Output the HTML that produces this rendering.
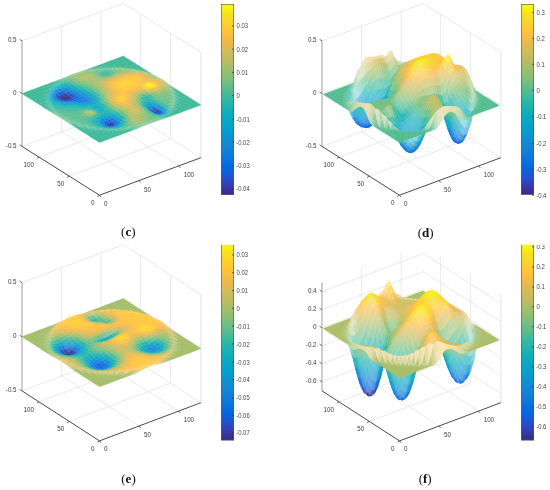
<!DOCTYPE html><html><head><meta charset="utf-8"><title>Figure</title><style>html,body{margin:0;padding:0;background:#fff}svg{display:block}text{font-family:"Liberation Sans",sans-serif}.cap{font-family:"Liberation Serif",serif;font-size:13px;fill:#111}.cap tspan{font-weight:bold}</style></head><body>
<svg width="550" height="490" viewBox="0 0 550 490">
<defs><filter id="bl" x="-5%" y="-5%" width="110%" height="110%"><feGaussianBlur stdDeviation=".55"/></filter><clipPath id="row2"><rect x="0" y="243.6" width="550" height="247"/></clipPath><clipPath id="row2b"><rect x="0" y="244.7" width="550" height="246"/></clipPath></defs>
<g fill="none"><path d="M200.9 157.7L200.9 52.2" stroke="#e4e4e4" stroke-width="1"/><path d="M139.1 180.6L61.6 131.8" stroke="#e4e4e4" stroke-width="0.8"/><path d="M61.6 131.8L61.6 26.3" stroke="#e4e4e4" stroke-width="0.8"/><path d="M69.2 176.1L170.6 138.6" stroke="#e4e4e4" stroke-width="0.8"/><path d="M170.6 138.6L170.6 33.1" stroke="#e4e4e4" stroke-width="0.8"/><path d="M178.7 165.9L101.2 117.1" stroke="#e4e4e4" stroke-width="0.8"/><path d="M101.2 117.1L101.2 11.6" stroke="#e4e4e4" stroke-width="0.8"/><path d="M39.0 157.1L140.4 119.6" stroke="#e4e4e4" stroke-width="0.8"/><path d="M140.4 119.6L140.4 14.1" stroke="#e4e4e4" stroke-width="0.8"/><path d="M22.0 146.4L123.4 108.9" stroke="#e4e4e4" stroke-width="0.8"/><path d="M123.4 108.9L200.9 157.7" stroke="#e4e4e4" stroke-width="0.8"/><path d="M22.0 93.6L123.4 56.1" stroke="#e4e4e4" stroke-width="0.8"/><path d="M123.4 56.1L200.9 104.9" stroke="#e4e4e4" stroke-width="0.8"/><path d="M22.0 40.9L123.4 3.4" stroke="#e4e4e4" stroke-width="0.8"/><path d="M123.4 3.4L200.9 52.2" stroke="#e4e4e4" stroke-width="0.8"/><path d="M22.0 40.6L22.0 146.8" stroke="#b4b4b4" stroke-width="1.3"/><path d="M22.0 146.4L99.5 195.2" stroke="#4a4a4a" stroke-width="1"/><path d="M99.5 195.2L200.9 157.7" stroke="#4a4a4a" stroke-width="1"/><path d="M99.5 195.2L101.1 197.2" stroke="#4a4a4a" stroke-width="0.8"/><path d="M99.5 195.2L97.3 196.6" stroke="#4a4a4a" stroke-width="0.8"/><path d="M139.1 180.6L140.7 182.6" stroke="#4a4a4a" stroke-width="0.8"/><path d="M69.2 176.1L67.0 177.5" stroke="#4a4a4a" stroke-width="0.8"/><path d="M178.7 165.9L180.3 167.9" stroke="#4a4a4a" stroke-width="0.8"/><path d="M39.0 157.1L36.8 158.5" stroke="#4a4a4a" stroke-width="0.8"/><path d="M22.0 146.4L19.6 144.8" stroke="#4a4a4a" stroke-width="0.8"/><path d="M22.0 93.6L19.6 92.0" stroke="#4a4a4a" stroke-width="0.8"/><path d="M22.0 40.9L19.6 39.3" stroke="#4a4a4a" stroke-width="0.8"/></g><g fill="currentColor" stroke="currentColor" stroke-width=".4" stroke-linejoin="round" filter="url(#bl)"><path color="#40ba99" d="M122.7 58.8l3.1-1.1l-2.4-1.6l-3.2 1.2zM119.5 60l3.2-1.2l-2.5-1.5l-3.1 1.2zM116.3 61.2l3.2-1.2l-2.4-1.5l-3.2 1.2zM113.1 62.4l3.2-1.2l-2.4-1.5l-3.2 1.1zM110 63.5l3.1-1.1l-2.4-1.6l-3.1 1.2zM106.8 64.7l3.2-1.2l-2.4-1.5l-3.2 1.2zM103.6 65.9l3.2-1.2l-2.4-1.5l-3.2 1.2zM100.5 67l3.1-1.1l-2.4-1.5l-3.1 1.1z"/><path color="#41bb99" d="M97.3 68.2l3.2-1.2l-2.4-1.5l-3.2 1.2z"/><path color="#46bc9b" d="M94.1 69.2l3.2-1l-2.4-1.5l-3.2 1.2z"/><path color="#58c19d" d="M91 70l3.1-0.8l-2.4-1.3l-3.2 1.1z"/><path color="#73c79e" d="M87.8 71l3.2-1l-2.5-1l-3.1 1.2z"/><path color="#8bcc9c" d="M84.6 72l3.2-1l-2.4-0.8l-3.2 1z"/><path color="#9bcd98" d="M81.5 73.1l3.1-1.1l-2.4-0.8l-3.2 1z"/><path color="#a3cd93" d="M78.3 74.2l3.2-1.1l-2.5-0.9l-3.1 1z"/><path color="#a4cc91" d="M75.1 75.4l3.2-1.2l-2.4-1l-3.2 1.1z"/><path color="#9fcc93" d="M72 76.7l3.1-1.3l-2.4-1.1l-3.2 1.3z"/><path color="#95cd99" d="M68.8 78.1l3.2-1.4l-2.5-1.1l-3.1 1.4z"/><path color="#87cca0" d="M65.6 79.6l3.2-1.5l-2.4-1.1l-3.2 1.3z"/><path color="#75caa7" d="M62.4 81l3.2-1.4l-2.4-1.3l-3.2 1.3z"/><path color="#61c6a7" d="M59.3 82.4l3.1-1.4l-2.4-1.4l-3.1 1.2z"/><path color="#4fc0a2" d="M56.1 83.6l3.2-1.2l-2.4-1.6l-3.2 1.1z"/><path color="#45bc9b" d="M52.9 84.6l3.2-1l-2.4-1.7l-3.2 1.2z"/><path color="#41bb99" d="M49.8 85.8l3.1-1.2l-2.4-1.5l-3.2 1.2z"/><path color="#40ba99" d="M46.6 87l3.2-1.2l-2.5-1.5l-3.1 1.1zM43.4 88.1l3.2-1.1l-2.4-1.6l-3.2 1.2zM40.3 89.3l3.1-1.2l-2.4-1.5l-3.2 1.2zM37.1 90.5l3.2-1.2l-2.5-1.5l-3.1 1.2zM33.9 91.7l3.2-1.2l-2.4-1.5l-3.2 1.1zM30.8 92.8l3.1-1.1l-2.4-1.6l-3.2 1.2zM27.6 94l3.2-1.2l-2.5-1.5l-3.1 1.2zM24.4 95.2l3.2-1.2l-2.4-1.5l-3.2 1.1zM125.1 60.4l3.1-1.2l-2.4-1.5l-3.1 1.1zM121.9 61.5l3.2-1.1l-2.4-1.6l-3.2 1.2zM118.7 62.7l3.2-1.2l-2.4-1.5l-3.2 1.2zM115.6 63.9l3.1-1.2l-2.4-1.5l-3.2 1.2zM112.4 65.1l3.2-1.2l-2.5-1.5l-3.1 1.1zM109.2 66.2l3.2-1.1l-2.4-1.6l-3.2 1.2z"/><path color="#41ba99" d="M106.1 67.4l3.1-1.2l-2.4-1.5l-3.2 1.2z"/><path color="#46bc9b" d="M102.9 68.4l3.2-1l-2.5-1.5l-3.1 1.1z"/><path color="#5fc39f" d="M99.7 69.3l3.2-0.9l-2.4-1.4l-3.2 1.2z"/><path color="#7fcba2" d="M96.6 70.4l3.1-1.1l-2.4-1.1l-3.2 1z"/><path color="#8dcc9b" d="M93.4 71.5l3.2-1.1l-2.5-1.2l-3.1 0.8z"/><path color="#8fc98f" d="M90.2 72.4l3.2-0.9l-2.4-1.5l-3.2 1z"/><path color="#95c584" d="M87.1 73.4l3.1-1l-2.4-1.4l-3.2 1z"/><path color="#9ec47c" d="M83.9 74.4l3.2-1l-2.5-1.4l-3.1 1.1z"/><path color="#a5c377" d="M80.7 75.5l3.2-1.1l-2.4-1.3l-3.2 1.1z"/><path color="#a5c276" d="M77.5 76.7l3.2-1.2l-2.4-1.3l-3.2 1.2z"/><path color="#9dc379" d="M74.4 78.1l3.1-1.4l-2.4-1.3l-3.1 1.3z"/><path color="#8cc381" d="M71.2 79.6l3.2-1.5l-2.4-1.4l-3.2 1.4z"/><path color="#76c38d" d="M68 81.2l3.2-1.6l-2.4-1.5l-3.2 1.5z"/><path color="#61c39c" d="M64.9 82.7l3.1-1.5l-2.4-1.6l-3.2 1.4z"/><path color="#55c3ad" d="M61.7 84.3l3.2-1.6l-2.5-1.7l-3.1 1.4z"/><path color="#54c5ba" d="M58.5 85.7l3.2-1.4l-2.4-1.9l-3.2 1.2z"/><path color="#52c4bc" d="M55.4 87l3.1-1.3l-2.4-2.1l-3.2 1z"/><path color="#4ac0ac" d="M52.2 87.8l3.2-0.8l-2.5-2.4l-3.1 1.2z"/><path color="#44bc9c" d="M49 88.5l3.2-0.7l-2.4-2l-3.2 1.2z"/><path color="#41ba99" d="M45.9 89.7l3.1-1.2l-2.4-1.5l-3.2 1.1z"/><path color="#40ba99" d="M42.7 90.8l3.2-1.1l-2.5-1.6l-3.1 1.2zM39.5 92l3.2-1.2l-2.4-1.5l-3.2 1.2zM36.3 93.2l3.2-1.2l-2.4-1.5l-3.2 1.2zM33.2 94.4l3.1-1.2l-2.4-1.5l-3.1 1.1zM30 95.5l3.2-1.1l-2.4-1.6l-3.2 1.2zM26.8 96.7l3.2-1.2l-2.4-1.5l-3.2 1.2zM127.5 61.9l3.2-1.2l-2.5-1.5l-3.1 1.2zM124.3 63.1l3.2-1.2l-2.4-1.5l-3.2 1.1zM121.2 64.2l3.1-1.1l-2.4-1.6l-3.2 1.2zM118 65.4l3.2-1.2l-2.5-1.5l-3.1 1.2zM114.8 66.6l3.2-1.2l-2.4-1.5l-3.2 1.2z"/><path color="#42bb99" d="M111.7 67.7l3.1-1.1l-2.4-1.5l-3.2 1.1z"/><path color="#52c09d" d="M108.5 68.5l3.2-0.8l-2.5-1.5l-3.1 1.2z"/><path color="#78caa3" d="M105.3 69.8l3.2-1.3l-2.4-1.1l-3.2 1z"/><path color="#7dcba1" d="M102.1 71.1l3.2-1.3l-2.4-1.4l-3.2 0.9z"/><path color="#71c596" d="M99 72.1l3.1-1l-2.4-1.8l-3.1 1.1z"/><path color="#75c38b" d="M95.8 73l3.2-0.9l-2.4-1.7l-3.2 1.1z"/><path color="#86c281" d="M92.6 73.9l3.2-0.9l-2.4-1.5l-3.2 0.9z"/><path color="#97c27a" d="M89.5 74.8l3.1-0.9l-2.4-1.5l-3.1 1z"/><path color="#a6c274" d="M86.3 75.8l3.2-1l-2.4-1.4l-3.2 1z"/><path color="#afc170" d="M83.1 76.9l3.2-1.1l-2.4-1.4l-3.2 1.1z"/><path color="#b0c170" d="M80 78.1l3.1-1.2l-2.4-1.4l-3.2 1.2z"/><path color="#a5c274" d="M76.8 79.6l3.2-1.5l-2.5-1.4l-3.1 1.4z"/><path color="#8ec27d" d="M73.6 81.2l3.2-1.6l-2.4-1.5l-3.2 1.5z"/><path color="#6cc18c" d="M70.5 82.9l3.1-1.7l-2.4-1.6l-3.2 1.6z"/><path color="#47bda0" d="M67.3 84.6l3.2-1.7l-2.5-1.7l-3.1 1.5z"/><path color="#2bb7b2" d="M64.1 86.4l3.2-1.8l-2.4-1.9l-3.2 1.6z"/><path color="#1cb2c1" d="M61 88l3.1-1.6l-2.4-2.1l-3.2 1.4z"/><path color="#23b0cc" d="M57.8 89.4l3.2-1.4l-2.5-2.3l-3.1 1.3z"/><path color="#39b7d2" d="M54.6 90.5l3.2-1.1l-2.4-2.4l-3.2 0.8z"/><path color="#44bdc6" d="M51.4 91.4l3.2-0.9l-2.4-2.7l-3.2 0.7z"/><path color="#44bda6" d="M48.3 91.2l3.1 0.2l-2.4-2.9l-3.1 1.2z"/><path color="#41bb99" d="M45.1 92.4l3.2-1.2l-2.4-1.5l-3.2 1.1z"/><path color="#40ba99" d="M41.9 93.5l3.2-1.1l-2.4-1.6l-3.2 1.2zM38.8 94.7l3.1-1.2l-2.4-1.5l-3.2 1.2zM35.6 95.9l3.2-1.2l-2.5-1.5l-3.1 1.2zM32.4 97.1l3.2-1.2l-2.4-1.5l-3.2 1.1zM29.3 98.2l3.1-1.1l-2.4-1.6l-3.2 1.2zM129.9 63.4l3.2-1.2l-2.4-1.5l-3.2 1.2zM126.8 64.6l3.1-1.2l-2.4-1.5l-3.2 1.2zM123.6 65.8l3.2-1.2l-2.5-1.5l-3.1 1.1zM120.4 66.9l3.2-1.1l-2.4-1.6l-3.2 1.2z"/><path color="#43bb9a" d="M117.2 68l3.2-1.1l-2.4-1.5l-3.2 1.2z"/><path color="#61c39e" d="M114.1 68.7l3.1-0.7l-2.4-1.4l-3.1 1.1z"/><path color="#87cda1" d="M110.9 70l3.2-1.3l-2.4-1l-3.2 0.8z"/><path color="#71c69b" d="M107.7 71.5l3.2-1.5l-2.4-1.5l-3.2 1.3z"/><path color="#54c09b" d="M104.6 72.9l3.1-1.4l-2.4-1.7l-3.2 1.3z"/><path color="#4fbf9b" d="M101.4 74l3.2-1.1l-2.5-1.8l-3.1 1z"/><path color="#63c190" d="M98.2 74.7l3.2-0.7l-2.4-1.9l-3.2 0.9z"/><path color="#83c282" d="M95.1 75.4l3.1-0.7l-2.4-1.7l-3.2 0.9z"/><path color="#9cc278" d="M91.9 76.3l3.2-0.9l-2.5-1.5l-3.1 0.9z"/><path color="#acc171" d="M88.7 77.3l3.2-1l-2.4-1.5l-3.2 1z"/><path color="#b5c16e" d="M85.6 78.4l3.1-1.1l-2.4-1.5l-3.2 1.1z"/><path color="#b3c16e" d="M82.4 79.7l3.2-1.3l-2.5-1.5l-3.1 1.2z"/><path color="#a5c274" d="M79.2 81.2l3.2-1.5l-2.4-1.6l-3.2 1.5z"/><path color="#89c280" d="M76.1 82.9l3.1-1.7l-2.4-1.6l-3.2 1.6z"/><path color="#5ec093" d="M72.9 84.7l3.2-1.8l-2.5-1.7l-3.1 1.7z"/><path color="#32b9ad" d="M69.7 86.6l3.2-1.9l-2.4-1.8l-3.2 1.7z"/><path color="#17aec3" d="M66.5 88.6l3.2-2l-2.4-2l-3.2 1.8z"/><path color="#15a0d1" d="M63.4 90.4l3.1-1.8l-2.4-2.2l-3.1 1.6z"/><path color="#1b92d5" d="M60.2 92l3.2-1.6l-2.4-2.4l-3.2 1.4z"/><path color="#208fd7" d="M57 93.1l3.2-1.1l-2.4-2.6l-3.2 1.1z"/><path color="#309dd9" d="M53.9 93.8l3.1-0.7l-2.4-2.6l-3.2 0.9z"/><path color="#42b4d5" d="M50.7 94.4l3.2-0.6l-2.5-2.4l-3.1-0.2z"/><path color="#44bdb1" d="M47.5 94.1l3.2 0.3l-2.4-3.2l-3.2 1.2z"/><path color="#42bb9a" d="M44.4 95.1l3.1-1l-2.4-1.7l-3.2 1.1z"/><path color="#40ba99" d="M41.2 96.2l3.2-1.1l-2.5-1.6l-3.1 1.2zM38 97.4l3.2-1.2l-2.4-1.5l-3.2 1.2zM34.9 98.6l3.1-1.2l-2.4-1.5l-3.2 1.2zM31.7 99.8l3.2-1.2l-2.5-1.5l-3.1 1.1zM132.3 64.9l3.2-1.1l-2.4-1.6l-3.2 1.2zM129.2 66.1l3.1-1.2l-2.4-1.5l-3.1 1.2zM126 67.3l3.2-1.2l-2.4-1.5l-3.2 1.2z"/><path color="#43bb9a" d="M122.8 68.3l3.2-1l-2.4-1.5l-3.2 1.1z"/><path color="#68c59e" d="M119.7 68.9l3.1-0.6l-2.4-1.4l-3.2 1.1z"/><path color="#92cd9b" d="M116.5 70.1l3.2-1.2l-2.5-0.9l-3.1 0.7z"/><path color="#7dc58e" d="M113.3 71.5l3.2-1.4l-2.4-1.4l-3.2 1.3z"/><path color="#5ec094" d="M110.2 73.1l3.1-1.6l-2.4-1.5l-3.2 1.5z"/><path color="#42bca3" d="M107 74.6l3.2-1.5l-2.5-1.6l-3.1 1.4z"/><path color="#3cbba6" d="M103.8 75.6l3.2-1l-2.4-1.7l-3.2 1.1z"/><path color="#56bf98" d="M100.7 76.2l3.1-0.6l-2.4-1.6l-3.2 0.7z"/><path color="#80c283" d="M97.5 76.9l3.2-0.7l-2.5-1.5l-3.1 0.7z"/><path color="#9dc277" d="M94.3 77.8l3.2-0.9l-2.4-1.5l-3.2 0.9z"/><path color="#adc171" d="M91.1 78.8l3.2-1l-2.4-1.5l-3.2 1z"/><path color="#b3c16f" d="M88 80l3.1-1.2l-2.4-1.5l-3.1 1.1z"/><path color="#aec170" d="M84.8 81.4l3.2-1.4l-2.4-1.6l-3.2 1.3z"/><path color="#9dc277" d="M81.6 82.9l3.2-1.5l-2.4-1.7l-3.2 1.5z"/><path color="#7bc286" d="M78.5 84.7l3.1-1.8l-2.4-1.7l-3.1 1.7z"/><path color="#4abd9e" d="M75.3 86.6l3.2-1.9l-2.4-1.8l-3.2 1.8z"/><path color="#1eb2bb" d="M72.1 88.7l3.2-2.1l-2.4-1.9l-3.2 1.9z"/><path color="#15a0d0" d="M69 90.8l3.1-2.1l-2.4-2.1l-3.2 2z"/><path color="#1c86d9" d="M65.8 93l3.2-2.2l-2.5-2.2l-3.1 1.8z"/><path color="#1e70dc" d="M62.6 94.9l3.2-1.9l-2.4-2.6l-3.2 1.6z"/><path color="#2264d4" d="M59.5 96l3.1-1.1l-2.4-2.9l-3.2 1.1z"/><path color="#1a74de" d="M56.3 96.3l3.2-0.3l-2.5-2.9l-3.1 0.7z"/><path color="#298fda" d="M53.1 96.5l3.2-0.2l-2.4-2.5l-3.2 0.6z"/><path color="#3fb2d7" d="M50 96.9l3.1-0.4l-2.4-2.1l-3.2-0.3z"/><path color="#46beb3" d="M46.8 96.8l3.2 0.1l-2.5-2.8l-3.1 1z"/><path color="#42bb9a" d="M43.6 97.8l3.2-1l-2.4-1.7l-3.2 1.1z"/><path color="#40ba99" d="M40.4 98.9l3.2-1.1l-2.4-1.6l-3.2 1.2zM37.3 100.1l3.1-1.2l-2.4-1.5l-3.1 1.2zM34.1 101.3l3.2-1.2l-2.4-1.5l-3.2 1.2zM134.8 66.5l3.1-1.2l-2.4-1.5l-3.2 1.1zM131.6 67.6l3.2-1.1l-2.5-1.6l-3.1 1.2z"/><path color="#42bb99" d="M128.4 68.8l3.2-1.2l-2.4-1.5l-3.2 1.2z"/><path color="#64c49d" d="M125.3 69.2l3.1-0.4l-2.4-1.5l-3.2 1z"/><path color="#99cd98" d="M122.1 70.3l3.2-1.1l-2.5-0.9l-3.1 0.6z"/><path color="#8fc585" d="M118.9 71.4l3.2-1.1l-2.4-1.4l-3.2 1.2z"/><path color="#83c282" d="M115.8 72.8l3.1-1.4l-2.4-1.3l-3.2 1.4z"/><path color="#6bc18d" d="M112.6 74.3l3.2-1.5l-2.5-1.3l-3.1 1.6z"/><path color="#4dbe9c" d="M109.4 75.7l3.2-1.4l-2.4-1.2l-3.2 1.5z"/><path color="#46bda0" d="M106.2 76.7l3.2-1l-2.4-1.1l-3.2 1z"/><path color="#61c092" d="M103.1 77.5l3.1-0.8l-2.4-1.1l-3.1 0.6z"/><path color="#89c27f" d="M99.9 78.3l3.2-0.8l-2.4-1.3l-3.2 0.7z"/><path color="#a2c275" d="M96.7 79.3l3.2-1l-2.4-1.4l-3.2 0.9z"/><path color="#acc171" d="M93.6 80.4l3.1-1.1l-2.4-1.5l-3.2 1z"/><path color="#adc171" d="M90.4 81.7l3.2-1.3l-2.5-1.6l-3.1 1.2z"/><path color="#a4c274" d="M87.2 83.1l3.2-1.4l-2.4-1.7l-3.2 1.4z"/><path color="#8fc27d" d="M84.1 84.7l3.1-1.6l-2.4-1.7l-3.2 1.5z"/><path color="#68c18e" d="M80.9 86.4l3.2-1.7l-2.5-1.8l-3.1 1.8z"/><path color="#36baaa" d="M77.7 88.4l3.2-2l-2.4-1.7l-3.2 1.9z"/><path color="#15acc7" d="M74.6 90.6l3.1-2.2l-2.4-1.8l-3.2 2.1z"/><path color="#1c90d6" d="M71.4 92.9l3.2-2.3l-2.5-1.9l-3.1 2.1z"/><path color="#1e6cda" d="M68.2 95.4l3.2-2.5l-2.4-2.1l-3.2 2.2z"/><path color="#4544a0" d="M65.1 97.8l3.1-2.4l-2.4-2.4l-3.2 1.9z"/><path color="#3f368f" d="M61.9 98.7l3.2-0.9l-2.5-2.9l-3.1 1.1z"/><path color="#3946ae" d="M58.7 98.5l3.2 0.2l-2.4-2.7l-3.2 0.3z"/><path color="#1875de" d="M55.5 98.5l3.2 0l-2.4-2.2l-3.2 0.2z"/><path color="#2597d7" d="M52.4 98.7l3.1-0.2l-2.4-2l-3.1 0.4z"/><path color="#3eb9d2" d="M49.2 99.2l3.2-0.5l-2.4-1.8l-3.2-0.1z"/><path color="#48bfac" d="M46 99.3l3.2-0.1l-2.4-2.4l-3.2 1z"/><path color="#42bb99" d="M42.9 100.5l3.1-1.2l-2.4-1.5l-3.2 1.1z"/><path color="#40ba99" d="M39.7 101.6l3.2-1.1l-2.5-1.6l-3.1 1.2zM36.5 102.8l3.2-1.2l-2.4-1.5l-3.2 1.2zM137.2 68l3.2-1.2l-2.5-1.5l-3.1 1.2z"/><path color="#41ba99" d="M134 69.2l3.2-1.2l-2.4-1.5l-3.2 1.1z"/><path color="#55c09b" d="M130.8 69.5l3.2-0.3l-2.4-1.6l-3.2 1.2z"/><path color="#9ccd98" d="M127.7 70.5l3.1-1l-2.4-0.7l-3.1 0.4z"/><path color="#9bc581" d="M124.5 71.5l3.2-1l-2.4-1.3l-3.2 1.1z"/><path color="#9bc279" d="M121.3 72.6l3.2-1.1l-2.4-1.2l-3.2 1.1z"/><path color="#99c279" d="M118.2 73.8l3.1-1.2l-2.4-1.2l-3.1 1.4z"/><path color="#8dc27e" d="M115 75.1l3.2-1.3l-2.4-1l-3.2 1.5z"/><path color="#7bc285" d="M111.8 76.4l3.2-1.3l-2.4-0.8l-3.2 1.4z"/><path color="#78c287" d="M108.7 77.5l3.1-1.1l-2.4-0.7l-3.2 1z"/><path color="#8ac27f" d="M105.5 78.5l3.2-1l-2.5-0.8l-3.1 0.8z"/><path color="#a0c276" d="M102.3 79.5l3.2-1l-2.4-1l-3.2 0.8z"/><path color="#acc171" d="M99.2 80.7l3.1-1.2l-2.4-1.2l-3.2 1z"/><path color="#aec171" d="M96 81.9l3.2-1.2l-2.5-1.4l-3.1 1.1z"/><path color="#a8c173" d="M92.8 83.3l3.2-1.4l-2.4-1.5l-3.2 1.3z"/><path color="#9ac279" d="M89.7 84.8l3.1-1.5l-2.4-1.6l-3.2 1.4z"/><path color="#80c283" d="M86.5 86.4l3.2-1.6l-2.5-1.7l-3.1 1.6z"/><path color="#57bf97" d="M83.3 88.2l3.2-1.8l-2.4-1.7l-3.2 1.7z"/><path color="#29b6b3" d="M80.1 90.1l3.2-1.9l-2.4-1.8l-3.2 2z"/><path color="#14a5cd" d="M77 92.3l3.1-2.2l-2.4-1.7l-3.1 2.2z"/><path color="#1c86d9" d="M73.8 94.6l3.2-2.3l-2.4-1.7l-3.2 2.3z"/><path color="#2a58c8" d="M70.6 97l3.2-2.4l-2.4-1.7l-3.2 2.5z"/><path color="#3f358d" d="M67.5 99.3l3.1-2.3l-2.4-1.6l-3.1 2.4zM64.3 100.2l3.2-0.9l-2.4-1.5l-3.2 0.9z"/><path color="#3f3894" d="M61.1 100.1l3.2 0.1l-2.4-1.5l-3.2-0.2z"/><path color="#1d69da" d="M58 100.1l3.1 0l-2.4-1.6l-3.2 0z"/><path color="#1e8cd7" d="M54.8 100.3l3.2-0.2l-2.5-1.6l-3.1 0.2z"/><path color="#20aad1" d="M51.6 100.7l3.2-0.4l-2.4-1.6l-3.2 0.5z"/><path color="#48c1c6" d="M48.5 101.4l3.1-0.7l-2.4-1.5l-3.2 0.1z"/><path color="#49bea2" d="M45.3 102l3.2-0.6l-2.5-2.1l-3.1 1.2z"/><path color="#41ba99" d="M42.1 103.2l3.2-1.2l-2.4-1.5l-3.2 1.1z"/><path color="#40ba99" d="M39 104.3l3.1-1.1l-2.4-1.6l-3.2 1.2zM139.6 69.5l3.2-1.1l-2.4-1.6l-3.2 1.2z"/><path color="#46bc9a" d="M136.4 70.2l3.2-0.7l-2.4-1.5l-3.2 1.2z"/><path color="#90cb99" d="M133.3 70.7l3.1-0.5l-2.4-1l-3.2 0.3z"/><path color="#a7c783" d="M130.1 71.7l3.2-1l-2.5-1.2l-3.1 1z"/><path color="#a9c273" d="M126.9 72.7l3.2-1l-2.4-1.2l-3.2 1z"/><path color="#b0c170" d="M123.8 73.8l3.1-1.1l-2.4-1.2l-3.2 1.1z"/><path color="#b4c16e" d="M120.6 74.9l3.2-1.1l-2.5-1.2l-3.1 1.2z"/><path color="#b3c16f" d="M117.4 76.1l3.2-1.2l-2.4-1.1l-3.2 1.3z"/><path color="#afc170" d="M114.3 77.2l3.1-1.1l-2.4-1l-3.2 1.3zM111.1 78.4l3.2-1.2l-2.5-0.8l-3.1 1.1z"/><path color="#b5c16e" d="M107.9 79.5l3.2-1.1l-2.4-0.9l-3.2 1z"/><path color="#bbc06b" d="M104.8 80.7l3.1-1.2l-2.4-1l-3.2 1zM101.6 82l3.2-1.3l-2.5-1.2l-3.1 1.2z"/><path color="#b4c16e" d="M98.4 83.4l3.2-1.4l-2.4-1.3l-3.2 1.2z"/><path color="#a8c173" d="M95.2 84.8l3.2-1.4l-2.4-1.5l-3.2 1.4z"/><path color="#94c27b" d="M92.1 86.4l3.1-1.6l-2.4-1.5l-3.1 1.5z"/><path color="#75c288" d="M88.9 88l3.2-1.6l-2.4-1.6l-3.2 1.6z"/><path color="#4abe9e" d="M85.7 89.8l3.2-1.8l-2.4-1.6l-3.2 1.8z"/><path color="#20b4b9" d="M82.6 91.8l3.1-2l-2.4-1.6l-3.2 1.9z"/><path color="#15a1d0" d="M79.4 93.9l3.2-2.1l-2.5-1.7l-3.1 2.2z"/><path color="#1c83da" d="M76.2 96l3.2-2.1l-2.4-1.6l-3.2 2.3z"/><path color="#255ed2" d="M73.1 98l3.1-2l-2.4-1.4l-3.2 2.4z"/><path color="#3f3894" d="M69.9 99.7l3.2-1.7l-2.5-1l-3.1 2.3z"/><path color="#3f358d" d="M66.7 100.7l3.2-1l-2.4-0.4l-3.2 0.9z"/><path color="#3c43a9" d="M63.6 101.1l3.1-0.4l-2.4-0.5l-3.2-0.1z"/><path color="#1771df" d="M60.4 101.3l3.2-0.2l-2.5-1l-3.1 0z"/><path color="#1d8ed6" d="M57.2 101.7l3.2-0.4l-2.4-1.2l-3.2 0.2z"/><path color="#14a6ce" d="M54 102.2l3.2-0.5l-2.4-1.4l-3.2 0.4z"/><path color="#2fb9c3" d="M50.9 102.9l3.1-0.7l-2.4-1.5l-3.1 0.7z"/><path color="#56c5b7" d="M47.7 103.6l3.2-0.7l-2.4-1.5l-3.2 0.6z"/><path color="#45bc9b" d="M44.5 104.7l3.2-1.1l-2.4-1.6l-3.2 1.2z"/><path color="#40ba99" d="M41.4 105.8l3.1-1.1l-2.4-1.5l-3.1 1.1z"/><path color="#41bb99" d="M142 71l3.2-1.1l-2.4-1.5l-3.2 1.1z"/><path color="#6ac49a" d="M138.9 71l3.1 0l-2.4-1.5l-3.2 0.7z"/><path color="#b2cb8a" d="M135.7 71.9l3.2-0.9l-2.5-0.8l-3.1 0.5z"/><path color="#b6c270" d="M132.5 72.8l3.2-0.9l-2.4-1.2l-3.2 1z"/><path color="#c1c069" d="M129.4 73.8l3.1-1l-2.4-1.1l-3.2 1z"/><path color="#c9bf66" d="M126.2 74.9l3.2-1.1l-2.5-1.1l-3.1 1.1z"/><path color="#cebf63" d="M123 76l3.2-1.1l-2.4-1.1l-3.2 1.1z"/><path color="#d1be62" d="M119.8 77.1l3.2-1.1l-2.4-1.1l-3.2 1.2z"/><path color="#d3be61" d="M116.7 78.2l3.1-1.1l-2.4-1l-3.1 1.1z"/><path color="#d5be61" d="M113.5 79.4l3.2-1.2l-2.4-1l-3.2 1.2z"/><path color="#d5be60" d="M110.3 80.6l3.2-1.2l-2.4-1l-3.2 1.1z"/><path color="#d3be62" d="M107.2 81.9l3.1-1.3l-2.4-1.1l-3.1 1.2z"/><path color="#cbbf65" d="M104 83.3l3.2-1.4l-2.4-1.2l-3.2 1.3z"/><path color="#bfc06a" d="M100.8 84.7l3.2-1.4l-2.4-1.3l-3.2 1.4z"/><path color="#adc171" d="M97.7 86.3l3.1-1.6l-2.4-1.3l-3.2 1.4z"/><path color="#95c27b" d="M94.5 87.9l3.2-1.6l-2.5-1.5l-3.1 1.6z"/><path color="#71c18a" d="M91.3 89.6l3.2-1.7l-2.4-1.5l-3.2 1.6z"/><path color="#42bca3" d="M88.2 91.5l3.1-1.9l-2.4-1.6l-3.2 1.8z"/><path color="#1bb1be" d="M85 93.5l3.2-2l-2.5-1.7l-3.1 2z"/><path color="#169ed2" d="M81.8 95.5l3.2-2l-2.4-1.7l-3.2 2.1z"/><path color="#1d84da" d="M78.7 97.4l3.1-1.9l-2.4-1.6l-3.2 2.1z"/><path color="#156de0" d="M75.5 99l3.2-1.6l-2.5-1.4l-3.1 2z"/><path color="#3055c9" d="M72.3 100.4l3.2-1.4l-2.4-1l-3.2 1.7z"/><path color="#3252c3" d="M69.1 101.3l3.2-0.9l-2.4-0.7l-3.2 1z"/><path color="#1b68db" d="M66 101.9l3.1-0.6l-2.4-0.6l-3.1 0.4z"/><path color="#1b80dc" d="M62.8 102.4l3.2-0.5l-2.4-0.8l-3.2 0.2z"/><path color="#1a97d4" d="M59.6 103l3.2-0.6l-2.4-1.1l-3.2 0.4z"/><path color="#13aaca" d="M56.5 103.6l3.1-0.6l-2.4-1.3l-3.2 0.5z"/><path color="#21b4bc" d="M53.3 104.4l3.2-0.8l-2.5-1.4l-3.1 0.7z"/><path color="#51c4ba" d="M50.1 105.3l3.2-0.9l-2.4-1.5l-3.2 0.7z"/><path color="#52c1a6" d="M47 106.2l3.1-0.9l-2.4-1.7l-3.2 1.1z"/><path color="#41bb99" d="M43.8 107.4l3.2-1.2l-2.5-1.5l-3.1 1.1z"/><path color="#47bc9a" d="M144.4 72.1l3.2-0.7l-2.4-1.5l-3.2 1.1z"/><path color="#9fcc94" d="M141.3 72.3l3.1-0.2l-2.4-1.1l-3.1 0z"/><path color="#bec476" d="M138.1 73.1l3.2-0.8l-2.4-1.3l-3.2 0.9z"/><path color="#ccbf64" d="M134.9 73.9l3.2-0.8l-2.4-1.2l-3.2 0.9z"/><path color="#dabe5e" d="M131.8 74.9l3.1-1l-2.4-1.1l-3.1 1z"/><path color="#e3bd5a" d="M128.6 75.9l3.2-1l-2.4-1.1l-3.2 1.1z"/><path color="#e7bd58" d="M125.4 77.1l3.2-1.2l-2.4-1l-3.2 1.1z"/><path color="#ebbd56" d="M122.3 78.2l3.1-1.1l-2.4-1.1l-3.2 1.1z"/><path color="#edbd55" d="M119.1 79.3l3.2-1.1l-2.5-1.1l-3.1 1.1z"/><path color="#efbd54" d="M115.9 80.5l3.2-1.2l-2.4-1.1l-3.2 1.2z"/><path color="#eebd55" d="M112.8 81.7l3.1-1.2l-2.4-1.1l-3.2 1.2z"/><path color="#e8bd58" d="M109.6 83.1l3.2-1.4l-2.5-1.1l-3.1 1.3z"/><path color="#ddbd5d" d="M106.4 84.5l3.2-1.4l-2.4-1.2l-3.2 1.4z"/><path color="#cdbf64" d="M103.3 86l3.1-1.5l-2.4-1.2l-3.2 1.4z"/><path color="#b7c06d" d="M100.1 87.6l3.2-1.6l-2.5-1.3l-3.1 1.6z"/><path color="#9ac278" d="M96.9 89.3l3.2-1.7l-2.4-1.3l-3.2 1.6z"/><path color="#70c18a" d="M93.8 91.2l3.1-1.9l-2.4-1.4l-3.2 1.7z"/><path color="#3cbba7" d="M90.6 93.2l3.2-2l-2.5-1.6l-3.1 1.9z"/><path color="#17aec3" d="M87.4 95.2l3.2-2l-2.4-1.7l-3.2 2z"/><path color="#1899d3" d="M84.2 97.2l3.2-2l-2.4-1.7l-3.2 2z"/><path color="#1d83da" d="M81.1 98.9l3.1-1.7l-2.4-1.7l-3.1 1.9z"/><path color="#1375e1" d="M77.9 100.3l3.2-1.4l-2.4-1.5l-3.2 1.6z"/><path color="#1170e2" d="M74.7 101.3l3.2-1l-2.4-1.3l-3.2 1.4z"/><path color="#1375e1" d="M71.6 102.1l3.1-0.8l-2.4-0.9l-3.2 0.9z"/><path color="#1b80db" d="M68.4 102.8l3.2-0.7l-2.5-0.8l-3.1 0.6z"/><path color="#1d91d5" d="M65.2 103.5l3.2-0.7l-2.4-0.9l-3.2 0.5z"/><path color="#14a3d0" d="M62.1 104.2l3.1-0.7l-2.4-1.1l-3.2 0.6z"/><path color="#15aec4" d="M58.9 104.9l3.2-0.7l-2.5-1.2l-3.1 0.6z"/><path color="#23b5b7" d="M55.7 105.8l3.2-0.9l-2.4-1.3l-3.2 0.8z"/><path color="#41beb1" d="M52.6 106.7l3.1-0.9l-2.4-1.4l-3.2 0.9z"/><path color="#63c8b1" d="M49.4 107.7l3.2-1l-2.5-1.4l-3.1 0.9z"/><path color="#45bc9b" d="M46.2 108.9l3.2-1.2l-2.4-1.5l-3.2 1.2z"/><path color="#5fc19a" d="M146.9 72.9l3.1 0l-2.4-1.5l-3.2 0.7z"/><path color="#bbcb88" d="M143.7 73.6l3.2-0.7l-2.5-0.8l-3.1 0.2z"/><path color="#cbc067" d="M140.5 74.3l3.2-0.7l-2.4-1.3l-3.2 0.8z"/><path color="#e1bd5b" d="M137.4 75.1l3.1-0.8l-2.4-1.2l-3.2 0.8z"/><path color="#f1bd53" d="M134.2 76.1l3.2-1l-2.5-1.2l-3.1 1z"/><path color="#f8bf4d" d="M131 77.1l3.2-1l-2.4-1.2l-3.2 1z"/><path color="#fac04a" d="M127.9 78.3l3.1-1.2l-2.4-1.2l-3.2 1.2z"/><path color="#fcc148" d="M124.7 79.4l3.2-1.1l-2.5-1.2l-3.1 1.1z"/><path color="#fdc346" d="M121.5 80.5l3.2-1.1l-2.4-1.2l-3.2 1.1z"/><path color="#fdc345" d="M118.4 81.7l3.1-1.2l-2.4-1.2l-3.2 1.2z"/><path color="#fdc247" d="M115.2 82.9l3.2-1.2l-2.5-1.2l-3.1 1.2z"/><path color="#f8bf4d" d="M112 84.3l3.2-1.4l-2.4-1.2l-3.2 1.4z"/><path color="#edbd55" d="M108.8 85.8l3.2-1.5l-2.4-1.2l-3.2 1.4z"/><path color="#dabe5e" d="M105.7 87.4l3.1-1.6l-2.4-1.3l-3.1 1.5z"/><path color="#c2c068" d="M102.5 89l3.2-1.6l-2.4-1.4l-3.2 1.6z"/><path color="#a2c275" d="M99.3 90.8l3.2-1.8l-2.4-1.4l-3.2 1.7z"/><path color="#72c189" d="M96.2 92.7l3.1-1.9l-2.4-1.5l-3.1 1.9z"/><path color="#38baa9" d="M93 94.8l3.2-2.1l-2.4-1.5l-3.2 2z"/><path color="#15abc7" d="M89.8 96.9l3.2-2.1l-2.4-1.6l-3.2 2z"/><path color="#1b94d5" d="M86.7 98.8l3.1-1.9l-2.4-1.7l-3.2 2z"/><path color="#1d81db" d="M83.5 100.4l3.2-1.6l-2.5-1.6l-3.1 1.7z"/><path color="#177adf" d="M80.3 101.5l3.2-1.1l-2.4-1.5l-3.2 1.4z"/><path color="#197cde" d="M77.2 102.4l3.1-0.9l-2.4-1.2l-3.2 1z"/><path color="#1e85d9" d="M74 103.1l3.2-0.7l-2.5-1.1l-3.1 0.8z"/><path color="#1c93d5" d="M70.8 103.8l3.2-0.7l-2.4-1l-3.2 0.7z"/><path color="#14a1d1" d="M67.7 104.6l3.1-0.8l-2.4-1l-3.2 0.7z"/><path color="#13acc8" d="M64.5 105.4l3.2-0.8l-2.5-1.1l-3.1 0.7z"/><path color="#1cb2bc" d="M61.3 106.3l3.2-0.9l-2.4-1.2l-3.2 0.7z"/><path color="#2bb7b1" d="M58.1 107.2l3.2-0.9l-2.4-1.4l-3.2 0.9z"/><path color="#3cbca9" d="M55 108.2l3.1-1l-2.4-1.4l-3.1 0.9z"/><path color="#65c8b0" d="M51.8 109.2l3.2-1l-2.4-1.5l-3.2 1z"/><path color="#51c0a1" d="M48.6 110.4l3.2-1.2l-2.4-1.5l-3.2 1.2z"/><path color="#82c898" d="M149.3 74.3l3.2 0.1l-2.5-1.5l-3.1 0z"/><path color="#bfc77c" d="M146.1 75l3.2-0.7l-2.4-1.4l-3.2 0.7z"/><path color="#d4be61" d="M143 75.7l3.1-0.7l-2.4-1.4l-3.2 0.7z"/><path color="#edbd55" d="M139.8 76.5l3.2-0.8l-2.5-1.4l-3.1 0.8z"/><path color="#fbc049" d="M136.6 77.4l3.2-0.9l-2.4-1.4l-3.2 1z"/><path color="#fec542" d="M133.4 78.5l3.2-1.1l-2.4-1.3l-3.2 1z"/><path color="#fec840" d="M130.3 79.6l3.1-1.1l-2.4-1.4l-3.1 1.2z"/><path color="#feca3e" d="M127.1 80.7l3.2-1.1l-2.4-1.3l-3.2 1.1z"/><path color="#fdcc3c" d="M123.9 81.8l3.2-1.1l-2.4-1.3l-3.2 1.1z"/><path color="#fdcd3b" d="M120.8 83l3.1-1.2l-2.4-1.3l-3.1 1.2z"/><path color="#fecc3c" d="M117.6 84.2l3.2-1.2l-2.4-1.3l-3.2 1.2z"/><path color="#fec642" d="M114.4 85.6l3.2-1.4l-2.4-1.3l-3.2 1.4z"/><path color="#f8bf4d" d="M111.3 87.1l3.1-1.5l-2.4-1.3l-3.2 1.5z"/><path color="#e6bd59" d="M108.1 88.7l3.2-1.6l-2.5-1.3l-3.1 1.6z"/><path color="#ccbf64" d="M104.9 90.4l3.2-1.7l-2.4-1.3l-3.2 1.6z"/><path color="#abc172" d="M101.8 92.2l3.1-1.8l-2.4-1.4l-3.2 1.8z"/><path color="#79c287" d="M98.6 94.1l3.2-1.9l-2.5-1.4l-3.1 1.9z"/><path color="#39baa8" d="M95.4 96.2l3.2-2.1l-2.4-1.4l-3.2 2.1z"/><path color="#14abc8" d="M92.3 98.3l3.1-2.1l-2.4-1.4l-3.2 2.1z"/><path color="#1c93d5" d="M89.1 100.2l3.2-1.9l-2.5-1.4l-3.1 1.9z"/><path color="#1e82da" d="M85.9 101.7l3.2-1.5l-2.4-1.4l-3.2 1.6z"/><path color="#1c7fdc" d="M82.8 102.7l3.1-1l-2.4-1.3l-3.2 1.1z"/><path color="#1f86d8" d="M79.6 103.5l3.2-0.8l-2.5-1.2l-3.1 0.9z"/><path color="#1c94d5" d="M76.4 104.1l3.2-0.6l-2.4-1.1l-3.2 0.7z"/><path color="#14a2d0" d="M73.2 104.9l3.2-0.8l-2.4-1l-3.2 0.7z"/><path color="#13acc8" d="M70.1 105.7l3.1-0.8l-2.4-1.1l-3.1 0.8z"/><path color="#1ab2be" d="M66.9 106.7l3.2-1l-2.4-1.1l-3.2 0.8z"/><path color="#26b6b4" d="M63.7 107.6l3.2-0.9l-2.4-1.3l-3.2 0.9z"/><path color="#33b9ac" d="M60.6 108.6l3.1-1l-2.4-1.3l-3.2 0.9z"/><path color="#40bca4" d="M57.4 109.6l3.2-1l-2.5-1.4l-3.1 1z"/><path color="#5ec5a8" d="M54.2 110.7l3.2-1.1l-2.4-1.4l-3.2 1z"/><path color="#62c6a7" d="M51.1 111.9l3.1-1.2l-2.4-1.5l-3.2 1.2z"/><path color="#9ccc95" d="M151.7 75.8l3.2 0l-2.4-1.4l-3.2-0.1z"/><path color="#bec473" d="M148.5 76.5l3.2-0.7l-2.4-1.5l-3.2 0.7z"/><path color="#d7be60" d="M145.4 77.3l3.1-0.8l-2.4-1.5l-3.1 0.7z"/><path color="#efbd54" d="M142.2 78.1l3.2-0.8l-2.4-1.6l-3.2 0.8z"/><path color="#fdc147" d="M139 79l3.2-0.9l-2.4-1.6l-3.2 0.9z"/><path color="#fec740" d="M135.9 80l3.1-1l-2.4-1.6l-3.2 1.1z"/><path color="#fecb3d" d="M132.7 81.1l3.2-1.1l-2.5-1.5l-3.1 1.1z"/><path color="#fdce3a" d="M129.5 82.2l3.2-1.1l-2.4-1.5l-3.2 1.1z"/><path color="#fcd137" d="M126.4 83.3l3.1-1.1l-2.4-1.5l-3.2 1.1z"/><path color="#fbd336" d="M123.2 84.4l3.2-1.1l-2.5-1.5l-3.1 1.2z"/><path color="#fcd137" d="M120 85.7l3.2-1.3l-2.4-1.4l-3.2 1.2z"/><path color="#fecc3c" d="M116.9 87.1l3.1-1.4l-2.4-1.5l-3.2 1.4z"/><path color="#fdc346" d="M113.7 88.5l3.2-1.4l-2.5-1.5l-3.1 1.5z"/><path color="#eebd55" d="M110.5 90.1l3.2-1.6l-2.4-1.4l-3.2 1.6z"/><path color="#d4be61" d="M107.4 91.8l3.1-1.7l-2.4-1.4l-3.2 1.7z"/><path color="#b3c16e" d="M104.2 93.5l3.2-1.7l-2.5-1.4l-3.1 1.8z"/><path color="#84c282" d="M101 95.5l3.2-2l-2.4-1.3l-3.2 1.9z"/><path color="#44bca2" d="M97.8 97.5l3.2-2l-2.4-1.4l-3.2 2.1z"/><path color="#18aec3" d="M94.7 99.5l3.1-2l-2.4-1.3l-3.1 2.1z"/><path color="#179bd3" d="M91.5 101.3l3.2-1.8l-2.4-1.2l-3.2 1.9z"/><path color="#1f8bd6" d="M88.3 102.7l3.2-1.4l-2.4-1.1l-3.2 1.5z"/><path color="#1f8ad7" d="M85.2 103.7l3.1-1l-2.4-1l-3.1 1z"/><path color="#1c94d5" d="M82 104.5l3.2-0.8l-2.4-1l-3.2 0.8z"/><path color="#14a2d1" d="M78.8 105.2l3.2-0.7l-2.4-1l-3.2 0.6z"/><path color="#13acc7" d="M75.7 106.1l3.1-0.9l-2.4-1.1l-3.2 0.8z"/><path color="#1bb2bd" d="M72.5 107l3.2-0.9l-2.5-1.2l-3.1 0.8z"/><path color="#26b6b4" d="M69.3 108l3.2-1l-2.4-1.3l-3.2 1z"/><path color="#32b9ad" d="M66.2 109l3.1-1l-2.4-1.3l-3.2 0.9z"/><path color="#3dbba6" d="M63 110l3.2-1l-2.5-1.4l-3.1 1z"/><path color="#47bda0" d="M59.8 111.1l3.2-1.1l-2.4-1.4l-3.2 1z"/><path color="#5ac2a0" d="M56.7 112.1l3.1-1l-2.4-1.5l-3.2 1.1z"/><path color="#70caa9" d="M53.5 113.4l3.2-1.3l-2.5-1.4l-3.1 1.2z"/><path color="#abcd91" d="M154.1 77.3l3.2-0.3l-2.4-1.2l-3.2 0z"/><path color="#bfc26e" d="M151 78l3.1-0.7l-2.4-1.5l-3.2 0.7z"/><path color="#d7be60" d="M147.8 78.8l3.2-0.8l-2.5-1.5l-3.1 0.8z"/><path color="#ecbd56" d="M144.6 79.7l3.2-0.9l-2.4-1.5l-3.2 0.8z"/><path color="#fabf4b" d="M141.5 80.7l3.1-1l-2.4-1.6l-3.2 0.9z"/><path color="#fec444" d="M138.3 81.7l3.2-1l-2.5-1.7l-3.1 1z"/><path color="#fec93f" d="M135.1 82.7l3.2-1l-2.4-1.7l-3.2 1.1z"/><path color="#fdcd3b" d="M132 83.8l3.1-1.1l-2.4-1.6l-3.2 1.1z"/><path color="#fcd137" d="M128.8 84.8l3.2-1l-2.5-1.6l-3.1 1.1z"/><path color="#fbd435" d="M125.6 86l3.2-1.2l-2.4-1.5l-3.2 1.1z"/><path color="#fbd336" d="M122.4 87.2l3.2-1.2l-2.4-1.6l-3.2 1.3z"/><path color="#fdce3a" d="M119.3 88.6l3.1-1.4l-2.4-1.5l-3.1 1.4z"/><path color="#fec543" d="M116.1 90l3.2-1.4l-2.4-1.5l-3.2 1.4z"/><path color="#f3bd51" d="M112.9 91.5l3.2-1.5l-2.4-1.5l-3.2 1.6z"/><path color="#dbbe5e" d="M109.8 93.1l3.1-1.6l-2.4-1.4l-3.1 1.7z"/><path color="#bdc06a" d="M106.6 94.9l3.2-1.8l-2.4-1.3l-3.2 1.7z"/><path color="#94c27b" d="M103.4 96.7l3.2-1.8l-2.4-1.4l-3.2 2z"/><path color="#59bf96" d="M100.3 98.6l3.1-1.9l-2.4-1.2l-3.2 2z"/><path color="#24b5b6" d="M97.1 100.5l3.2-1.9l-2.5-1.1l-3.1 2z"/><path color="#13a8cc" d="M93.9 102.3l3.2-1.8l-2.4-1l-3.2 1.8z"/><path color="#169dd3" d="M90.8 103.7l3.1-1.4l-2.4-1l-3.2 1.4z"/><path color="#179cd3" d="M87.6 104.7l3.2-1l-2.5-1l-3.1 1z"/><path color="#13a4cf" d="M84.4 105.5l3.2-0.8l-2.4-1l-3.2 0.8z"/><path color="#14acc6" d="M81.3 106.4l3.1-0.9l-2.4-1l-3.2 0.7z"/><path color="#1db3bc" d="M78.1 107.3l3.2-0.9l-2.5-1.2l-3.1 0.9z"/><path color="#29b7b3" d="M74.9 108.3l3.2-1l-2.4-1.2l-3.2 0.9z"/><path color="#34b9ab" d="M71.8 109.3l3.1-1l-2.4-1.3l-3.2 1z"/><path color="#3dbba6" d="M68.6 110.4l3.2-1.1l-2.5-1.3l-3.1 1z"/><path color="#46bda0" d="M65.4 111.4l3.2-1l-2.4-1.4l-3.2 1z"/><path color="#4ebe9b" d="M62.2 112.5l3.2-1.1l-2.4-1.4l-3.2 1.1z"/><path color="#5ac19a" d="M59.1 113.6l3.1-1.1l-2.4-1.4l-3.1 1z"/><path color="#77cba8" d="M55.9 114.9l3.2-1.3l-2.4-1.5l-3.2 1.3z"/><path color="#b5cc8c" d="M156.6 78.7l3.1-0.5l-2.4-1.2l-3.2 0.3z"/><path color="#c4c16a" d="M153.4 79.4l3.2-0.7l-2.5-1.4l-3.1 0.7z"/><path color="#dabe5e" d="M150.2 80.2l3.2-0.8l-2.4-1.4l-3.2 0.8z"/><path color="#ecbd56" d="M147.1 81.2l3.1-1l-2.4-1.4l-3.2 0.9z"/><path color="#f7be4e" d="M143.9 82.2l3.2-1l-2.5-1.5l-3.1 1z"/><path color="#fdc148" d="M140.7 83.3l3.2-1.1l-2.4-1.5l-3.2 1z"/><path color="#fec443" d="M137.5 84.4l3.2-1.1l-2.4-1.6l-3.2 1z"/><path color="#fec83f" d="M134.4 85.5l3.1-1.1l-2.4-1.7l-3.1 1.1z"/><path color="#fdcd3b" d="M131.2 86.5l3.2-1l-2.4-1.7l-3.2 1z"/><path color="#fccf39" d="M128 87.7l3.2-1.2l-2.4-1.7l-3.2 1.2zM124.9 88.9l3.1-1.2l-2.4-1.7l-3.2 1.2z"/><path color="#fecb3c" d="M121.7 90.2l3.2-1.3l-2.5-1.7l-3.1 1.4z"/><path color="#fec444" d="M118.5 91.5l3.2-1.3l-2.4-1.6l-3.2 1.4z"/><path color="#f6be4f" d="M115.4 93l3.1-1.5l-2.4-1.5l-3.2 1.5z"/><path color="#e3bd5a" d="M112.2 94.5l3.2-1.5l-2.5-1.5l-3.1 1.6z"/><path color="#cabf65" d="M109 96.1l3.2-1.6l-2.4-1.4l-3.2 1.8z"/><path color="#a8c173" d="M105.9 97.9l3.1-1.8l-2.4-1.2l-3.2 1.8z"/><path color="#75c188" d="M102.7 99.8l3.2-1.9l-2.5-1.2l-3.1 1.9z"/><path color="#3dbba6" d="M99.5 101.7l3.2-1.9l-2.4-1.2l-3.2 1.9z"/><path color="#1ab1be" d="M96.4 103.4l3.1-1.7l-2.4-1.2l-3.2 1.8z"/><path color="#13aac9" d="M93.2 104.8l3.2-1.4l-2.5-1.1l-3.1 1.4z"/><path color="#13aaca" d="M90 105.8l3.2-1l-2.4-1.1l-3.2 1z"/><path color="#15aec4" d="M86.8 106.7l3.2-0.9l-2.4-1.1l-3.2 0.8z"/><path color="#1fb4ba" d="M83.7 107.6l3.1-0.9l-2.4-1.2l-3.1 0.9z"/><path color="#2cb8b0" d="M80.5 108.6l3.2-1l-2.4-1.2l-3.2 0.9z"/><path color="#37baa9" d="M77.3 109.6l3.2-1l-2.4-1.3l-3.2 1z"/><path color="#40bca4" d="M74.2 110.7l3.1-1.1l-2.4-1.3l-3.1 1z"/><path color="#47bd9f" d="M71 111.8l3.2-1.1l-2.4-1.4l-3.2 1.1z"/><path color="#4ebe9b" d="M67.8 112.9l3.2-1.1l-2.4-1.4l-3.2 1z"/><path color="#55bf98" d="M64.7 114l3.1-1.1l-2.4-1.5l-3.2 1.1z"/><path color="#5dc196" d="M61.5 115.1l3.2-1.1l-2.5-1.5l-3.1 1.1z"/><path color="#7acba5" d="M58.3 116.3l3.2-1.2l-2.4-1.5l-3.2 1.3z"/><path color="#bfcb87" d="M159 80l3.2-0.4l-2.5-1.4l-3.1 0.5z"/><path color="#cfbf65" d="M155.8 80.7l3.2-0.7l-2.4-1.3l-3.2 0.7z"/><path color="#e4bd5a" d="M152.6 81.5l3.2-0.8l-2.4-1.3l-3.2 0.8z"/><path color="#f4be50" d="M149.5 82.3l3.1-0.8l-2.4-1.3l-3.1 1z"/><path color="#fdc345" d="M146.3 83.2l3.2-0.9l-2.4-1.1l-3.2 1z"/><path color="#fec740" d="M143.1 84.4l3.2-1.2l-2.4-1l-3.2 1.1z"/><path color="#fec542" d="M140 85.9l3.1-1.5l-2.4-1.1l-3.2 1.1z"/><path color="#fec345" d="M136.8 87.2l3.2-1.3l-2.5-1.5l-3.1 1.1z"/><path color="#fec543" d="M133.6 88.3l3.2-1.1l-2.4-1.7l-3.2 1z"/><path color="#fec740" d="M130.5 89.5l3.1-1.2l-2.4-1.8l-3.2 1.2z"/><path color="#fec840" d="M127.3 90.6l3.2-1.1l-2.5-1.8l-3.1 1.2z"/><path color="#fec642" d="M124.1 91.8l3.2-1.2l-2.4-1.7l-3.2 1.3z"/><path color="#fec246" d="M121 93l3.1-1.2l-2.4-1.6l-3.2 1.3z"/><path color="#f9bf4c" d="M117.8 94.3l3.2-1.3l-2.5-1.5l-3.1 1.5z"/><path color="#efbd54" d="M114.6 95.7l3.2-1.4l-2.4-1.3l-3.2 1.5z"/><path color="#dcbe5d" d="M111.4 97.2l3.2-1.5l-2.4-1.2l-3.2 1.6z"/><path color="#bfc06a" d="M108.3 99l3.1-1.8l-2.4-1.1l-3.1 1.8z"/><path color="#92c27c" d="M105.1 101l3.2-2l-2.4-1.1l-3.2 1.9z"/><path color="#55bf98" d="M101.9 103l3.2-2l-2.4-1.2l-3.2 1.9z"/><path color="#27b6b4" d="M98.8 104.8l3.1-1.8l-2.4-1.3l-3.1 1.7z"/><path color="#16b0c2" d="M95.6 106.2l3.2-1.4l-2.4-1.4l-3.2 1.4z"/><path color="#15afc2" d="M92.4 107.2l3.2-1l-2.4-1.4l-3.2 1z"/><path color="#1eb3ba" d="M89.3 108l3.1-0.8l-2.4-1.4l-3.2 0.9z"/><path color="#2db8b0" d="M86.1 108.9l3.2-0.9l-2.5-1.3l-3.1 0.9z"/><path color="#3bbba7" d="M82.9 109.9l3.2-1l-2.4-1.3l-3.2 1z"/><path color="#44bda1" d="M79.8 111l3.1-1.1l-2.4-1.3l-3.2 1z"/><path color="#4abe9e" d="M76.6 112.1l3.2-1.1l-2.5-1.4l-3.1 1.1z"/><path color="#50bf9a" d="M73.4 113.2l3.2-1.1l-2.4-1.4l-3.2 1.1z"/><path color="#56bf97" d="M70.3 114.3l3.1-1.1l-2.4-1.4l-3.2 1.1z"/><path color="#5bc095" d="M67.1 115.4l3.2-1.1l-2.5-1.4l-3.1 1.1z"/><path color="#61c193" d="M63.9 116.6l3.2-1.2l-2.4-1.4l-3.2 1.1z"/><path color="#7ccba3" d="M60.8 117.8l3.1-1.2l-2.4-1.5l-3.2 1.2z"/><path color="#c7cb84" d="M161.4 81.4l3.2-0.3l-2.4-1.5l-3.2 0.4z"/><path color="#d9be61" d="M158.2 82.1l3.2-0.7l-2.4-1.4l-3.2 0.7z"/><path color="#f0bd53" d="M155.1 82.8l3.1-0.7l-2.4-1.4l-3.2 0.8z"/><path color="#fdc642" d="M151.9 83.3l3.2-0.5l-2.5-1.3l-3.1 0.8z"/><path color="#f9da31" d="M148.7 83.9l3.2-0.6l-2.4-1l-3.2 0.9z"/><path color="#f7e22b" d="M145.6 85.2l3.1-1.3l-2.4-0.7l-3.2 1.2z"/><path color="#fbd237" d="M142.4 87.3l3.2-2.1l-2.5-0.8l-3.1 1.5z"/><path color="#fcc148" d="M139.2 89l3.2-1.7l-2.4-1.4l-3.2 1.3z"/><path color="#f6be4f" d="M136.1 90.2l3.1-1.2l-2.4-1.8l-3.2 1.1z"/><path color="#f7be4e" d="M132.9 91.3l3.2-1.1l-2.5-1.9l-3.1 1.2z"/><path color="#f9bf4c" d="M129.7 92.4l3.2-1.1l-2.4-1.8l-3.2 1.1z"/><path color="#fbc04a" d="M126.5 93.5l3.2-1.1l-2.4-1.8l-3.2 1.2z"/><path color="#fdc148" d="M123.4 94.5l3.1-1l-2.4-1.7l-3.1 1.2z"/><path color="#fdc246" d="M120.2 95.6l3.2-1.1l-2.4-1.5l-3.2 1.3z"/><path color="#fcc148" d="M117 96.8l3.2-1.2l-2.4-1.3l-3.2 1.4z"/><path color="#f3be50" d="M113.9 98.2l3.1-1.4l-2.4-1.1l-3.2 1.5z"/><path color="#d9be5f" d="M110.7 100.1l3.2-1.9l-2.5-1l-3.1 1.8z"/><path color="#abc172" d="M107.5 102.2l3.2-2.1l-2.4-1.1l-3.2 2z"/><path color="#67c08f" d="M104.4 104.4l3.1-2.2l-2.4-1.2l-3.2 2z"/><path color="#2cb7b1" d="M101.2 106.3l3.2-1.9l-2.5-1.4l-3.1 1.8z"/><path color="#16b0c1" d="M98 107.7l3.2-1.4l-2.4-1.5l-3.2 1.4zM94.9 108.7l3.1-1l-2.4-1.5l-3.2 1z"/><path color="#23b5b7" d="M91.7 109.4l3.2-0.7l-2.5-1.5l-3.1 0.8z"/><path color="#39bba8" d="M88.5 110.1l3.2-0.7l-2.4-1.4l-3.2 0.9z"/><path color="#4fbe9b" d="M85.4 110.9l3.1-0.8l-2.4-1.2l-3.2 1z"/><path color="#57bf97" d="M82.2 112.2l3.2-1.3l-2.5-1l-3.1 1.1z"/><path color="#55bf98" d="M79 113.5l3.2-1.3l-2.4-1.2l-3.2 1.1z"/><path color="#57c097" d="M75.8 114.7l3.2-1.2l-2.4-1.4l-3.2 1.1z"/><path color="#5bc095" d="M72.7 115.8l3.1-1.1l-2.4-1.5l-3.1 1.1z"/><path color="#5fc092" d="M69.5 116.9l3.2-1.1l-2.4-1.5l-3.2 1.1z"/><path color="#64c192" d="M66.3 118.1l3.2-1.2l-2.4-1.5l-3.2 1.2z"/><path color="#7ecba2" d="M63.2 119.3l3.1-1.2l-2.4-1.5l-3.1 1.2z"/><path color="#c7cb85" d="M163.8 83l3.2-0.1l-2.4-1.8l-3.2 0.3z"/><path color="#dcbf60" d="M160.7 83.7l3.1-0.7l-2.4-1.6l-3.2 0.7z"/><path color="#f3be51" d="M157.5 84.4l3.2-0.7l-2.5-1.6l-3.1 0.7z"/><path color="#fcce3b" d="M154.3 84.8l3.2-0.4l-2.4-1.6l-3.2 0.5z"/><path color="#f7f021" d="M151.2 85.2l3.1-0.4l-2.4-1.5l-3.2 0.6z"/><path color="#f9fa1a" d="M148 86.7l3.2-1.5l-2.5-1.3l-3.1 1.3z"/><path color="#f9dc2f" d="M144.8 89.1l3.2-2.4l-2.4-1.5l-3.2 2.1z"/><path color="#f2bf50" d="M141.6 91.1l3.2-2l-2.4-1.8l-3.2 1.7z"/><path color="#ddbd5d" d="M138.5 92.4l3.1-1.3l-2.4-2.1l-3.1 1.2z"/><path color="#dfbd5c" d="M135.3 93.4l3.2-1l-2.4-2.2l-3.2 1.1z"/><path color="#e7bd58" d="M132.1 94.3l3.2-0.9l-2.4-2.1l-3.2 1.1z"/><path color="#efbd54" d="M129 95.2l3.1-0.9l-2.4-1.9l-3.2 1.1z"/><path color="#f9bf4c" d="M125.8 96.1l3.2-0.9l-2.5-1.7l-3.1 1z"/><path color="#fec642" d="M122.6 96.9l3.2-0.8l-2.4-1.6l-3.2 1.1z"/><path color="#fdcc3c" d="M119.5 97.9l3.1-1l-2.4-1.3l-3.2 1.2z"/><path color="#fec93f" d="M116.3 99.4l3.2-1.5l-2.5-1.1l-3.1 1.4z"/><path color="#f0be52" d="M113.1 101.2l3.2-1.8l-2.4-1.2l-3.2 1.9z"/><path color="#c1c069" d="M110 103.4l3.1-2.2l-2.4-1.1l-3.2 2.1z"/><path color="#77c188" d="M106.8 105.7l3.2-2.3l-2.5-1.2l-3.1 2.2z"/><path color="#30b8ae" d="M103.6 107.8l3.2-2.1l-2.4-1.3l-3.2 1.9z"/><path color="#16b0c1" d="M100.4 109.2l3.2-1.4l-2.4-1.5l-3.2 1.4z"/><path color="#16b0c2" d="M97.3 110.2l3.1-1l-2.4-1.5l-3.1 1z"/><path color="#26b6b5" d="M94.1 110.7l3.2-0.5l-2.4-1.5l-3.2 0.7z"/><path color="#52be9a" d="M90.9 110.8l3.2-0.1l-2.4-1.3l-3.2 0.7z"/><path color="#88c280" d="M87.8 111.4l3.1-0.6l-2.4-0.7l-3.1 0.8z"/><path color="#8ac27f" d="M84.6 113.2l3.2-1.8l-2.4-0.5l-3.2 1.3z"/><path color="#6ac18d" d="M81.4 114.9l3.2-1.7l-2.4-1l-3.2 1.3z"/><path color="#5dc094" d="M78.3 116.2l3.1-1.3l-2.4-1.4l-3.2 1.2z"/><path color="#5ec093" d="M75.1 117.3l3.2-1.1l-2.5-1.5l-3.1 1.1z"/><path color="#62c191" d="M71.9 118.4l3.2-1.1l-2.4-1.5l-3.2 1.1z"/><path color="#67c291" d="M68.8 119.6l3.1-1.2l-2.4-1.5l-3.2 1.2z"/><path color="#80cca3" d="M65.6 120.9l3.2-1.3l-2.5-1.5l-3.1 1.2z"/><path color="#bbcc8b" d="M166.2 84.8l3.2 0.1l-2.4-2l-3.2 0.1z"/><path color="#d1c067" d="M163.1 85.6l3.1-0.8l-2.4-1.8l-3.1 0.7z"/><path color="#e5bd59" d="M159.9 86.5l3.2-0.9l-2.4-1.9l-3.2 0.7z"/><path color="#f9c447" d="M156.7 87.1l3.2-0.6l-2.4-2.1l-3.2 0.4z"/><path color="#f9dd2f" d="M153.6 87.8l3.1-0.7l-2.4-2.3l-3.1 0.4z"/><path color="#f8e629" d="M150.4 89.4l3.2-1.6l-2.4-2.6l-3.2 1.5z"/><path color="#f6cb4b" d="M147.2 91.7l3.2-2.3l-2.4-2.7l-3.2 2.4z"/><path color="#c7c068" d="M144.1 93.7l3.1-2l-2.4-2.6l-3.2 2z"/><path color="#aac172" d="M140.9 94.9l3.2-1.2l-2.5-2.6l-3.1 1.3z"/><path color="#b5c16e" d="M137.7 95.6l3.2-0.7l-2.4-2.5l-3.2 1z"/><path color="#cbbf65" d="M134.6 96.3l3.1-0.7l-2.4-2.2l-3.2 0.9z"/><path color="#debd5d" d="M131.4 97l3.2-0.7l-2.5-2l-3.1 0.9z"/><path color="#f1bd52" d="M128.2 97.8l3.2-0.8l-2.4-1.8l-3.2 0.9z"/><path color="#fec642" d="M125.1 98.5l3.1-0.7l-2.4-1.7l-3.2 0.8z"/><path color="#fbd237" d="M121.9 99.4l3.2-0.9l-2.5-1.6l-3.1 1zM118.7 100.8l3.2-1.4l-2.4-1.5l-3.2 1.5z"/><path color="#fac347" d="M115.5 102.6l3.2-1.8l-2.4-1.4l-3.2 1.8z"/><path color="#cfbf63" d="M112.4 104.8l3.1-2.2l-2.4-1.4l-3.1 2.2z"/><path color="#87c280" d="M109.2 107l3.2-2.2l-2.4-1.4l-3.2 2.3z"/><path color="#3cbba7" d="M106 109l3.2-2l-2.4-1.3l-3.2 2.1z"/><path color="#1cb2bc" d="M102.9 110.5l3.1-1.5l-2.4-1.2l-3.2 1.4z"/><path color="#19b1be" d="M99.7 111.6l3.2-1.1l-2.5-1.3l-3.1 1z"/><path color="#2cb7b1" d="M96.5 112.2l3.2-0.6l-2.4-1.4l-3.2 0.5z"/><path color="#71c18b" d="M93.4 112.1l3.1 0.1l-2.4-1.5l-3.2 0.1z"/><path color="#c2c068" d="M90.2 112.5l3.2-0.4l-2.5-1.3l-3.1 0.6z"/><path color="#bcc06b" d="M87 114.5l3.2-2l-2.4-1.1l-3.2 1.8z"/><path color="#7fc284" d="M83.9 116.4l3.1-1.9l-2.4-1.3l-3.2 1.7z"/><path color="#60c092" d="M80.7 117.7l3.2-1.3l-2.5-1.5l-3.1 1.3z"/><path color="#5fc092" d="M77.5 118.8l3.2-1.1l-2.4-1.5l-3.2 1.1z"/><path color="#63c190" d="M74.4 119.9l3.1-1.1l-2.4-1.5l-3.2 1.1z"/><path color="#6ac392" d="M71.2 121.1l3.2-1.2l-2.5-1.5l-3.1 1.2z"/><path color="#80cca4" d="M68 122.5l3.2-1.4l-2.4-1.5l-3.2 1.3z"/><path color="#a1cb93" d="M168.7 86.6l3.1 0l-2.4-1.7l-3.2-0.1z"/><path color="#bdc474" d="M165.5 87.6l3.2-1l-2.5-1.8l-3.1 0.8z"/><path color="#c8bf66" d="M162.3 88.6l3.2-1l-2.4-2l-3.2 0.9z"/><path color="#d7be5f" d="M159.2 89.6l3.1-1l-2.4-2.1l-3.2 0.6z"/><path color="#e8bf56" d="M156 90.7l3.2-1.1l-2.5-2.5l-3.1 0.7z"/><path color="#e6c057" d="M152.8 92.2l3.2-1.5l-2.4-2.9l-3.2 1.6z"/><path color="#bfc26f" d="M149.7 94.3l3.1-2.1l-2.4-2.8l-3.2 2.3z"/><path color="#79c289" d="M146.5 96.3l3.2-2l-2.5-2.6l-3.1 2z"/><path color="#57bf97" d="M143.3 97.4l3.2-1.1l-2.4-2.6l-3.2 1.2z"/><path color="#75c188" d="M140.2 97.9l3.1-0.5l-2.4-2.5l-3.2 0.7z"/><path color="#a4c174" d="M137 98.3l3.2-0.4l-2.5-2.3l-3.1 0.7z"/><path color="#c6bf67" d="M133.8 99l3.2-0.7l-2.4-2l-3.2 0.7z"/><path color="#e1bd5b" d="M130.6 99.6l3.2-0.6l-2.4-2l-3.2 0.8z"/><path color="#f9c04b" d="M127.5 100.3l3.1-0.7l-2.4-1.8l-3.1 0.7z"/><path color="#fdcc3c" d="M124.3 101.2l3.2-0.9l-2.4-1.8l-3.2 0.9z"/><path color="#fdcf3a" d="M121.1 102.5l3.2-1.3l-2.4-1.8l-3.2 1.4z"/><path color="#fac249" d="M118 104.3l3.1-1.8l-2.4-1.7l-3.2 1.8z"/><path color="#d1be62" d="M114.8 106.4l3.2-2.1l-2.5-1.7l-3.1 2.2z"/><path color="#91c27c" d="M111.6 108.5l3.2-2.1l-2.4-1.6l-3.2 2.2z"/><path color="#4bbe9e" d="M108.5 110.4l3.1-1.9l-2.4-1.5l-3.2 2z"/><path color="#27b6b4" d="M105.3 111.9l3.2-1.5l-2.5-1.4l-3.1 1.5z"/><path color="#1fb4ba" d="M102.1 113.1l3.2-1.2l-2.4-1.4l-3.2 1.1z"/><path color="#2ab7b2" d="M99 114l3.1-0.9l-2.4-1.5l-3.2 0.6z"/><path color="#5dbf95" d="M95.8 114.5l3.2-0.5l-2.5-1.8l-3.1-0.1z"/><path color="#a4c174" d="M92.6 115.2l3.2-0.7l-2.4-2.4l-3.2 0.4z"/><path color="#a3c175" d="M89.5 116.7l3.2-1.5l-2.4-2.7l-3.2 2z"/><path color="#71c18a" d="M86.3 118.1l3.1-1.4l-2.4-2.2l-3.1 1.9z"/><path color="#5cc094" d="M83.1 119.3l3.2-1.2l-2.4-1.7l-3.2 1.3z"/><path color="#5ec093" d="M79.9 120.4l3.2-1.1l-2.4-1.6l-3.2 1.1z"/><path color="#63c190" d="M76.8 121.5l3.1-1.1l-2.4-1.6l-3.1 1.1z"/><path color="#6fc495" d="M73.6 122.6l3.2-1.1l-2.4-1.6l-3.2 1.2z"/><path color="#7acba4" d="M70.4 124.1l3.2-1.5l-2.4-1.5l-3.2 1.4z"/><path color="#7dc89a" d="M171.1 88.5l3.2-0.3l-2.5-1.6l-3.1 0z"/><path color="#aac885" d="M167.9 89.5l3.2-1l-2.4-1.9l-3.2 1z"/><path color="#a9c273" d="M164.8 90.6l3.1-1.1l-2.4-1.9l-3.2 1z"/><path color="#aec170" d="M161.6 91.8l3.2-1.2l-2.5-2l-3.1 1z"/><path color="#b1c16f" d="M158.4 93l3.2-1.2l-2.4-2.2l-3.2 1.1z"/><path color="#a9c172" d="M155.2 94.4l3.2-1.4l-2.4-2.3l-3.2 1.5z"/><path color="#83c282" d="M152.1 96.1l3.1-1.7l-2.4-2.2l-3.1 2.1z"/><path color="#45bda1" d="M148.9 98l3.2-1.9l-2.4-1.8l-3.2 2z"/><path color="#2bb7b1" d="M145.7 99.2l3.2-1.2l-2.4-1.7l-3.2 1.1z"/><path color="#42bca3" d="M142.6 99.9l3.1-0.7l-2.4-1.8l-3.1 0.5z"/><path color="#78c187" d="M139.4 100.4l3.2-0.5l-2.4-2l-3.2 0.4z"/><path color="#a7c173" d="M136.2 101l3.2-0.6l-2.4-2.1l-3.2 0.7z"/><path color="#c9bf65" d="M133.1 101.6l3.1-0.6l-2.4-2l-3.2 0.6z"/><path color="#e5bd59" d="M129.9 102.3l3.2-0.7l-2.5-2l-3.1 0.7z"/><path color="#f8c04c" d="M126.7 103.2l3.2-0.9l-2.4-2l-3.2 0.9z"/><path color="#fbc248" d="M123.6 104.5l3.1-1.3l-2.4-2l-3.2 1.3z"/><path color="#edbd54" d="M120.4 106.2l3.2-1.7l-2.5-2l-3.1 1.8z"/><path color="#c5bf67" d="M117.2 108.1l3.2-1.9l-2.4-1.9l-3.2 2.1z"/><path color="#8cc27e" d="M114.1 110.1l3.1-2l-2.4-1.7l-3.2 2.1z"/><path color="#4fbe9b" d="M110.9 111.9l3.2-1.8l-2.5-1.6l-3.1 1.9z"/><path color="#2ab7b2" d="M107.7 113.6l3.2-1.7l-2.4-1.5l-3.2 1.5z"/><path color="#1cb3bc" d="M104.5 115l3.2-1.4l-2.4-1.7l-3.2 1.2z"/><path color="#1cb2bc" d="M101.4 116.2l3.1-1.2l-2.4-1.9l-3.1 0.9z"/><path color="#2ab7b2" d="M98.2 117.1l3.2-0.9l-2.4-2.2l-3.2 0.5z"/><path color="#47bca0" d="M95 117.9l3.2-0.8l-2.4-2.6l-3.2 0.7z"/><path color="#54bf99" d="M91.9 118.8l3.1-0.9l-2.4-2.7l-3.2 1.5z"/><path color="#4fbe9b" d="M88.7 119.8l3.2-1l-2.5-2.1l-3.1 1.4z"/><path color="#53bf99" d="M85.5 120.9l3.2-1.1l-2.4-1.7l-3.2 1.2z"/><path color="#5bc094" d="M82.4 121.9l3.1-1l-2.4-1.6l-3.2 1.1z"/><path color="#62c191" d="M79.2 123l3.2-1.1l-2.5-1.5l-3.1 1.1z"/><path color="#76c79b" d="M76 124.1l3.2-1.1l-2.4-1.5l-3.2 1.1z"/><path color="#6ac7a3" d="M72.9 125.7l3.1-1.6l-2.4-1.5l-3.2 1.5z"/><path color="#5ac19c" d="M173.5 90.6l3.2-0.9l-2.4-1.5l-3.2 0.3z"/><path color="#9bcc95" d="M170.3 91.3l3.2-0.7l-2.4-2.1l-3.2 1z"/><path color="#90c37f" d="M167.2 92.5l3.1-1.2l-2.4-1.8l-3.1 1.1z"/><path color="#91c27c" d="M164 93.6l3.2-1.1l-2.4-1.9l-3.2 1.2zM160.8 94.8l3.2-1.2l-2.4-1.8l-3.2 1.2z"/><path color="#8bc27f" d="M157.7 96.1l3.1-1.3l-2.4-1.8l-3.2 1.4z"/><path color="#75c288" d="M154.5 97.5l3.2-1.4l-2.5-1.7l-3.1 1.7z"/><path color="#4cbe9d" d="M151.3 99.2l3.2-1.7l-2.4-1.4l-3.2 1.9z"/><path color="#2eb8af" d="M148.2 100.8l3.1-1.6l-2.4-1.2l-3.2 1.2z"/><path color="#2cb8b0" d="M145 102l3.2-1.2l-2.5-1.6l-3.1 0.7z"/><path color="#4abd9e" d="M141.8 102.6l3.2-0.6l-2.4-2.1l-3.2 0.5z"/><path color="#81c283" d="M138.7 103l3.1-0.4l-2.4-2.2l-3.2 0.6z"/><path color="#aec170" d="M135.5 103.5l3.2-0.5l-2.5-2l-3.1 0.6z"/><path color="#cdbf64" d="M132.3 104.2l3.2-0.7l-2.4-1.9l-3.2 0.7z"/><path color="#e2bd5b" d="M129.2 105.1l3.1-0.9l-2.4-1.9l-3.2 0.9z"/><path color="#e8bd58" d="M126 106.4l3.2-1.3l-2.5-1.9l-3.1 1.3z"/><path color="#d9be5f" d="M122.8 108l3.2-1.6l-2.4-1.9l-3.2 1.7z"/><path color="#b4c16e" d="M119.6 109.9l3.2-1.9l-2.4-1.8l-3.2 1.9z"/><path color="#7ec284" d="M116.5 111.8l3.1-1.9l-2.4-1.8l-3.1 2z"/><path color="#43bca2" d="M113.3 113.7l3.2-1.9l-2.4-1.7l-3.2 1.8z"/><path color="#1fb3ba" d="M110.1 115.6l3.2-1.9l-2.4-1.8l-3.2 1.7z"/><path color="#13abc8" d="M107 117.2l3.1-1.6l-2.4-2l-3.2 1.4z"/><path color="#13a6cd" d="M103.8 118.5l3.2-1.3l-2.5-2.2l-3.1 1.2z"/><path color="#13a8cb" d="M100.6 119.5l3.2-1l-2.4-2.3l-3.2 0.9z"/><path color="#18afc2" d="M97.5 120.1l3.1-0.6l-2.4-2.4l-3.2 0.8z"/><path color="#25b6b5" d="M94.3 120.8l3.2-0.7l-2.5-2.2l-3.1 0.9z"/><path color="#38baa9" d="M91.1 121.5l3.2-0.7l-2.4-2l-3.2 1z"/><path color="#4abe9e" d="M88 122.5l3.1-1l-2.4-1.7l-3.2 1.1z"/><path color="#57c097" d="M84.8 123.5l3.2-1l-2.5-1.6l-3.1 1z"/><path color="#62c194" d="M81.6 124.5l3.2-1l-2.4-1.6l-3.2 1.1z"/><path color="#7ecba2" d="M78.5 125.9l3.2-1.4l-2.4-1.5l-3.2 1.1z"/><path color="#55c19f" d="M75.3 127.2l3.1-1.3l-2.4-1.8l-3.1 1.6z"/><path color="#46bc9b" d="M175.9 92.4l3.2-1.2l-2.4-1.5l-3.2 0.9z"/><path color="#85cb9f" d="M172.8 93l3.1-0.6l-2.4-1.8l-3.2 0.7z"/><path color="#86c68c" d="M169.6 94.2l3.2-1.2l-2.5-1.7l-3.1 1.2z"/><path color="#7fc284" d="M166.4 95.3l3.2-1.1l-2.4-1.7l-3.2 1.1z"/><path color="#80c283" d="M163.3 96.5l3.1-1.2l-2.4-1.7l-3.2 1.2z"/><path color="#7ec284" d="M160.1 97.7l3.2-1.2l-2.5-1.7l-3.1 1.3z"/><path color="#76c288" d="M156.9 99l3.2-1.3l-2.4-1.6l-3.2 1.4z"/><path color="#5cc094" d="M153.8 100.6l3.1-1.6l-2.4-1.5l-3.2 1.7z"/><path color="#32b9ad" d="M150.6 102.7l3.2-2.1l-2.5-1.4l-3.1 1.6z"/><path color="#19b0c0" d="M147.4 104.4l3.2-1.7l-2.4-1.9l-3.2 1.2z"/><path color="#21b3ba" d="M144.2 104.9l3.2-0.5l-2.4-2.4l-3.2 0.6z"/><path color="#55be99" d="M141.1 104.9l3.1 0l-2.4-2.3l-3.1 0.4z"/><path color="#95c27b" d="M137.9 105.3l3.2-0.4l-2.4-1.9l-3.2 0.5z"/><path color="#bac06b" d="M134.7 106l3.2-0.7l-2.4-1.8l-3.2 0.7z"/><path color="#d2be62" d="M131.6 106.8l3.1-0.8l-2.4-1.8l-3.1 0.9z"/><path color="#dbbe5e" d="M128.4 108l3.2-1.2l-2.4-1.7l-3.2 1.3z"/><path color="#cebf64" d="M125.2 109.6l3.2-1.6l-2.4-1.6l-3.2 1.6z"/><path color="#a9c172" d="M122.1 111.5l3.1-1.9l-2.4-1.6l-3.2 1.9z"/><path color="#6fc18b" d="M118.9 113.5l3.2-2l-2.5-1.6l-3.1 1.9z"/><path color="#32b9ad" d="M115.7 115.7l3.2-2.2l-2.4-1.7l-3.2 1.9z"/><path color="#14abc8" d="M112.6 117.8l3.1-2.1l-2.4-2l-3.2 1.9z"/><path color="#1997d4" d="M109.4 119.7l3.2-1.9l-2.5-2.2l-3.1 1.6z"/><path color="#1d89d8" d="M106.2 121.2l3.2-1.5l-2.4-2.5l-3.2 1.3z"/><path color="#1d8bd7" d="M103.1 122l3.1-0.8l-2.4-2.7l-3.2 1z"/><path color="#179bd3" d="M99.9 122.3l3.2-0.3l-2.5-2.5l-3.1 0.6z"/><path color="#15acc6" d="M96.7 122.7l3.2-0.4l-2.4-2.2l-3.2 0.7z"/><path color="#28b7b3" d="M93.5 123.3l3.2-0.6l-2.4-1.9l-3.2 0.7z"/><path color="#41bca3" d="M90.4 124.1l3.1-0.8l-2.4-1.8l-3.1 1z"/><path color="#53bf99" d="M87.2 125l3.2-0.9l-2.4-1.6l-3.2 1z"/><path color="#68c49a" d="M84 126.1l3.2-1.1l-2.4-1.5l-3.2 1z"/><path color="#77caa6" d="M80.9 127.6l3.1-1.5l-2.4-1.6l-3.2 1.4z"/><path color="#45bc9b" d="M77.7 128.7l3.2-1.1l-2.5-1.7l-3.1 1.3z"/><path color="#41bb99" d="M178.4 93.9l3.1-1.1l-2.4-1.6l-3.2 1.2z"/><path color="#60c39f" d="M175.2 94.9l3.2-1l-2.5-1.5l-3.1 0.6z"/><path color="#89cb9b" d="M172 95.8l3.2-0.9l-2.4-1.9l-3.2 1.2z"/><path color="#77c38a" d="M168.9 96.9l3.1-1.1l-2.4-1.6l-3.2 1.1z"/><path color="#76c287" d="M165.7 98.1l3.2-1.2l-2.5-1.6l-3.1 1.2z"/><path color="#77c287" d="M162.5 99.3l3.2-1.2l-2.4-1.6l-3.2 1.2z"/><path color="#72c289" d="M159.3 100.6l3.2-1.3l-2.4-1.6l-3.2 1.3z"/><path color="#58bf96" d="M156.2 102.4l3.1-1.8l-2.4-1.6l-3.1 1.6z"/><path color="#24b4b8" d="M153 105l3.2-2.6l-2.4-1.8l-3.2 2.1z"/><path color="#189ed2" d="M149.8 107l3.2-2l-2.4-2.3l-3.2 1.7z"/><path color="#169fd0" d="M146.7 107.2l3.1-0.2l-2.4-2.6l-3.2 0.5z"/><path color="#30b7b0" d="M143.5 106.8l3.2 0.4l-2.5-2.3l-3.1 0z"/><path color="#7fc284" d="M140.3 107l3.2-0.2l-2.4-1.9l-3.2 0.4z"/><path color="#b0c170" d="M137.2 107.6l3.1-0.6l-2.4-1.7l-3.2 0.7z"/><path color="#ccbf64" d="M134 108.3l3.2-0.7l-2.5-1.6l-3.1 0.8z"/><path color="#d9be5f" d="M130.8 109.5l3.2-1.2l-2.4-1.5l-3.2 1.2z"/><path color="#cebf63" d="M127.7 111l3.1-1.5l-2.4-1.5l-3.2 1.6z"/><path color="#a9c172" d="M124.5 113l3.2-2l-2.5-1.4l-3.1 1.9z"/><path color="#6ac18e" d="M121.3 115.1l3.2-2.1l-2.4-1.5l-3.2 2z"/><path color="#27b5b5" d="M118.2 117.4l3.1-2.3l-2.4-1.6l-3.2 2.2z"/><path color="#169fd1" d="M115 119.8l3.2-2.4l-2.5-1.7l-3.1 2.1z"/><path color="#1a7edc" d="M111.8 122.3l3.2-2.5l-2.4-2l-3.2 1.9z"/><path color="#2461d3" d="M108.6 124.1l3.2-1.8l-2.4-2.6l-3.2 1.5z"/><path color="#2164d5" d="M105.5 124.5l3.1-0.4l-2.4-2.9l-3.1 0.8z"/><path color="#1b82db" d="M102.3 124.4l3.2 0.1l-2.4-2.5l-3.2 0.3z"/><path color="#15a1d0" d="M99.1 124.5l3.2-0.1l-2.4-2.1l-3.2 0.4z"/><path color="#1eb3bb" d="M96 124.9l3.1-0.4l-2.4-1.8l-3.2 0.6z"/><path color="#3abba7" d="M92.8 125.6l3.2-0.7l-2.5-1.6l-3.1 0.8z"/><path color="#52c09c" d="M89.6 126.6l3.2-1l-2.4-1.5l-3.2 0.9z"/><path color="#76caa5" d="M86.5 127.8l3.1-1.2l-2.4-1.6l-3.2 1.1z"/><path color="#5cc3a1" d="M83.3 129.1l3.2-1.3l-2.5-1.7l-3.1 1.5z"/><path color="#41bb99" d="M80.1 130.2l3.2-1.1l-2.4-1.5l-3.2 1.1z"/><path color="#40ba99" d="M180.8 95.4l3.1-1.1l-2.4-1.5l-3.1 1.1z"/><path color="#46bc9b" d="M177.6 96.6l3.2-1.2l-2.4-1.5l-3.2 1z"/><path color="#7bcaa2" d="M174.4 97.3l3.2-0.7l-2.4-1.7l-3.2 0.9z"/><path color="#7dc795" d="M171.3 98.5l3.1-1.2l-2.4-1.5l-3.1 1.1z"/><path color="#72c28a" d="M168.1 99.7l3.2-1.2l-2.4-1.6l-3.2 1.2z"/><path color="#72c289" d="M164.9 100.8l3.2-1.1l-2.4-1.6l-3.2 1.2z"/><path color="#6cc18c" d="M161.8 102.2l3.1-1.4l-2.4-1.5l-3.2 1.3z"/><path color="#4cbe9d" d="M158.6 104.2l3.2-2l-2.5-1.6l-3.1 1.8z"/><path color="#1dacc6" d="M155.4 107.2l3.2-3l-2.4-1.8l-3.2 2.6z"/><path color="#2483dd" d="M152.3 109.8l3.1-2.6l-2.4-2.2l-3.2 2z"/><path color="#1a7fdb" d="M149.1 109.5l3.2 0.3l-2.5-2.8l-3.1 0.2z"/><path color="#1eadc1" d="M145.9 108.7l3.2 0.8l-2.4-2.3l-3.2-0.4z"/><path color="#6cc18d" d="M142.8 108.7l3.1 0l-2.4-1.9l-3.2 0.2z"/><path color="#a8c173" d="M139.6 109.2l3.2-0.5l-2.5-1.7l-3.1 0.6z"/><path color="#c8bf66" d="M136.4 110l3.2-0.8l-2.4-1.6l-3.2 0.7z"/><path color="#d8be60" d="M133.2 111l3.2-1l-2.4-1.7l-3.2 1.2z"/><path color="#d0bf63" d="M130.1 112.5l3.1-1.5l-2.4-1.5l-3.1 1.5z"/><path color="#aec170" d="M126.9 114.4l3.2-1.9l-2.4-1.5l-3.2 2z"/><path color="#6fc18b" d="M123.7 116.5l3.2-2.1l-2.4-1.4l-3.2 2.1z"/><path color="#26b5b6" d="M120.6 118.9l3.1-2.4l-2.4-1.4l-3.1 2.3z"/><path color="#1999d3" d="M117.4 121.4l3.2-2.5l-2.4-1.5l-3.2 2.4z"/><path color="#1c6edb" d="M114.2 124l3.2-2.6l-2.4-1.6l-3.2 2.5z"/><path color="#3f3c9a" d="M111.1 125.9l3.1-1.9l-2.4-1.7l-3.2 1.8z"/><path color="#3f3e9f" d="M107.9 126.2l3.2-0.3l-2.5-1.8l-3.1 0.4z"/><path color="#1a72dd" d="M104.7 126l3.2 0.2l-2.4-1.7l-3.2-0.1z"/><path color="#189ad3" d="M101.6 126l3.1 0l-2.4-1.6l-3.2 0.1z"/><path color="#1ab1bf" d="M98.4 126.4l3.2-0.4l-2.5-1.5l-3.1 0.4z"/><path color="#38bba9" d="M95.2 127.1l3.2-0.7l-2.4-1.5l-3.2 0.7z"/><path color="#5fc4a4" d="M92.1 128.1l3.1-1l-2.4-1.5l-3.2 1z"/><path color="#70c9a8" d="M88.9 129.4l3.2-1.3l-2.5-1.5l-3.1 1.2z"/><path color="#45bc9b" d="M85.7 130.6l3.2-1.2l-2.4-1.6l-3.2 1.3z"/><path color="#40ba99" d="M82.5 131.8l3.2-1.2l-2.4-1.5l-3.2 1.1zM183.2 97l3.2-1.2l-2.5-1.5l-3.1 1.1z"/><path color="#41ba99" d="M180 98.1l3.2-1.1l-2.4-1.6l-3.2 1.2z"/><path color="#52c09d" d="M176.9 99.3l3.1-1.2l-2.4-1.5l-3.2 0.7z"/><path color="#84cca2" d="M173.7 100l3.2-0.7l-2.5-2l-3.1 1.2z"/><path color="#76c591" d="M170.5 101.2l3.2-1.2l-2.4-1.5l-3.2 1.2z"/><path color="#6fc28b" d="M167.4 102.4l3.1-1.2l-2.4-1.5l-3.2 1.1z"/><path color="#68c18e" d="M164.2 103.8l3.2-1.4l-2.5-1.6l-3.1 1.4z"/><path color="#43bca2" d="M161 105.9l3.2-2.1l-2.4-1.6l-3.2 2z"/><path color="#1da2ce" d="M157.9 109.3l3.1-3.4l-2.4-1.7l-3.2 3z"/><path color="#3a61c5" d="M154.7 112.5l3.2-3.2l-2.5-2.1l-3.1 2.6z"/><path color="#2c58c3" d="M151.5 111.6l3.2 0.9l-2.4-2.7l-3.2-0.3z"/><path color="#1aa3ca" d="M148.3 110.4l3.2 1.2l-2.4-2.1l-3.2-0.8z"/><path color="#5cbf95" d="M145.2 110.4l3.1 0l-2.4-1.7l-3.1 0z"/><path color="#9cc278" d="M142 111l3.2-0.6l-2.4-1.7l-3.2 0.5z"/><path color="#bcc06b" d="M138.8 111.8l3.2-0.8l-2.4-1.8l-3.2 0.8z"/><path color="#cdbf64" d="M135.7 112.8l3.1-1l-2.4-1.8l-3.2 1z"/><path color="#ccbf64" d="M132.5 114.1l3.2-1.3l-2.5-1.8l-3.1 1.5z"/><path color="#b3c16e" d="M129.3 115.7l3.2-1.6l-2.4-1.6l-3.2 1.9z"/><path color="#7ec284" d="M126.2 117.7l3.1-2l-2.4-1.3l-3.2 2.1z"/><path color="#34b9ac" d="M123 119.9l3.2-2.2l-2.5-1.2l-3.1 2.4z"/><path color="#16a1cf" d="M119.8 122.3l3.2-2.4l-2.4-1l-3.2 2.5z"/><path color="#1a7adc" d="M116.7 124.6l3.1-2.3l-2.4-0.9l-3.2 2.6z"/><path color="#334fbc" d="M113.5 126.3l3.2-1.7l-2.5-0.6l-3.1 1.9z"/><path color="#3151bf" d="M110.3 126.9l3.2-0.6l-2.4-0.4l-3.2 0.3z"/><path color="#197bdd" d="M107.2 127.1l3.1-0.2l-2.4-0.7l-3.2-0.2z"/><path color="#169ed1" d="M104 127.3l3.2-0.2l-2.5-1.1l-3.1 0z"/><path color="#1db2bc" d="M100.8 127.8l3.2-0.5l-2.4-1.3l-3.2 0.4z"/><path color="#45bfac" d="M97.6 128.6l3.2-0.8l-2.4-1.4l-3.2 0.7z"/><path color="#6fcaad" d="M94.5 129.8l3.1-1.2l-2.4-1.5l-3.1 1z"/><path color="#4fbf9f" d="M91.3 131l3.2-1.2l-2.4-1.7l-3.2 1.3z"/><path color="#41ba99" d="M88.1 132.1l3.2-1.1l-2.4-1.6l-3.2 1.2z"/><path color="#40ba99" d="M85 133.3l3.1-1.2l-2.4-1.5l-3.2 1.2zM185.6 98.5l3.2-1.2l-2.4-1.5l-3.2 1.2zM182.5 99.7l3.1-1.2l-2.4-1.5l-3.2 1.1z"/><path color="#42bb99" d="M179.3 100.8l3.2-1.1l-2.5-1.6l-3.1 1.2z"/><path color="#5ec3a0" d="M176.1 101.9l3.2-1.1l-2.4-1.5l-3.2 0.7z"/><path color="#85cca1" d="M172.9 102.7l3.2-0.8l-2.4-1.9l-3.2 1.2z"/><path color="#73c491" d="M169.8 103.9l3.1-1.2l-2.4-1.5l-3.1 1.2z"/><path color="#66c18f" d="M166.6 105.3l3.2-1.4l-2.4-1.5l-3.2 1.4z"/><path color="#40bca4" d="M163.4 107.4l3.2-2.1l-2.4-1.5l-3.2 2.1z"/><path color="#199dcf" d="M160.3 110.8l3.1-3.4l-2.4-1.5l-3.1 3.4z"/><path color="#374bad" d="M157.1 114.1l3.2-3.3l-2.4-1.5l-3.2 3.2z"/><path color="#3348ad" d="M153.9 113.1l3.2 1l-2.4-1.6l-3.2-0.9z"/><path color="#199ecd" d="M150.8 112l3.1 1.1l-2.4-1.5l-3.2-1.2z"/><path color="#50be9b" d="M147.6 112.1l3.2-0.1l-2.5-1.6l-3.1 0z"/><path color="#8cc27e" d="M144.4 112.8l3.2-0.7l-2.4-1.7l-3.2 0.6z"/><path color="#a9c172" d="M141.3 113.6l3.1-0.8l-2.4-1.8l-3.2 0.8z"/><path color="#bcc06b" d="M138.1 114.6l3.2-1l-2.5-1.8l-3.1 1z"/><path color="#c3c068" d="M134.9 115.6l3.2-1l-2.4-1.8l-3.2 1.3z"/><path color="#b8c06d" d="M131.8 117l3.1-1.4l-2.4-1.5l-3.2 1.6z"/><path color="#95c27a" d="M128.6 118.8l3.2-1.8l-2.5-1.3l-3.1 2z"/><path color="#56bf98" d="M125.4 120.8l3.2-2l-2.4-1.1l-3.2 2.2z"/><path color="#1db0bf" d="M122.2 122.9l3.2-2.1l-2.4-0.9l-3.2 2.4z"/><path color="#1997d4" d="M119.1 124.9l3.1-2l-2.4-0.6l-3.1 2.3z"/><path color="#1a82db" d="M115.9 126.4l3.2-1.5l-2.4-0.3l-3.2 1.7zM112.7 127.3l3.2-0.9l-2.4-0.1l-3.2 0.6z"/><path color="#1a94d5" d="M109.6 127.9l3.1-0.6l-2.4-0.4l-3.1 0.2z"/><path color="#15aac8" d="M106.4 128.4l3.2-0.5l-2.4-0.8l-3.2 0.2z"/><path color="#31b9b7" d="M103.2 129.1l3.2-0.7l-2.4-1.1l-3.2 0.5z"/><path color="#63c8b2" d="M100.1 130.1l3.1-1l-2.4-1.3l-3.2 0.8z"/><path color="#57c2a3" d="M96.9 131.3l3.2-1.2l-2.5-1.5l-3.1 1.2z"/><path color="#42bb99" d="M93.7 132.5l3.2-1.2l-2.4-1.5l-3.2 1.2z"/><path color="#40ba99" d="M90.6 133.7l3.1-1.2l-2.4-1.5l-3.2 1.1zM87.4 134.8l3.2-1.1l-2.5-1.6l-3.1 1.2zM188 100l3.2-1.2l-2.4-1.5l-3.2 1.2zM184.9 101.2l3.1-1.2l-2.4-1.5l-3.1 1.2zM181.7 102.4l3.2-1.2l-2.4-1.5l-3.2 1.1z"/><path color="#43bb9a" d="M178.5 103.5l3.2-1.1l-2.4-1.6l-3.2 1.1z"/><path color="#63c4a1" d="M175.4 104.6l3.1-1.1l-2.4-1.6l-3.2 0.8z"/><path color="#84cca1" d="M172.2 105.5l3.2-0.9l-2.5-1.9l-3.1 1.2z"/><path color="#6dc495" d="M169 106.8l3.2-1.3l-2.4-1.6l-3.2 1.4z"/><path color="#43bca3" d="M165.9 108.8l3.1-2l-2.4-1.5l-3.2 2.1z"/><path color="#18a1cc" d="M162.7 111.7l3.2-2.9l-2.5-1.4l-3.1 3.4z"/><path color="#2d56bf" d="M159.5 114.5l3.2-2.8l-2.4-0.9l-3.2 3.3zM156.4 114l3.1 0.5l-2.4-0.4l-3.2-1z"/><path color="#19a2cb" d="M153.2 113.4l3.2 0.6l-2.5-0.9l-3.1-1.1z"/><path color="#4cbd9d" d="M150 113.7l3.2-0.3l-2.4-1.4l-3.2 0.1z"/><path color="#7dc285" d="M146.8 114.5l3.2-0.8l-2.4-1.6l-3.2 0.7z"/><path color="#96c27a" d="M143.7 115.4l3.1-0.9l-2.4-1.7l-3.1 0.8z"/><path color="#aac172" d="M140.5 116.3l3.2-0.9l-2.4-1.8l-3.2 1z"/><path color="#b9c06c" d="M137.3 117.2l3.2-0.9l-2.4-1.7l-3.2 1z"/><path color="#bbc06b" d="M134.2 118.4l3.1-1.2l-2.4-1.6l-3.1 1.4z"/><path color="#aac172" d="M131 119.9l3.2-1.5l-2.4-1.4l-3.2 1.8z"/><path color="#7fc284" d="M127.8 121.8l3.2-1.9l-2.4-1.1l-3.2 2z"/><path color="#41bca4" d="M124.7 123.7l3.1-1.9l-2.4-1l-3.2 2.1z"/><path color="#1bb0c0" d="M121.5 125.4l3.2-1.7l-2.5-0.8l-3.1 2z"/><path color="#14a6cc" d="M118.3 126.8l3.2-1.4l-2.4-0.5l-3.2 1.5z"/><path color="#14a5ce" d="M115.2 127.9l3.1-1.1l-2.4-0.4l-3.2 0.9z"/><path color="#16acc7" d="M112 128.7l3.2-0.8l-2.5-0.6l-3.1 0.6z"/><path color="#2eb8bc" d="M108.8 129.6l3.2-0.9l-2.4-0.8l-3.2 0.5z"/><path color="#5cc7b7" d="M105.7 130.5l3.1-0.9l-2.4-1.2l-3.2 0.7z"/><path color="#59c3a6" d="M102.5 131.7l3.2-1.2l-2.5-1.4l-3.1 1z"/><path color="#43bb9a" d="M99.3 132.8l3.2-1.1l-2.4-1.6l-3.2 1.2z"/><path color="#40ba99" d="M96.2 134l3.1-1.2l-2.4-1.5l-3.2 1.2zM93 135.2l3.2-1.2l-2.5-1.5l-3.1 1.2zM89.8 136.3l3.2-1.2l-2.4-1.5l-3.2 1.1zM190.5 101.5l3.1-1.1l-2.4-1.6l-3.2 1.2zM187.3 102.7l3.2-1.2l-2.5-1.5l-3.1 1.2zM184.1 103.9l3.2-1.2l-2.4-1.5l-3.2 1.2zM181 105.1l3.1-1.2l-2.4-1.5l-3.2 1.1z"/><path color="#43bb9a" d="M177.8 106.2l3.2-1.1l-2.5-1.6l-3.1 1.1z"/><path color="#5ec3a0" d="M174.6 107.4l3.2-1.2l-2.4-1.6l-3.2 0.9z"/><path color="#7ecca5" d="M171.5 108.3l3.1-0.9l-2.4-1.9l-3.2 1.3z"/><path color="#59c3a8" d="M168.3 110l3.2-1.7l-2.5-1.5l-3.1 2z"/><path color="#1dadc5" d="M165.1 112.4l3.2-2.4l-2.4-1.2l-3.2 2.9z"/><path color="#1b80db" d="M161.9 114.5l3.2-2.1l-2.4-0.7l-3.2 2.8z"/><path color="#1b80da" d="M158.8 114.8l3.1-0.3l-2.4 0l-3.1-0.5z"/><path color="#1aacc3" d="M155.6 114.7l3.2 0.1l-2.4-0.8l-3.2-0.6z"/><path color="#4ebe9c" d="M152.4 115.3l3.2-0.6l-2.4-1.3l-3.2 0.3z"/><path color="#73c289" d="M149.3 116.2l3.1-0.9l-2.4-1.6l-3.2 0.8z"/><path color="#87c280" d="M146.1 117.2l3.2-1l-2.5-1.7l-3.1 0.9z"/><path color="#9bc278" d="M142.9 118l3.2-0.8l-2.4-1.8l-3.2 0.9z"/><path color="#aec170" d="M139.8 118.9l3.1-0.9l-2.4-1.7l-3.2 0.9z"/><path color="#b9c06c" d="M136.6 120l3.2-1.1l-2.5-1.7l-3.1 1.2z"/><path color="#b3c16f" d="M133.4 121.4l3.2-1.4l-2.4-1.6l-3.2 1.5z"/><path color="#97c27a" d="M130.3 123l3.1-1.6l-2.4-1.5l-3.2 1.9z"/><path color="#68c18e" d="M127.1 124.7l3.2-1.7l-2.5-1.2l-3.1 1.9z"/><path color="#3ebba5" d="M123.9 126.3l3.2-1.6l-2.4-1l-3.2 1.7z"/><path color="#29b7b3" d="M120.8 127.6l3.1-1.3l-2.4-0.9l-3.2 1.4z"/><path color="#28b7b7" d="M117.6 128.8l3.2-1.2l-2.5-0.8l-3.1 1.1z"/><path color="#3fbeb8" d="M114.4 129.8l3.2-1l-2.4-0.9l-3.2 0.8z"/><path color="#5fc7b6" d="M111.2 130.8l3.2-1l-2.4-1.1l-3.2 0.9z"/><path color="#54c2a5" d="M108.1 132l3.1-1.2l-2.4-1.2l-3.1 0.9z"/><path color="#43bb9a" d="M104.9 133.2l3.2-1.2l-2.4-1.5l-3.2 1.2z"/><path color="#40ba99" d="M101.7 134.4l3.2-1.2l-2.4-1.5l-3.2 1.1zM98.6 135.5l3.1-1.1l-2.4-1.6l-3.1 1.2zM95.4 136.7l3.2-1.2l-2.4-1.5l-3.2 1.2zM92.2 137.9l3.2-1.2l-2.4-1.5l-3.2 1.2zM192.9 103.1l3.2-1.2l-2.5-1.5l-3.1 1.1zM189.7 104.2l3.2-1.1l-2.4-1.6l-3.2 1.2zM186.6 105.4l3.1-1.2l-2.4-1.5l-3.2 1.2zM183.4 106.6l3.2-1.2l-2.5-1.5l-3.1 1.2zM180.2 107.8l3.2-1.2l-2.4-1.5l-3.2 1.1z"/><path color="#42bb99" d="M177 108.9l3.2-1.1l-2.4-1.6l-3.2 1.2z"/><path color="#51bf9e" d="M173.9 110.1l3.1-1.2l-2.4-1.5l-3.1 0.9z"/><path color="#69c8ab" d="M170.7 111.3l3.2-1.2l-2.4-1.8l-3.2 1.7z"/><path color="#47c0c2" d="M167.5 113.2l3.2-1.9l-2.4-1.3l-3.2 2.4z"/><path color="#25a7d2" d="M164.4 114.9l3.1-1.7l-2.4-0.8l-3.2 2.1z"/><path color="#19a3d0" d="M161.2 115.6l3.2-0.7l-2.5-0.4l-3.1 0.3z"/><path color="#27b5b6" d="M158 116l3.2-0.4l-2.4-0.8l-3.2-0.1z"/><path color="#55bf98" d="M154.9 116.8l3.1-0.8l-2.4-1.3l-3.2 0.6z"/><path color="#6fc28b" d="M151.7 117.8l3.2-1l-2.5-1.5l-3.1 0.9z"/><path color="#7cc285" d="M148.5 118.8l3.2-1l-2.4-1.6l-3.2 1z"/><path color="#8dc27e" d="M145.4 119.8l3.1-1l-2.4-1.6l-3.2 0.8z"/><path color="#a0c276" d="M142.2 120.7l3.2-0.9l-2.5-1.8l-3.1 0.9z"/><path color="#acc171" d="M139 121.8l3.2-1.1l-2.4-1.8l-3.2 1.1z"/><path color="#abc172" d="M135.8 123.1l3.2-1.3l-2.4-1.8l-3.2 1.4z"/><path color="#99c279" d="M132.7 124.6l3.1-1.5l-2.4-1.7l-3.1 1.6z"/><path color="#7ac286" d="M129.5 126.1l3.2-1.5l-2.4-1.6l-3.2 1.7z"/><path color="#5dc197" d="M126.3 127.5l3.2-1.4l-2.4-1.4l-3.2 1.6z"/><path color="#54c2a5" d="M123.2 128.8l3.1-1.3l-2.4-1.2l-3.1 1.3z"/><path color="#61c7b0" d="M120 130l3.2-1.2l-2.4-1.2l-3.2 1.2z"/><path color="#63c7af" d="M116.8 131.2l3.2-1.2l-2.4-1.2l-3.2 1z"/><path color="#4dbfa0" d="M113.7 132.4l3.1-1.2l-2.4-1.4l-3.2 1z"/><path color="#42bb99" d="M110.5 133.5l3.2-1.1l-2.5-1.6l-3.1 1.2z"/><path color="#40ba99" d="M107.3 134.7l3.2-1.2l-2.4-1.5l-3.2 1.2zM104.2 135.9l3.1-1.2l-2.4-1.5l-3.2 1.2zM101 137.1l3.2-1.2l-2.5-1.5l-3.1 1.1zM97.8 138.2l3.2-1.1l-2.4-1.6l-3.2 1.2zM94.7 139.4l3.1-1.2l-2.4-1.5l-3.2 1.2zM195.3 104.6l3.2-1.2l-2.4-1.5l-3.2 1.2zM192.1 105.8l3.2-1.2l-2.4-1.5l-3.2 1.1zM189 106.9l3.1-1.1l-2.4-1.6l-3.1 1.2zM185.8 108.1l3.2-1.2l-2.4-1.5l-3.2 1.2zM182.6 109.3l3.2-1.2l-2.4-1.5l-3.2 1.2zM179.5 110.5l3.1-1.2l-2.4-1.5l-3.2 1.1z"/><path color="#41ba99" d="M176.3 111.6l3.2-1.1l-2.5-1.6l-3.1 1.2z"/><path color="#45bc9b" d="M173.1 112.8l3.2-1.2l-2.4-1.5l-3.2 1.2z"/><path color="#4fc1a8" d="M170 114l3.1-1.2l-2.4-1.5l-3.2 1.9z"/><path color="#4bc1c1" d="M166.8 115.4l3.2-1.4l-2.5-0.8l-3.1 1.7z"/><path color="#45c0c6" d="M163.6 116.6l3.2-1.2l-2.4-0.5l-3.2 0.7z"/><path color="#50c2b0" d="M160.5 117.3l3.1-0.7l-2.4-1l-3.2 0.4z"/><path color="#66c499" d="M157.3 118.3l3.2-1l-2.5-1.3l-3.1 0.8z"/><path color="#71c38f" d="M154.1 119.4l3.2-1.1l-2.4-1.5l-3.2 1z"/><path color="#77c38a" d="M150.9 120.5l3.2-1.1l-2.4-1.6l-3.2 1z"/><path color="#82c384" d="M147.8 121.5l3.1-1l-2.4-1.7l-3.1 1z"/><path color="#8fc37f" d="M144.6 122.6l3.2-1.1l-2.4-1.7l-3.2 0.9z"/><path color="#99c37b" d="M141.4 123.7l3.2-1.1l-2.4-1.9l-3.2 1.1z"/><path color="#9bc47d" d="M138.3 124.9l3.1-1.2l-2.4-1.9l-3.2 1.3z"/><path color="#93c585" d="M135.1 126.2l3.2-1.3l-2.5-1.8l-3.1 1.5z"/><path color="#87c893" d="M131.9 127.6l3.2-1.4l-2.4-1.6l-3.2 1.5z"/><path color="#7fcba2" d="M128.8 129.1l3.1-1.5l-2.4-1.5l-3.2 1.4z"/><path color="#71caa9" d="M125.6 130.4l3.2-1.3l-2.5-1.6l-3.1 1.3z"/><path color="#58c2a3" d="M122.4 131.5l3.2-1.1l-2.4-1.6l-3.2 1.2z"/><path color="#45bc9b" d="M119.3 132.7l3.1-1.2l-2.4-1.5l-3.2 1.2z"/><path color="#41ba99" d="M116.1 133.9l3.2-1.2l-2.5-1.5l-3.1 1.2z"/><path color="#40ba99" d="M112.9 135.1l3.2-1.2l-2.4-1.5l-3.2 1.1zM109.8 136.2l3.1-1.1l-2.4-1.6l-3.2 1.2zM106.6 137.4l3.2-1.2l-2.5-1.5l-3.1 1.2zM103.4 138.6l3.2-1.2l-2.4-1.5l-3.2 1.2zM100.2 139.8l3.2-1.2l-2.4-1.5l-3.2 1.1zM97.1 140.9l3.1-1.1l-2.4-1.6l-3.1 1.2zM197.7 106.1l3.2-1.1l-2.4-1.6l-3.2 1.2zM194.6 107.3l3.1-1.2l-2.4-1.5l-3.2 1.2zM191.4 108.5l3.2-1.2l-2.5-1.5l-3.1 1.1zM188.2 109.6l3.2-1.1l-2.4-1.6l-3.2 1.2zM185.1 110.8l3.1-1.2l-2.4-1.5l-3.2 1.2zM181.9 112l3.2-1.2l-2.5-1.5l-3.1 1.2zM178.7 113.2l3.2-1.2l-2.4-1.5l-3.2 1.1zM175.6 114.3l3.1-1.1l-2.4-1.6l-3.2 1.2z"/><path color="#41bb99" d="M172.4 115.5l3.2-1.2l-2.5-1.5l-3.1 1.2z"/><path color="#44bc9c" d="M169.2 116.7l3.2-1.2l-2.4-1.5l-3.2 1.4z"/><path color="#4cbfa4" d="M166 117.8l3.2-1.1l-2.4-1.3l-3.2 1.2z"/><path color="#60c5a8" d="M162.9 119l3.1-1.2l-2.4-1.2l-3.1 0.7z"/><path color="#77caa6" d="M159.7 120.1l3.2-1.1l-2.4-1.7l-3.2 1z"/><path color="#83cca3" d="M156.5 121.1l3.2-1l-2.4-1.8l-3.2 1.1z"/><path color="#87cc9f" d="M153.4 122.2l3.1-1.1l-2.4-1.7l-3.2 1.1z"/><path color="#8ccc9c" d="M150.2 123.3l3.2-1.1l-2.5-1.7l-3.1 1z"/><path color="#92cc99" d="M147 124.5l3.2-1.2l-2.4-1.8l-3.2 1.1z"/><path color="#96cd99" d="M143.9 125.7l3.1-1.2l-2.4-1.9l-3.2 1.1z"/><path color="#94cd9b" d="M140.7 127.1l3.2-1.4l-2.5-2l-3.1 1.2z"/><path color="#87cb9e" d="M137.5 128.4l3.2-1.3l-2.4-2.2l-3.2 1.3z"/><path color="#6fc7a0" d="M134.4 129.6l3.1-1.2l-2.4-2.2l-3.2 1.4z"/><path color="#55c19e" d="M131.2 130.7l3.2-1.1l-2.5-2l-3.1 1.5z"/><path color="#45bc9b" d="M128 131.9l3.2-1.2l-2.4-1.6l-3.2 1.3z"/><path color="#41bb99" d="M124.8 133.1l3.2-1.2l-2.4-1.5l-3.2 1.1z"/><path color="#40ba99" d="M121.7 134.2l3.1-1.1l-2.4-1.6l-3.1 1.2zM118.5 135.4l3.2-1.2l-2.4-1.5l-3.2 1.2zM115.3 136.6l3.2-1.2l-2.4-1.5l-3.2 1.2zM112.2 137.8l3.1-1.2l-2.4-1.5l-3.1 1.1zM109 138.9l3.2-1.1l-2.4-1.6l-3.2 1.2zM105.8 140.1l3.2-1.2l-2.4-1.5l-3.2 1.2zM102.7 141.3l3.1-1.2l-2.4-1.5l-3.2 1.2zM99.5 142.4l3.2-1.1l-2.5-1.5l-3.1 1.1z"/></g><g font-size="7.8" fill="#3c3c3c"><text x="104.0" y="205.7" textLength="3.5" lengthAdjust="spacingAndGlyphs">0</text><text x="91.0" y="205.2" textLength="3.5" lengthAdjust="spacingAndGlyphs">0</text><text x="144.1" y="191.6" textLength="6.9" lengthAdjust="spacingAndGlyphs">50</text><text x="57.3" y="186.1" textLength="6.9" lengthAdjust="spacingAndGlyphs">50</text><text x="183.7" y="176.9" textLength="10.4" lengthAdjust="spacingAndGlyphs">100</text><text x="23.5" y="167.1" textLength="10.4" lengthAdjust="spacingAndGlyphs">100</text><text x="5.8" y="147.7" textLength="10.8" lengthAdjust="spacingAndGlyphs">-0.5</text><text x="13.1" y="94.9" textLength="3.5" lengthAdjust="spacingAndGlyphs">0</text><text x="7.9" y="42.2" textLength="8.7" lengthAdjust="spacingAndGlyphs">0.5</text></g><linearGradient id="gc" x1="0" y1="0" x2="0" y2="1"><stop offset="0.000" stop-color="#f9fb0e"/><stop offset="0.048" stop-color="#f5e41d"/><stop offset="0.095" stop-color="#fad32a"/><stop offset="0.143" stop-color="#ffc337"/><stop offset="0.190" stop-color="#f1b94a"/><stop offset="0.238" stop-color="#d9ba56"/><stop offset="0.286" stop-color="#c0bc60"/><stop offset="0.333" stop-color="#a5be6b"/><stop offset="0.381" stop-color="#87bf77"/><stop offset="0.429" stop-color="#65be86"/><stop offset="0.476" stop-color="#42bb98"/><stop offset="0.524" stop-color="#25b5a9"/><stop offset="0.571" stop-color="#0faeb9"/><stop offset="0.619" stop-color="#06a7c6"/><stop offset="0.667" stop-color="#079ccf"/><stop offset="0.714" stop-color="#108ed2"/><stop offset="0.762" stop-color="#1481d6"/><stop offset="0.810" stop-color="#0d75dc"/><stop offset="0.857" stop-color="#0268e1"/><stop offset="0.905" stop-color="#2053d4"/><stop offset="0.952" stop-color="#353dad"/><stop offset="1.000" stop-color="#352a87"/><stop offset="1.000" stop-color="#352a87"/></linearGradient><rect x="221.1" y="4.1" width="12.9" height="190.8" fill="url(#gc)"/><rect x="221.4" y="4.4" width="12.3" height="190.2" fill="none" stroke="#555" stroke-width=".6"/><path d="M234.0 25.9h-2" stroke="#333" stroke-width=".7"/><path d="M234.0 49.2h-2" stroke="#333" stroke-width=".7"/><path d="M234.0 72.4h-2" stroke="#333" stroke-width=".7"/><path d="M234.0 95.5h-2" stroke="#333" stroke-width=".7"/><path d="M234.0 119.0h-2" stroke="#333" stroke-width=".7"/><path d="M234.0 142.2h-2" stroke="#333" stroke-width=".7"/><path d="M234.0 165.5h-2" stroke="#333" stroke-width=".7"/><path d="M234.0 188.8h-2" stroke="#333" stroke-width=".7"/><g font-size="7.2" fill="#444"><text x="236.6" y="28.4" textLength="11.5" lengthAdjust="spacingAndGlyphs">0.03</text><text x="236.6" y="51.7" textLength="11.5" lengthAdjust="spacingAndGlyphs">0.02</text><text x="236.6" y="74.9" textLength="11.5" lengthAdjust="spacingAndGlyphs">0.01</text><text x="236.6" y="98.0" textLength="3.3" lengthAdjust="spacingAndGlyphs">0</text><text x="236.2" y="121.5" textLength="13.5" lengthAdjust="spacingAndGlyphs">-0.01</text><text x="236.2" y="144.7" textLength="13.5" lengthAdjust="spacingAndGlyphs">-0.02</text><text x="236.2" y="168.0" textLength="13.5" lengthAdjust="spacingAndGlyphs">-0.03</text><text x="236.2" y="191.3" textLength="13.5" lengthAdjust="spacingAndGlyphs">-0.04</text></g>
<g fill="none"><path d="M500.9 157.7L500.9 52.2" stroke="#e4e4e4" stroke-width="1"/><path d="M439.1 180.6L361.6 131.8" stroke="#e4e4e4" stroke-width="0.8"/><path d="M361.6 131.8L361.6 26.3" stroke="#e4e4e4" stroke-width="0.8"/><path d="M369.2 176.1L470.6 138.6" stroke="#e4e4e4" stroke-width="0.8"/><path d="M470.6 138.6L470.6 33.1" stroke="#e4e4e4" stroke-width="0.8"/><path d="M478.7 165.9L401.2 117.1" stroke="#e4e4e4" stroke-width="0.8"/><path d="M401.2 117.1L401.2 11.6" stroke="#e4e4e4" stroke-width="0.8"/><path d="M339.0 157.1L440.4 119.6" stroke="#e4e4e4" stroke-width="0.8"/><path d="M440.4 119.6L440.4 14.1" stroke="#e4e4e4" stroke-width="0.8"/><path d="M322.0 146.4L423.4 108.9" stroke="#e4e4e4" stroke-width="0.8"/><path d="M423.4 108.9L500.9 157.7" stroke="#e4e4e4" stroke-width="0.8"/><path d="M322.0 93.6L423.4 56.1" stroke="#e4e4e4" stroke-width="0.8"/><path d="M423.4 56.1L500.9 104.9" stroke="#e4e4e4" stroke-width="0.8"/><path d="M322.0 40.9L423.4 3.4" stroke="#e4e4e4" stroke-width="0.8"/><path d="M423.4 3.4L500.9 52.2" stroke="#e4e4e4" stroke-width="0.8"/><path d="M322.0 40.6L322.0 146.8" stroke="#b4b4b4" stroke-width="1.3"/><path d="M322.0 146.4L399.5 195.2" stroke="#4a4a4a" stroke-width="1"/><path d="M399.5 195.2L500.9 157.7" stroke="#4a4a4a" stroke-width="1"/><path d="M399.5 195.2L401.1 197.2" stroke="#4a4a4a" stroke-width="0.8"/><path d="M399.5 195.2L397.3 196.6" stroke="#4a4a4a" stroke-width="0.8"/><path d="M439.1 180.6L440.7 182.6" stroke="#4a4a4a" stroke-width="0.8"/><path d="M369.2 176.1L367.0 177.5" stroke="#4a4a4a" stroke-width="0.8"/><path d="M478.7 165.9L480.3 167.9" stroke="#4a4a4a" stroke-width="0.8"/><path d="M339.0 157.1L336.8 158.5" stroke="#4a4a4a" stroke-width="0.8"/><path d="M322.0 146.4L319.6 144.8" stroke="#4a4a4a" stroke-width="0.8"/><path d="M322.0 93.6L319.6 92.0" stroke="#4a4a4a" stroke-width="0.8"/><path d="M322.0 40.9L319.6 39.3" stroke="#4a4a4a" stroke-width="0.8"/></g><g fill="currentColor" stroke="currentColor" stroke-width=".4" stroke-linejoin="round" filter="url(#bl)"><path color="#53bd8f" d="M422.5 59.5l2.3-0.9l-1.8-1.1l-2.4 0.9zM420.1 60.4l2.4-0.9l-1.9-1.1l-2.3 0.9zM417.7 61.3l2.4-0.9l-1.8-1.1l-2.4 0.8zM415.3 62.2l2.4-0.9l-1.8-1.2l-2.4 0.9zM413 63l2.3-0.8l-1.8-1.2l-2.4 0.9zM410.6 63.9l2.4-0.9l-1.9-1.1l-2.3 0.9zM408.2 64.8l2.4-0.9l-1.8-1.1l-2.4 0.9zM405.8 65.7l2.4-0.9l-1.8-1.1l-2.4 0.8zM403.5 66.6l2.3-0.9l-1.8-1.2l-2.4 0.9z"/><path color="#54bd90" d="M401.1 67.4l2.4-0.8l-1.9-1.2l-2.3 0.9z"/><path color="#5abf93" d="M398.7 67.5l2.4-0.1l-1.8-1.1l-2.4 0.9z"/><path color="#7ccca5" d="M396.3 63.5l2.4 4l-1.8-0.3l-2.4 0.8z"/><path color="#b0dbb9" d="M393.9 56.6l2.4 6.9l-1.8 4.5l-2.4 0.6z"/><path color="#dae3bf" d="M391.6 51l2.3 5.6l-1.8 12l-2.3-3.9z"/><path color="#f0e2b7" d="M389.2 51.9l2.4-0.9l-1.8 13.7l-2.4-5.7z"/><path color="#f3e2b7" d="M386.8 55.9l2.4-4l-1.8 7.1l-2.4-2.7z"/><path color="#f0e0b3" d="M384.4 57.6l2.4-1.7l-1.8 0.4l-2.4-1.1z"/><path color="#eedca9" d="M382.1 58l2.3-0.4l-1.8-2.4l-2.4 0.2z"/><path color="#eed9a2" d="M379.7 58.4l2.4-0.4l-1.9-2.6l-2.3 0.7z"/><path color="#eed89e" d="M377.3 58.9l2.4-0.5l-1.8-2.3l-2.4 0.6z"/><path color="#efd89d" d="M374.9 59.7l2.4-0.8l-1.8-2.2l-2.4 0.3z"/><path color="#f1dba4" d="M372.6 60.7l2.3-1l-1.8-2.7l-2.4 0z"/><path color="#f4deab" d="M370.2 61.7l2.4-1l-1.9-3.7l-2.3-0.1z"/><path color="#f6e0b0" d="M367.8 62.7l2.4-1l-1.8-4.8l-2.4 0.4z"/><path color="#f8e2b4" d="M365.4 63.6l2.4-0.9l-1.8-5.4l-2.4 2.7z"/><path color="#f6e3b7" d="M363.1 64.8l2.3-1.2l-1.8-3.6l-2.4 5.9z"/><path color="#ebdeae" d="M360.7 66.7l2.4-1.9l-1.9 1.1l-2.3 8z"/><path color="#ced7a3" d="M358.3 70.2l2.4-3.5l-1.8 7.2l-2.4 6.8z"/><path color="#a0d09e" d="M355.9 77.3l2.4-7.1l-1.8 10.5l-2.4 2.3z"/><path color="#74c79a" d="M353.5 83.6l2.4-6.3l-1.8 5.7l-2.4 0.9z"/><path color="#5dc195" d="M351.2 85.9l2.3-2.3l-1.8 0.3l-2.3 0.8z"/><path color="#56be91" d="M348.8 86.8l2.4-0.9l-1.8-1.2l-2.4 0.9z"/><path color="#53bd8f" d="M346.4 87.6l2.4-0.8l-1.8-1.2l-2.4 0.9zM344 88.5l2.4-0.9l-1.8-1.1l-2.4 0.9zM341.7 89.4l2.3-0.9l-1.8-1.1l-2.4 0.9zM339.3 90.3l2.4-0.9l-1.9-1.1l-2.3 0.8zM336.9 91.2l2.4-0.9l-1.8-1.2l-2.4 0.9zM334.5 92l2.4-0.8l-1.8-1.2l-2.4 0.9zM332.2 92.9l2.3-0.9l-1.8-1.1l-2.4 0.9zM329.8 93.8l2.4-0.9l-1.9-1.1l-2.3 0.9zM327.4 94.7l2.4-0.9l-1.8-1.1l-2.4 0.8zM325 95.6l2.4-0.9l-1.8-1.2l-2.4 0.9zM424.3 60.7l2.4-0.9l-1.9-1.2l-2.3 0.9zM421.9 61.5l2.4-0.8l-1.8-1.2l-2.4 0.9zM419.5 62.4l2.4-0.9l-1.8-1.1l-2.4 0.9zM417.2 63.3l2.3-0.9l-1.8-1.1l-2.4 0.9zM414.8 64.2l2.4-0.9l-1.9-1.1l-2.3 0.8zM412.4 65.1l2.4-0.9l-1.8-1.2l-2.4 0.9zM410 65.9l2.4-0.8l-1.8-1.2l-2.4 0.9z"/><path color="#54bd8f" d="M407.6 66.8l2.4-0.9l-1.8-1.1l-2.4 0.9z"/><path color="#58bf92" d="M405.3 67.4l2.3-0.6l-1.8-1.1l-2.3 0.9z"/><path color="#72c8a0" d="M402.9 64.8l2.4 2.6l-1.8-0.8l-2.4 0.8z"/><path color="#a9dab9" d="M400.5 61.7l2.4 3.1l-1.8 2.6l-2.4 0.1z"/><path color="#c9e0bc" d="M398.1 61.4l2.4 0.3l-1.8 5.8l-2.4-4z"/><path color="#dbe0b8" d="M395.8 59.8l2.3 1.6l-1.8 2.1l-2.4-6.9z"/><path color="#e9dcaa" d="M393.4 56.8l2.4 3l-1.9-3.2l-2.3-5.6z"/><path color="#f3e0b2" d="M391 58.5l2.4-1.7l-1.8-5.8l-2.4 0.9z"/><path color="#ebe0b3" d="M388.6 62.5l2.4-4l-1.8-6.6l-2.4 4z"/><path color="#dfdaa6" d="M386.3 63.6l2.3-1.1l-1.8-6.6l-2.4 1.7z"/><path color="#d7ce88" d="M383.9 62.9l2.4 0.7l-1.9-6l-2.3 0.4z"/><path color="#d8c777" d="M381.5 62.2l2.4 0.7l-1.8-4.9l-2.4 0.4z"/><path color="#dcc672" d="M379.1 62.1l2.4 0.1l-1.8-3.8l-2.4 0.5z"/><path color="#e0c97a" d="M376.8 63l2.3-0.9l-1.8-3.2l-2.4 0.8z"/><path color="#e2cf8b" d="M374.4 64.9l2.4-1.9l-1.9-3.3l-2.3 1z"/><path color="#e2d598" d="M372 67.3l2.4-2.4l-1.8-4.2l-2.4 1z"/><path color="#e1d9a2" d="M369.6 69.9l2.4-2.6l-1.8-5.6l-2.4 1z"/><path color="#e0dcad" d="M367.2 72.6l2.4-2.7l-1.8-7.2l-2.4 0.9z"/><path color="#e0e1b7" d="M364.9 75.3l2.3-2.7l-1.8-9l-2.3 1.2z"/><path color="#e1e5c2" d="M362.5 77.9l2.4-2.6l-1.8-10.5l-2.4 1.9z"/><path color="#e1e8cb" d="M360.1 80.6l2.4-2.7l-1.8-11.2l-2.4 3.5z"/><path color="#d9e7ca" d="M357.7 83.4l2.4-2.8l-1.8-10.4l-2.4 7.1z"/><path color="#c1e1c3" d="M355.4 86.4l2.3-3l-1.8-6.1l-2.4 6.3z"/><path color="#98d6b8" d="M353 88.9l2.4-2.5l-1.9-2.8l-2.3 2.3z"/><path color="#6cc7a2" d="M350.6 88.7l2.4 0.2l-1.8-3l-2.4 0.9z"/><path color="#5bc094" d="M348.2 88.8l2.4-0.1l-1.8-1.9l-2.4 0.8z"/><path color="#54bd90" d="M345.9 89.7l2.3-0.9l-1.8-1.2l-2.4 0.9z"/><path color="#53bd8f" d="M343.5 90.5l2.4-0.8l-1.9-1.2l-2.3 0.9zM341.1 91.4l2.4-0.9l-1.8-1.1l-2.4 0.9zM338.7 92.3l2.4-0.9l-1.8-1.1l-2.4 0.9zM336.4 93.2l2.3-0.9l-1.8-1.1l-2.4 0.8zM334 94.1l2.4-0.9l-1.9-1.2l-2.3 0.9zM331.6 94.9l2.4-0.8l-1.8-1.2l-2.4 0.9zM329.2 95.8l2.4-0.9l-1.8-1.1l-2.4 0.9zM326.8 96.7l2.4-0.9l-1.8-1.1l-2.4 0.9zM426.1 61.8l2.4-0.9l-1.8-1.1l-2.4 0.9zM423.7 62.7l2.4-0.9l-1.8-1.1l-2.4 0.8zM421.3 63.6l2.4-0.9l-1.8-1.2l-2.4 0.9zM419 64.4l2.3-0.8l-1.8-1.2l-2.3 0.9zM416.6 65.3l2.4-0.9l-1.8-1.1l-2.4 0.9zM414.2 66.2l2.4-0.9l-1.8-1.1l-2.4 0.9z"/><path color="#55bd90" d="M411.8 67.1l2.4-0.9l-1.8-1.1l-2.4 0.8z"/><path color="#61c297" d="M409.5 66.2l2.3 0.9l-1.8-1.2l-2.4 0.9z"/><path color="#94d3b0" d="M407.1 62.4l2.4 3.8l-1.9 0.6l-2.3 0.6z"/><path color="#c1dfbe" d="M404.7 62l2.4 0.4l-1.8 5l-2.4-2.6z"/><path color="#cbdfb9" d="M402.3 63.3l2.4-1.3l-1.8 2.8l-2.4-3.1z"/><path color="#cde0b9" d="M400 64.9l2.3-1.6l-1.8-1.6l-2.4-0.3z"/><path color="#c5d9a9" d="M397.6 65.4l2.4-0.5l-1.9-3.5l-2.3-1.6z"/><path color="#c6d194" d="M395.2 64.8l2.4 0.6l-1.8-5.6l-2.4-3z"/><path color="#d4d9a5" d="M392.8 67.2l2.4-2.4l-1.8-8l-2.4 1.7z"/><path color="#c8d8a6" d="M390.5 70.8l2.3-3.6l-1.8-8.7l-2.4 4z"/><path color="#b9d39e" d="M388.1 71.4l2.4-0.6l-1.9-8.3l-2.3 1.1z"/><path color="#b1c883" d="M385.7 70.3l2.4 1.1l-1.8-7.8l-2.4-0.7z"/><path color="#b9c475" d="M383.3 68.9l2.4 1.4l-1.8-7.4l-2.4-0.7z"/><path color="#c7c678" d="M380.9 68.1l2.4 0.8l-1.8-6.7l-2.4-0.1z"/><path color="#d1cc84" d="M378.6 68.4l2.3-0.3l-1.8-6l-2.3 0.9z"/><path color="#d3cf8d" d="M376.2 70l2.4-1.6l-1.8-5.4l-2.4 1.9z"/><path color="#ced295" d="M373.8 72.7l2.4-2.7l-1.8-5.1l-2.4 2.4z"/><path color="#c5d49d" d="M371.4 76.2l2.4-3.5l-1.8-5.4l-2.4 2.6z"/><path color="#bbd6a6" d="M369.1 80.3l2.3-4.1l-1.8-6.3l-2.4 2.7z"/><path color="#afd8b0" d="M366.7 84.8l2.4-4.5l-1.9-7.7l-2.3 2.7z"/><path color="#a6dabc" d="M364.3 89.2l2.4-4.4l-1.8-9.5l-2.4 2.6z"/><path color="#a2dcc8" d="M361.9 93.1l2.4-3.9l-1.8-11.3l-2.4 2.7z"/><path color="#a8e0d5" d="M359.6 96.2l2.3-3.1l-1.8-12.5l-2.4 2.8z"/><path color="#b2e4df" d="M357.2 98.4l2.4-2.2l-1.9-12.8l-2.3 3z"/><path color="#b6e6e4" d="M354.8 99.8l2.4-1.4l-1.8-12l-2.4 2.5z"/><path color="#9fded9" d="M352.4 100.5l2.4-0.7l-1.8-10.9l-2.4-0.2z"/><path color="#6bcab6" d="M350 95.2l2.4 5.3l-1.8-11.8l-2.4 0.1z"/><path color="#5fc29b" d="M347.7 90.8l2.3 4.4l-1.8-6.4l-2.3 0.9z"/><path color="#56be91" d="M345.3 91.7l2.4-0.9l-1.8-1.1l-2.4 0.8z"/><path color="#53bd8f" d="M342.9 92.6l2.4-0.9l-1.8-1.2l-2.4 0.9zM340.5 93.4l2.4-0.8l-1.8-1.2l-2.4 0.9zM338.2 94.3l2.3-0.9l-1.8-1.1l-2.3 0.9zM335.8 95.2l2.4-0.9l-1.8-1.1l-2.4 0.9zM333.4 96.1l2.4-0.9l-1.8-1.1l-2.4 0.8zM331 97l2.4-0.9l-1.8-1.2l-2.4 0.9zM328.7 97.8l2.3-0.8l-1.8-1.2l-2.4 0.9zM427.9 63l2.4-0.9l-1.8-1.2l-2.4 0.9zM425.5 63.8l2.4-0.8l-1.8-1.2l-2.4 0.9zM423.2 64.7l2.3-0.9l-1.8-1.1l-2.4 0.9zM420.8 65.6l2.4-0.9l-1.9-1.1l-2.3 0.8zM418.4 66.5l2.4-0.9l-1.8-1.2l-2.4 0.9z"/><path color="#56be91" d="M416 67.3l2.4-0.8l-1.8-1.2l-2.4 0.9z"/><path color="#6dc69e" d="M413.7 64.9l2.3 2.4l-1.8-1.1l-2.4 0.9z"/><path color="#addbba" d="M411.3 61l2.4 3.9l-1.9 2.2l-2.3-0.9z"/><path color="#cbe0bc" d="M408.9 61.5l2.4-0.5l-1.8 5.2l-2.4-3.8z"/><path color="#ccdeb5" d="M406.5 62.5l2.4-1l-1.8 0.9l-2.4-0.4z"/><path color="#bfd7a5" d="M404.1 64.2l2.3-1.7l-1.8-0.5l-2.4 1.3z"/><path color="#abce93" d="M401.8 66.4l2.4-2.2l-1.9-0.9l-2.3 1.6z"/><path color="#9eca8e" d="M399.4 68.5l2.4-2.1l-1.8-1.5l-2.4 0.5z"/><path color="#a5ce95" d="M397 70.2l2.4-1.7l-1.8-3.1l-2.4-0.6z"/><path color="#acd4a5" d="M394.6 73.5l2.4-3.3l-1.8-5.4l-2.4 2.4z"/><path color="#9dd4ad" d="M392.3 77.3l2.3-3.8l-1.8-6.3l-2.3 3.6z"/><path color="#8fd2af" d="M389.9 79.2l2.4-1.9l-1.8-6.5l-2.4 0.6z"/><path color="#8ccfa6" d="M387.5 79.5l2.4-0.3l-1.8-7.8l-2.4-1.1z"/><path color="#95ce9e" d="M385.1 79l2.4 0.5l-1.8-9.2l-2.4-1.4z"/><path color="#a4cf9b" d="M382.8 78.3l2.3 0.7l-1.8-10.1l-2.4-0.8z"/><path color="#b1d29d" d="M380.4 78l2.4 0.3l-1.9-10.2l-2.3 0.3z"/><path color="#b7d4a0" d="M378 78.5l2.4-0.5l-1.8-9.6l-2.4 1.6z"/><path color="#b4d5a4" d="M375.6 80l2.4-1.5l-1.8-8.5l-2.4 2.7z"/><path color="#a9d5a8" d="M373.3 82.9l2.3-2.9l-1.8-7.3l-2.4 3.5z"/><path color="#98d4b1" d="M370.9 86.9l2.4-4l-1.9-6.7l-2.3 4.1z"/><path color="#83d2bd" d="M368.5 92l2.4-5.1l-1.8-6.6l-2.4 4.5z"/><path color="#71cfcb" d="M366.1 97.6l2.4-5.6l-1.8-7.2l-2.4 4.4z"/><path color="#69cbd6" d="M363.7 102.9l2.4-5.3l-1.8-8.4l-2.4 3.9z"/><path color="#6dc9de" d="M361.4 107l2.3-4.1l-1.8-9.8l-2.3 3.1z"/><path color="#7bcae4" d="M359 109.5l2.4-2.5l-1.8-10.8l-2.4 2.2z"/><path color="#8ed0e8" d="M356.6 110.5l2.4-1l-1.8-11.1l-2.4 1.4z"/><path color="#9fd8ec" d="M354.2 110.3l2.4 0.2l-1.8-10.7l-2.4 0.7z"/><path color="#98d8e8" d="M351.9 109.3l2.3 1l-1.8-9.8l-2.4-5.3z"/><path color="#6dcccc" d="M349.5 102.6l2.4 6.7l-1.9-14.1l-2.3-4.4z"/><path color="#5fc4a4" d="M347.1 93.5l2.4 9.1l-1.8-11.8l-2.4 0.9z"/><path color="#58bf92" d="M344.7 93.7l2.4-0.2l-1.8-1.8l-2.4 0.9z"/><path color="#53bd8f" d="M342.4 94.6l2.3-0.9l-1.8-1.1l-2.4 0.8zM340 95.5l2.4-0.9l-1.9-1.2l-2.3 0.9zM337.6 96.4l2.4-0.9l-1.8-1.2l-2.4 0.9zM335.2 97.2l2.4-0.8l-1.8-1.2l-2.4 0.9zM332.9 98.1l2.3-0.9l-1.8-1.1l-2.4 0.9zM330.5 99l2.4-0.9l-1.9-1.1l-2.3 0.8zM429.7 64.1l2.4-0.9l-1.8-1.1l-2.4 0.9zM427.4 65l2.3-0.9l-1.8-1.1l-2.4 0.8zM425 65.9l2.4-0.9l-1.9-1.2l-2.3 0.9zM422.6 66.7l2.4-0.8l-1.8-1.2l-2.4 0.9z"/><path color="#56be91" d="M420.2 67.6l2.4-0.9l-1.8-1.1l-2.4 0.9z"/><path color="#74c9a1" d="M417.8 64.2l2.4 3.4l-1.8-1.1l-2.4 0.8z"/><path color="#badebe" d="M415.5 60.8l2.3 3.4l-1.8 3.1l-2.3-2.4z"/><path color="#cfe0ba" d="M413.1 61.1l2.4-0.3l-1.8 4.1l-2.4-3.9z"/><path color="#ccdbae" d="M410.7 61.6l2.4-0.5l-1.8-0.1l-2.4 0.5z"/><path color="#bdd094" d="M408.3 62.5l2.4-0.9l-1.8-0.1l-2.4 1z"/><path color="#adc781" d="M406 63.9l2.3-1.4l-1.8 0l-2.3 1.7z"/><path color="#a0c47b" d="M403.6 65.8l2.4-1.9l-1.8 0.3l-2.4 2.2z"/><path color="#93c37c" d="M401.2 68.1l2.4-2.3l-1.8 0.6l-2.4 2.1z"/><path color="#89c382" d="M398.8 70.9l2.4-2.8l-1.8 0.4l-2.4 1.7z"/><path color="#80c791" d="M396.5 74.8l2.3-3.9l-1.8-0.7l-2.4 3.3z"/><path color="#6bc7a2" d="M394.1 79.2l2.4-4.4l-1.9-1.3l-2.3 3.8z"/><path color="#62c8b3" d="M391.7 83l2.4-3.8l-1.8-1.9l-2.4 1.9z"/><path color="#6bccbf" d="M389.3 85.9l2.4-2.9l-1.8-3.8l-2.4 0.3z"/><path color="#70cec2" d="M387 87.9l2.3-2l-1.8-6.4l-2.4-0.5z"/><path color="#74cec0" d="M384.6 88.9l2.4-1l-1.9-8.9l-2.3-0.7z"/><path color="#79cfbd" d="M382.2 89.3l2.4-0.4l-1.8-10.6l-2.4-0.3z"/><path color="#7fd0bb" d="M379.8 89.4l2.4-0.1l-1.8-11.3l-2.4 0.5z"/><path color="#83d2bb" d="M377.4 89.8l2.4-0.4l-1.8-10.9l-2.4 1.5z"/><path color="#82d2be" d="M375.1 91.3l2.3-1.5l-1.8-9.8l-2.3 2.9z"/><path color="#77d0c4" d="M372.7 94.3l2.4-3l-1.8-8.4l-2.4 4z"/><path color="#68ccce" d="M370.3 98.7l2.4-4.4l-1.8-7.4l-2.4 5.1z"/><path color="#5dc6d8" d="M367.9 104.2l2.4-5.5l-1.8-6.7l-2.4 5.6z"/><path color="#5ebde0" d="M365.6 109.7l2.3-5.5l-1.8-6.6l-2.4 5.3z"/><path color="#64b4e2" d="M363.2 114.2l2.4-4.5l-1.9-6.8l-2.3 4.1z"/><path color="#67aee5" d="M360.8 117.1l2.4-2.9l-1.8-7.2l-2.4 2.5z"/><path color="#67ace6" d="M358.4 118.3l2.4-1.2l-1.8-7.6l-2.4 1z"/><path color="#6bafe6" d="M356.1 118.1l2.3 0.2l-1.8-7.8l-2.4-0.2z"/><path color="#78b9e7" d="M353.7 116.5l2.4 1.6l-1.9-7.8l-2.3-1z"/><path color="#8ac9e9" d="M351.3 113.8l2.4 2.7l-1.8-7.2l-2.4-6.7z"/><path color="#6fcbd7" d="M348.9 106.8l2.4 7l-1.8-11.2l-2.4-9.1z"/><path color="#60c5aa" d="M346.6 95.9l2.3 10.9l-1.8-13.3l-2.4 0.2z"/><path color="#59bf93" d="M344.2 95.7l2.4 0.2l-1.9-2.2l-2.3 0.9z"/><path color="#53bd8f" d="M341.8 96.6l2.4-0.9l-1.8-1.1l-2.4 0.9zM339.4 97.5l2.4-0.9l-1.8-1.1l-2.4 0.9zM337 98.4l2.4-0.9l-1.8-1.1l-2.4 0.8zM334.7 99.3l2.3-0.9l-1.8-1.2l-2.3 0.9zM332.3 100.1l2.4-0.8l-1.8-1.2l-2.4 0.9zM431.5 65.2l2.4-0.8l-1.8-1.2l-2.4 0.9zM429.2 66.1l2.3-0.9l-1.8-1.1l-2.3 0.9zM426.8 67l2.4-0.9l-1.8-1.1l-2.4 0.9z"/><path color="#56be91" d="M424.4 67.9l2.4-0.9l-1.8-1.1l-2.4 0.8z"/><path color="#74c9a1" d="M422 64.3l2.4 3.6l-1.8-1.2l-2.4 0.9z"/><path color="#bedfbf" d="M419.7 60.7l2.3 3.6l-1.8 3.3l-2.4-3.4z"/><path color="#d0e0b8" d="M417.3 60.8l2.4-0.1l-1.9 3.5l-2.3-3.4z"/><path color="#cbd9a7" d="M414.9 61l2.4-0.2l-1.8 0l-2.4 0.3z"/><path color="#bdcc89" d="M412.5 61.4l2.4-0.4l-1.8 0.1l-2.4 0.5z"/><path color="#b5c477" d="M410.2 62l2.3-0.6l-1.8 0.2l-2.4 0.9z"/><path color="#b1c271" d="M407.8 63l2.4-1l-1.9 0.5l-2.3 1.4z"/><path color="#adc171" d="M405.4 64.4l2.4-1.4l-1.8 0.9l-2.4 1.9z"/><path color="#a5c274" d="M403 66.3l2.4-1.9l-1.8 1.4l-2.4 2.3z"/><path color="#9ac279" d="M400.7 68.8l2.3-2.5l-1.8 1.8l-2.4 2.8z"/><path color="#87c280" d="M398.3 72.2l2.4-3.4l-1.9 2.1l-2.3 3.9z"/><path color="#6ac18d" d="M395.9 76.5l2.4-4.3l-1.8 2.6l-2.4 4.4z"/><path color="#4abe9e" d="M393.5 81.2l2.4-4.7l-1.8 2.7l-2.4 3.8z"/><path color="#37bbaf" d="M391.1 86l2.4-4.8l-1.8 1.8l-2.4 2.9z"/><path color="#3abdc0" d="M388.8 90.4l2.3-4.4l-1.8-0.1l-2.3 2z"/><path color="#48c1cd" d="M386.4 94l2.4-3.6l-1.8-2.5l-2.4 1z"/><path color="#55c5d3" d="M384 96.6l2.4-2.6l-1.8-5.1l-2.4 0.4z"/><path color="#59c5d4" d="M381.6 98.1l2.4-1.5l-1.8-7.3l-2.4 0.1z"/><path color="#5bc6d4" d="M379.3 99.1l2.3-1l-1.8-8.7l-2.4 0.4z"/><path color="#5fc8d5" d="M376.9 100.4l2.4-1.3l-1.9-9.3l-2.3 1.5z"/><path color="#61c7d8" d="M374.5 102.6l2.4-2.2l-1.8-9.1l-2.4 3z"/><path color="#5fc4dc" d="M372.1 106l2.4-3.4l-1.8-8.3l-2.4 4.4z"/><path color="#5fbbe0" d="M369.8 110.5l2.3-4.5l-1.8-7.3l-2.4 5.5z"/><path color="#61afe2" d="M367.4 115.1l2.4-4.6l-1.9-6.3l-2.3 5.5z"/><path color="#5ca4e5" d="M365 119.1l2.4-4l-1.8-5.4l-2.4 4.5z"/><path color="#519be8" d="M362.6 121.7l2.4-2.6l-1.8-4.9l-2.4 2.9z"/><path color="#3e8ee7" d="M360.3 122.8l2.3-1.1l-1.8-4.6l-2.4 1.2z"/><path color="#2983e4" d="M357.9 122.8l2.4 0l-1.9-4.5l-2.3-0.2z"/><path color="#348be2" d="M355.5 121.5l2.4 1.3l-1.8-4.7l-2.4-1.6z"/><path color="#64aae5" d="M353.1 118.6l2.4 2.9l-1.8-5l-2.4-2.7z"/><path color="#86c6e8" d="M350.7 114.3l2.4 4.3l-1.8-4.8l-2.4-7z"/><path color="#73cdd9" d="M348.4 106.8l2.3 7.5l-1.8-7.5l-2.3-10.9z"/><path color="#63c6a9" d="M346 97.4l2.4 9.4l-1.8-10.9l-2.4-0.2z"/><path color="#58bf93" d="M343.6 97.8l2.4-0.4l-1.8-1.7l-2.4 0.9z"/><path color="#53bd8f" d="M341.2 98.6l2.4-0.8l-1.8-1.2l-2.4 0.9zM338.9 99.5l2.3-0.9l-1.8-1.1l-2.4 0.9zM336.5 100.4l2.4-0.9l-1.9-1.1l-2.3 0.9zM334.1 101.3l2.4-0.9l-1.8-1.1l-2.4 0.8zM433.4 66.4l2.3-0.9l-1.8-1.1l-2.4 0.8zM431 67.3l2.4-0.9l-1.9-1.2l-2.3 0.9z"/><path color="#55bd90" d="M428.6 68.1l2.4-0.8l-1.8-1.2l-2.4 0.9z"/><path color="#6ec79e" d="M426.2 65.3l2.4 2.8l-1.8-1.1l-2.4 0.9z"/><path color="#bbdebd" d="M423.9 60.5l2.3 4.8l-1.8 2.6l-2.4-3.6z"/><path color="#d2e0b8" d="M421.5 60.5l2.4 0l-1.9 3.8l-2.3-3.6z"/><path color="#cdd8a4" d="M419.1 60.5l2.4 0l-1.8 0.2l-2.4 0.1z"/><path color="#c0ca83" d="M416.7 60.7l2.4-0.2l-1.8 0.3l-2.4 0.2z"/><path color="#bbc371" d="M414.4 60.9l2.3-0.2l-1.8 0.3l-2.4 0.4z"/><path color="#bcc06c" d="M412 61.4l2.4-0.5l-1.9 0.5l-2.3 0.6z"/><path color="#bdc06a" d="M409.6 62.1l2.4-0.7l-1.8 0.6l-2.4 1z"/><path color="#bdc06b" d="M407.2 63.1l2.4-1l-1.8 0.9l-2.4 1.4z"/><path color="#b9c06c" d="M404.8 64.5l2.4-1.4l-1.8 1.3l-2.4 1.9z"/><path color="#b2c16f" d="M402.5 66.4l2.3-1.9l-1.8 1.8l-2.3 2.5z"/><path color="#a6c174" d="M400.1 69l2.4-2.6l-1.8 2.4l-2.4 3.4z"/><path color="#92c27c" d="M397.7 72.3l2.4-3.3l-1.8 3.2l-2.4 4.3z"/><path color="#75c288" d="M395.3 76.4l2.4-4.1l-1.8 4.2l-2.4 4.7z"/><path color="#53bf99" d="M393 81.3l2.3-4.9l-1.8 4.8l-2.4 4.8z"/><path color="#33b9ac" d="M390.6 86.5l2.4-5.2l-1.9 4.7l-2.3 4.4z"/><path color="#1db3bc" d="M388.2 91.7l2.4-5.2l-1.8 3.9l-2.4 3.6z"/><path color="#1aaec9" d="M385.8 96.6l2.4-4.9l-1.8 2.3l-2.4 2.6z"/><path color="#2bb0d3" d="M383.5 100.6l2.3-4l-1.8 0l-2.4 1.5z"/><path color="#43b5db" d="M381.1 103.9l2.4-3.3l-1.9-2.5l-2.3 1z"/><path color="#55b9df" d="M378.7 106.8l2.4-2.9l-1.8-4.8l-2.4 1.3z"/><path color="#5eb8e1" d="M376.3 109.7l2.4-2.9l-1.8-6.4l-2.4 2.2z"/><path color="#63b4e2" d="M374 113l2.3-3.3l-1.8-7.1l-2.4 3.4z"/><path color="#63ade4" d="M371.6 116.6l2.4-3.6l-1.9-7l-2.3 4.5z"/><path color="#5da4e6" d="M369.2 120.2l2.4-3.6l-1.8-6.1l-2.4 4.6z"/><path color="#4f98e8" d="M366.8 123.1l2.4-2.9l-1.8-5.1l-2.4 4z"/><path color="#3988e7" d="M364.4 124.8l2.4-1.7l-1.8-4l-2.4 2.6z"/><path color="#1770e3" d="M362.1 125.4l2.3-0.6l-1.8-3.1l-2.3 1.1z"/><path color="#0f6ee3" d="M359.7 125.4l2.4 0l-1.8-2.6l-2.4 0z"/><path color="#1576e2" d="M357.3 124.2l2.4 1.2l-1.8-2.6l-2.4-1.3z"/><path color="#2f89e1" d="M354.9 121.3l2.4 2.9l-1.8-2.7l-2.4-2.9z"/><path color="#60ace3" d="M352.6 116.8l2.3 4.5l-1.8-2.7l-2.4-4.3z"/><path color="#82cce7" d="M350.2 111.5l2.4 5.3l-1.9-2.5l-2.3-7.5z"/><path color="#77d0d2" d="M347.8 104.2l2.4 7.3l-1.8-4.7l-2.4-9.4z"/><path color="#65c5a3" d="M345.4 99l2.4 5.2l-1.8-6.8l-2.4 0.4z"/><path color="#57be92" d="M343.1 99.8l2.3-0.8l-1.8-1.2l-2.4 0.8z"/><path color="#53bd8f" d="M340.7 100.7l2.4-0.9l-1.9-1.2l-2.3 0.9zM338.3 101.5l2.4-0.8l-1.8-1.2l-2.4 0.9zM335.9 102.4l2.4-0.9l-1.8-1.1l-2.4 0.9zM435.2 67.5l2.4-0.9l-1.9-1.1l-2.3 0.9z"/><path color="#54bd8f" d="M432.8 68.4l2.4-0.9l-1.8-1.1l-2.4 0.9z"/><path color="#61c298" d="M430.4 67.2l2.4 1.2l-1.8-1.1l-2.4 0.8z"/><path color="#afdbb9" d="M428.1 60.6l2.3 6.6l-1.8 0.9l-2.4-2.8z"/><path color="#d4e0b9" d="M425.7 60.2l2.4 0.4l-1.9 4.7l-2.3-4.8z"/><path color="#d0d8a5" d="M423.3 60l2.4 0.2l-1.8 0.3l-2.4 0z"/><path color="#c4ca82" d="M420.9 60l2.4 0l-1.8 0.5l-2.4 0z"/><path color="#c2c26e" d="M418.5 60l2.4 0l-1.8 0.5l-2.4 0.2z"/><path color="#c5c068" d="M416.2 60.2l2.3-0.2l-1.8 0.7l-2.3 0.2z"/><path color="#c8bf66" d="M413.8 60.6l2.4-0.4l-1.8 0.7l-2.4 0.5z"/><path color="#cbbf65" d="M411.4 61.1l2.4-0.5l-1.8 0.8l-2.4 0.7zM409 62l2.4-0.9l-1.8 1l-2.4 1z"/><path color="#cabf65" d="M406.7 63.1l2.3-1.1l-1.8 1.1l-2.4 1.4z"/><path color="#c6bf67" d="M404.3 64.7l2.4-1.6l-1.9 1.4l-2.3 1.9z"/><path color="#bfc06a" d="M401.9 66.6l2.4-1.9l-1.8 1.7l-2.4 2.6z"/><path color="#b3c16e" d="M399.5 69.1l2.4-2.5l-1.8 2.4l-2.4 3.3z"/><path color="#a2c275" d="M397.2 72.3l2.3-3.2l-1.8 3.2l-2.4 4.1z"/><path color="#89c280" d="M394.8 76.1l2.4-3.8l-1.9 4.1l-2.3 4.9z"/><path color="#67c18f" d="M392.4 80.7l2.4-4.6l-1.8 5.2l-2.4 5.2z"/><path color="#43bca2" d="M390 85.9l2.4-5.2l-1.8 5.8l-2.4 5.2z"/><path color="#25b5b6" d="M387.6 91.5l2.4-5.6l-1.8 5.8l-2.4 4.9z"/><path color="#15adc5" d="M385.3 97.2l2.3-5.7l-1.8 5.1l-2.3 4z"/><path color="#13a4d0" d="M382.9 102.8l2.4-5.6l-1.8 3.4l-2.4 3.3z"/><path color="#279ed7" d="M380.5 108l2.4-5.2l-1.8 1.1l-2.4 2.9z"/><path color="#439fdc" d="M378.1 112.7l2.4-4.7l-1.8-1.2l-2.4 2.9z"/><path color="#53a0e3" d="M375.8 117l2.3-4.3l-1.8-3l-2.3 3.3z"/><path color="#529ce7" d="M373.4 120.8l2.4-3.8l-1.8-4l-2.4 3.6z"/><path color="#4993e9" d="M371 123.9l2.4-3.1l-1.8-4.2l-2.4 3.6z"/><path color="#3c84e7" d="M368.6 126l2.4-2.1l-1.8-3.7l-2.4 2.9z"/><path color="#266de1" d="M366.3 127.1l2.3-1.1l-1.8-2.9l-2.4 1.7z"/><path color="#1965df" d="M363.9 127.3l2.4-0.2l-1.9-2.3l-2.3 0.6z"/><path color="#126ae2" d="M361.5 126.7l2.4 0.6l-1.8-1.9l-2.4 0z"/><path color="#1071e2" d="M359.1 125.1l2.4 1.6l-1.8-1.3l-2.4-1.2z"/><path color="#1b7ddf" d="M356.8 122l2.3 3.1l-1.8-0.9l-2.4-2.9z"/><path color="#3494db" d="M354.4 117.5l2.4 4.5l-1.9-0.7l-2.3-4.5z"/><path color="#5cbbe0" d="M352 112.3l2.4 5.2l-1.8-0.7l-2.4-5.3z"/><path color="#84d5df" d="M349.6 107.2l2.4 5.1l-1.8-0.8l-2.4-7.3z"/><path color="#7ed2c2" d="M347.2 101.8l2.4 5.4l-1.8-3l-2.4-5.2z"/><path color="#64c49b" d="M344.9 100.9l2.3 0.9l-1.8-2.8l-2.3 0.8z"/><path color="#55be90" d="M342.5 101.8l2.4-0.9l-1.8-1.1l-2.4 0.9z"/><path color="#53bd8f" d="M340.1 102.7l2.4-0.9l-1.8-1.1l-2.4 0.8zM337.7 103.6l2.4-0.9l-1.8-1.2l-2.4 0.9zM437 68.7l2.4-0.9l-1.8-1.2l-2.4 0.9z"/><path color="#58bf92" d="M434.6 69.2l2.4-0.5l-1.8-1.2l-2.4 0.9z"/><path color="#98d4b1" d="M432.2 62l2.4 7.2l-1.8-0.8l-2.4-1.2z"/><path color="#d3e1bb" d="M429.9 59.9l2.3 2.1l-1.8 5.2l-2.3-6.6z"/><path color="#d6dbaa" d="M427.5 59.5l2.4 0.4l-1.8 0.7l-2.4-0.4z"/><path color="#cbcb84" d="M425.1 59.2l2.4 0.3l-1.8 0.7l-2.4-0.2z"/><path color="#c8c26c" d="M422.7 59.1l2.4 0.1l-1.8 0.8l-2.4 0z"/><path color="#ccbf65" d="M420.4 59.1l2.3 0l-1.8 0.9l-2.4 0z"/><path color="#d1be62" d="M418 59.3l2.4-0.2l-1.9 0.9l-2.3 0.2z"/><path color="#d5be61" d="M415.6 59.6l2.4-0.3l-1.8 0.9l-2.4 0.4z"/><path color="#d8be5f" d="M413.2 60.2l2.4-0.6l-1.8 1l-2.4 0.5z"/><path color="#d9be5f" d="M410.9 61l2.3-0.8l-1.8 0.9l-2.4 0.9z"/><path color="#d8be5f" d="M408.5 62.1l2.4-1.1l-1.9 1l-2.3 1.1z"/><path color="#d6be60" d="M406.1 63.5l2.4-1.4l-1.8 1l-2.4 1.6z"/><path color="#d1be62" d="M403.7 65.3l2.4-1.8l-1.8 1.2l-2.4 1.9z"/><path color="#c9bf65" d="M401.3 67.4l2.4-2.1l-1.8 1.3l-2.4 2.5z"/><path color="#bec06a" d="M399 69.9l2.3-2.5l-1.8 1.7l-2.3 3.2z"/><path color="#afc170" d="M396.6 72.9l2.4-3l-1.8 2.4l-2.4 3.8z"/><path color="#9ac279" d="M394.2 76.6l2.4-3.7l-1.8 3.2l-2.4 4.6z"/><path color="#7cc285" d="M391.8 81.1l2.4-4.5l-1.8 4.1l-2.4 5.2z"/><path color="#55bf98" d="M389.5 86.3l2.3-5.2l-1.8 4.8l-2.4 5.6z"/><path color="#30b8ae" d="M387.1 92.4l2.4-6.1l-1.9 5.2l-2.3 5.7z"/><path color="#18afc2" d="M384.7 98.8l2.4-6.4l-1.8 4.8l-2.4 5.6z"/><path color="#14a3d0" d="M382.3 105.2l2.4-6.4l-1.8 4l-2.4 5.2z"/><path color="#1d92d5" d="M380 111.2l2.3-6l-1.8 2.8l-2.4 4.7z"/><path color="#1f84da" d="M377.6 116.5l2.4-5.3l-1.9 1.5l-2.3 4.3z"/><path color="#1d7de1" d="M375.2 120.9l2.4-4.4l-1.8 0.5l-2.4 3.8z"/><path color="#1673e3" d="M372.8 124.3l2.4-3.4l-1.8-0.1l-2.4 3.1z"/><path color="#1967e0" d="M370.5 126.5l2.3-2.2l-1.8-0.4l-2.4 2.1z"/><path color="#1f62dd" d="M368.1 127.5l2.4-1l-1.9-0.5l-2.3 1.1z"/><path color="#1b64df" d="M365.7 127.4l2.4 0.1l-1.8-0.4l-2.4 0.2z"/><path color="#116be2" d="M363.3 126.4l2.4 1l-1.8-0.1l-2.4-0.6z"/><path color="#1174e1" d="M360.9 124.3l2.4 2.1l-1.8 0.3l-2.4-1.6z"/><path color="#2182de" d="M358.6 121l2.3 3.3l-1.8 0.8l-2.3-3.1z"/><path color="#2f96d9" d="M356.2 116.6l2.4 4.4l-1.8 1l-2.4-4.5z"/><path color="#38b0d8" d="M353.8 111.7l2.4 4.9l-1.8 0.9l-2.4-5.2z"/><path color="#68cbd6" d="M351.4 107.1l2.4 4.6l-1.8 0.6l-2.4-5.1z"/><path color="#94dad2" d="M349.1 103.3l2.3 3.8l-1.8 0.1l-2.4-5.4z"/><path color="#7fcfb0" d="M346.7 101.8l2.4 1.5l-1.9-1.5l-2.3-0.9z"/><path color="#5dc196" d="M344.3 102.9l2.4-1.1l-1.8-0.9l-2.4 0.9z"/><path color="#54bd8f" d="M341.9 103.8l2.4-0.9l-1.8-1.1l-2.4 0.9z"/><path color="#53bd8f" d="M339.6 104.7l2.3-0.9l-1.8-1.1l-2.4 0.9z"/><path color="#54bd90" d="M438.8 69.8l2.4-0.9l-1.8-1.1l-2.4 0.9z"/><path color="#76c9a2" d="M436.4 65.6l2.4 4.2l-1.8-1.1l-2.4 0.5z"/><path color="#cae0bd" d="M434.1 59.8l2.3 5.8l-1.8 3.6l-2.4-7.2z"/><path color="#daddb0" d="M431.7 59l2.4 0.8l-1.9 2.2l-2.3-2.1z"/><path color="#d3cf8c" d="M429.3 58.4l2.4 0.6l-1.8 0.9l-2.4-0.4z"/><path color="#d0c26c" d="M426.9 58l2.4 0.4l-1.8 1.1l-2.4-0.3z"/><path color="#d4be62" d="M424.6 57.9l2.3 0.1l-1.8 1.2l-2.4-0.1z"/><path color="#dabe5f" d="M422.2 58l2.4-0.1l-1.9 1.2l-2.3 0z"/><path color="#dfbd5c" d="M419.8 58.3l2.4-0.3l-1.8 1.1l-2.4 0.2z"/><path color="#e2bd5b" d="M417.4 58.7l2.4-0.4l-1.8 1l-2.4 0.3z"/><path color="#e5bd59" d="M415 59.3l2.4-0.6l-1.8 0.9l-2.4 0.6z"/><path color="#e6bd59" d="M412.7 60.1l2.3-0.8l-1.8 0.9l-2.3 0.8zM410.3 61.2l2.4-1.1l-1.8 0.9l-2.4 1.1z"/><path color="#e3bd5a" d="M407.9 62.7l2.4-1.5l-1.8 0.9l-2.4 1.4z"/><path color="#dfbd5c" d="M405.5 64.4l2.4-1.7l-1.8 0.8l-2.4 1.8z"/><path color="#d8be5f" d="M403.2 66.5l2.3-2.1l-1.8 0.9l-2.4 2.1z"/><path color="#cfbf63" d="M400.8 68.9l2.4-2.4l-1.9 0.9l-2.3 2.5z"/><path color="#c4c068" d="M398.4 71.7l2.4-2.8l-1.8 1l-2.4 3z"/><path color="#b4c16e" d="M396 75l2.4-3.3l-1.8 1.2l-2.4 3.7z"/><path color="#9fc276" d="M393.7 79l2.3-4l-1.8 1.6l-2.4 4.5z"/><path color="#80c283" d="M391.3 83.9l2.4-4.9l-1.9 2.1l-2.3 5.2z"/><path color="#57bf97" d="M388.9 89.7l2.4-5.8l-1.8 2.4l-2.4 6.1z"/><path color="#2eb8af" d="M386.5 96l2.4-6.3l-1.8 2.7l-2.4 6.4z"/><path color="#16aec4" d="M384.2 102.4l2.3-6.4l-1.8 2.8l-2.4 6.4z"/><path color="#15a0d1" d="M381.8 108.2l2.4-5.8l-1.9 2.8l-2.3 6z"/><path color="#1e8ed6" d="M379.4 113.3l2.4-5.1l-1.8 3l-2.4 5.3z"/><path color="#1c81db" d="M377 117.6l2.4-4.3l-1.8 3.2l-2.4 4.4z"/><path color="#1578e0" d="M374.6 120.9l2.4-3.3l-1.8 3.3l-2.4 3.4z"/><path color="#1171e2" d="M372.3 123.3l2.3-2.4l-1.8 3.4l-2.3 2.2z"/><path color="#116ee2" d="M369.9 124.6l2.4-1.3l-1.8 3.2l-2.4 1z"/><path color="#106fe2" d="M367.5 124.8l2.4-0.2l-1.8 2.9l-2.4-0.1z"/><path color="#1b7ae2" d="M365.1 123.8l2.4 1l-1.8 2.6l-2.4-1z"/><path color="#338be2" d="M362.8 121.7l2.3 2.1l-1.8 2.6l-2.4-2.1z"/><path color="#459cdf" d="M360.4 118.5l2.4 3.2l-1.9 2.6l-2.3-3.3z"/><path color="#42aadc" d="M358 114.5l2.4 4l-1.8 2.5l-2.4-4.4z"/><path color="#39b6d4" d="M355.6 110.3l2.4 4.2l-1.8 2.1l-2.4-4.9z"/><path color="#4bc2c7" d="M353.3 106.4l2.3 3.9l-1.8 1.4l-2.4-4.6z"/><path color="#8dd7ca" d="M350.9 103.2l2.4 3.2l-1.9 0.7l-2.3-3.8z"/><path color="#a1dbc2" d="M348.5 101.6l2.4 1.6l-1.8 0.1l-2.4-1.5z"/><path color="#74c9a1" d="M346.1 104.1l2.4-2.5l-1.8 0.2l-2.4 1.1z"/><path color="#57be92" d="M343.8 105l2.3-0.9l-1.8-1.2l-2.4 0.9z"/><path color="#53bd8f" d="M341.4 105.8l2.4-0.8l-1.9-1.2l-2.3 0.9z"/><path color="#5abf93" d="M440.6 70l2.4 0.1l-1.8-1.2l-2.4 0.9z"/><path color="#abd9b6" d="M438.3 60.8l2.3 9.2l-1.8-0.2l-2.4-4.2z"/><path color="#dbe0b6" d="M435.9 58.9l2.4 1.9l-1.9 4.8l-2.3-5.8z"/><path color="#dbd59a" d="M433.5 57.8l2.4 1.1l-1.8 0.9l-2.4-0.8z"/><path color="#d8c470" d="M431.1 57l2.4 0.8l-1.8 1.2l-2.4-0.6z"/><path color="#ddbe5f" d="M428.7 56.6l2.4 0.4l-1.8 1.4l-2.4-0.4z"/><path color="#e4bd5a" d="M426.4 56.6l2.3 0l-1.8 1.4l-2.3-0.1z"/><path color="#e9bd58" d="M424 56.8l2.4-0.2l-1.8 1.3l-2.4 0.1z"/><path color="#edbd55" d="M421.6 57.2l2.4-0.4l-1.8 1.2l-2.4 0.3z"/><path color="#f0bd54" d="M419.2 57.7l2.4-0.5l-1.8 1.1l-2.4 0.4z"/><path color="#f2bd52" d="M416.9 58.4l2.3-0.7l-1.8 1l-2.4 0.6zM414.5 59.3l2.4-0.9l-1.9 0.9l-2.3 0.8zM412.1 60.5l2.4-1.2l-1.8 0.8l-2.4 1.1z"/><path color="#efbd54" d="M409.7 62l2.4-1.5l-1.8 0.7l-2.4 1.5z"/><path color="#eabd57" d="M407.4 63.9l2.3-1.9l-1.8 0.7l-2.4 1.7z"/><path color="#e4bd5a" d="M405 66l2.4-2.1l-1.9 0.5l-2.3 2.1z"/><path color="#dbbe5e" d="M402.6 68.5l2.4-2.5l-1.8 0.5l-2.4 2.4z"/><path color="#d0bf63" d="M400.2 71.4l2.4-2.9l-1.8 0.4l-2.4 2.8z"/><path color="#c1c069" d="M397.9 74.8l2.3-3.4l-1.8 0.3l-2.4 3.3z"/><path color="#aec170" d="M395.5 78.9l2.4-4.1l-1.9 0.2l-2.3 4z"/><path color="#93c27c" d="M393.1 83.9l2.4-5l-1.8 0.1l-2.4 4.9z"/><path color="#6ec28f" d="M390.7 89.7l2.4-5.8l-1.8 0l-2.4 5.8z"/><path color="#43bda6" d="M388.3 95.8l2.4-6.1l-1.8 0l-2.4 6.3z"/><path color="#1fb3bb" d="M386 101.6l2.3-5.8l-1.8 0.2l-2.3 6.4z"/><path color="#13a9cb" d="M383.6 106.5l2.4-4.9l-1.8 0.8l-2.4 5.8z"/><path color="#169dd3" d="M381.2 110.2l2.4-3.7l-1.8 1.7l-2.4 5.1z"/><path color="#1d92d5" d="M378.8 113.1l2.4-2.9l-1.8 3.1l-2.4 4.3z"/><path color="#1f89d7" d="M376.5 115.5l2.3-2.4l-1.8 4.5l-2.4 3.3z"/><path color="#1d84da" d="M374.1 117.5l2.4-2l-1.9 5.4l-2.3 2.4z"/><path color="#1c81db" d="M371.7 119l2.4-1.5l-1.8 5.8l-2.4 1.3z"/><path color="#2a88de" d="M369.3 119.6l2.4-0.6l-1.8 5.6l-2.4 0.2z"/><path color="#4499e0" d="M367 119.1l2.3 0.5l-1.8 5.2l-2.4-1z"/><path color="#50a5e0" d="M364.6 117.5l2.4 1.6l-1.9 4.7l-2.3-2.1z"/><path color="#4fafde" d="M362.2 114.9l2.4 2.6l-1.8 4.2l-2.4-3.2z"/><path color="#45b8d9" d="M359.8 111.7l2.4 3.2l-1.8 3.6l-2.4-4z"/><path color="#3cbccb" d="M357.5 108.4l2.3 3.3l-1.8 2.8l-2.4-4.2z"/><path color="#3fbeb7" d="M355.1 105.5l2.4 2.9l-1.9 1.9l-2.3-3.9z"/><path color="#76ceb6" d="M352.7 103.1l2.4 2.4l-1.8 0.9l-2.4-3.2z"/><path color="#aedec3" d="M350.3 101.4l2.4 1.7l-1.8 0.1l-2.4-1.6z"/><path color="#99d5b0" d="M347.9 103.6l2.4-2.2l-1.8 0.2l-2.4 2.5z"/><path color="#62c298" d="M345.6 106.1l2.3-2.5l-1.8 0.5l-2.3 0.9z"/><path color="#54bd90" d="M343.2 107l2.4-0.9l-1.8-1.1l-2.4 0.8z"/><path color="#79caa3" d="M442.4 66.6l2.4 4.6l-1.8-1.1l-2.4-0.1z"/><path color="#d0e1bb" d="M440.1 59.6l2.3 7l-1.8 3.4l-2.3-9.2z"/><path color="#e1dbaa" d="M437.7 58l2.4 1.6l-1.8 1.2l-2.4-1.9z"/><path color="#dfca7d" d="M435.3 56.5l2.4 1.5l-1.8 0.9l-2.4-1.1z"/><path color="#e4bf5f" d="M432.9 55.5l2.4 1l-1.8 1.3l-2.4-0.8z"/><path color="#edbd55" d="M430.6 55.1l2.3 0.4l-1.8 1.5l-2.4-0.4z"/><path color="#f3bd51" d="M428.2 55.2l2.4-0.1l-1.9 1.5l-2.3 0z"/><path color="#f7be4e" d="M425.8 55.7l2.4-0.5l-1.8 1.4l-2.4 0.2z"/><path color="#f9bf4c" d="M423.4 56.3l2.4-0.6l-1.8 1.1l-2.4 0.4z"/><path color="#fbc04a" d="M421.1 56.9l2.3-0.6l-1.8 0.9l-2.4 0.5z"/><path color="#fcc049" d="M418.7 57.7l2.4-0.8l-1.9 0.8l-2.3 0.7zM416.3 58.7l2.4-1l-1.8 0.7l-2.4 0.9z"/><path color="#fbc04a" d="M413.9 59.9l2.4-1.2l-1.8 0.6l-2.4 1.2z"/><path color="#f9bf4d" d="M411.6 61.5l2.3-1.6l-1.8 0.6l-2.4 1.5z"/><path color="#f5bd50" d="M409.2 63.4l2.4-1.9l-1.9 0.5l-2.3 1.9z"/><path color="#eebd55" d="M406.8 65.7l2.4-2.3l-1.8 0.5l-2.4 2.1z"/><path color="#e4bd5a" d="M404.4 68.3l2.4-2.6l-1.8 0.3l-2.4 2.5z"/><path color="#d9be5f" d="M402 71.3l2.4-3l-1.8 0.2l-2.4 2.9z"/><path color="#c9bf65" d="M399.7 74.9l2.3-3.6l-1.8 0.1l-2.3 3.4z"/><path color="#b5c16e" d="M397.3 79.3l2.4-4.4l-1.8-0.1l-2.4 4.1z"/><path color="#9dc47e" d="M394.9 84.7l2.4-5.4l-1.8-0.4l-2.4 5z"/><path color="#80c896" d="M392.5 90.7l2.4-6l-1.8-0.8l-2.4 5.8z"/><path color="#59c4ad" d="M390.2 96.8l2.3-6.1l-1.8-1l-2.4 6.1z"/><path color="#2fb9bc" d="M387.8 102.1l2.4-5.3l-1.9-1l-2.3 5.8z"/><path color="#13adc6" d="M385.4 106l2.4-3.9l-1.8-0.5l-2.4 4.9z"/><path color="#13a6ce" d="M383 108.3l2.4-2.3l-1.8 0.5l-2.4 3.7z"/><path color="#14a2d1" d="M380.7 109.5l2.3-1.2l-1.8 1.9l-2.4 2.9z"/><path color="#159ed2" d="M378.3 110.4l2.4-0.9l-1.9 3.6l-2.3 2.4z"/><path color="#179cd3" d="M375.9 111.4l2.4-1l-1.8 5.1l-2.4 2z"/><path color="#1c9cd4" d="M373.5 112.5l2.4-1.1l-1.8 6.1l-2.4 1.5z"/><path color="#2fa3d7" d="M371.1 113.2l2.3-0.7l-1.8 6.5l-2.4 0.6z"/><path color="#40addb" d="M368.8 113.2l2.4 0l-1.9 6.4l-2.3-0.5z"/><path color="#49b6db" d="M366.4 112.4l2.4 0.8l-1.8 5.9l-2.4-1.6z"/><path color="#49bcd7" d="M364 110.7l2.4 1.7l-1.8 5.1l-2.4-2.6z"/><path color="#45bfcd" d="M361.6 108.7l2.4 2l-1.8 4.2l-2.4-3.2z"/><path color="#3fbebc" d="M359.3 106.6l2.3 2.1l-1.8 3l-2.3-3.3z"/><path color="#41bda6" d="M356.9 104.7l2.4 1.9l-1.8 1.8l-2.4-2.9z"/><path color="#69c6a2" d="M354.5 103.1l2.4 1.6l-1.8 0.8l-2.4-2.4z"/><path color="#a4d8b6" d="M352.1 101.8l2.4 1.3l-1.8 0l-2.4-1.7z"/><path color="#b7ddbc" d="M349.8 102.1l2.3-0.3l-1.8-0.4l-2.4 2.2z"/><path color="#7ccaa1" d="M347.4 107.2l2.4-5.1l-1.9 1.5l-2.3 2.5z"/><path color="#57be92" d="M345 108.1l2.4-0.9l-1.8-1.1l-2.4 0.9z"/><path color="#a3d6b2" d="M444.3 62.6l2.3 9.5l-1.8-0.9l-2.4-4.6z"/><path color="#dedfb5" d="M441.9 59.3l2.4 3.3l-1.9 4l-2.3-7z"/><path color="#e3d395" d="M439.5 57.2l2.4 2.1l-1.8 0.3l-2.4-1.6z"/><path color="#e7c266" d="M437.1 55.5l2.4 1.7l-1.8 0.8l-2.4-1.5z"/><path color="#f2be53" d="M434.8 54.4l2.3 1.1l-1.8 1l-2.4-1z"/><path color="#fac04b" d="M432.4 54l2.4 0.4l-1.9 1.1l-2.3-0.4z"/><path color="#fdc346" d="M430 54.2l2.4-0.2l-1.8 1.1l-2.4 0.1z"/><path color="#fec443" d="M427.6 54.9l2.4-0.7l-1.8 1l-2.4 0.5z"/><path color="#fec542" d="M425.3 55.6l2.3-0.7l-1.8 0.8l-2.4 0.6z"/><path color="#fec642" d="M422.9 56.5l2.4-0.9l-1.9 0.7l-2.3 0.6z"/><path color="#fec641" d="M420.5 57.3l2.4-0.8l-1.8 0.4l-2.4 0.8zM418.1 58.3l2.4-1l-1.8 0.4l-2.4 1z"/><path color="#fec542" d="M415.7 59.6l2.4-1.3l-1.8 0.4l-2.4 1.2z"/><path color="#fec345" d="M413.4 61.2l2.3-1.6l-1.8 0.3l-2.3 1.6z"/><path color="#fcc049" d="M411 63.1l2.4-1.9l-1.8 0.3l-2.4 1.9z"/><path color="#f6be4f" d="M408.6 65.4l2.4-2.3l-1.8 0.3l-2.4 2.3z"/><path color="#edbd55" d="M406.2 68.1l2.4-2.7l-1.8 0.3l-2.4 2.6z"/><path color="#e0bd5c" d="M403.9 71.3l2.3-3.2l-1.8 0.2l-2.4 3z"/><path color="#d1be63" d="M401.5 75l2.4-3.7l-1.9 0l-2.3 3.6z"/><path color="#bbc06b" d="M399.1 79.6l2.4-4.6l-1.8-0.1l-2.4 4.4z"/><path color="#9fc278" d="M396.7 85l2.4-5.4l-1.8-0.3l-2.4 5.4z"/><path color="#7ac48d" d="M394.4 91.1l2.3-6.1l-1.8-0.3l-2.4 6z"/><path color="#4ec0a4" d="M392 97.1l2.4-6l-1.9-0.4l-2.3 6.1z"/><path color="#27b6b6" d="M389.6 102.1l2.4-5l-1.8-0.3l-2.4 5.3z"/><path color="#16afc2" d="M387.2 105.3l2.4-3.2l-1.8 0l-2.4 3.9z"/><path color="#13acc8" d="M384.8 106.6l2.4-1.3l-1.8 0.7l-2.4 2.3z"/><path color="#13abc9" d="M382.5 106.7l2.3-0.1l-1.8 1.7l-2.3 1.2z"/><path color="#14acc7" d="M380.1 106.5l2.4 0.2l-1.8 2.8l-2.4 0.9z"/><path color="#18aec6" d="M377.7 106.5l2.4 0l-1.8 3.9l-2.4 1z"/><path color="#1bb0c6" d="M375.3 107l2.4-0.5l-1.8 4.9l-2.4 1.1z"/><path color="#21b2c7" d="M373 107.6l2.3-0.6l-1.8 5.5l-2.3 0.7z"/><path color="#2eb7c8" d="M370.6 107.9l2.4-0.3l-1.8 5.6l-2.4 0z"/><path color="#3bbcc8" d="M368.2 107.7l2.4 0.2l-1.8 5.3l-2.4-0.8z"/><path color="#41bfc3" d="M365.8 107l2.4 0.7l-1.8 4.7l-2.4-1.7z"/><path color="#40beb7" d="M363.5 106.1l2.3 0.9l-1.8 3.7l-2.4-2z"/><path color="#40bca6" d="M361.1 105.1l2.4 1l-1.9 2.6l-2.3-2.1z"/><path color="#51bf9a" d="M358.7 104.2l2.4 0.9l-1.8 1.5l-2.4-1.9z"/><path color="#6ac394" d="M356.3 103.4l2.4 0.8l-1.8 0.5l-2.4-1.6z"/><path color="#96d0a3" d="M354 102.4l2.3 1l-1.8-0.3l-2.4-1.3z"/><path color="#bfdfbc" d="M351.6 101.5l2.4 0.9l-1.9-0.6l-2.3 0.3z"/><path color="#9fd4ab" d="M349.2 106.7l2.4-5.2l-1.8 0.6l-2.4 5.1z"/><path color="#61c297" d="M346.8 109.3l2.4-2.6l-1.8 0.5l-2.4 0.9z"/><path color="#c4deb8" d="M446.1 61.7l2.4 9.2l-1.9 1.2l-2.3-9.5z"/><path color="#e2ddac" d="M443.7 59.5l2.4 2.2l-1.8 0.9l-2.4-3.3z"/><path color="#e4cb7e" d="M441.3 57.1l2.4 2.4l-1.8-0.2l-2.4-2.1z"/><path color="#f0bf59" d="M438.9 55.2l2.3 1.9l-1.8 0.1l-2.4-1.7z"/><path color="#fbc049" d="M436.6 54l2.4 1.2l-1.9 0.3l-2.3-1.1z"/><path color="#fec641" d="M434.2 53.6l2.4 0.4l-1.8 0.4l-2.4-0.4z"/><path color="#feca3e" d="M431.8 53.9l2.4-0.3l-1.8 0.4l-2.4 0.2z"/><path color="#fecb3c" d="M429.4 54.7l2.4-0.8l-1.8 0.3l-2.4 0.7z"/><path color="#fecc3c" d="M427.1 55.5l2.3-0.8l-1.8 0.2l-2.3 0.7zM424.7 56.4l2.4-0.9l-1.8 0.1l-2.4 0.9zM422.3 57.2l2.4-0.8l-1.8 0.1l-2.4 0.8zM419.9 58.2l2.4-1l-1.8 0.1l-2.4 1z"/><path color="#fecb3d" d="M417.6 59.4l2.3-1.2l-1.8 0.1l-2.4 1.3z"/><path color="#fec93f" d="M415.2 60.9l2.4-1.5l-1.9 0.2l-2.3 1.6z"/><path color="#fec542" d="M412.8 62.8l2.4-1.9l-1.8 0.3l-2.4 1.9z"/><path color="#fcc148" d="M410.4 65.1l2.4-2.3l-1.8 0.3l-2.4 2.3z"/><path color="#f5bd50" d="M408.1 67.8l2.3-2.7l-1.8 0.3l-2.4 2.7z"/><path color="#e9bd58" d="M405.7 71l2.4-3.2l-1.9 0.3l-2.3 3.2z"/><path color="#d9be5f" d="M403.3 74.7l2.4-3.7l-1.8 0.3l-2.4 3.7z"/><path color="#c4c068" d="M400.9 79.2l2.4-4.5l-1.8 0.3l-2.4 4.6z"/><path color="#a7c173" d="M398.5 84.4l2.4-5.2l-1.8 0.4l-2.4 5.4z"/><path color="#80c283" d="M396.2 90.2l2.3-5.8l-1.8 0.6l-2.3 6.1z"/><path color="#52bf99" d="M393.8 95.9l2.4-5.7l-1.8 0.9l-2.4 6z"/><path color="#30b9ae" d="M391.4 100.5l2.4-4.6l-1.8 1.2l-2.4 5z"/><path color="#1eb3ba" d="M389 103.4l2.4-2.9l-1.8 1.6l-2.4 3.2z"/><path color="#19b1bf" d="M386.7 104.4l2.3-1l-1.8 1.9l-2.4 1.3z"/><path color="#1bb2bd" d="M384.3 104.1l2.4 0.3l-1.9 2.2l-2.3 0.1z"/><path color="#21b4b8" d="M381.9 103.5l2.4 0.6l-1.8 2.6l-2.4-0.2z"/><path color="#29b7b3" d="M379.5 103.1l2.4 0.4l-1.8 3l-2.4 0z"/><path color="#2db8b0" d="M377.2 103.3l2.3-0.2l-1.8 3.4l-2.4 0.5z"/><path color="#30b9ae" d="M374.8 103.7l2.4-0.4l-1.9 3.7l-2.3 0.6z"/><path color="#33b9ac" d="M372.4 104.2l2.4-0.5l-1.8 3.9l-2.4 0.3z"/><path color="#38bbaa" d="M370 104.5l2.4-0.3l-1.8 3.7l-2.4-0.2z"/><path color="#3fbca5" d="M367.7 104.5l2.3 0l-1.8 3.2l-2.4-0.7z"/><path color="#49bd9f" d="M365.3 104.4l2.4 0.1l-1.9 2.5l-2.3-0.9z"/><path color="#55bf98" d="M362.9 104.2l2.4 0.2l-1.8 1.7l-2.4-1z"/><path color="#61c191" d="M360.5 104.2l2.4 0l-1.8 0.9l-2.4-0.9z"/><path color="#6fc28d" d="M358.1 103.9l2.4 0.3l-1.8 0l-2.4-0.8z"/><path color="#8bc994" d="M355.8 103.2l2.3 0.7l-1.8-0.5l-2.3-1z"/><path color="#badab2" d="M353.4 102.1l2.4 1.1l-1.8-0.8l-2.4-0.9z"/><path color="#bcdcb4" d="M351 104.8l2.4-2.7l-1.8-0.6l-2.4 5.2z"/><path color="#73c79d" d="M348.6 110.4l2.4-5.6l-1.8 1.9l-2.4 2.6z"/><path color="#d3dfb6" d="M447.9 62.6l2.4 6.2l-1.8 2.1l-2.4-9.2z"/><path color="#e1d8a1" d="M445.5 60.3l2.4 2.3l-1.8-0.9l-2.4-2.2z"/><path color="#e5c46d" d="M443.1 57.9l2.4 2.4l-1.8-0.8l-2.4-2.4z"/><path color="#f5be52" d="M440.8 55.9l2.3 2l-1.8-0.8l-2.3-1.9z"/><path color="#fec444" d="M438.4 54.6l2.4 1.3l-1.8-0.7l-2.4-1.2z"/><path color="#feca3d" d="M436 54.2l2.4 0.4l-1.8-0.6l-2.4-0.4z"/><path color="#fdce3a" d="M433.6 54.5l2.4-0.3l-1.8-0.6l-2.4 0.3z"/><path color="#fccf39" d="M431.3 55.2l2.3-0.7l-1.8-0.6l-2.4 0.8z"/><path color="#fcd038" d="M428.9 56l2.4-0.8l-1.9-0.5l-2.3 0.8zM426.5 56.7l2.4-0.7l-1.8-0.5l-2.4 0.9zM424.1 57.4l2.4-0.7l-1.8-0.3l-2.4 0.8z"/><path color="#fcd138" d="M421.8 58.2l2.3-0.8l-1.8-0.2l-2.4 1z"/><path color="#fcd038" d="M419.4 59.2l2.4-1l-1.9 0l-2.3 1.2z"/><path color="#fdcf3a" d="M417 60.6l2.4-1.4l-1.8 0.2l-2.4 1.5z"/><path color="#fecb3c" d="M414.6 62.3l2.4-1.7l-1.8 0.3l-2.4 1.9z"/><path color="#fec741" d="M412.2 64.5l2.4-2.2l-1.8 0.5l-2.4 2.3z"/><path color="#fcc148" d="M409.9 67.1l2.3-2.6l-1.8 0.6l-2.3 2.7z"/><path color="#f3bd51" d="M407.5 70.1l2.4-3l-1.8 0.7l-2.4 3.2z"/><path color="#e4bd5a" d="M405.1 73.7l2.4-3.6l-1.8 0.9l-2.4 3.7z"/><path color="#d0bf63" d="M402.7 78l2.4-4.3l-1.8 1l-2.4 4.5z"/><path color="#b6c16d" d="M400.4 82.9l2.3-4.9l-1.8 1.2l-2.4 5.2z"/><path color="#94c27b" d="M398 88.2l2.4-5.3l-1.9 1.5l-2.3 5.8z"/><path color="#6cc18c" d="M395.6 93.4l2.4-5.2l-1.8 2l-2.4 5.7z"/><path color="#48bd9f" d="M393.2 97.6l2.4-4.2l-1.8 2.5l-2.4 4.6z"/><path color="#33b9ac" d="M390.9 100.3l2.3-2.7l-1.8 2.9l-2.4 2.9z"/><path color="#2db8b0" d="M388.5 101.5l2.4-1.2l-1.9 3.1l-2.3 1z"/><path color="#30b9ae" d="M386.1 101.5l2.4 0l-1.8 2.9l-2.4-0.3z"/><path color="#39bba8" d="M383.7 101.2l2.4 0.3l-1.8 2.6l-2.4-0.6z"/><path color="#42bca2" d="M381.4 101l2.3 0.2l-1.8 2.3l-2.4-0.4z"/><path color="#4abe9e" d="M379 101.2l2.4-0.2l-1.9 2.1l-2.3 0.2z"/><path color="#4fbe9b" d="M376.6 101.7l2.4-0.5l-1.8 2.1l-2.4 0.4z"/><path color="#52bf9a" d="M374.2 102.3l2.4-0.6l-1.8 2l-2.4 0.5z"/><path color="#55bf98" d="M371.8 102.9l2.4-0.6l-1.8 1.9l-2.4 0.3z"/><path color="#5ac095" d="M369.5 103.3l2.3-0.4l-1.8 1.6l-2.3 0z"/><path color="#60c092" d="M367.1 103.8l2.4-0.5l-1.8 1.2l-2.4-0.1z"/><path color="#66c18f" d="M364.7 104.2l2.4-0.4l-1.8 0.6l-2.4-0.2z"/><path color="#6dc18c" d="M362.3 104.6l2.4-0.4l-1.8 0l-2.4 0z"/><path color="#75c289" d="M360 104.7l2.3-0.1l-1.8-0.4l-2.4-0.3z"/><path color="#86c68b" d="M357.6 104.1l2.4 0.6l-1.9-0.8l-2.3-0.7z"/><path color="#b0d4a4" d="M355.2 102.8l2.4 1.3l-1.8-0.9l-2.4-1.1z"/><path color="#cadfb8" d="M352.8 102.8l2.4 0l-1.8-0.7l-2.4 2.7z"/><path color="#8fcea3" d="M350.5 111.4l2.3-8.6l-1.8 2l-2.4 5.6z"/><path color="#d8dfb3" d="M449.7 63.9l2.4 3.6l-1.8 1.3l-2.4-6.2z"/><path color="#ddd293" d="M447.3 61.7l2.4 2.2l-1.8-1.3l-2.4-2.3z"/><path color="#e4c164" d="M445 59.4l2.3 2.3l-1.8-1.4l-2.4-2.4z"/><path color="#f4be51" d="M442.6 57.6l2.4 1.8l-1.9-1.5l-2.3-2z"/><path color="#fec345" d="M440.2 56.3l2.4 1.3l-1.8-1.7l-2.4-1.3z"/><path color="#feca3d" d="M437.8 55.9l2.4 0.4l-1.8-1.7l-2.4-0.4z"/><path color="#fdce3a" d="M435.5 56l2.3-0.1l-1.8-1.7l-2.4 0.3z"/><path color="#fcd038" d="M433.1 56.5l2.4-0.5l-1.9-1.5l-2.3 0.7z"/><path color="#fcd138" d="M430.7 57l2.4-0.5l-1.8-1.3l-2.4 0.8z"/><path color="#fbd237" d="M428.3 57.5l2.4-0.5l-1.8-1l-2.4 0.7z"/><path color="#fbd336" d="M425.9 57.9l2.4-0.4l-1.8-0.8l-2.4 0.7z"/><path color="#fad435" d="M423.6 58.4l2.3-0.5l-1.8-0.5l-2.3 0.8z"/><path color="#fad534" d="M421.2 59l2.4-0.6l-1.8-0.2l-2.4 1z"/><path color="#fad435" d="M418.8 60l2.4-1l-1.8 0.2l-2.4 1.4z"/><path color="#fbd236" d="M416.4 61.4l2.4-1.4l-1.8 0.6l-2.4 1.7z"/><path color="#fdcf3a" d="M414.1 63.3l2.3-1.9l-1.8 0.9l-2.4 2.2z"/><path color="#fec93f" d="M411.7 65.7l2.4-2.4l-1.9 1.2l-2.3 2.6z"/><path color="#fcc247" d="M409.3 68.6l2.4-2.9l-1.8 1.4l-2.4 3z"/><path color="#f2bd52" d="M406.9 72l2.4-3.4l-1.8 1.5l-2.4 3.6z"/><path color="#e0bd5c" d="M404.6 76.1l2.3-4.1l-1.8 1.7l-2.4 4.3z"/><path color="#c9bf65" d="M402.2 80.6l2.4-4.5l-1.9 1.9l-2.3 4.9z"/><path color="#aec171" d="M399.8 85.4l2.4-4.8l-1.8 2.3l-2.4 5.3z"/><path color="#8ec27e" d="M397.4 90.1l2.4-4.7l-1.8 2.8l-2.4 5.2z"/><path color="#6dc18c" d="M395.1 94.1l2.3-4l-1.8 3.3l-2.4 4.2z"/><path color="#56bf97" d="M392.7 97l2.4-2.9l-1.9 3.5l-2.3 2.7z"/><path color="#4cbe9d" d="M390.3 98.6l2.4-1.6l-1.8 3.3l-2.4 1.2zM387.9 99.3l2.4-0.7l-1.8 2.9l-2.4 0z"/><path color="#53bf99" d="M385.5 99.6l2.4-0.3l-1.8 2.2l-2.4-0.3z"/><path color="#5bc095" d="M383.2 99.8l2.3-0.2l-1.8 1.6l-2.3-0.2z"/><path color="#61c191" d="M380.8 100.3l2.4-0.5l-1.8 1.2l-2.4 0.2z"/><path color="#65c18f" d="M378.4 101l2.4-0.7l-1.8 0.9l-2.4 0.5z"/><path color="#67c18e" d="M376 101.8l2.4-0.8l-1.8 0.7l-2.4 0.6z"/><path color="#69c18e" d="M373.7 102.5l2.3-0.7l-1.8 0.5l-2.4 0.6z"/><path color="#6bc18c" d="M371.3 103.3l2.4-0.8l-1.9 0.4l-2.3 0.4z"/><path color="#6ec18b" d="M368.9 104l2.4-0.7l-1.8 0l-2.4 0.5z"/><path color="#71c28a" d="M366.5 104.7l2.4-0.7l-1.8-0.2l-2.4 0.4z"/><path color="#74c288" d="M364.2 105.3l2.3-0.6l-1.8-0.5l-2.4 0.4z"/><path color="#78c287" d="M361.8 105.7l2.4-0.4l-1.9-0.7l-2.3 0.1z"/><path color="#83c486" d="M359.4 105.2l2.4 0.5l-1.8-1l-2.4-0.6z"/><path color="#a6ce97" d="M357 103.6l2.4 1.6l-1.8-1.1l-2.4-1.3z"/><path color="#cedeb5" d="M354.6 102l2.4 1.6l-1.8-0.8l-2.4 0z"/><path color="#aad4a8" d="M352.3 111.2l2.3-9.2l-1.8 0.8l-2.3 8.6z"/><path color="#d9deb2" d="M451.5 65.4l2.4 2l-1.8 0.1l-2.4-3.6z"/><path color="#d7ce88" d="M449.2 63.4l2.3 2l-1.8-1.5l-2.4-2.2z"/><path color="#dfbf62" d="M446.8 61.5l2.4 1.9l-1.9-1.7l-2.3-2.3z"/><path color="#f0bd54" d="M444.4 59.9l2.4 1.6l-1.8-2.1l-2.4-1.8z"/><path color="#fbc049" d="M442 58.8l2.4 1.1l-1.8-2.3l-2.4-1.3z"/><path color="#fec641" d="M439.6 58.3l2.4 0.5l-1.8-2.5l-2.4-0.4z"/><path color="#fecb3d" d="M437.3 58.3l2.3 0l-1.8-2.4l-2.3 0.1z"/><path color="#fdcd3a" d="M434.9 58.4l2.4-0.1l-1.8-2.3l-2.4 0.5z"/><path color="#fcd039" d="M432.5 58.6l2.4-0.2l-1.8-1.9l-2.4 0.5z"/><path color="#fbd237" d="M430.1 58.7l2.4-0.1l-1.8-1.6l-2.4 0.5z"/><path color="#fad535" d="M427.8 58.6l2.3 0.1l-1.8-1.2l-2.4 0.4z"/><path color="#f9d733" d="M425.4 58.6l2.4 0l-1.9-0.7l-2.3 0.5z"/><path color="#f8da31" d="M423 58.8l2.4-0.2l-1.8-0.2l-2.4 0.6z"/><path color="#f7db30" d="M420.6 59.3l2.4-0.5l-1.8 0.2l-2.4 1z"/><path color="#f8db30" d="M418.3 60.3l2.3-1l-1.8 0.7l-2.4 1.4z"/><path color="#f9d832" d="M415.9 61.7l2.4-1.4l-1.9 1.1l-2.3 1.9z"/><path color="#fad435" d="M413.5 63.8l2.4-2.1l-1.8 1.6l-2.4 2.4z"/><path color="#fdcd3b" d="M411.1 66.5l2.4-2.7l-1.8 1.9l-2.4 2.9z"/><path color="#fdc544" d="M408.8 69.8l2.3-3.3l-1.8 2.1l-2.4 3.4z"/><path color="#f3be50" d="M406.4 73.6l2.4-3.8l-1.9 2.2l-2.3 4.1z"/><path color="#e0bd5c" d="M404 78l2.4-4.4l-1.8 2.5l-2.4 4.5z"/><path color="#c8bf66" d="M401.6 82.6l2.4-4.6l-1.8 2.6l-2.4 4.8z"/><path color="#aec171" d="M399.2 87.1l2.4-4.5l-1.8 2.8l-2.4 4.7z"/><path color="#94c27b" d="M396.9 91.1l2.3-4l-1.8 3l-2.3 4z"/><path color="#7ec284" d="M394.5 94.3l2.4-3.2l-1.8 3l-2.4 2.9z"/><path color="#70c18b" d="M392.1 96.5l2.4-2.2l-1.8 2.7l-2.4 1.6z"/><path color="#6ac18d" d="M389.7 97.9l2.4-1.4l-1.8 2.1l-2.4 0.7z"/><path color="#6bc18d" d="M387.4 98.9l2.3-1l-1.8 1.4l-2.4 0.3z"/><path color="#6ec18b" d="M385 99.6l2.4-0.7l-1.9 0.7l-2.3 0.2z"/><path color="#71c28a" d="M382.6 100.4l2.4-0.8l-1.8 0.2l-2.4 0.5z"/><path color="#72c289" d="M380.2 101.2l2.4-0.8l-1.8-0.1l-2.4 0.7z"/><path color="#73c289" d="M377.9 102.1l2.3-0.9l-1.8-0.2l-2.4 0.8zM375.5 103l2.4-0.9l-1.9-0.3l-2.3 0.7z"/><path color="#74c288" d="M373.1 103.9l2.4-0.9l-1.8-0.5l-2.4 0.8z"/><path color="#75c288" d="M370.7 104.7l2.4-0.8l-1.8-0.6l-2.4 0.7z"/><path color="#76c288" d="M368.3 105.5l2.4-0.8l-1.8-0.7l-2.4 0.7z"/><path color="#77c287" d="M366 106.3l2.3-0.8l-1.8-0.8l-2.3 0.6z"/><path color="#79c286" d="M363.6 106.8l2.4-0.5l-1.8-1l-2.4 0.4z"/><path color="#82c384" d="M361.2 106.4l2.4 0.4l-1.8-1.1l-2.4-0.5z"/><path color="#a0ca8e" d="M358.8 104.5l2.4 1.9l-1.8-1.2l-2.4-1.6z"/><path color="#cddcaf" d="M356.5 102.2l2.3 2.3l-1.8-0.9l-2.4-1.6z"/><path color="#bfd8aa" d="M354.1 109.9l2.4-7.7l-1.9-0.2l-2.3 9.2z"/><path color="#d8ddaf" d="M453.3 66.7l2.4 1.4l-1.8-0.7l-2.4-2z"/><path color="#d2ca80" d="M451 65.1l2.3 1.6l-1.8-1.3l-2.3-2z"/><path color="#dabf62" d="M448.6 63.5l2.4 1.6l-1.8-1.7l-2.4-1.9z"/><path color="#e9bd58" d="M446.2 62.3l2.4 1.2l-1.8-2l-2.4-1.6z"/><path color="#f5bd50" d="M443.8 61.5l2.4 0.8l-1.8-2.4l-2.4-1.1z"/><path color="#fcc148" d="M441.5 61l2.3 0.5l-1.8-2.7l-2.4-0.5z"/><path color="#fec543" d="M439.1 60.9l2.4 0.1l-1.9-2.7l-2.3 0z"/><path color="#fec93f" d="M436.7 60.8l2.4 0.1l-1.8-2.6l-2.4 0.1z"/><path color="#fdcc3c" d="M434.3 60.6l2.4 0.2l-1.8-2.4l-2.4 0.2z"/><path color="#fcd038" d="M432 60.2l2.3 0.4l-1.8-2l-2.4 0.1z"/><path color="#fad535" d="M429.6 59.7l2.4 0.5l-1.9-1.5l-2.3-0.1z"/><path color="#f8da31" d="M427.2 59.2l2.4 0.5l-1.8-1.1l-2.4 0z"/><path color="#f6de2e" d="M424.8 58.8l2.4 0.4l-1.8-0.6l-2.4 0.2z"/><path color="#f6e22b" d="M422.4 58.8l2.4 0l-1.8 0l-2.4 0.5z"/><path color="#f5e429" d="M420.1 59.2l2.3-0.4l-1.8 0.5l-2.3 1z"/><path color="#f5e42a" d="M417.7 60.3l2.4-1.1l-1.8 1.1l-2.4 1.4z"/><path color="#f6e02c" d="M415.3 62l2.4-1.7l-1.8 1.4l-2.4 2.1z"/><path color="#f8da30" d="M412.9 64.5l2.4-2.5l-1.8 1.8l-2.4 2.7z"/><path color="#fbd237" d="M410.6 67.6l2.3-3.1l-1.8 2l-2.3 3.3z"/><path color="#fec741" d="M408.2 71.4l2.4-3.8l-1.8 2.2l-2.4 3.8z"/><path color="#f5be4f" d="M405.8 75.7l2.4-4.3l-1.8 2.2l-2.4 4.4z"/><path color="#e0bd5c" d="M403.4 80.3l2.4-4.6l-1.8 2.3l-2.4 4.6z"/><path color="#c8bf66" d="M401.1 84.9l2.3-4.6l-1.8 2.3l-2.4 4.5z"/><path color="#b0c16f" d="M398.7 89.1l2.4-4.2l-1.9 2.2l-2.3 4z"/><path color="#9bc278" d="M396.3 92.8l2.4-3.7l-1.8 2l-2.4 3.2z"/><path color="#8ac27f" d="M393.9 95.7l2.4-2.9l-1.8 1.5l-2.4 2.2z"/><path color="#7fc284" d="M391.6 97.8l2.3-2.1l-1.8 0.8l-2.4 1.4z"/><path color="#7ac286" d="M389.2 99.2l2.4-1.4l-1.9 0.1l-2.3 1z"/><path color="#78c287" d="M386.8 100.3l2.4-1.1l-1.8-0.3l-2.4 0.7zM384.4 101.2l2.4-0.9l-1.8-0.7l-2.4 0.8z"/><path color="#78c286" d="M382 102l2.4-0.8l-1.8-0.8l-2.4 0.8zM379.7 103l2.3-1l-1.8-0.8l-2.3 0.9z"/><path color="#78c287" d="M377.3 103.9l2.4-0.9l-1.8-0.9l-2.4 0.9zM374.9 104.8l2.4-0.9l-1.8-0.9l-2.4 0.9zM372.5 105.7l2.4-0.9l-1.8-0.9l-2.4 0.8zM370.2 106.6l2.3-0.9l-1.8-1l-2.4 0.8z"/><path color="#78c286" d="M367.8 107.4l2.4-0.8l-1.9-1.1l-2.3 0.8z"/><path color="#7ac286" d="M365.4 107.9l2.4-0.5l-1.8-1.1l-2.4 0.5z"/><path color="#81c384" d="M363 107.6l2.4 0.3l-1.8-1.1l-2.4-0.4z"/><path color="#9cc888" d="M360.7 105.4l2.3 2.2l-1.8-1.2l-2.4-1.9z"/><path color="#cbd9a7" d="M358.3 102.5l2.4 2.9l-1.9-0.9l-2.3-2.3z"/><path color="#d0dbad" d="M355.9 108.4l2.4-5.9l-1.8-0.3l-2.4 7.7z"/><path color="#d7dbab" d="M455.2 67.5l2.3 1.4l-1.8-0.8l-2.4-1.4z"/><path color="#cfc87b" d="M452.8 66.2l2.4 1.3l-1.9-0.8l-2.3-1.6z"/><path color="#d7bf62" d="M450.4 65.1l2.4 1.1l-1.8-1.1l-2.4-1.6z"/><path color="#e3bd5a" d="M448 64.3l2.4 0.8l-1.8-1.6l-2.4-1.2z"/><path color="#eebd55" d="M445.7 63.8l2.3 0.5l-1.8-2l-2.4-0.8z"/><path color="#f6be4f" d="M443.3 63.4l2.4 0.4l-1.9-2.3l-2.3-0.5z"/><path color="#fbc04a" d="M440.9 63.2l2.4 0.2l-1.8-2.4l-2.4-0.1z"/><path color="#fec444" d="M438.5 63l2.4 0.2l-1.8-2.3l-2.4-0.1z"/><path color="#fec840" d="M436.1 62.7l2.4 0.3l-1.8-2.2l-2.4-0.2z"/><path color="#fdcd3b" d="M433.8 62.2l2.3 0.5l-1.8-2.1l-2.3-0.4z"/><path color="#fbd336" d="M431.4 61.4l2.4 0.8l-1.8-2l-2.4-0.5z"/><path color="#f8da31" d="M429 60.5l2.4 0.9l-1.8-1.7l-2.4-0.5z"/><path color="#f6e02c" d="M426.6 59.7l2.4 0.8l-1.8-1.3l-2.4-0.4z"/><path color="#f5e727" d="M424.3 59.2l2.3 0.5l-1.8-0.9l-2.4 0z"/><path color="#f5ec24" d="M421.9 59.2l2.4 0l-1.9-0.4l-2.3 0.4z"/><path color="#f6ee23" d="M419.5 59.9l2.4-0.7l-1.8 0l-2.4 1.1z"/><path color="#f6ec24" d="M417.1 61.3l2.4-1.4l-1.8 0.4l-2.4 1.7z"/><path color="#f5e728" d="M414.8 63.5l2.3-2.2l-1.8 0.7l-2.4 2.5z"/><path color="#f7de2e" d="M412.4 66.5l2.4-3l-1.9 1l-2.3 3.1z"/><path color="#fbd336" d="M410 70.3l2.4-3.8l-1.8 1.1l-2.4 3.8z"/><path color="#fec642" d="M407.6 74.6l2.4-4.3l-1.8 1.1l-2.4 4.3z"/><path color="#f1bd52" d="M405.3 79.3l2.3-4.7l-1.8 1.1l-2.4 4.6z"/><path color="#dabe5e" d="M402.9 84.1l2.4-4.8l-1.9 1l-2.3 4.6z"/><path color="#c1c069" d="M400.5 88.9l2.4-4.8l-1.8 0.8l-2.4 4.2z"/><path color="#aac273" d="M398.1 93.2l2.4-4.3l-1.8 0.2l-2.4 3.7z"/><path color="#98c47e" d="M395.7 96.8l2.4-3.6l-1.8-0.4l-2.4 2.9z"/><path color="#88c484" d="M393.4 99.3l2.3-2.5l-1.8-1.1l-2.3 2.1z"/><path color="#7dc285" d="M391 100.9l2.4-1.6l-1.8-1.5l-2.4 1.4z"/><path color="#79c286" d="M388.6 101.8l2.4-0.9l-1.8-1.7l-2.4 1.1zM386.2 102.5l2.4-0.7l-1.8-1.5l-2.4 0.9zM383.9 103.3l2.3-0.8l-1.8-1.3l-2.4 0.8zM381.5 104.1l2.4-0.8l-1.9-1.3l-2.3 1zM379.1 105l2.4-0.9l-1.8-1.1l-2.4 0.9zM376.7 105.9l2.4-0.9l-1.8-1.1l-2.4 0.9zM374.4 106.8l2.3-0.9l-1.8-1.1l-2.4 0.9zM372 107.7l2.4-0.9l-1.9-1.1l-2.3 0.9zM369.6 108.5l2.4-0.8l-1.8-1.1l-2.4 0.8z"/><path color="#7ac286" d="M367.2 109.1l2.4-0.6l-1.8-1.1l-2.4 0.5z"/><path color="#81c283" d="M364.9 108.7l2.3 0.4l-1.8-1.2l-2.4-0.3z"/><path color="#9ac685" d="M362.5 106.3l2.4 2.4l-1.9-1.1l-2.3-2.2z"/><path color="#cad6a1" d="M360.1 102.7l2.4 3.6l-1.8-0.9l-2.4-2.9z"/><path color="#d9ddae" d="M357.7 107.2l2.4-4.5l-1.8-0.2l-2.4 5.9z"/><path color="#d8daa8" d="M457 67.7l2.4 1.4l-1.9-0.2l-2.3-1.4z"/><path color="#d1c677" d="M454.6 66.5l2.4 1.2l-1.8-0.2l-2.4-1.3z"/><path color="#d8be61" d="M452.2 65.8l2.4 0.7l-1.8-0.3l-2.4-1.1z"/><path color="#e2bd5b" d="M449.8 65.4l2.4 0.4l-1.8-0.7l-2.4-0.8z"/><path color="#eabd57" d="M447.5 65.1l2.3 0.3l-1.8-1.1l-2.3-0.5z"/><path color="#f2bd52" d="M445.1 64.5l2.4 0.6l-1.8-1.3l-2.4-0.4z"/><path color="#f9be4d" d="M442.7 64.1l2.4 0.4l-1.8-1.1l-2.4-0.2z"/><path color="#fdc147" d="M440.3 64.1l2.4 0l-1.8-0.9l-2.4-0.2z"/><path color="#fec543" d="M438 64.5l2.3-0.4l-1.8-1.1l-2.4-0.3z"/><path color="#fec93e" d="M435.6 64.5l2.4 0l-1.9-1.8l-2.3-0.5z"/><path color="#fdcf39" d="M433.2 63.9l2.4 0.6l-1.8-2.3l-2.4-0.8z"/><path color="#f9d634" d="M430.8 62.9l2.4 1l-1.8-2.5l-2.4-0.9z"/><path color="#f7de2e" d="M428.5 61.9l2.3 1l-1.8-2.4l-2.4-0.8z"/><path color="#f5e628" d="M426.1 61.2l2.4 0.7l-1.9-2.2l-2.3-0.5z"/><path color="#f5ed23" d="M423.7 61l2.4 0.2l-1.8-2l-2.4 0z"/><path color="#f6f121" d="M421.3 61.4l2.4-0.4l-1.8-1.8l-2.4 0.7zM419 62.6l2.3-1.2l-1.8-1.5l-2.4 1.4z"/><path color="#f6ec27" d="M416.6 64.6l2.4-2l-1.9-1.3l-2.3 2.2z"/><path color="#f6e430" d="M414.2 67.5l2.4-2.9l-1.8-1.1l-2.4 3z"/><path color="#f9da3a" d="M411.8 71.1l2.4-3.6l-1.8-1l-2.4 3.8z"/><path color="#fece46" d="M409.4 75.4l2.4-4.3l-1.8-0.8l-2.4 4.3z"/><path color="#f8c358" d="M407.1 80.2l2.3-4.8l-1.8-0.8l-2.3 4.7z"/><path color="#e3c369" d="M404.7 85.3l2.4-5.1l-1.8-0.9l-2.4 4.8z"/><path color="#cec87a" d="M402.3 90.6l2.4-5.3l-1.8-1.2l-2.4 4.8z"/><path color="#b9cc8a" d="M399.9 95.5l2.4-4.9l-1.8-1.7l-2.4 4.3z"/><path color="#a6ce96" d="M397.6 99.6l2.3-4.1l-1.8-2.3l-2.4 3.6z"/><path color="#94cd9b" d="M395.2 102.3l2.4-2.7l-1.9-2.8l-2.3 2.5z"/><path color="#81c896" d="M392.8 103.7l2.4-1.4l-1.8-3l-2.4 1.6z"/><path color="#70c28b" d="M390.4 104.3l2.4-0.6l-1.8-2.8l-2.4 0.9z"/><path color="#72c289" d="M388.1 104.5l2.3-0.2l-1.8-2.5l-2.4 0.7z"/><path color="#76c288" d="M385.7 104.8l2.4-0.3l-1.9-2l-2.3 0.8z"/><path color="#78c287" d="M383.3 105.4l2.4-0.6l-1.8-1.5l-2.4 0.8z"/><path color="#79c286" d="M380.9 106.2l2.4-0.8l-1.8-1.3l-2.4 0.9zM378.6 107l2.3-0.8l-1.8-1.2l-2.4 0.9zM376.2 107.9l2.4-0.9l-1.9-1.1l-2.3 0.9zM373.8 108.8l2.4-0.9l-1.8-1.1l-2.4 0.9zM371.4 109.7l2.4-0.9l-1.8-1.1l-2.4 0.8z"/><path color="#7ac286" d="M369 110.2l2.4-0.5l-1.8-1.2l-2.4 0.6z"/><path color="#81c283" d="M366.7 109.7l2.3 0.5l-1.8-1.1l-2.3-0.4z"/><path color="#9ac682" d="M364.3 107.1l2.4 2.6l-1.8-1l-2.4-2.4z"/><path color="#cad49c" d="M361.9 103l2.4 4.1l-1.8-0.8l-2.4-3.6z"/><path color="#e1deaf" d="M359.5 106.6l2.4-3.6l-1.8-0.3l-2.4 4.5z"/><path color="#ddd9a4" d="M458.8 67.3l2.4 1.6l-1.8 0.2l-2.4-1.4z"/><path color="#d8c572" d="M456.4 66.2l2.4 1.1l-1.8 0.4l-2.4-1.2z"/><path color="#dfbe5e" d="M454 65.7l2.4 0.5l-1.8 0.3l-2.4-0.7z"/><path color="#e6bd59" d="M451.7 65.5l2.3 0.2l-1.8 0.1l-2.4-0.4z"/><path color="#eebd55" d="M449.3 64.8l2.4 0.7l-1.9-0.1l-2.3-0.3z"/><path color="#f7bf50" d="M446.9 63.1l2.4 1.7l-1.8 0.3l-2.4-0.6z"/><path color="#fdc64e" d="M444.5 61.6l2.4 1.5l-1.8 1.4l-2.4-0.4z"/><path color="#fec840" d="M442.2 62.5l2.3-0.9l-1.8 2.5l-2.4 0z"/><path color="#fec740" d="M439.8 65l2.4-2.5l-1.9 1.6l-2.3 0.4z"/><path color="#ffc642" d="M437.4 66.9l2.4-1.9l-1.8-0.5l-2.4 0z"/><path color="#fec93f" d="M435 67.2l2.4-0.3l-1.8-2.4l-2.4-0.6z"/><path color="#fdcf3a" d="M432.7 66.5l2.3 0.7l-1.8-3.3l-2.4-1z"/><path color="#fad634" d="M430.3 65.7l2.4 0.8l-1.9-3.6l-2.3-1z"/><path color="#f7dd2e" d="M427.9 65.1l2.4 0.6l-1.8-3.8l-2.4-0.7z"/><path color="#f6e42c" d="M425.5 64.9l2.4 0.2l-1.8-3.9l-2.4-0.2z"/><path color="#f6e935" d="M423.1 65.3l2.4-0.4l-1.8-3.9l-2.4 0.4z"/><path color="#f7ec44" d="M420.8 66.3l2.3-1l-1.8-3.9l-2.3 1.2z"/><path color="#f7ea50" d="M418.4 68.2l2.4-1.9l-1.8-3.7l-2.4 2z"/><path color="#f8e559" d="M416 70.9l2.4-2.7l-1.8-3.6l-2.4 2.9z"/><path color="#fbde60" d="M413.6 74.3l2.4-3.4l-1.8-3.4l-2.4 3.6z"/><path color="#fed469" d="M411.3 78.3l2.3-4l-1.8-3.2l-2.4 4.3z"/><path color="#f7cc76" d="M408.9 83l2.4-4.7l-1.9-2.9l-2.3 4.8z"/><path color="#e4cc82" d="M406.5 88.2l2.4-5.2l-1.8-2.8l-2.4 5.1z"/><path color="#cecf8d" d="M404.1 93.8l2.4-5.6l-1.8-2.9l-2.4 5.3z"/><path color="#b7d199" d="M401.8 99.3l2.3-5.5l-1.8-3.2l-2.4 4.9z"/><path color="#9fd2a4" d="M399.4 103.7l2.4-4.4l-1.9-3.8l-2.3 4.1z"/><path color="#8bd0aa" d="M397 106.5l2.4-2.8l-1.8-4.1l-2.4 2.7z"/><path color="#74c9a4" d="M394.6 107.5l2.4-1l-1.8-4.2l-2.4 1.4z"/><path color="#5fc194" d="M392.3 107.3l2.3 0.2l-1.8-3.8l-2.4 0.6z"/><path color="#66c18f" d="M389.9 106.8l2.4 0.5l-1.9-3l-2.3 0.2z"/><path color="#6fc28b" d="M387.5 106.5l2.4 0.3l-1.8-2.3l-2.4 0.3z"/><path color="#75c288" d="M385.1 106.6l2.4-0.1l-1.8-1.7l-2.4 0.6z"/><path color="#78c286" d="M382.7 107.2l2.4-0.6l-1.8-1.2l-2.4 0.8z"/><path color="#79c286" d="M380.4 108.1l2.3-0.9l-1.8-1l-2.3 0.8zM378 109.1l2.4-1l-1.8-1.1l-2.4 0.9zM375.6 110l2.4-0.9l-1.8-1.2l-2.4 0.9zM373.2 110.8l2.4-0.8l-1.8-1.2l-2.4 0.9z"/><path color="#7ac286" d="M370.9 111.4l2.3-0.6l-1.8-1.1l-2.4 0.5z"/><path color="#81c283" d="M368.5 110.7l2.4 0.7l-1.9-1.2l-2.3-0.5z"/><path color="#9bc581" d="M366.1 107.8l2.4 2.9l-1.8-1l-2.4-2.6z"/><path color="#ccd399" d="M363.7 103.2l2.4 4.6l-1.8-0.7l-2.4-4.1z"/><path color="#e6deb0" d="M361.4 106.8l2.3-3.6l-1.8-0.2l-2.4 3.6z"/><path color="#e3d9a2" d="M460.6 66.8l2.4 1.8l-1.8 0.3l-2.4-1.6z"/><path color="#e2c56f" d="M458.2 65.6l2.4 1.2l-1.8 0.5l-2.4-1.1z"/><path color="#e8bd59" d="M455.9 65.3l2.3 0.3l-1.8 0.6l-2.4-0.5z"/><path color="#eebd55" d="M453.5 65.2l2.4 0.1l-1.9 0.4l-2.3-0.2z"/><path color="#f6be4f" d="M451.1 63.6l2.4 1.6l-1.8 0.3l-2.4-0.7z"/><path color="#fed060" d="M448.7 59.6l2.4 4l-1.8 1.2l-2.4-1.7z"/><path color="#fbe066" d="M446.4 56.5l2.3 3.1l-1.8 3.5l-2.4-1.5z"/><path color="#f8dd37" d="M444 58.5l2.4-2l-1.9 5.1l-2.3 0.9z"/><path color="#fbd336" d="M441.6 64.5l2.4-6l-1.8 4l-2.4 2.5z"/><path color="#fecc56" d="M439.2 69.5l2.4-5l-1.8 0.5l-2.4 1.9z"/><path color="#fdca63" d="M436.8 71.4l2.4-1.9l-1.8-2.6l-2.4 0.3z"/><path color="#fdc74f" d="M434.5 71.4l2.3 0l-1.8-4.2l-2.3-0.7z"/><path color="#feca45" d="M432.1 70.9l2.4 0.5l-1.8-4.9l-2.4-0.8z"/><path color="#fcd247" d="M429.7 70.6l2.4 0.3l-1.8-5.2l-2.4-0.6z"/><path color="#fbda51" d="M427.3 70.7l2.4-0.1l-1.8-5.5l-2.4-0.2z"/><path color="#fadf5c" d="M425 71.2l2.3-0.5l-1.8-5.8l-2.4 0.4z"/><path color="#fbe164" d="M422.6 72.3l2.4-1.1l-1.9-5.9l-2.3 1z"/><path color="#fbe06a" d="M420.2 74l2.4-1.7l-1.8-6l-2.4 1.9z"/><path color="#fddd6f" d="M417.8 76.3l2.4-2.3l-1.8-5.8l-2.4 2.7z"/><path color="#fed775" d="M415.5 79.3l2.3-3l-1.8-5.4l-2.4 3.4z"/><path color="#fad17d" d="M413.1 82.9l2.4-3.6l-1.9-5l-2.3 4z"/><path color="#eccf85" d="M410.7 87.2l2.4-4.3l-1.8-4.6l-2.4 4.7z"/><path color="#dad08d" d="M408.3 92.2l2.4-5l-1.8-4.2l-2.4 5.2z"/><path color="#c3d296" d="M405.9 97.9l2.3-5.7l-1.8-4l-2.4 5.6z"/><path color="#a8d2a2" d="M403.6 103.5l2.4-5.6l-1.9-4.1l-2.3 5.5z"/><path color="#8cd1ae" d="M401.2 108l2.4-4.5l-1.8-4.2l-2.4 4.4z"/><path color="#75cdb5" d="M398.8 110.6l2.4-2.6l-1.8-4.3l-2.4 2.8z"/><path color="#56c3ac" d="M396.4 111.2l2.4-0.6l-1.8-4.1l-2.4 1z"/><path color="#4abe9e" d="M394.1 110.4l2.3 0.8l-1.8-3.7l-2.3-0.2z"/><path color="#58c096" d="M391.7 109.1l2.4 1.3l-1.8-3.1l-2.4-0.5z"/><path color="#68c18e" d="M389.3 107.7l2.4 1.4l-1.8-2.3l-2.4-0.3z"/><path color="#75c288" d="M386.9 106.9l2.4 0.8l-1.8-1.2l-2.4 0.1z"/><path color="#7cc285" d="M384.6 107.3l2.3-0.4l-1.8-0.3l-2.4 0.6zM382.2 108.8l2.4-1.5l-1.9-0.1l-2.3 0.9z"/><path color="#7ac286" d="M379.8 110.2l2.4-1.4l-1.8-0.7l-2.4 1z"/><path color="#78c286" d="M377.4 111.2l2.4-1l-1.8-1.1l-2.4 0.9zM375.1 112l2.3-0.8l-1.8-1.2l-2.4 0.8z"/><path color="#7ac286" d="M372.7 112.5l2.4-0.5l-1.9-1.2l-2.3 0.6z"/><path color="#82c283" d="M370.3 111.6l2.4 0.9l-1.8-1.1l-2.4-0.7z"/><path color="#9ec580" d="M367.9 108.3l2.4 3.3l-1.8-0.9l-2.4-2.9z"/><path color="#d0d398" d="M365.5 103.4l2.4 4.9l-1.8-0.5l-2.4-4.6z"/><path color="#e9dfb1" d="M363.2 108.1l2.3-4.7l-1.8-0.2l-2.3 3.6z"/><path color="#e9d9a3" d="M462.4 66.7l2.4 2l-1.8-0.1l-2.4-1.8z"/><path color="#eac56e" d="M460.1 65.6l2.3 1.1l-1.8 0.1l-2.4-1.2z"/><path color="#f1bd55" d="M457.7 65.5l2.4 0.1l-1.9 0l-2.3-0.3z"/><path color="#f6bd50" d="M455.3 65.5l2.4 0l-1.8-0.2l-2.4-0.1z"/><path color="#fcc247" d="M452.9 63.4l2.4 2.1l-1.8-0.3l-2.4-1.6z"/><path color="#fbd647" d="M450.5 58.3l2.4 5.1l-1.8 0.2l-2.4-4z"/><path color="#f7f040" d="M448.2 54.4l2.3 3.9l-1.8 1.3l-2.3-3.1z"/><path color="#f8f522" d="M445.8 57.7l2.4-3.3l-1.8 2.1l-2.4 2z"/><path color="#f8e249" d="M443.4 66.5l2.4-8.8l-1.8 0.8l-2.4 6z"/><path color="#fcd375" d="M441 74.1l2.4-7.6l-1.8-2l-2.4 5z"/><path color="#f1cf84" d="M438.7 77.4l2.3-3.3l-1.8-4.6l-2.4 1.9z"/><path color="#eeca78" d="M436.3 77.8l2.4-0.4l-1.9-6l-2.3 0z"/><path color="#f2c76d" d="M433.9 77.5l2.4 0.3l-1.8-6.4l-2.4-0.5z"/><path color="#f7cb6f" d="M431.5 77.5l2.4 0l-1.8-6.6l-2.4-0.3z"/><path color="#facf73" d="M429.2 77.9l2.3-0.4l-1.8-6.9l-2.4 0.1z"/><path color="#fbd277" d="M426.8 78.6l2.4-0.7l-1.9-7.2l-2.3 0.5z"/><path color="#fbd37b" d="M424.4 79.6l2.4-1l-1.8-7.4l-2.4 1.1z"/><path color="#fad37e" d="M422 81.1l2.4-1.5l-1.8-7.3l-2.4 1.7z"/><path color="#f8d282" d="M419.6 82.9l2.4-1.8l-1.8-7.1l-2.4 2.3z"/><path color="#f2d086" d="M417.3 85.3l2.3-2.4l-1.8-6.6l-2.3 3z"/><path color="#e9d08a" d="M414.9 88.2l2.4-2.9l-1.8-6l-2.4 3.6z"/><path color="#dcd18f" d="M412.5 91.9l2.4-3.7l-1.8-5.3l-2.4 4.3z"/><path color="#cad194" d="M410.1 96.4l2.4-4.5l-1.8-4.7l-2.4 5z"/><path color="#b2d29c" d="M407.8 101.6l2.3-5.2l-1.8-4.2l-2.3 5.7z"/><path color="#94d1a8" d="M405.4 107l2.4-5.4l-1.8-3.7l-2.4 5.6z"/><path color="#75cdb5" d="M403 111.4l2.4-4.4l-1.8-3.5l-2.4 4.5z"/><path color="#5bc7ba" d="M400.6 113.8l2.4-2.4l-1.8-3.4l-2.4 2.6z"/><path color="#37bbaf" d="M398.3 114.2l2.3-0.4l-1.8-3.2l-2.4 0.6z"/><path color="#3abba8" d="M395.9 113.1l2.4 1.1l-1.9-3l-2.3-0.8z"/><path color="#4cbe9d" d="M393.5 111l2.4 2.1l-1.8-2.7l-2.4-1.3z"/><path color="#65c190" d="M391.1 108.1l2.4 2.9l-1.8-1.9l-2.4-1.4z"/><path color="#7fc284" d="M388.8 105.6l2.3 2.5l-1.8-0.4l-2.4-0.8z"/><path color="#8cc27e" d="M386.4 105.9l2.4-0.3l-1.9 1.3l-2.3 0.4z"/><path color="#89c27f" d="M384 108.6l2.4-2.7l-1.8 1.4l-2.4 1.5z"/><path color="#7ec284" d="M381.6 111.1l2.4-2.5l-1.8 0.2l-2.4 1.4z"/><path color="#78c286" d="M379.2 112.5l2.4-1.4l-1.8-0.9l-2.4 1z"/><path color="#77c287" d="M376.9 113.3l2.3-0.8l-1.8-1.3l-2.3 0.8z"/><path color="#7ac286" d="M374.5 113.6l2.4-0.3l-1.8-1.3l-2.4 0.5z"/><path color="#84c282" d="M372.1 112.4l2.4 1.2l-1.8-1.1l-2.4-0.9z"/><path color="#a3c680" d="M369.7 108.6l2.4 3.8l-1.8-0.8l-2.4-3.3z"/><path color="#d6d49a" d="M367.4 103.5l2.3 5.1l-1.8-0.3l-2.4-4.9z"/><path color="#ebe0b3" d="M365 110.6l2.4-7.1l-1.9-0.1l-2.3 4.7z"/><path color="#ecdba6" d="M464.2 67.8l2.4 2.2l-1.8-1.3l-2.4-2z"/><path color="#efc771" d="M461.9 66.7l2.3 1.1l-1.8-1.1l-2.3-1.1z"/><path color="#f4be54" d="M459.5 66.9l2.4-0.2l-1.8-1.1l-2.4-0.1z"/><path color="#f7be4e" d="M457.1 67.4l2.4-0.5l-1.8-1.4l-2.4 0z"/><path color="#fcc247" d="M454.7 66.3l2.4 1.1l-1.8-1.9l-2.4-2.1z"/><path color="#fbd237" d="M452.4 62.8l2.3 3.5l-1.8-2.9l-2.4-5.1z"/><path color="#f6ea2a" d="M450 60.6l2.4 2.2l-1.9-4.5l-2.3-3.9z"/><path color="#f9f360" d="M447.6 64.8l2.4-4.2l-1.8-6.2l-2.4 3.3z"/><path color="#fce075" d="M445.2 74.3l2.4-9.5l-1.8-7.1l-2.4 8.8z"/><path color="#eed38d" d="M442.9 82.4l2.3-8.1l-1.8-7.8l-2.4 7.6z"/><path color="#dad498" d="M440.5 85.8l2.4-3.4l-1.9-8.3l-2.3 3.3z"/><path color="#d2d08f" d="M438.1 86l2.4-0.2l-1.8-8.4l-2.4 0.4z"/><path color="#d4cc85" d="M435.7 85.5l2.4 0.5l-1.8-8.2l-2.4-0.3z"/><path color="#dbce87" d="M433.3 85.6l2.4-0.1l-1.8-8l-2.4 0z"/><path color="#dfd08b" d="M431 86.1l2.3-0.5l-1.8-8.1l-2.3 0.4z"/><path color="#e1d08d" d="M428.6 86.9l2.4-0.8l-1.8-8.2l-2.4 0.7z"/><path color="#e1d18e" d="M426.2 87.8l2.4-0.9l-1.8-8.3l-2.4 1z"/><path color="#e0d18e" d="M423.8 88.7l2.4-0.9l-1.8-8.2l-2.4 1.5z"/><path color="#ded18f" d="M421.5 89.8l2.3-1.1l-1.8-7.6l-2.4 1.8z"/><path color="#dad190" d="M419.1 91.4l2.4-1.6l-1.9-6.9l-2.3 2.4z"/><path color="#d3d191" d="M416.7 93.4l2.4-2l-1.8-6.1l-2.4 2.9z"/><path color="#c9d194" d="M414.3 96.3l2.4-2.9l-1.8-5.2l-2.4 3.7z"/><path color="#b8d198" d="M412 100l2.3-3.7l-1.8-4.4l-2.4 4.5z"/><path color="#a0d09f" d="M409.6 104.6l2.4-4.6l-1.9-3.6l-2.3 5.2z"/><path color="#7fcdaa" d="M407.2 109.4l2.4-4.8l-1.8-3l-2.4 5.4z"/><path color="#5dc7b5" d="M404.8 113.4l2.4-4l-1.8-2.4l-2.4 4.4z"/><path color="#3bbdb6" d="M402.5 115.8l2.3-2.4l-1.8-2l-2.4 2.4z"/><path color="#28b7b3" d="M400.1 116.4l2.4-0.6l-1.9-2l-2.3 0.4z"/><path color="#30b9ae" d="M397.7 115.5l2.4 0.9l-1.8-2.2l-2.4-1.1z"/><path color="#42bca2" d="M395.3 113.1l2.4 2.4l-1.8-2.4l-2.4-2.1z"/><path color="#64c190" d="M392.9 109l2.4 4.1l-1.8-2.1l-2.4-2.9z"/><path color="#8cc27e" d="M390.6 105l2.3 4l-1.8-0.9l-2.3-2.5z"/><path color="#a1c276" d="M388.2 105.1l2.4-0.1l-1.8 0.6l-2.4 0.3z"/><path color="#99c27a" d="M385.8 108.9l2.4-3.8l-1.8 0.8l-2.4 2.7z"/><path color="#86c484" d="M383.4 112.4l2.4-3.5l-1.8-0.3l-2.4 2.5z"/><path color="#77c287" d="M381.1 114l2.3-1.6l-1.8-1.3l-2.4 1.4z"/><path color="#76c288" d="M378.7 114.6l2.4-0.6l-1.9-1.5l-2.3 0.8z"/><path color="#79c286" d="M376.3 114.6l2.4 0l-1.8-1.3l-2.4 0.3z"/><path color="#86c382" d="M373.9 113l2.4 1.6l-1.8-1l-2.4-1.2z"/><path color="#a9c781" d="M371.6 108.8l2.3 4.2l-1.8-0.6l-2.4-3.8z"/><path color="#dcd69e" d="M369.2 103.8l2.4 5l-1.9-0.2l-2.3-5.1z"/><path color="#ebe1b6" d="M366.8 114.4l2.4-10.6l-1.8-0.3l-2.4 7.1z"/><path color="#eadcaa" d="M466.1 70.1l2.3 3.4l-1.8-3.5l-2.4-2.2z"/><path color="#edcb7b" d="M463.7 69.2l2.4 0.9l-1.9-2.3l-2.3-1.1z"/><path color="#efbf5a" d="M461.3 69.6l2.4-0.4l-1.8-2.5l-2.4 0.2z"/><path color="#f1c15e" d="M458.9 70.7l2.4-1.1l-1.8-2.7l-2.4 0.5z"/><path color="#f4c35f" d="M456.6 71.4l2.3-0.7l-1.8-3.3l-2.4-1.1z"/><path color="#fbc755" d="M454.2 71l2.4 0.4l-1.9-5.1l-2.3-3.5z"/><path color="#fcd86a" d="M451.8 71.8l2.4-0.8l-1.8-8.2l-2.4-2.2z"/><path color="#fbdc84" d="M449.4 76.9l2.4-5.1l-1.8-11.2l-2.4 4.2z"/><path color="#ebd591" d="M447 85.6l2.4-8.7l-1.8-12.1l-2.4 9.5z"/><path color="#c9d6a1" d="M444.7 93l2.3-7.4l-1.8-11.3l-2.3 8.1z"/><path color="#b1d6ab" d="M442.3 95.9l2.4-2.9l-1.8-10.6l-2.4 3.4z"/><path color="#a1d09e" d="M439.9 95.2l2.4 0.7l-1.8-10.1l-2.4 0.2z"/><path color="#a3cb90" d="M437.5 93.9l2.4 1.3l-1.8-9.2l-2.4-0.5z"/><path color="#b4cf95" d="M435.2 93.6l2.3 0.3l-1.8-8.4l-2.4 0.1z"/><path color="#bbd29a" d="M432.8 94.1l2.4-0.5l-1.9-8l-2.3 0.5z"/><path color="#bdd29a" d="M430.4 94.8l2.4-0.7l-1.8-8l-2.4 0.8z"/><path color="#bdd198" d="M428 95.3l2.4-0.5l-1.8-7.9l-2.4 0.9z"/><path color="#bcd095" d="M425.7 95.6l2.3-0.3l-1.8-7.5l-2.4 0.9z"/><path color="#bccf92" d="M423.3 95.9l2.4-0.3l-1.9-6.9l-2.3 1.1z"/><path color="#bbcf91" d="M420.9 96.6l2.4-0.7l-1.8-6.1l-2.4 1.6z"/><path color="#b9cf92" d="M418.5 97.8l2.4-1.2l-1.8-5.2l-2.4 2z"/><path color="#b2cf95" d="M416.2 99.9l2.3-2.1l-1.8-4.4l-2.4 2.9z"/><path color="#a4cf99" d="M413.8 102.9l2.4-3l-1.9-3.6l-2.3 3.7z"/><path color="#8dcd9f" d="M411.4 106.7l2.4-3.8l-1.8-2.9l-2.4 4.6z"/><path color="#6cc8a8" d="M409 110.9l2.4-4.2l-1.8-2.1l-2.4 4.8z"/><path color="#49c0b0" d="M406.6 114.7l2.4-3.8l-1.8-1.5l-2.4 4z"/><path color="#2bb8b4" d="M404.3 117.4l2.3-2.7l-1.8-1.3l-2.3 2.4z"/><path color="#24b5b6" d="M401.9 118.5l2.4-1.1l-1.8-1.6l-2.4 0.6z"/><path color="#28b7b3" d="M399.5 118.3l2.4 0.2l-1.8-2.1l-2.4-0.9z"/><path color="#37baa9" d="M397.1 116.7l2.4 1.6l-1.8-2.8l-2.4-2.4z"/><path color="#57bf97" d="M394.8 113l2.3 3.7l-1.8-3.6l-2.4-4.1z"/><path color="#85c281" d="M392.4 109.2l2.4 3.8l-1.9-4l-2.3-4z"/><path color="#a6c67f" d="M390 108.9l2.4 0.3l-1.8-4.2l-2.4 0.1z"/><path color="#adcf96" d="M387.6 112l2.4-3.1l-1.8-3.8l-2.4 3.8z"/><path color="#94cc99" d="M385.3 114.8l2.3-2.8l-1.8-3.1l-2.4 3.5z"/><path color="#74c38c" d="M382.9 115.9l2.4-1.1l-1.9-2.4l-2.3 1.6z"/><path color="#72c289" d="M380.5 116.1l2.4-0.2l-1.8-1.9l-2.4 0.6z"/><path color="#78c287" d="M378.1 115.7l2.4 0.4l-1.8-1.5l-2.4 0z"/><path color="#89c381" d="M375.8 113.5l2.3 2.2l-1.8-1.1l-2.4-1.6z"/><path color="#b2c984" d="M373.4 108.8l2.4 4.7l-1.9-0.5l-2.3-4.2z"/><path color="#e3d9a3" d="M371 104.3l2.4 4.5l-1.8 0l-2.4-5z"/><path color="#e5e1b7" d="M368.6 119.1l2.4-14.8l-1.8-0.5l-2.4 10.6z"/><path color="#e4ddae" d="M467.9 73.4l2.4 5.4l-1.9-5.3l-2.3-3.4z"/><path color="#e6d08a" d="M465.5 72.9l2.4 0.5l-1.8-3.3l-2.4-0.9z"/><path color="#e6c56e" d="M463.1 73.5l2.4-0.6l-1.8-3.7l-2.4 0.4z"/><path color="#e7c979" d="M460.7 74.9l2.4-1.4l-1.8-3.9l-2.4 1.1z"/><path color="#e6cc80" d="M458.4 76.7l2.3-1.8l-1.8-4.2l-2.3 0.7z"/><path color="#e6cf87" d="M456 78.4l2.4-1.7l-1.8-5.3l-2.4-0.4z"/><path color="#e7d391" d="M453.6 81.3l2.4-2.9l-1.8-7.4l-2.4 0.8z"/><path color="#dcd599" d="M451.2 86.9l2.4-5.6l-1.8-9.5l-2.4 5.1z"/><path color="#bed6a4" d="M448.9 94.9l2.3-8l-1.8-10l-2.4 8.7z"/><path color="#95d5b6" d="M446.5 101.7l2.4-6.8l-1.9-9.3l-2.3 7.4z"/><path color="#7bd1c1" d="M444.1 104.1l2.4-2.4l-1.8-8.7l-2.4 2.9z"/><path color="#54c2ac" d="M441.7 102.7l2.4 1.4l-1.8-8.2l-2.4-0.7z"/><path color="#58c099" d="M439.4 100.6l2.3 2.1l-1.8-7.5l-2.4-1.3z"/><path color="#76c698" d="M437 99.7l2.4 0.9l-1.9-6.7l-2.3-0.3z"/><path color="#8acc9f" d="M434.6 99.8l2.4-0.1l-1.8-6.1l-2.4 0.5z"/><path color="#8ccc9d" d="M432.2 100.2l2.4-0.4l-1.8-5.7l-2.4 0.7z"/><path color="#89c995" d="M429.9 100.2l2.3 0l-1.8-5.4l-2.4 0.5z"/><path color="#89c78d" d="M427.5 100l2.4 0.2l-1.9-4.9l-2.3 0.3z"/><path color="#8dc586" d="M425.1 99.8l2.4 0.2l-1.8-4.4l-2.4 0.3z"/><path color="#92c583" d="M422.7 99.9l2.4-0.1l-1.8-3.9l-2.4 0.7z"/><path color="#96c685" d="M420.3 100.7l2.4-0.8l-1.8-3.3l-2.4 1.2z"/><path color="#96c88b" d="M418 102.4l2.3-1.7l-1.8-2.9l-2.3 2.1z"/><path color="#8fca94" d="M415.6 105.1l2.4-2.7l-1.8-2.5l-2.4 3z"/><path color="#7eca9d" d="M413.2 108.6l2.4-3.5l-1.8-2.2l-2.4 3.8z"/><path color="#65c7a8" d="M410.8 112.6l2.4-4l-1.8-1.9l-2.4 4.2z"/><path color="#4dc2b3" d="M408.5 116.4l2.3-3.8l-1.8-1.7l-2.4 3.8z"/><path color="#3cbdbc" d="M406.1 119.5l2.4-3.1l-1.9-1.7l-2.3 2.7z"/><path color="#32babf" d="M403.7 121.5l2.4-2l-1.8-2.1l-2.4 1.1z"/><path color="#2db9be" d="M401.3 122.3l2.4-0.8l-1.8-3l-2.4-0.2z"/><path color="#2ab7b6" d="M399 121.9l2.3 0.4l-1.8-4l-2.4-1.6z"/><path color="#38baa9" d="M396.6 120l2.4 1.9l-1.9-5.2l-2.3-3.7z"/><path color="#59bf96" d="M394.2 117.6l2.4 2.4l-1.8-7l-2.4-3.8z"/><path color="#8acc9d" d="M391.8 116.8l2.4 0.8l-1.8-8.4l-2.4-0.3z"/><path color="#98d2a9" d="M389.4 117.6l2.4-0.8l-1.8-7.9l-2.4 3.1z"/><path color="#81cca2" d="M387.1 118.3l2.3-0.7l-1.8-5.6l-2.3 2.8z"/><path color="#66c191" d="M384.7 118.3l2.4 0l-1.8-3.5l-2.4 1.1z"/><path color="#6bc18d" d="M382.3 117.9l2.4 0.4l-1.8-2.4l-2.4 0.2z"/><path color="#76c288" d="M379.9 116.8l2.4 1.1l-1.8-1.8l-2.4-0.4z"/><path color="#8dc381" d="M377.6 113.9l2.3 2.9l-1.8-1.1l-2.3-2.2z"/><path color="#bccc8a" d="M375.2 108.9l2.4 5l-1.8-0.4l-2.4-4.7z"/><path color="#e8dca9" d="M372.8 106.2l2.4 2.7l-1.8-0.1l-2.4-4.5z"/><path color="#d7e0b9" d="M370.4 123.3l2.4-17.1l-1.8-1.9l-2.4 14.8z"/><path color="#d5dcae" d="M469.7 77.3l2.4 7.3l-1.8-5.8l-2.4-5.4z"/><path color="#ded79f" d="M467.3 77.1l2.4 0.2l-1.8-3.9l-2.4-0.5z"/><path color="#dacc84" d="M464.9 77.8l2.4-0.7l-1.8-4.2l-2.4 0.6z"/><path color="#d8cc84" d="M462.6 79.2l2.3-1.4l-1.8-4.3l-2.4 1.4z"/><path color="#d5ce89" d="M460.2 81.2l2.4-2l-1.9-4.3l-2.3 1.8z"/><path color="#d1d08f" d="M457.8 83.5l2.4-2.3l-1.8-4.5l-2.4 1.7z"/><path color="#cad297" d="M455.4 86.9l2.4-3.4l-1.8-5.1l-2.4 2.9z"/><path color="#b9d49f" d="M453.1 92.4l2.3-5.5l-1.8-5.6l-2.4 5.6z"/><path color="#94d2ae" d="M450.7 99.6l2.4-7.2l-1.9-5.5l-2.3 8z"/><path color="#6bccc2" d="M448.3 105.9l2.4-6.3l-1.8-4.7l-2.4 6.8z"/><path color="#4ac2c8" d="M445.9 108.3l2.4-2.4l-1.8-4.2l-2.4 2.4z"/><path color="#22b5b8" d="M443.6 106.9l2.3 1.4l-1.8-4.2l-2.4-1.4z"/><path color="#33b9ac" d="M441.2 104.6l2.4 2.3l-1.9-4.2l-2.3-2.1z"/><path color="#47bda0" d="M438.8 103l2.4 1.6l-1.8-4l-2.4-0.9z"/><path color="#54bf98" d="M436.4 102.4l2.4 0.6l-1.8-3.3l-2.4 0.1z"/><path color="#5cc094" d="M434 102l2.4 0.4l-1.8-2.6l-2.4 0.4z"/><path color="#65c190" d="M431.7 101.7l2.3 0.3l-1.8-1.8l-2.3 0z"/><path color="#6fc28a" d="M429.3 101.2l2.4 0.5l-1.8-1.5l-2.4-0.2z"/><path color="#7bc285" d="M426.9 100.8l2.4 0.4l-1.8-1.2l-2.4-0.2z"/><path color="#84c282" d="M424.5 100.9l2.4-0.1l-1.8-1l-2.4 0.1z"/><path color="#88c280" d="M422.2 101.8l2.3-0.9l-1.8-1l-2.4 0.8z"/><path color="#84c281" d="M419.8 103.7l2.4-1.9l-1.9-1.1l-2.3 1.7z"/><path color="#7ec48b" d="M417.4 106.6l2.4-2.9l-1.8-1.3l-2.4 2.7z"/><path color="#76c89e" d="M415 110.5l2.4-3.9l-1.8-1.5l-2.4 3.5z"/><path color="#67c8af" d="M412.7 114.8l2.3-4.3l-1.8-1.9l-2.4 4z"/><path color="#58c6bd" d="M410.3 119.1l2.4-4.3l-1.9-2.2l-2.3 3.8z"/><path color="#4fc4c8" d="M407.9 122.9l2.4-3.8l-1.8-2.7l-2.4 3.1z"/><path color="#4bc2cf" d="M405.5 125.7l2.4-2.8l-1.8-3.4l-2.4 2z"/><path color="#48c0d1" d="M403.1 127.5l2.4-1.8l-1.8-4.2l-2.4 0.8z"/><path color="#3fbdce" d="M400.8 128.1l2.3-0.6l-1.8-5.2l-2.3-0.4z"/><path color="#2fb8c4" d="M398.4 127.5l2.4 0.6l-1.8-6.2l-2.4-1.9z"/><path color="#31b9b9" d="M396 126.1l2.4 1.4l-1.8-7.5l-2.4-2.4z"/><path color="#4bc1b5" d="M393.6 124.6l2.4 1.5l-1.8-8.5l-2.4-0.8z"/><path color="#54c3af" d="M391.3 123.4l2.3 1.2l-1.8-7.8l-2.4 0.8z"/><path color="#4cbfa2" d="M388.9 122.2l2.4 1.2l-1.9-5.8l-2.3 0.7z"/><path color="#53bf99" d="M386.5 121l2.4 1.2l-1.8-3.9l-2.4 0z"/><path color="#61c191" d="M384.1 119.8l2.4 1.2l-1.8-2.7l-2.4-0.4z"/><path color="#73c289" d="M381.8 117.9l2.3 1.9l-1.8-1.9l-2.4-1.1z"/><path color="#94c583" d="M379.4 114.1l2.4 3.8l-1.9-1.1l-2.3-2.9z"/><path color="#c8d194" d="M377 109.2l2.4 4.9l-1.8-0.2l-2.4-5z"/><path color="#ebe0b4" d="M374.6 111.7l2.4-2.5l-1.8-0.3l-2.4-2.7z"/><path color="#bddbb4" d="M372.3 125.3l2.3-13.6l-1.8-5.5l-2.4 17.1z"/><path color="#b9d7aa" d="M471.5 81.5l2.4 7.3l-1.8-4.2l-2.4-7.3z"/><path color="#d8deb1" d="M469.1 81.3l2.4 0.2l-1.8-4.2l-2.4-0.2z"/><path color="#ced295" d="M466.8 82l2.3-0.7l-1.8-4.2l-2.4 0.7z"/><path color="#c7cd89" d="M464.4 83.3l2.4-1.3l-1.9-4.2l-2.3 1.4z"/><path color="#c3cd8b" d="M462 85l2.4-1.7l-1.8-4.1l-2.4 2z"/><path color="#bdce8f" d="M459.6 87.2l2.4-2.2l-1.8-3.8l-2.4 2.3z"/><path color="#b4d096" d="M457.2 90.5l2.4-3.3l-1.8-3.7l-2.4 3.4z"/><path color="#a0d1a0" d="M454.9 95.4l2.3-4.9l-1.8-3.6l-2.3 5.5z"/><path color="#7acdaf" d="M452.5 101.7l2.4-6.3l-1.8-3l-2.4 7.2z"/><path color="#4ec3bf" d="M450.1 107.5l2.4-5.8l-1.8-2.1l-2.4 6.3z"/><path color="#25b5c4" d="M447.7 110.2l2.4-2.7l-1.8-1.6l-2.4 2.4z"/><path color="#18b1bf" d="M445.4 109.8l2.3 0.4l-1.8-1.9l-2.3-1.4z"/><path color="#25b6b5" d="M443 107.7l2.4 2.1l-1.8-2.9l-2.4-2.3z"/><path color="#38baa9" d="M440.6 105.5l2.4 2.2l-1.8-3.1l-2.4-1.6z"/><path color="#4bbe9d" d="M438.2 103.6l2.4 1.9l-1.8-2.5l-2.4-0.6z"/><path color="#5bc094" d="M435.9 102.1l2.3 1.5l-1.8-1.2l-2.4-0.4z"/><path color="#6bc18d" d="M433.5 101l2.4 1.1l-1.9-0.1l-2.3-0.3z"/><path color="#79c286" d="M431.1 100.2l2.4 0.8l-1.8 0.7l-2.4-0.5z"/><path color="#85c281" d="M428.7 99.8l2.4 0.4l-1.8 1l-2.4-0.4z"/><path color="#8ec27d" d="M426.4 100.1l2.3-0.3l-1.8 1l-2.4 0.1z"/><path color="#90c27d" d="M424 101.4l2.4-1.3l-1.9 0.8l-2.3 0.9z"/><path color="#8ac27f" d="M421.6 104l2.4-2.6l-1.8 0.4l-2.4 1.9z"/><path color="#7bc388" d="M419.2 107.8l2.4-3.8l-1.8-0.3l-2.4 2.9z"/><path color="#75c9a2" d="M416.8 112.5l2.4-4.7l-1.8-1.2l-2.4 3.9z"/><path color="#68cab7" d="M414.5 117.7l2.3-5.2l-1.8-2l-2.3 4.3z"/><path color="#5bc8c7" d="M412.1 122.8l2.4-5.1l-1.8-2.9l-2.4 4.3z"/><path color="#54c4d2" d="M409.7 127.4l2.4-4.6l-1.8-3.7l-2.4 3.8z"/><path color="#54c1d9" d="M407.3 131l2.4-3.6l-1.8-4.5l-2.4 2.8z"/><path color="#54bddd" d="M405 133.5l2.3-2.5l-1.8-5.3l-2.4 1.8z"/><path color="#4eb9dc" d="M402.6 134.6l2.4-1.1l-1.9-6l-2.3 0.6z"/><path color="#3bb3d7" d="M400.2 134.4l2.4 0.2l-1.8-6.5l-2.4-0.6z"/><path color="#1fadce" d="M397.8 133.2l2.4 1.2l-1.8-6.9l-2.4-1.4z"/><path color="#16aec4" d="M395.5 131.1l2.3 2.1l-1.8-7.1l-2.4-1.5z"/><path color="#1eb3ba" d="M393.1 128.7l2.4 2.4l-1.9-6.5l-2.3-1.2z"/><path color="#2eb8af" d="M390.7 126.2l2.4 2.5l-1.8-5.3l-2.4-1.2z"/><path color="#41bca3" d="M388.3 123.9l2.4 2.3l-1.8-4l-2.4-1.2z"/><path color="#56bf97" d="M386 121.7l2.3 2.2l-1.8-2.9l-2.4-1.2z"/><path color="#71c28b" d="M383.6 118.8l2.4 2.9l-1.9-1.9l-2.3-1.9z"/><path color="#9dc888" d="M381.2 114.4l2.4 4.4l-1.8-0.9l-2.4-3.8z"/><path color="#d4d7a1" d="M378.8 109.9l2.4 4.5l-1.8-0.3l-2.4-4.9z"/><path color="#e8e3bb" d="M376.4 119.5l2.4-9.6l-1.8-0.7l-2.4 2.5z"/><path color="#94d1a8" d="M374.1 126.4l2.3-6.9l-1.8-7.8l-2.3 13.6z"/><path color="#94cfa3" d="M473.3 87l2.4 3.7l-1.8-1.9l-2.4-7.3z"/><path color="#cfdfb8" d="M470.9 85l2.4 2l-1.8-5.5l-2.4-0.2z"/><path color="#c6d7a5" d="M468.6 85.7l2.3-0.7l-1.8-3.7l-2.3 0.7z"/><path color="#b6cd8d" d="M466.2 86.8l2.4-1.1l-1.8-3.7l-2.4 1.3z"/><path color="#b0cb8a" d="M463.8 88.3l2.4-1.5l-1.8-3.5l-2.4 1.7z"/><path color="#accd90" d="M461.4 90.4l2.4-2.1l-1.8-3.3l-2.4 2.2z"/><path color="#a5cf9a" d="M459.1 93.7l2.3-3.3l-1.8-3.2l-2.4 3.3z"/><path color="#93d0a6" d="M456.7 98.7l2.4-5l-1.9-3.2l-2.3 4.9z"/><path color="#74cdb7" d="M454.3 104.8l2.4-6.1l-1.8-3.3l-2.4 6.3z"/><path color="#57c6c7" d="M451.9 110.5l2.4-5.7l-1.8-3.1l-2.4 5.8z"/><path color="#46bfd0" d="M449.6 114l2.3-3.5l-1.8-3l-2.4 2.7z"/><path color="#28b4cb" d="M447.2 114.4l2.4-0.4l-1.9-3.8l-2.3-0.4z"/><path color="#19b1bf" d="M444.8 112.7l2.4 1.7l-1.8-4.6l-2.4-2.1z"/><path color="#28b7b3" d="M442.4 109.6l2.4 3.1l-1.8-5l-2.4-2.2z"/><path color="#41bca3" d="M440.1 106l2.3 3.6l-1.8-4.1l-2.4-1.9z"/><path color="#5dc093" d="M437.7 102.9l2.4 3.1l-1.9-2.4l-2.3-1.5z"/><path color="#78c287" d="M435.3 100.5l2.4 2.4l-1.8-0.8l-2.4-1.1z"/><path color="#8cc27e" d="M432.9 99l2.4 1.5l-1.8 0.5l-2.4-0.8z"/><path color="#99c279" d="M430.5 98.3l2.4 0.7l-1.8 1.2l-2.4-0.4z"/><path color="#a1c276" d="M428.2 98.6l2.3-0.3l-1.8 1.5l-2.3 0.3zM425.8 100.3l2.4-1.7l-1.8 1.5l-2.4 1.3z"/><path color="#96c27a" d="M423.4 103.7l2.4-3.4l-1.8 1.1l-2.4 2.6z"/><path color="#81c385" d="M421 108.6l2.4-4.9l-1.8 0.3l-2.4 3.8z"/><path color="#74c9a5" d="M418.7 114.5l2.3-5.9l-1.8-0.8l-2.4 4.7z"/><path color="#63cabe" d="M416.3 120.8l2.4-6.3l-1.9-2l-2.3 5.2z"/><path color="#56c6cf" d="M413.9 127l2.4-6.2l-1.8-3.1l-2.4 5.1z"/><path color="#55c0da" d="M411.5 132.4l2.4-5.4l-1.8-4.2l-2.4 4.6z"/><path color="#59b9e0" d="M409.2 136.6l2.3-4.2l-1.8-5l-2.4 3.6z"/><path color="#5cb2e1" d="M406.8 139.4l2.4-2.8l-1.9-5.6l-2.3 2.5z"/><path color="#57ace0" d="M404.4 140.7l2.4-1.3l-1.8-5.9l-2.4 1.1z"/><path color="#41a3dc" d="M402 140.7l2.4 0l-1.8-6.1l-2.4-0.2z"/><path color="#1d99d5" d="M399.7 139.2l2.3 1.5l-1.8-6.3l-2.4-1.2z"/><path color="#14a1d1" d="M397.3 136.7l2.4 2.5l-1.9-6l-2.3-2.1z"/><path color="#13aac9" d="M394.9 133.5l2.4 3.2l-1.8-5.6l-2.4-2.4z"/><path color="#1cb2bd" d="M392.5 130.1l2.4 3.4l-1.8-4.8l-2.4-2.5z"/><path color="#30b9ae" d="M390.1 126.9l2.4 3.2l-1.8-3.9l-2.4-2.3z"/><path color="#4bbe9e" d="M387.8 123.6l2.3 3.3l-1.8-3l-2.3-2.2z"/><path color="#71c38e" d="M385.4 119.6l2.4 4l-1.8-1.9l-2.4-2.9z"/><path color="#abcd93" d="M383 114.8l2.4 4.8l-1.8-0.8l-2.4-4.4z"/><path color="#dcddaf" d="M380.6 112.5l2.4 2.3l-1.8-0.4l-2.4-4.5z"/><path color="#d7e2be" d="M378.3 125.9l2.3-13.4l-1.8-2.6l-2.4 9.6z"/><path color="#6ec69c" d="M375.9 127.6l2.4-1.7l-1.9-6.4l-2.3 6.9z"/><path color="#71c79c" d="M475.1 91.5l2.4 0.3l-1.8-1.1l-2.4-3.7z"/><path color="#b9dbb4" d="M472.8 87.9l2.3 3.6l-1.8-4.5l-2.4-2z"/><path color="#c3dcb3" d="M470.4 88.7l2.4-0.8l-1.9-2.9l-2.3 0.7z"/><path color="#a9ce93" d="M468 89.7l2.4-1l-1.8-3l-2.4 1.1z"/><path color="#9ec98a" d="M465.6 91.1l2.4-1.4l-1.8-2.9l-2.4 1.5z"/><path color="#9dcc93" d="M463.3 93.5l2.3-2.4l-1.8-2.8l-2.4 2.1z"/><path color="#98d0a2" d="M460.9 97.4l2.4-3.9l-1.9-3.1l-2.3 3.3z"/><path color="#86d1b2" d="M458.5 103.2l2.4-5.8l-1.8-3.7l-2.4 5z"/><path color="#6dcdc4" d="M456.1 110.2l2.4-7l-1.8-4.5l-2.4 6.1z"/><path color="#5cc7d4" d="M453.8 116.5l2.3-6.3l-1.8-5.4l-2.4 5.7z"/><path color="#5ac1dd" d="M451.4 120.5l2.4-4l-1.9-6l-2.3 3.5z"/><path color="#4fb9dc" d="M449 121.6l2.4-1.1l-1.8-6.5l-2.4 0.4z"/><path color="#1ba9d0" d="M446.6 119.8l2.4 1.8l-1.8-7.2l-2.4-1.7z"/><path color="#16aec4" d="M444.2 115.7l2.4 4.1l-1.8-7.1l-2.4-3.1z"/><path color="#2bb7b1" d="M441.9 110.4l2.3 5.3l-1.8-6.1l-2.3-3.6z"/><path color="#52bf99" d="M439.5 105.2l2.4 5.2l-1.8-4.4l-2.4-3.1z"/><path color="#7cc285" d="M437.1 101.1l2.4 4.1l-1.8-2.3l-2.4-2.4z"/><path color="#99c279" d="M434.7 98.4l2.4 2.7l-1.8-0.6l-2.4-1.5z"/><path color="#abc171" d="M432.4 97l2.3 1.4l-1.8 0.6l-2.4-0.7z"/><path color="#b5c16e" d="M430 97.1l2.4-0.1l-1.9 1.3l-2.3 0.3z"/><path color="#b4c16e" d="M427.6 99l2.4-1.9l-1.8 1.5l-2.4 1.7z"/><path color="#a6c274" d="M425.2 103.1l2.4-4.1l-1.8 1.3l-2.4 3.4z"/><path color="#8ac382" d="M422.9 109.1l2.3-6l-1.8 0.6l-2.4 4.9z"/><path color="#74c9a5" d="M420.5 116.2l2.4-7.1l-1.9-0.5l-2.3 5.9z"/><path color="#5cc8c2" d="M418.1 123.7l2.4-7.5l-1.8-1.7l-2.4 6.3z"/><path color="#50c2d5" d="M415.7 130.8l2.4-7.1l-1.8-2.9l-2.4 6.2z"/><path color="#55b8df" d="M413.4 136.9l2.3-6.1l-1.8-3.8l-2.4 5.4z"/><path color="#5daee1" d="M411 141.5l2.4-4.6l-1.9-4.5l-2.3 4.2z"/><path color="#5ba6e3" d="M408.6 144.4l2.4-2.9l-1.8-4.9l-2.4 2.8z"/><path color="#509ee3" d="M406.2 145.9l2.4-1.5l-1.8-5l-2.4 1.3z"/><path color="#348fde" d="M403.8 145.8l2.4 0.1l-1.8-5.2l-2.4 0z"/><path color="#1f87d8" d="M401.5 144.3l2.3 1.5l-1.8-5.1l-2.3-1.5z"/><path color="#1d91d5" d="M399.1 141.5l2.4 2.8l-1.8-5.1l-2.4-2.5z"/><path color="#15a0d2" d="M396.7 137.8l2.4 3.7l-1.8-4.8l-2.4-3.2z"/><path color="#14acc7" d="M394.3 133.6l2.4 4.2l-1.8-4.3l-2.4-3.4z"/><path color="#24b5b6" d="M392 129.5l2.3 4.1l-1.8-3.5l-2.4-3.2z"/><path color="#43bda3" d="M389.6 125.2l2.4 4.3l-1.9-2.6l-2.3-3.3z"/><path color="#78c695" d="M387.2 120.3l2.4 4.9l-1.8-1.6l-2.4-4z"/><path color="#bbd6a4" d="M384.8 115.7l2.4 4.6l-1.8-0.7l-2.4-4.8z"/><path color="#dfe2bc" d="M382.5 119.9l2.3-4.2l-1.8-0.9l-2.4-2.3z"/><path color="#aed9b3" d="M380.1 127.8l2.4-7.9l-1.9-7.4l-2.3 13.4z"/><path color="#59bf93" d="M377.7 128.7l2.4-0.9l-1.8-1.9l-2.4 1.7z"/><path color="#5dc195" d="M477 93.8l2.3-0.8l-1.8-1.2l-2.4-0.3z"/><path color="#95d2a9" d="M474.6 91.6l2.4 2.2l-1.9-2.3l-2.3-3.6z"/><path color="#c1dfbc" d="M472.2 91l2.4 0.6l-1.8-3.7l-2.4 0.8z"/><path color="#abd4a4" d="M469.8 92l2.4-1l-1.8-2.3l-2.4 1z"/><path color="#93c88d" d="M467.5 93.5l2.3-1.5l-1.8-2.3l-2.4 1.4z"/><path color="#92cc98" d="M465.1 96.3l2.4-2.8l-1.9-2.4l-2.3 2.4z"/><path color="#8bd0aa" d="M462.7 101.3l2.4-5l-1.8-2.8l-2.4 3.9z"/><path color="#75cfbe" d="M460.3 108.5l2.4-7.2l-1.8-3.9l-2.4 5.8z"/><path color="#60c9d2" d="M457.9 116.7l2.4-8.2l-1.8-5.3l-2.4 7z"/><path color="#5ebfdf" d="M455.6 123.7l2.3-7l-1.8-6.5l-2.3 6.3z"/><path color="#65b4e2" d="M453.2 128.1l2.4-4.4l-1.8-7.2l-2.4 4z"/><path color="#5dabe2" d="M450.8 129.4l2.4-1.3l-1.8-7.6l-2.4 1.1z"/><path color="#2895d8" d="M448.4 127.5l2.4 1.9l-1.8-7.8l-2.4-1.8z"/><path color="#169ed2" d="M446.1 122.7l2.3 4.8l-1.8-7.7l-2.4-4.1z"/><path color="#17aec3" d="M443.7 115.8l2.4 6.9l-1.9-7l-2.3-5.3z"/><path color="#3cbba6" d="M441.3 108.6l2.4 7.2l-1.8-5.4l-2.4-5.2z"/><path color="#74c289" d="M438.9 102.7l2.4 5.9l-1.8-3.4l-2.4-4.1z"/><path color="#9fc277" d="M436.6 98.6l2.3 4.1l-1.8-1.6l-2.4-2.7z"/><path color="#b8c06d" d="M434.2 96.4l2.4 2.2l-1.9-0.2l-2.3-1.4z"/><path color="#c4c068" d="M431.8 96.2l2.4 0.2l-1.8 0.6l-2.4 0.1zM429.4 98.2l2.4-2l-1.8 0.9l-2.4 1.9z"/><path color="#b4c16e" d="M427.1 102.7l2.3-4.5l-1.8 0.8l-2.4 4.1z"/><path color="#95c37e" d="M424.7 109.4l2.4-6.7l-1.9 0.4l-2.3 6z"/><path color="#73c9a3" d="M422.3 117.4l2.4-8l-1.8-0.3l-2.4 7.1z"/><path color="#53c5c3" d="M419.9 125.9l2.4-8.5l-1.8-1.2l-2.4 7.5z"/><path color="#4abcd7" d="M417.5 133.7l2.4-7.8l-1.8-2.2l-2.4 7.1z"/><path color="#53afdf" d="M415.2 140.2l2.3-6.5l-1.8-2.9l-2.3 6.1z"/><path color="#55a3e2" d="M412.8 145l2.4-4.8l-1.8-3.3l-2.4 4.6z"/><path color="#4b99e5" d="M410.4 148l2.4-3l-1.8-3.5l-2.4 2.9z"/><path color="#378be5" d="M408 149.4l2.4-1.4l-1.8-3.6l-2.4 1.5z"/><path color="#1a7be1" d="M405.7 149.5l2.3-0.1l-1.8-3.5l-2.4-0.1z"/><path color="#1a7ddd" d="M403.3 148.1l2.4 1.4l-1.9-3.7l-2.3-1.5z"/><path color="#1f86d8" d="M400.9 145.2l2.4 2.9l-1.8-3.8l-2.4-2.8z"/><path color="#1b96d4" d="M398.5 141.1l2.4 4.1l-1.8-3.7l-2.4-3.7z"/><path color="#13a6cd" d="M396.2 136.4l2.3 4.7l-1.8-3.3l-2.4-4.2z"/><path color="#1cb2bd" d="M393.8 131.5l2.4 4.9l-1.9-2.8l-2.3-4.1z"/><path color="#43bda9" d="M391.4 126.3l2.4 5.2l-1.8-2l-2.4-4.3z"/><path color="#89cda2" d="M389 121.1l2.4 5.2l-1.8-1.1l-2.4-4.9z"/><path color="#c9ddb4" d="M386.6 118.1l2.4 3l-1.8-0.8l-2.4-4.6z"/><path color="#d3e3c1" d="M384.3 127.1l2.3-9l-1.8-2.4l-2.3 4.2z"/><path color="#79caa1" d="M381.9 129l2.4-1.9l-1.8-7.2l-2.4 7.9z"/><path color="#55bd90" d="M379.5 129.9l2.4-0.9l-1.8-1.2l-2.4 0.9z"/><path color="#56be91" d="M478.8 95l2.4-0.9l-1.9-1.1l-2.3 0.8z"/><path color="#6fc69d" d="M476.4 95.3l2.4-0.3l-1.8-1.2l-2.4-2.2z"/><path color="#aedab7" d="M474 93l2.4 2.3l-1.8-3.7l-2.4-0.6z"/><path color="#b8ddb9" d="M471.6 93.9l2.4-0.9l-1.8-2l-2.4 1z"/><path color="#97ce9c" d="M469.3 95.6l2.3-1.7l-1.8-1.9l-2.3 1.5z"/><path color="#8bcd9f" d="M466.9 99l2.4-3.4l-1.8-2.1l-2.4 2.8z"/><path color="#7dcfb2" d="M464.5 105l2.4-6l-1.8-2.7l-2.4 5z"/><path color="#64cbc8" d="M462.1 113.5l2.4-8.5l-1.8-3.7l-2.4 7.2z"/><path color="#59c1db" d="M459.8 122.8l2.3-9.3l-1.8-5l-2.4 8.2z"/><path color="#62b1e3" d="M457.4 130.2l2.4-7.4l-1.9-6.1l-2.3 7z"/><path color="#60a5e7" d="M455 134.6l2.4-4.4l-1.8-6.5l-2.4 4.4z"/><path color="#509ae8" d="M452.6 135.8l2.4-1.2l-1.8-6.5l-2.4 1.3z"/><path color="#1f80df" d="M450.3 134.1l2.3 1.7l-1.8-6.4l-2.4-1.9z"/><path color="#1e89d8" d="M447.9 129l2.4 5.1l-1.9-6.6l-2.3-4.8z"/><path color="#15a2cf" d="M445.5 121.1l2.4 7.9l-1.8-6.3l-2.4-6.9z"/><path color="#27b5b5" d="M443.1 112.4l2.4 8.7l-1.8-5.3l-2.4-7.2z"/><path color="#65c090" d="M440.8 105l2.3 7.4l-1.8-3.8l-2.4-5.9z"/><path color="#9dc277" d="M438.4 99.9l2.4 5.1l-1.9-2.3l-2.3-4.1z"/><path color="#bdc06a" d="M436 97l2.4 2.9l-1.8-1.3l-2.4-2.2z"/><path color="#cdbf64" d="M433.6 96.4l2.4 0.6l-1.8-0.6l-2.4-0.2z"/><path color="#cebf64" d="M431.2 98.3l2.4-1.9l-1.8-0.2l-2.4 2z"/><path color="#bec06a" d="M428.9 102.8l2.3-4.5l-1.8-0.1l-2.3 4.5z"/><path color="#9fc47c" d="M426.5 109.7l2.4-6.9l-1.8-0.1l-2.4 6.7z"/><path color="#72c79e" d="M424.1 118.1l2.4-8.4l-1.8-0.3l-2.4 8z"/><path color="#48c1bf" d="M421.7 126.9l2.4-8.8l-1.8-0.7l-2.4 8.5z"/><path color="#3db6d6" d="M419.4 135.2l2.3-8.3l-1.8-1l-2.4 7.8z"/><path color="#47a4dd" d="M417 142.1l2.4-6.9l-1.9-1.5l-2.3 6.5z"/><path color="#4396e2" d="M414.6 147l2.4-4.9l-1.8-1.9l-2.4 4.8z"/><path color="#2c85e4" d="M412.2 150l2.4-3l-1.8-2l-2.4 3z"/><path color="#1475e2" d="M409.9 151.4l2.3-1.4l-1.8-2l-2.4 1.4z"/><path color="#1073e2" d="M407.5 151.7l2.4-0.3l-1.9-2l-2.3 0.1z"/><path color="#1477e0" d="M405.1 150.4l2.4 1.3l-1.8-2.2l-2.4-1.4z"/><path color="#1c81db" d="M402.7 147.5l2.4 2.9l-1.8-2.3l-2.4-2.9z"/><path color="#1e8fd5" d="M400.3 143.2l2.4 4.3l-1.8-2.3l-2.4-4.1z"/><path color="#14a3d0" d="M398 138.1l2.3 5.1l-1.8-2.1l-2.3-4.7z"/><path color="#1cb2c0" d="M395.6 132.6l2.4 5.5l-1.8-1.7l-2.4-4.9z"/><path color="#52c3b0" d="M393.2 127l2.4 5.6l-1.8-1.1l-2.4-5.2z"/><path color="#a3d8b4" d="M390.8 122.2l2.4 4.8l-1.8-0.7l-2.4-5.2z"/><path color="#cfe3c1" d="M388.5 124.6l2.3-2.4l-1.8-1.1l-2.4-3z"/><path color="#a6d8b5" d="M386.1 129.3l2.4-4.7l-1.9-6.5l-2.3 9z"/><path color="#5abf93" d="M383.7 130.1l2.4-0.8l-1.8-2.2l-2.4 1.9z"/><path color="#53bd8f" d="M381.3 131l2.4-0.9l-1.8-1.1l-2.4 0.9zM480.6 96.1l2.4-0.9l-1.8-1.1l-2.4 0.9z"/><path color="#5bc094" d="M478.2 97l2.4-0.9l-1.8-1.1l-2.4 0.3z"/><path color="#86cea6" d="M475.8 96.3l2.4 0.7l-1.8-1.7l-2.4-2.3z"/><path color="#b8debe" d="M473.5 95.4l2.3 0.9l-1.8-3.3l-2.4 0.9z"/><path color="#aad9b3" d="M471.1 97.3l2.4-1.9l-1.9-1.5l-2.3 1.7z"/><path color="#8ed1aa" d="M468.7 101.2l2.4-3.9l-1.8-1.7l-2.4 3.4z"/><path color="#72cdb8" d="M466.3 108.1l2.4-6.9l-1.8-2.2l-2.4 6z"/><path color="#57c6cf" d="M464 117.6l2.3-9.5l-1.8-3.1l-2.4 8.5z"/><path color="#58b6df" d="M461.6 127.4l2.4-9.8l-1.9-4.1l-2.3 9.3z"/><path color="#5ba4e6" d="M459.2 134.9l2.4-7.5l-1.8-4.6l-2.4 7.4z"/><path color="#4f95e9" d="M456.8 138.8l2.4-3.9l-1.8-4.7l-2.4 4.4z"/><path color="#3b80e5" d="M454.4 140l2.4-1.2l-1.8-4.2l-2.4 1.2z"/><path color="#126de2" d="M452.1 138.7l2.3 1.3l-1.8-4.2l-2.3-1.7z"/><path color="#177bde" d="M449.7 133.8l2.4 4.9l-1.8-4.6l-2.4-5.1z"/><path color="#1b94d5" d="M447.3 125.5l2.4 8.3l-1.8-4.8l-2.4-7.9z"/><path color="#1aafc0" d="M444.9 115.9l2.4 9.6l-1.8-4.4l-2.4-8.7z"/><path color="#54bf99" d="M442.6 107.7l2.3 8.2l-1.8-3.5l-2.3-7.4z"/><path color="#96c27a" d="M440.2 102l2.4 5.7l-1.8-2.7l-2.4-5.1z"/><path color="#bbc06b" d="M437.8 98.9l2.4 3.1l-1.8-2.1l-2.4-2.9z"/><path color="#cebf64" d="M435.4 98l2.4 0.9l-1.8-1.9l-2.4-0.6z"/><path color="#d1be63" d="M433.1 99.4l2.3-1.4l-1.8-1.6l-2.4 1.9z"/><path color="#c4c16c" d="M430.7 103.5l2.4-4.1l-1.9-1.1l-2.3 4.5z"/><path color="#a6c47c" d="M428.3 109.9l2.4-6.4l-1.8-0.7l-2.4 6.9z"/><path color="#6fc392" d="M425.9 118l2.4-8.1l-1.8-0.2l-2.4 8.4z"/><path color="#35bab4" d="M423.6 126.8l2.3-8.8l-1.8 0.1l-2.4 8.8z"/><path color="#1eabce" d="M421.2 135.2l2.4-8.4l-1.9 0.1l-2.3 8.3z"/><path color="#2796d7" d="M418.8 142.3l2.4-7.1l-1.8 0l-2.4 6.9z"/><path color="#2283dd" d="M416.4 147.6l2.4-5.3l-1.8-0.2l-2.4 4.9z"/><path color="#1376e1" d="M414 150.7l2.4-3.1l-1.8-0.6l-2.4 3z"/><path color="#0f72e2" d="M411.7 152.3l2.3-1.6l-1.8-0.7l-2.3 1.4zM409.3 152.6l2.4-0.3l-1.8-0.9l-2.4 0.3z"/><path color="#1376e1" d="M406.9 151.3l2.4 1.3l-1.8-0.9l-2.4-1.3z"/><path color="#1b7fdc" d="M404.5 148.3l2.4 3l-1.8-0.9l-2.4-2.9z"/><path color="#1e8ed6" d="M402.2 143.9l2.3 4.4l-1.8-0.8l-2.4-4.3z"/><path color="#16a3d1" d="M399.8 138.6l2.4 5.3l-1.9-0.7l-2.3-5.1z"/><path color="#2ab7c3" d="M397.4 132.9l2.4 5.7l-1.8-0.5l-2.4-5.5z"/><path color="#75cebe" d="M395 127.5l2.4 5.4l-1.8-0.3l-2.4-5.6z"/><path color="#b6dfc1" d="M392.7 125l2.3 2.5l-1.8-0.5l-2.4-4.8z"/><path color="#bde0c1" d="M390.3 129.5l2.4-4.5l-1.9-2.8l-2.3 2.4z"/><path color="#6bc59c" d="M387.9 130.4l2.4-0.9l-1.8-4.9l-2.4 4.7z"/><path color="#54bd90" d="M385.5 131.3l2.4-0.9l-1.8-1.1l-2.4 0.8z"/><path color="#53bd8f" d="M383.2 132.2l2.3-0.9l-1.8-1.2l-2.4 0.9zM482.4 97.3l2.4-0.9l-1.8-1.2l-2.4 0.9z"/><path color="#54bd90" d="M480 98.1l2.4-0.8l-1.8-1.2l-2.4 0.9z"/><path color="#64c398" d="M477.7 99l2.3-0.9l-1.8-1.1l-2.4-0.7z"/><path color="#98d4af" d="M475.3 97.8l2.4 1.2l-1.9-2.7l-2.3-0.9z"/><path color="#b6dfc1" d="M472.9 98.8l2.4-1l-1.8-2.4l-2.4 1.9z"/><path color="#a0d9bc" d="M470.5 102.9l2.4-4.1l-1.8-1.5l-2.4 3.9z"/><path color="#72cebf" d="M468.1 110.2l2.4-7.3l-1.8-1.7l-2.4 6.9z"/><path color="#4fc1d3" d="M465.8 120.2l2.3-10l-1.8-2.1l-2.3 9.5z"/><path color="#53acdf" d="M463.4 130.3l2.4-10.1l-1.8-2.6l-2.4 9.8z"/><path color="#4c97e7" d="M461 137.6l2.4-7.3l-1.8-2.9l-2.4 7.5z"/><path color="#417ee3" d="M458.6 141.2l2.4-3.6l-1.8-2.7l-2.4 3.9z"/><path color="#2f5ed6" d="M456.3 142.2l2.3-1l-1.8-2.4l-2.4 1.2z"/><path color="#2260db" d="M453.9 141.4l2.4 0.8l-1.9-2.2l-2.3-1.3z"/><path color="#1272e1" d="M451.5 136.8l2.4 4.6l-1.8-2.7l-2.4-4.9z"/><path color="#1d8ad7" d="M449.1 128.5l2.4 8.3l-1.8-3l-2.4-8.3z"/><path color="#15aac8" d="M446.8 118.7l2.3 9.8l-1.8-3l-2.4-9.6z"/><path color="#46bca1" d="M444.4 110.3l2.4 8.4l-1.9-2.8l-2.3-8.2z"/><path color="#8ac27f" d="M442 104.7l2.4 5.6l-1.8-2.6l-2.4-5.7z"/><path color="#b3c16f" d="M439.6 101.6l2.4 3.1l-1.8-2.7l-2.4-3.1z"/><path color="#c7bf67" d="M437.3 100.5l2.3 1.1l-1.8-2.7l-2.4-0.9z"/><path color="#ccbf65" d="M434.9 101.4l2.4-0.9l-1.9-2.5l-2.3 1.4z"/><path color="#c5c370" d="M432.5 104.5l2.4-3.1l-1.8-2l-2.4 4.1z"/><path color="#a8c275" d="M430.1 109.8l2.4-5.3l-1.8-1l-2.4 6.4z"/><path color="#75c288" d="M427.7 117l2.4-7.2l-1.8 0.1l-2.4 8.1z"/><path color="#38baa9" d="M425.4 125.3l2.3-8.3l-1.8 1l-2.3 8.8z"/><path color="#15acc6" d="M423 133.6l2.4-8.3l-1.8 1.5l-2.4 8.4z"/><path color="#1998d4" d="M420.6 141l2.4-7.4l-1.8 1.6l-2.4 7.1z"/><path color="#1e84d9" d="M418.2 146.5l2.4-5.5l-1.8 1.3l-2.4 5.3z"/><path color="#177adf" d="M415.9 150.1l2.3-3.6l-1.8 1.1l-2.4 3.1z"/><path color="#1275e1" d="M413.5 151.9l2.4-1.8l-1.9 0.6l-2.3 1.6z"/><path color="#1174e1" d="M411.1 152.1l2.4-0.2l-1.8 0.4l-2.4 0.3z"/><path color="#1679df" d="M408.7 150.7l2.4 1.4l-1.8 0.5l-2.4-1.3z"/><path color="#1f83db" d="M406.4 147.6l2.3 3.1l-1.8 0.6l-2.4-3z"/><path color="#2596d7" d="M404 143.2l2.4 4.4l-1.9 0.7l-2.3-4.4z"/><path color="#2baed3" d="M401.6 138l2.4 5.2l-1.8 0.7l-2.4-5.3z"/><path color="#56c6cb" d="M399.2 132.6l2.4 5.4l-1.8 0.6l-2.4-5.7z"/><path color="#9adbcb" d="M396.9 128.2l2.3 4.4l-1.8 0.3l-2.4-5.4z"/><path color="#b0dec1" d="M394.5 129.3l2.4-1.1l-1.9-0.7l-2.3-2.5z"/><path color="#7fcda7" d="M392.1 130.7l2.4-1.4l-1.8-4.3l-2.4 4.5z"/><path color="#57be91" d="M389.7 131.5l2.4-0.8l-1.8-1.2l-2.4 0.9z"/><path color="#53bd8f" d="M387.3 132.4l2.4-0.9l-1.8-1.1l-2.4 0.9zM385 133.3l2.3-0.9l-1.8-1.1l-2.3 0.9zM484.2 98.4l2.4-0.9l-1.8-1.1l-2.4 0.9zM481.8 99.3l2.4-0.9l-1.8-1.1l-2.4 0.8z"/><path color="#56be91" d="M479.5 100.2l2.3-0.9l-1.8-1.2l-2.3 0.9z"/><path color="#6cc69c" d="M477.1 100.9l2.4-0.7l-1.8-1.2l-2.4-1.2z"/><path color="#a0d8b6" d="M474.7 100.4l2.4 0.5l-1.8-3.1l-2.4 1z"/><path color="#b0e0c8" d="M472.3 104l2.4-3.6l-1.8-1.6l-2.4 4.1z"/><path color="#86d5ca" d="M470 111.2l2.3-7.2l-1.8-1.1l-2.4 7.3z"/><path color="#4ec0d4" d="M467.6 121.1l2.4-9.9l-1.9-1l-2.3 10z"/><path color="#44a2dd" d="M465.2 131.2l2.4-10.1l-1.8-0.9l-2.4 10.1z"/><path color="#3186e4" d="M462.8 138.6l2.4-7.4l-1.8-0.9l-2.4 7.3z"/><path color="#2966dc" d="M460.5 142.2l2.3-3.6l-1.8-1l-2.4 3.6z"/><path color="#3058d1" d="M458.1 143.4l2.4-1.2l-1.9-1l-2.3 1z"/><path color="#295cd6" d="M455.7 142.5l2.4 0.9l-1.8-1.2l-2.4-0.8z"/><path color="#126fe1" d="M453.3 137.9l2.4 4.6l-1.8-1.1l-2.4-4.6z"/><path color="#1d87d9" d="M451 129.8l2.3 8.1l-1.8-1.1l-2.4-8.3z"/><path color="#14a8cb" d="M448.6 120.4l2.4 9.4l-1.9-1.3l-2.3-9.8z"/><path color="#3cbba6" d="M446.2 112.5l2.4 7.9l-1.8-1.7l-2.4-8.4z"/><path color="#7ec284" d="M443.8 107.4l2.4 5.1l-1.8-2.2l-2.4-5.6z"/><path color="#a6c174" d="M441.4 104.6l2.4 2.8l-1.8-2.7l-2.4-3.1z"/><path color="#bbc06b" d="M439.1 103.4l2.3 1.2l-1.8-3l-2.3-1.1z"/><path color="#c3c068" d="M436.7 103.6l2.4-0.2l-1.8-2.9l-2.4 0.9z"/><path color="#bfc06b" d="M434.3 105.5l2.4-1.9l-1.8-2.2l-2.4 3.1z"/><path color="#acc171" d="M431.9 109.4l2.4-3.9l-1.8-1l-2.4 5.3z"/><path color="#86c281" d="M429.6 115.4l2.3-6l-1.8 0.4l-2.4 7.2z"/><path color="#4ebe9c" d="M427.2 122.8l2.4-7.4l-1.9 1.6l-2.3 8.3z"/><path color="#1fb3bb" d="M424.8 130.8l2.4-8l-1.8 2.5l-2.4 8.3z"/><path color="#14a3d0" d="M422.4 138.1l2.4-7.3l-1.8 2.8l-2.4 7.4z"/><path color="#1e8fd6" d="M420.1 144l2.3-5.9l-1.8 2.9l-2.4 5.5z"/><path color="#1d82da" d="M417.7 147.9l2.4-3.9l-1.9 2.5l-2.3 3.6z"/><path color="#197cde" d="M415.3 149.8l2.4-1.9l-1.8 2.2l-2.4 1.8zM412.9 150l2.4-0.2l-1.8 2.1l-2.4 0.2z"/><path color="#2485dd" d="M410.6 148.5l2.3 1.5l-1.8 2.1l-2.4-1.4z"/><path color="#3e9adc" d="M408.2 145.5l2.4 3l-1.9 2.2l-2.3-3.1z"/><path color="#48b0dc" d="M405.8 141.3l2.4 4.2l-1.8 2.1l-2.4-4.4z"/><path color="#61c7da" d="M403.4 136.6l2.4 4.7l-1.8 1.9l-2.4-5.2z"/><path color="#8cd8d6" d="M401 132l2.4 4.6l-1.8 1.4l-2.4-5.4z"/><path color="#9ddbc6" d="M398.7 129.8l2.3 2.2l-1.8 0.6l-2.3-4.4z"/><path color="#80cda9" d="M396.3 130.9l2.4-1.1l-1.8-1.6l-2.4 1.1z"/><path color="#5ac094" d="M393.9 131.8l2.4-0.9l-1.8-1.6l-2.4 1.4z"/><path color="#53bd8f" d="M391.5 132.7l2.4-0.9l-1.8-1.1l-2.4 0.8zM389.2 133.6l2.3-0.9l-1.8-1.2l-2.4 0.9zM386.8 134.4l2.4-0.8l-1.9-1.2l-2.3 0.9zM486 99.6l2.4-0.9l-1.8-1.2l-2.4 0.9zM483.7 100.4l2.3-0.8l-1.8-1.2l-2.4 0.9zM481.3 101.3l2.4-0.9l-1.9-1.1l-2.3 0.9z"/><path color="#58bf92" d="M478.9 102.2l2.4-0.9l-1.8-1.1l-2.4 0.7z"/><path color="#72c8a0" d="M476.5 102.9l2.4-0.7l-1.8-1.3l-2.4-0.5z"/><path color="#9dd9bc" d="M474.2 104.5l2.3-1.6l-1.8-2.5l-2.4 3.6z"/><path color="#9bdcd1" d="M471.8 111.2l2.4-6.7l-1.9-0.5l-2.3 7.2z"/><path color="#61c8d7" d="M469.4 120.4l2.4-9.2l-1.8 0l-2.4 9.9z"/><path color="#37a0da" d="M467 130.1l2.4-9.7l-1.8 0.7l-2.4 10.1z"/><path color="#1c7ce0" d="M464.7 137.6l2.3-7.5l-1.8 1.1l-2.4 7.4z"/><path color="#1967df" d="M462.3 141.8l2.4-4.2l-1.9 1l-2.3 3.6z"/><path color="#295cd7" d="M459.9 143.1l2.4-1.3l-1.8 0.4l-2.4 1.2z"/><path color="#2061dc" d="M457.5 141.8l2.4 1.3l-1.8 0.3l-2.4-0.9z"/><path color="#1f7ae3" d="M455.1 137.1l2.4 4.7l-1.8 0.7l-2.4-4.6z"/><path color="#3596dc" d="M452.8 129.3l2.3 7.8l-1.8 0.8l-2.3-8.1z"/><path color="#20adcc" d="M450.4 120.8l2.4 8.5l-1.8 0.5l-2.4-9.4z"/><path color="#3abaa8" d="M448 114l2.4 6.8l-1.8-0.4l-2.4-7.9z"/><path color="#74c289" d="M445.6 109.7l2.4 4.3l-1.8-1.5l-2.4-5.1z"/><path color="#9ac278" d="M443.3 107.4l2.3 2.3l-1.8-2.3l-2.4-2.8z"/><path color="#aec170" d="M440.9 106.2l2.4 1.2l-1.9-2.8l-2.3-1.2z"/><path color="#b9c06c" d="M438.5 105.7l2.4 0.5l-1.8-2.8l-2.4 0.2z"/><path color="#bcc06b" d="M436.1 106.5l2.4-0.8l-1.8-2.1l-2.4 1.9z"/><path color="#b2c16f" d="M433.8 109l2.3-2.5l-1.8-1l-2.4 3.9z"/><path color="#99c279" d="M431.4 113.6l2.4-4.6l-1.9 0.4l-2.3 6z"/><path color="#6bc18d" d="M429 120l2.4-6.4l-1.8 1.8l-2.4 7.4z"/><path color="#36baaa" d="M426.6 127.3l2.4-7.3l-1.8 2.8l-2.4 8z"/><path color="#16aec4" d="M424.2 134.4l2.4-7.1l-1.8 3.5l-2.4 7.3z"/><path color="#159fd2" d="M421.9 140.2l2.3-5.8l-1.8 3.7l-2.3 5.9z"/><path color="#1d90d5" d="M419.5 144.1l2.4-3.9l-1.8 3.8l-2.4 3.9z"/><path color="#1f89d7" d="M417.1 146.1l2.4-2l-1.8 3.8l-2.4 1.9z"/><path color="#248bd8" d="M414.7 146.3l2.4-0.2l-1.8 3.7l-2.4 0.2z"/><path color="#45a1dd" d="M412.4 144.9l2.3 1.4l-1.8 3.7l-2.3-1.5z"/><path color="#57b4df" d="M410 142.1l2.4 2.8l-1.8 3.6l-2.4-3z"/><path color="#6fc9e1" d="M407.6 138.6l2.4 3.5l-1.8 3.4l-2.4-4.2z"/><path color="#93dae0" d="M405.2 134.7l2.4 3.9l-1.8 2.7l-2.4-4.7z"/><path color="#a0ded4" d="M402.9 130.8l2.3 3.9l-1.8 1.9l-2.4-4.6z"/><path color="#7bcdac" d="M400.5 131.2l2.4-0.4l-1.9 1.2l-2.3-2.2z"/><path color="#5dc195" d="M398.1 132.1l2.4-0.9l-1.8-1.4l-2.4 1.1z"/><path color="#54bd90" d="M395.7 133l2.4-0.9l-1.8-1.2l-2.4 0.9z"/><path color="#53bd8f" d="M393.4 133.8l2.3-0.8l-1.8-1.2l-2.4 0.9zM391 134.7l2.4-0.9l-1.9-1.1l-2.3 0.9zM388.6 135.6l2.4-0.9l-1.8-1.1l-2.4 0.8zM487.9 100.7l2.3-0.9l-1.8-1.1l-2.4 0.9zM485.5 101.6l2.4-0.9l-1.9-1.1l-2.3 0.8zM483.1 102.5l2.4-0.9l-1.8-1.2l-2.4 0.9zM480.7 103.3l2.4-0.8l-1.8-1.2l-2.4 0.9z"/><path color="#59bf93" d="M478.4 104.2l2.3-0.9l-1.8-1.1l-2.4 0.7z"/><path color="#70c8a2" d="M476 105.1l2.4-0.9l-1.9-1.3l-2.3 1.6z"/><path color="#8ed6c2" d="M473.6 109.1l2.4-4l-1.8-0.6l-2.4 6.7z"/><path color="#88d7dc" d="M471.2 118.4l2.4-9.3l-1.8 2.1l-2.4 9.2z"/><path color="#67bee2" d="M468.8 127.2l2.4-8.8l-1.8 2l-2.4 9.7z"/><path color="#4096e0" d="M466.5 134.5l2.3-7.3l-1.8 2.9l-2.3 7.5z"/><path color="#1d7ae3" d="M464.1 139l2.4-4.5l-1.8 3.1l-2.4 4.2z"/><path color="#156de2" d="M461.7 140.5l2.4-1.5l-1.8 2.8l-2.4 1.3z"/><path color="#287ce5" d="M459.3 138.9l2.4 1.6l-1.8 2.6l-2.4-1.3z"/><path color="#4b99e5" d="M457 134.2l2.3 4.7l-1.8 2.9l-2.4-4.7z"/><path color="#4eacde" d="M454.6 127.2l2.4 7l-1.9 2.9l-2.3-7.8z"/><path color="#3cbbcd" d="M452.2 120l2.4 7.2l-1.8 2.1l-2.4-8.5z"/><path color="#42bda6" d="M449.8 114.6l2.4 5.4l-1.8 0.8l-2.4-6.8z"/><path color="#70c18a" d="M447.5 111.4l2.3 3.2l-1.8-0.6l-2.4-4.3z"/><path color="#91c27c" d="M445.1 109.7l2.4 1.7l-1.9-1.7l-2.3-2.3z"/><path color="#a4c275" d="M442.7 108.5l2.4 1.2l-1.8-2.3l-2.4-1.2z"/><path color="#b1c16f" d="M440.3 107.7l2.4 0.8l-1.8-2.3l-2.4-0.5z"/><path color="#b9c06c" d="M437.9 107.6l2.4 0.1l-1.8-2l-2.4 0.8z"/><path color="#b7c16d" d="M435.6 109l2.3-1.4l-1.8-1.1l-2.3 2.5z"/><path color="#a8c173" d="M433.2 112.4l2.4-3.4l-1.8 0l-2.4 4.6z"/><path color="#88c280" d="M430.8 117.6l2.4-5.2l-1.8 1.2l-2.4 6.4z"/><path color="#57bf97" d="M428.4 123.9l2.4-6.3l-1.8 2.4l-2.4 7.3z"/><path color="#2bb7b2" d="M426.1 130.3l2.3-6.4l-1.8 3.4l-2.4 7.1z"/><path color="#15adc5" d="M423.7 135.6l2.4-5.3l-1.9 4.1l-2.3 5.8z"/><path color="#14a3d0" d="M421.3 139.3l2.4-3.7l-1.8 4.6l-2.4 3.9z"/><path color="#189ed3" d="M418.9 141.1l2.4-1.8l-1.8 4.8l-2.4 2z"/><path color="#2da6d7" d="M416.6 141.4l2.3-0.3l-1.8 5l-2.4 0.2z"/><path color="#59bcde" d="M414.2 140.3l2.4 1.1l-1.9 4.9l-2.3-1.4z"/><path color="#7bcfe2" d="M411.8 138.3l2.4 2l-1.8 4.6l-2.4-2.8z"/><path color="#9bdde4" d="M409.4 135.2l2.4 3.1l-1.8 3.8l-2.4-3.5z"/><path color="#a7e1db" d="M407.1 131.3l2.3 3.9l-1.8 3.4l-2.4-3.9z"/><path color="#7bceb1" d="M404.7 131.5l2.4-0.2l-1.9 3.4l-2.3-3.9z"/><path color="#5ec196" d="M402.3 132.3l2.4-0.8l-1.8-0.7l-2.4 0.4z"/><path color="#54bd90" d="M399.9 133.2l2.4-0.9l-1.8-1.1l-2.4 0.9z"/><path color="#53bd8f" d="M397.5 134.1l2.4-0.9l-1.8-1.1l-2.4 0.9zM395.2 135l2.3-0.9l-1.8-1.1l-2.3 0.8zM392.8 135.9l2.4-0.9l-1.8-1.2l-2.4 0.9zM390.4 136.7l2.4-0.8l-1.8-1.2l-2.4 0.9zM489.7 101.8l2.3-0.8l-1.8-1.2l-2.3 0.9zM487.3 102.7l2.4-0.9l-1.8-1.1l-2.4 0.9zM484.9 103.6l2.4-0.9l-1.8-1.1l-2.4 0.9zM482.5 104.5l2.4-0.9l-1.8-1.1l-2.4 0.8zM480.2 105.4l2.3-0.9l-1.8-1.2l-2.3 0.9z"/><path color="#59bf93" d="M477.8 106.2l2.4-0.8l-1.8-1.2l-2.4 0.9z"/><path color="#69c6a0" d="M475.4 107.1l2.4-0.9l-1.8-1.1l-2.4 4z"/><path color="#7cd1c4" d="M473 112.1l2.4-5l-1.8 2l-2.4 9.3z"/><path color="#84d2e1" d="M470.7 122.9l2.3-10.8l-1.8 6.3l-2.4 8.8z"/><path color="#79c0e6" d="M468.3 129.5l2.4-6.6l-1.9 4.3l-2.3 7.3z"/><path color="#54a1e3" d="M465.9 133.7l2.4-4.2l-1.8 5l-2.4 4.5z"/><path color="#368ee2" d="M463.5 135.1l2.4-1.4l-1.8 5.3l-2.4 1.5z"/><path color="#58a2e5" d="M461.2 133.5l2.3 1.6l-1.8 5.4l-2.4-1.6z"/><path color="#5faee2" d="M458.8 129.2l2.4 4.3l-1.9 5.4l-2.3-4.7z"/><path color="#54bcdc" d="M456.4 123.5l2.4 5.7l-1.8 5l-2.4-7z"/><path color="#52c4c8" d="M454 118l2.4 5.5l-1.8 3.7l-2.4-7.2z"/><path color="#56c1a1" d="M451.6 114.3l2.4 3.7l-1.8 2l-2.4-5.4z"/><path color="#74c288" d="M449.3 112.2l2.3 2.1l-1.8 0.3l-2.3-3.2z"/><path color="#8dc27e" d="M446.9 111.2l2.4 1l-1.8-0.8l-2.4-1.7z"/><path color="#9dc277" d="M444.5 110.2l2.4 1l-1.8-1.5l-2.4-1.2z"/><path color="#abc172" d="M442.1 109.3l2.4 0.9l-1.8-1.7l-2.4-0.8z"/><path color="#b6c16d" d="M439.8 108.8l2.3 0.5l-1.8-1.6l-2.4-0.1z"/><path color="#bac06c" d="M437.4 109.5l2.4-0.7l-1.9-1.2l-2.3 1.4z"/><path color="#b3c16f" d="M435 111.8l2.4-2.3l-1.8-0.5l-2.4 3.4z"/><path color="#9ec277" d="M432.6 115.8l2.4-4l-1.8 0.6l-2.4 5.2z"/><path color="#79c286" d="M430.3 120.9l2.3-5.1l-1.8 1.8l-2.4 6.3z"/><path color="#4ebe9c" d="M427.9 126.1l2.4-5.2l-1.9 3l-2.3 6.4z"/><path color="#2eb8b1" d="M425.5 130.6l2.4-4.5l-1.8 4.2l-2.4 5.3z"/><path color="#21b4bf" d="M423.1 133.8l2.4-3.2l-1.8 5l-2.4 3.7z"/><path color="#28b4c8" d="M420.8 135.6l2.3-1.8l-1.8 5.5l-2.4 1.8z"/><path color="#4fc1d3" d="M418.4 136.1l2.4-0.5l-1.9 5.5l-2.3 0.3z"/><path color="#84d5de" d="M416 135.7l2.4 0.4l-1.8 5.3l-2.4-1.1z"/><path color="#a3e0e2" d="M413.6 133.5l2.4 2.2l-1.8 4.6l-2.4-2z"/><path color="#a3dfd7" d="M411.2 131.2l2.4 2.3l-1.8 4.8l-2.4-3.1z"/><path color="#77ccae" d="M408.9 131.7l2.3-0.5l-1.8 4l-2.3-3.9z"/><path color="#5dc196" d="M406.5 132.6l2.4-0.9l-1.8-0.4l-2.4 0.2z"/><path color="#54bd90" d="M404.1 133.5l2.4-0.9l-1.8-1.1l-2.4 0.8z"/><path color="#53bd8f" d="M401.7 134.4l2.4-0.9l-1.8-1.2l-2.4 0.9zM399.4 135.2l2.3-0.8l-1.8-1.2l-2.4 0.9zM397 136.1l2.4-0.9l-1.9-1.1l-2.3 0.9zM394.6 137l2.4-0.9l-1.8-1.1l-2.4 0.9zM392.2 137.9l2.4-0.9l-1.8-1.1l-2.4 0.8zM491.5 103l2.4-0.9l-1.9-1.1l-2.3 0.8zM489.1 103.9l2.4-0.9l-1.8-1.2l-2.4 0.9zM486.7 104.7l2.4-0.8l-1.8-1.2l-2.4 0.9zM484.4 105.6l2.3-0.9l-1.8-1.1l-2.4 0.9zM482 106.5l2.4-0.9l-1.9-1.1l-2.3 0.9zM479.6 107.4l2.4-0.9l-1.8-1.1l-2.4 0.8z"/><path color="#57be92" d="M477.2 108.3l2.4-0.9l-1.8-1.2l-2.4 0.9z"/><path color="#62c39c" d="M474.9 109.1l2.3-0.8l-1.8-1.2l-2.4 5z"/><path color="#6dcbbb" d="M472.5 112.1l2.4-3l-1.9 3l-2.3 10.8z"/><path color="#7cd0dd" d="M470.1 121.1l2.4-9l-1.8 10.8l-2.4 6.6z"/><path color="#84cae7" d="M467.7 126.9l2.4-5.8l-1.8 8.4l-2.4 4.2z"/><path color="#7cc2e6" d="M465.3 127.9l2.4-1l-1.8 6.8l-2.4 1.4z"/><path color="#80c7e7" d="M463 126.3l2.3 1.6l-1.8 7.2l-2.3-1.6z"/><path color="#70c8e1" d="M460.6 122.9l2.4 3.4l-1.8 7.2l-2.4-4.3z"/><path color="#68cbd3" d="M458.2 118.6l2.4 4.3l-1.8 6.3l-2.4-5.7z"/><path color="#72cdbd" d="M455.8 114.9l2.4 3.7l-1.8 4.9l-2.4-5.5z"/><path color="#77c89b" d="M453.5 112.6l2.3 2.3l-1.8 3.1l-2.4-3.7z"/><path color="#82c383" d="M451.1 111.6l2.4 1l-1.9 1.7l-2.3-2.1z"/><path color="#92c27c" d="M448.7 111.1l2.4 0.5l-1.8 0.6l-2.4-1z"/><path color="#9fc277" d="M446.3 110.6l2.4 0.5l-1.8 0.1l-2.4-1z"/><path color="#abc172" d="M444 109.9l2.3 0.7l-1.8-0.4l-2.4-0.9z"/><path color="#b6c16d" d="M441.6 109.4l2.4 0.5l-1.9-0.6l-2.3-0.5z"/><path color="#bdc06b" d="M439.2 109.6l2.4-0.2l-1.8-0.6l-2.4 0.7z"/><path color="#bbc16c" d="M436.8 111.2l2.4-1.6l-1.8-0.1l-2.4 2.3z"/><path color="#afc272" d="M434.5 114.1l2.3-2.9l-1.8 0.6l-2.4 4z"/><path color="#99c37c" d="M432.1 117.9l2.4-3.8l-1.9 1.7l-2.3 5.1z"/><path color="#7dc48c" d="M429.7 122l2.4-4.1l-1.8 3l-2.4 5.2z"/><path color="#67c5a1" d="M427.3 125.6l2.4-3.6l-1.8 4.1l-2.4 4.5z"/><path color="#65c8b5" d="M424.9 128.5l2.4-2.9l-1.8 5l-2.4 3.2z"/><path color="#76d0c6" d="M422.6 130.4l2.3-1.9l-1.8 5.3l-2.3 1.8z"/><path color="#8ed8d1" d="M420.2 131.5l2.4-1.1l-1.8 5.2l-2.4 0.5z"/><path color="#a1ded6" d="M417.8 131.1l2.4 0.4l-1.8 4.6l-2.4-0.4z"/><path color="#91d7c4" d="M415.4 131.1l2.4 0l-1.8 4.6l-2.4-2.2z"/><path color="#6cc7a3" d="M413.1 132l2.3-0.9l-1.8 2.4l-2.4-2.3z"/><path color="#5ac094" d="M410.7 132.9l2.4-0.9l-1.9-0.8l-2.3 0.5z"/><path color="#54bd90" d="M408.3 133.7l2.4-0.8l-1.8-1.2l-2.4 0.9z"/><path color="#53bd8f" d="M405.9 134.6l2.4-0.9l-1.8-1.1l-2.4 0.9zM403.6 135.5l2.3-0.9l-1.8-1.1l-2.4 0.9zM401.2 136.4l2.4-0.9l-1.9-1.1l-2.3 0.8zM398.8 137.3l2.4-0.9l-1.8-1.2l-2.4 0.9zM396.4 138.1l2.4-0.8l-1.8-1.2l-2.4 0.9zM394.1 139l2.3-0.9l-1.8-1.1l-2.4 0.9zM493.3 104.1l2.4-0.9l-1.8-1.1l-2.4 0.9zM490.9 105l2.4-0.9l-1.8-1.1l-2.4 0.9zM488.6 105.9l2.3-0.9l-1.8-1.1l-2.4 0.8zM486.2 106.8l2.4-0.9l-1.9-1.2l-2.3 0.9zM483.8 107.6l2.4-0.8l-1.8-1.2l-2.4 0.9zM481.4 108.5l2.4-0.9l-1.8-1.1l-2.4 0.9zM479 109.4l2.4-0.9l-1.8-1.1l-2.4 0.9z"/><path color="#55be90" d="M476.7 110.3l2.3-0.9l-1.8-1.1l-2.3 0.8z"/><path color="#5cc196" d="M474.3 111.2l2.4-0.9l-1.8-1.2l-2.4 3z"/><path color="#65c7aa" d="M471.9 112.1l2.4-0.9l-1.8 0.9l-2.4 9z"/><path color="#71cec8" d="M469.5 115.7l2.4-3.6l-1.8 9l-2.4 5.8z"/><path color="#87d6dd" d="M467.2 119.6l2.3-3.9l-1.8 11.2l-2.4 1z"/><path color="#a5e0e6" d="M464.8 119.3l2.4 0.3l-1.9 8.3l-2.3-1.6z"/><path color="#a5e1df" d="M462.4 116.5l2.4 2.8l-1.8 7l-2.4-3.4z"/><path color="#a3decf" d="M460 113.4l2.4 3.1l-1.8 6.4l-2.4-4.3z"/><path color="#a7daba" d="M457.7 111l2.3 2.4l-1.8 5.2l-2.4-3.7z"/><path color="#a6d19f" d="M455.3 109.7l2.4 1.3l-1.9 3.9l-2.3-2.3z"/><path color="#a3c885" d="M452.9 109.3l2.4 0.4l-1.8 2.9l-2.4-1z"/><path color="#aac67e" d="M450.5 109.2l2.4 0.1l-1.8 2.3l-2.4-0.5z"/><path color="#b1c579" d="M448.2 108.9l2.3 0.3l-1.8 1.9l-2.4-0.5z"/><path color="#bac475" d="M445.8 108.5l2.4 0.4l-1.9 1.7l-2.3-0.7z"/><path color="#c3c371" d="M443.4 108.2l2.4 0.3l-1.8 1.4l-2.4-0.5z"/><path color="#cac370" d="M441 108.5l2.4-0.3l-1.8 1.2l-2.4 0.2z"/><path color="#ccc573" d="M438.6 109.7l2.4-1.2l-1.8 1.1l-2.4 1.6z"/><path color="#c8c77b" d="M436.3 111.9l2.3-2.2l-1.8 1.5l-2.3 2.9z"/><path color="#bfcc88" d="M433.9 114.9l2.4-3l-1.8 2.2l-2.4 3.8z"/><path color="#b7d29b" d="M431.5 118.3l2.4-3.4l-1.8 3l-2.4 4.1z"/><path color="#b3d8ae" d="M429.1 121.7l2.4-3.4l-1.8 3.7l-2.4 3.6z"/><path color="#b3ddbe" d="M426.8 124.9l2.3-3.2l-1.8 3.9l-2.4 2.9z"/><path color="#addec4" d="M424.4 128.2l2.4-3.3l-1.9 3.6l-2.3 1.9z"/><path color="#97d7bc" d="M422 130.4l2.4-2.2l-1.8 2.2l-2.4 1.1z"/><path color="#79ccaa" d="M419.6 131.4l2.4-1l-1.8 1.1l-2.4-0.4z"/><path color="#62c399" d="M417.3 132.3l2.3-0.9l-1.8-0.3l-2.4 0z"/><path color="#57be91" d="M414.9 133.1l2.4-0.8l-1.9-1.2l-2.3 0.9z"/><path color="#53bd8f" d="M412.5 134l2.4-0.9l-1.8-1.1l-2.4 0.9zM410.1 134.9l2.4-0.9l-1.8-1.1l-2.4 0.8zM407.8 135.8l2.3-0.9l-1.8-1.2l-2.4 0.9zM405.4 136.6l2.4-0.8l-1.9-1.2l-2.3 0.9zM403 137.5l2.4-0.9l-1.8-1.1l-2.4 0.9zM400.6 138.4l2.4-0.9l-1.8-1.1l-2.4 0.9zM398.2 139.3l2.4-0.9l-1.8-1.1l-2.4 0.8zM395.9 140.2l2.3-0.9l-1.8-1.2l-2.3 0.9zM495.1 105.3l2.4-0.9l-1.8-1.2l-2.4 0.9zM492.7 106.1l2.4-0.8l-1.8-1.2l-2.4 0.9zM490.4 107l2.3-0.9l-1.8-1.1l-2.3 0.9zM488 107.9l2.4-0.9l-1.8-1.1l-2.4 0.9zM485.6 108.8l2.4-0.9l-1.8-1.1l-2.4 0.8zM483.2 109.7l2.4-0.9l-1.8-1.2l-2.4 0.9zM480.9 110.5l2.3-0.8l-1.8-1.2l-2.4 0.9zM478.5 111.4l2.4-0.9l-1.9-1.1l-2.3 0.9z"/><path color="#54bd8f" d="M476.1 112.3l2.4-0.9l-1.8-1.1l-2.4 0.9z"/><path color="#57be92" d="M473.7 113.2l2.4-0.9l-1.8-1.1l-2.4 0.9z"/><path color="#5fc299" d="M471.4 114.1l2.3-0.9l-1.8-1.1l-2.4 3.6z"/><path color="#6bc8a9" d="M469 114.9l2.4-0.8l-1.9 1.6l-2.3 3.9z"/><path color="#89d4bd" d="M466.6 115.5l2.4-0.6l-1.8 4.7l-2.4-0.3z"/><path color="#aedfc9" d="M464.2 114l2.4 1.5l-1.8 3.8l-2.4-2.8z"/><path color="#c5e4c8" d="M461.9 110.8l2.3 3.2l-1.8 2.5l-2.4-3.1z"/><path color="#d0e3c1" d="M459.5 108.1l2.4 2.7l-1.9 2.6l-2.3-2.4z"/><path color="#d2ddb2" d="M457.1 107.1l2.4 1l-1.8 2.9l-2.4-1.3z"/><path color="#d2d8a5" d="M454.7 106.6l2.4 0.5l-1.8 2.6l-2.4-0.4z"/><path color="#d4d59d" d="M452.3 106.4l2.4 0.2l-1.8 2.7l-2.4-0.1z"/><path color="#d7d397" d="M450 106.3l2.3 0.1l-1.8 2.8l-2.3-0.3z"/><path color="#dbd293" d="M447.6 106.2l2.4 0.1l-1.8 2.6l-2.4-0.4z"/><path color="#e1d292" d="M445.2 106.3l2.4-0.1l-1.8 2.3l-2.4-0.3z"/><path color="#e5d394" d="M442.8 106.9l2.4-0.6l-1.8 1.9l-2.4 0.3z"/><path color="#e7d699" d="M440.5 108.2l2.3-1.3l-1.8 1.6l-2.4 1.2z"/><path color="#e5d9a2" d="M438.1 110.5l2.4-2.3l-1.9 1.5l-2.3 2.2z"/><path color="#e2ddad" d="M435.7 114.2l2.4-3.7l-1.8 1.4l-2.4 3z"/><path color="#dde1ba" d="M433.3 119.9l2.4-5.7l-1.8 0.7l-2.4 3.4z"/><path color="#d4e4c2" d="M431 125.7l2.3-5.8l-1.8-1.6l-2.4 3.4z"/><path color="#c0e1c2" d="M428.6 129.5l2.4-3.8l-1.9-4l-2.3 3.2z"/><path color="#98d5b4" d="M426.2 130.8l2.4-1.3l-1.8-4.6l-2.4 3.3z"/><path color="#6ac59c" d="M423.8 131.6l2.4-0.8l-1.8-2.6l-2.4 2.2z"/><path color="#5abf93" d="M421.4 132.5l2.4-0.9l-1.8-1.2l-2.4 1z"/><path color="#54bd90" d="M419.1 133.4l2.3-0.9l-1.8-1.1l-2.3 0.9z"/><path color="#53bd8f" d="M416.7 134.3l2.4-0.9l-1.8-1.1l-2.4 0.8zM414.3 135.2l2.4-0.9l-1.8-1.2l-2.4 0.9zM411.9 136l2.4-0.8l-1.8-1.2l-2.4 0.9zM409.6 136.9l2.3-0.9l-1.8-1.1l-2.3 0.9zM407.2 137.8l2.4-0.9l-1.8-1.1l-2.4 0.8zM404.8 138.7l2.4-0.9l-1.8-1.2l-2.4 0.9zM402.4 139.5l2.4-0.8l-1.8-1.2l-2.4 0.9zM400.1 140.4l2.3-0.9l-1.8-1.1l-2.4 0.9zM397.7 141.3l2.4-0.9l-1.9-1.1l-2.3 0.9zM496.9 106.4l2.4-0.9l-1.8-1.1l-2.4 0.9zM494.6 107.3l2.3-0.9l-1.8-1.1l-2.4 0.8zM492.2 108.2l2.4-0.9l-1.9-1.2l-2.3 0.9zM489.8 109.1l2.4-0.9l-1.8-1.2l-2.4 0.9zM487.4 109.9l2.4-0.8l-1.8-1.2l-2.4 0.9zM485.1 110.8l2.3-0.9l-1.8-1.1l-2.4 0.9zM482.7 111.7l2.4-0.9l-1.9-1.1l-2.3 0.8zM480.3 112.6l2.4-0.9l-1.8-1.2l-2.4 0.9zM477.9 113.4l2.4-0.8l-1.8-1.2l-2.4 0.9zM475.6 114.3l2.3-0.9l-1.8-1.1l-2.4 0.9z"/><path color="#54bd90" d="M473.2 115.2l2.4-0.9l-1.9-1.1l-2.3 0.9z"/><path color="#57be92" d="M470.8 116.1l2.4-0.9l-1.8-1.1l-2.4 0.8z"/><path color="#5ec196" d="M468.4 117l2.4-0.9l-1.8-1.2l-2.4 0.6z"/><path color="#71c89f" d="M466 117.8l2.4-0.8l-1.8-1.5l-2.4-1.5z"/><path color="#96d2ab" d="M463.7 118.6l2.3-0.8l-1.8-3.8l-2.3-3.2z"/><path color="#b5d9b0" d="M461.3 117.9l2.4 0.7l-1.8-7.8l-2.4-2.7z"/><path color="#cadcb0" d="M458.9 116l2.4 1.9l-1.8-9.8l-2.4-1z"/><path color="#dadeb2" d="M456.5 113.9l2.4 2.1l-1.8-8.9l-2.4-0.5z"/><path color="#e3dfb3" d="M454.2 112.3l2.3 1.6l-1.8-7.3l-2.4-0.2z"/><path color="#e9e0b4" d="M451.8 111.5l2.4 0.8l-1.9-5.9l-2.3-0.1z"/><path color="#ede0b4" d="M449.4 111.8l2.4-0.3l-1.8-5.2l-2.4-0.1z"/><path color="#efe1b6" d="M447 113.2l2.4-1.4l-1.8-5.6l-2.4 0.1z"/><path color="#f0e3bb" d="M444.7 115.9l2.3-2.7l-1.8-6.9l-2.4 0.6z"/><path color="#ece4bd" d="M442.3 119.8l2.4-3.9l-1.9-9l-2.3 1.3z"/><path color="#e5e5c2" d="M439.9 124.2l2.4-4.4l-1.8-11.6l-2.4 2.3z"/><path color="#d6e4c3" d="M437.5 127.7l2.4-3.5l-1.8-13.7l-2.4 3.7z"/><path color="#bcdebd" d="M435.1 129.3l2.4-1.6l-1.8-13.5l-2.4 5.7z"/><path color="#92d2ae" d="M432.8 130.1l2.3-0.8l-1.8-9.4l-2.3 5.8z"/><path color="#6cc69d" d="M430.4 131l2.4-0.9l-1.8-4.4l-2.4 3.8z"/><path color="#59bf93" d="M428 131.9l2.4-0.9l-1.8-1.5l-2.4 1.3z"/><path color="#55bd90" d="M425.6 132.8l2.4-0.9l-1.8-1.1l-2.4 0.8z"/><path color="#53bd8f" d="M423.3 133.7l2.3-0.9l-1.8-1.2l-2.4 0.9zM420.9 134.5l2.4-0.8l-1.9-1.2l-2.3 0.9zM418.5 135.4l2.4-0.9l-1.8-1.1l-2.4 0.9zM416.1 136.3l2.4-0.9l-1.8-1.1l-2.4 0.9zM413.8 137.2l2.3-0.9l-1.8-1.1l-2.4 0.8zM411.4 138.1l2.4-0.9l-1.9-1.2l-2.3 0.9zM409 138.9l2.4-0.8l-1.8-1.2l-2.4 0.9zM406.6 139.8l2.4-0.9l-1.8-1.1l-2.4 0.9zM404.3 140.7l2.3-0.9l-1.8-1.1l-2.4 0.8zM401.9 141.6l2.4-0.9l-1.9-1.2l-2.3 0.9zM399.5 142.4l2.4-0.8l-1.8-1.2l-2.4 0.9z"/></g><g font-size="7.8" fill="#3c3c3c"><text x="404.0" y="205.7" textLength="3.5" lengthAdjust="spacingAndGlyphs">0</text><text x="391.0" y="205.2" textLength="3.5" lengthAdjust="spacingAndGlyphs">0</text><text x="444.1" y="191.6" textLength="6.9" lengthAdjust="spacingAndGlyphs">50</text><text x="357.3" y="186.1" textLength="6.9" lengthAdjust="spacingAndGlyphs">50</text><text x="483.7" y="176.9" textLength="10.4" lengthAdjust="spacingAndGlyphs">100</text><text x="323.5" y="167.1" textLength="10.4" lengthAdjust="spacingAndGlyphs">100</text><text x="305.8" y="147.7" textLength="10.8" lengthAdjust="spacingAndGlyphs">-0.5</text><text x="313.1" y="94.9" textLength="3.5" lengthAdjust="spacingAndGlyphs">0</text><text x="307.9" y="42.2" textLength="8.7" lengthAdjust="spacingAndGlyphs">0.5</text></g><linearGradient id="gd" x1="0" y1="0" x2="0" y2="1"><stop offset="0.000" stop-color="#f9fb0e"/><stop offset="0.048" stop-color="#f5e41d"/><stop offset="0.095" stop-color="#fad32a"/><stop offset="0.143" stop-color="#ffc337"/><stop offset="0.190" stop-color="#f1b94a"/><stop offset="0.238" stop-color="#d9ba56"/><stop offset="0.286" stop-color="#c0bc60"/><stop offset="0.333" stop-color="#a5be6b"/><stop offset="0.381" stop-color="#87bf77"/><stop offset="0.429" stop-color="#65be86"/><stop offset="0.476" stop-color="#42bb98"/><stop offset="0.524" stop-color="#25b5a9"/><stop offset="0.571" stop-color="#0faeb9"/><stop offset="0.619" stop-color="#06a7c6"/><stop offset="0.667" stop-color="#079ccf"/><stop offset="0.714" stop-color="#108ed2"/><stop offset="0.762" stop-color="#1481d6"/><stop offset="0.810" stop-color="#0d75dc"/><stop offset="0.857" stop-color="#0268e1"/><stop offset="0.905" stop-color="#2053d4"/><stop offset="0.952" stop-color="#353dad"/><stop offset="1.000" stop-color="#352a87"/><stop offset="1.000" stop-color="#352a87"/></linearGradient><rect x="521.1" y="4.1" width="12.9" height="190.5" fill="url(#gd)"/><rect x="521.4" y="4.4" width="12.3" height="189.9" fill="none" stroke="#555" stroke-width=".6"/><path d="M534.0 12.7h-2" stroke="#333" stroke-width=".7"/><path d="M534.0 38.4h-2" stroke="#333" stroke-width=".7"/><path d="M534.0 64.3h-2" stroke="#333" stroke-width=".7"/><path d="M534.0 90.3h-2" stroke="#333" stroke-width=".7"/><path d="M534.0 116.3h-2" stroke="#333" stroke-width=".7"/><path d="M534.0 143.5h-2" stroke="#333" stroke-width=".7"/><path d="M534.0 169.4h-2" stroke="#333" stroke-width=".7"/><path d="M534.0 195.3h-2" stroke="#333" stroke-width=".7"/><g font-size="7.2" fill="#444"><text x="536.6" y="15.2" textLength="8.2" lengthAdjust="spacingAndGlyphs">0.3</text><text x="536.6" y="40.9" textLength="8.2" lengthAdjust="spacingAndGlyphs">0.2</text><text x="536.6" y="66.8" textLength="8.2" lengthAdjust="spacingAndGlyphs">0.1</text><text x="536.6" y="92.8" textLength="3.3" lengthAdjust="spacingAndGlyphs">0</text><text x="536.2" y="118.8" textLength="10.2" lengthAdjust="spacingAndGlyphs">-0.1</text><text x="536.2" y="146.0" textLength="10.2" lengthAdjust="spacingAndGlyphs">-0.2</text><text x="536.2" y="171.9" textLength="10.2" lengthAdjust="spacingAndGlyphs">-0.3</text><text x="536.2" y="197.8" textLength="10.2" lengthAdjust="spacingAndGlyphs">-0.4</text></g>
<g clip-path="url(#row2)"><g fill="none"><path d="M200.9 402.7L200.9 294.5" stroke="#e4e4e4" stroke-width="1"/><path d="M139.1 426.0L61.6 376.0" stroke="#e4e4e4" stroke-width="0.8"/><path d="M61.6 376.0L61.6 267.8" stroke="#e4e4e4" stroke-width="0.8"/><path d="M69.2 421.4L170.6 383.2" stroke="#e4e4e4" stroke-width="0.8"/><path d="M170.6 383.2L170.6 275.0" stroke="#e4e4e4" stroke-width="0.8"/><path d="M178.7 411.1L101.2 361.1" stroke="#e4e4e4" stroke-width="0.8"/><path d="M101.2 361.1L101.2 252.9" stroke="#e4e4e4" stroke-width="0.8"/><path d="M39.0 401.8L140.4 363.6" stroke="#e4e4e4" stroke-width="0.8"/><path d="M140.4 363.6L140.4 255.4" stroke="#e4e4e4" stroke-width="0.8"/><path d="M22.0 390.9L123.4 352.7" stroke="#e4e4e4" stroke-width="0.8"/><path d="M123.4 352.7L200.9 402.7" stroke="#e4e4e4" stroke-width="0.8"/><path d="M22.0 336.8L123.4 298.6" stroke="#e4e4e4" stroke-width="0.8"/><path d="M123.4 298.6L200.9 348.6" stroke="#e4e4e4" stroke-width="0.8"/><path d="M22.0 282.7L123.4 244.5" stroke="#e4e4e4" stroke-width="0.8"/><path d="M123.4 244.5L200.9 294.5" stroke="#e4e4e4" stroke-width="0.8"/><path d="M22.0 282.4L22.0 391.3" stroke="#b4b4b4" stroke-width="1.3"/><path d="M22.0 390.9L99.5 440.9" stroke="#4a4a4a" stroke-width="1"/><path d="M99.5 440.9L200.9 402.7" stroke="#4a4a4a" stroke-width="1"/><path d="M99.5 440.9L101.1 442.9" stroke="#4a4a4a" stroke-width="0.8"/><path d="M99.5 440.9L97.3 442.3" stroke="#4a4a4a" stroke-width="0.8"/><path d="M139.1 426.0L140.7 428.0" stroke="#4a4a4a" stroke-width="0.8"/><path d="M69.2 421.4L67.0 422.8" stroke="#4a4a4a" stroke-width="0.8"/><path d="M178.7 411.1L180.3 413.1" stroke="#4a4a4a" stroke-width="0.8"/><path d="M39.0 401.8L36.8 403.2" stroke="#4a4a4a" stroke-width="0.8"/><path d="M22.0 390.9L19.6 389.3" stroke="#4a4a4a" stroke-width="0.8"/><path d="M22.0 336.8L19.6 335.2" stroke="#4a4a4a" stroke-width="0.8"/><path d="M22.0 282.7L19.6 281.1" stroke="#4a4a4a" stroke-width="0.8"/></g><g fill="currentColor" stroke="currentColor" stroke-width=".4" stroke-linejoin="round" filter="url(#bl)"><path color="#a5be6b" d="M122.7 301.4l3.1-1.2l-2.4-1.6l-3.2 1.2zM119.5 302.5l3.2-1.1l-2.5-1.6l-3.1 1.2zM116.3 303.7l3.2-1.2l-2.4-1.5l-3.2 1.2zM113.1 304.9l3.2-1.2l-2.4-1.5l-3.2 1.2zM110 306.1l3.1-1.2l-2.4-1.5l-3.1 1.2zM106.8 307.3l3.2-1.2l-2.4-1.5l-3.2 1.2zM103.6 308.5l3.2-1.2l-2.4-1.5l-3.2 1.2zM100.5 309.7l3.1-1.2l-2.4-1.5l-3.1 1.2z"/><path color="#a6be6b" d="M97.3 310.9l3.2-1.2l-2.4-1.5l-3.2 1.1z"/><path color="#a9c06e" d="M94.1 311.3l3.2-0.4l-2.4-1.6l-3.2 1.2z"/><path color="#b8c372" d="M91 312.1l3.1-0.8l-2.4-0.8l-3.2 1.2z"/><path color="#ccc778" d="M87.8 313.5l3.2-1.4l-2.5-0.4l-3.1 1.2z"/><path color="#dfc979" d="M84.6 314.4l3.2-0.9l-2.4-0.6l-3.2 0.8z"/><path color="#f0c973" d="M81.5 315.1l3.1-0.7l-2.4-0.7l-3.2 0.5z"/><path color="#fccc68" d="M78.3 315.9l3.2-0.8l-2.5-0.9l-3.1 0.7z"/><path color="#fecf61" d="M75.1 316.9l3.2-1l-2.4-1l-3.2 1z"/><path color="#fed160" d="M72 318l3.1-1.1l-2.4-1l-3.2 1.3z"/><path color="#fdd162" d="M68.8 319.2l3.2-1.2l-2.5-0.8l-3.1 1.7z"/><path color="#f9d067" d="M65.6 320.4l3.2-1.2l-2.4-0.3l-3.2 1.9z"/><path color="#eecd6c" d="M62.4 321.6l3.2-1.2l-2.4 0.4l-3.2 1.7z"/><path color="#dac870" d="M59.3 322.9l3.1-1.3l-2.4 0.9l-3.1 1.2z"/><path color="#bec270" d="M56.1 325.4l3.2-2.5l-2.4 0.8l-3.2 1.2z"/><path color="#aac06d" d="M52.9 327.6l3.2-2.2l-2.4-0.5l-3.2 1.2z"/><path color="#a6be6b" d="M49.8 328.8l3.1-1.2l-2.4-1.5l-3.2 1.1z"/><path color="#a5be6b" d="M46.6 330l3.2-1.2l-2.5-1.6l-3.1 1.2zM43.4 331.2l3.2-1.2l-2.4-1.6l-3.2 1.2zM40.3 332.4l3.1-1.2l-2.4-1.6l-3.2 1.2zM37.1 333.6l3.2-1.2l-2.5-1.6l-3.1 1.2zM33.9 334.8l3.2-1.2l-2.4-1.6l-3.2 1.2zM30.8 336l3.1-1.2l-2.4-1.6l-3.2 1.2zM27.6 337.2l3.2-1.2l-2.5-1.6l-3.1 1.2zM24.4 338.4l3.2-1.2l-2.4-1.6l-3.2 1.2zM125.1 302.9l3.1-1.2l-2.4-1.5l-3.1 1.2zM121.9 304.1l3.2-1.2l-2.4-1.5l-3.2 1.1zM118.7 305.3l3.2-1.2l-2.4-1.6l-3.2 1.2zM115.6 306.5l3.1-1.2l-2.4-1.6l-3.2 1.2zM112.4 307.7l3.2-1.2l-2.5-1.6l-3.1 1.2zM109.2 308.9l3.2-1.2l-2.4-1.6l-3.2 1.2z"/><path color="#a6be6b" d="M106.1 310.1l3.1-1.2l-2.4-1.6l-3.2 1.2z"/><path color="#aac06d" d="M102.9 310.2l3.2-0.1l-2.5-1.6l-3.1 1.2z"/><path color="#c5c472" d="M99.7 310.7l3.2-0.5l-2.4-0.5l-3.2 1.2z"/><path color="#e0c979" d="M96.6 312.8l3.1-2.1l-2.4 0.2l-3.2 0.4z"/><path color="#d9cb80" d="M93.4 315l3.2-2.2l-2.5-1.5l-3.1 0.8z"/><path color="#c1c87f" d="M90.2 316.7l3.2-1.7l-2.4-2.9l-3.2 1.4z"/><path color="#bec373" d="M87.1 317.3l3.1-0.6l-2.4-3.2l-3.2 0.9z"/><path color="#d8c064" d="M83.9 317.4l3.2-0.1l-2.5-2.9l-3.1 0.7z"/><path color="#f4bf53" d="M80.7 317.7l3.2-0.3l-2.4-2.3l-3.2 0.8z"/><path color="#fec644" d="M77.5 318.5l3.2-0.8l-2.4-1.8l-3.2 1z"/><path color="#fecb3f" d="M74.4 319.5l3.1-1l-2.4-1.6l-3.1 1.1z"/><path color="#fecc3f" d="M71.2 320.7l3.2-1.2l-2.4-1.5l-3.2 1.2z"/><path color="#fecd41" d="M68 321.9l3.2-1.2l-2.4-1.5l-3.2 1.2z"/><path color="#fecd48" d="M64.9 323.2l3.1-1.3l-2.4-1.5l-3.2 1.2z"/><path color="#fece53" d="M61.7 324.5l3.2-1.3l-2.5-1.6l-3.1 1.3z"/><path color="#fdce63" d="M58.5 325.8l3.2-1.3l-2.4-1.6l-3.2 2.5z"/><path color="#ecca70" d="M55.4 327.1l3.1-1.3l-2.4-0.4l-3.2 2.2z"/><path color="#c5c472" d="M52.2 329.4l3.2-2.3l-2.5 0.5l-3.1 1.2z"/><path color="#a9c06e" d="M49 331.6l3.2-2.2l-2.4-0.6l-3.2 1.2z"/><path color="#a6be6b" d="M45.9 332.8l3.1-1.2l-2.4-1.6l-3.2 1.2z"/><path color="#a5be6b" d="M42.7 334l3.2-1.2l-2.5-1.6l-3.1 1.2zM39.5 335.1l3.2-1.2l-2.4-1.6l-3.2 1.2zM36.3 336.3l3.2-1.1l-2.4-1.6l-3.2 1.2zM33.2 337.5l3.1-1.2l-2.4-1.5l-3.1 1.2zM30 338.7l3.2-1.2l-2.4-1.5l-3.2 1.2zM26.8 339.9l3.2-1.2l-2.4-1.5l-3.2 1.2zM127.5 304.5l3.2-1.2l-2.5-1.6l-3.1 1.2zM124.3 305.7l3.2-1.2l-2.4-1.6l-3.2 1.2zM121.2 306.9l3.1-1.2l-2.4-1.6l-3.2 1.2zM118 308.1l3.2-1.2l-2.5-1.6l-3.1 1.2zM114.8 309.3l3.2-1.2l-2.4-1.6l-3.2 1.2z"/><path color="#a6bf6c" d="M111.7 310.3l3.1-1l-2.4-1.6l-3.2 1.2z"/><path color="#b8c26f" d="M108.5 309.4l3.2 0.9l-2.5-1.4l-3.1 1.2z"/><path color="#e9ca70" d="M105.3 310.7l3.2-1.3l-2.4 0.7l-3.2 0.1z"/><path color="#f8c86a" d="M102.1 312.6l3.2-1.9l-2.4-0.5l-3.2 0.5z"/><path color="#dbc36b" d="M99 315.2l3.1-2.6l-2.4-1.9l-3.1 2.1z"/><path color="#a6c682" d="M95.8 317.9l3.2-2.7l-2.4-2.4l-3.2 2.2z"/><path color="#6cc395" d="M92.6 319.8l3.2-1.9l-2.4-2.9l-3.2 1.7z"/><path color="#6bc18d" d="M89.5 320.1l3.1-0.3l-2.4-3.1l-3.1 0.6z"/><path color="#a9c173" d="M86.3 319.6l3.2 0.5l-2.4-2.8l-3.2 0.1z"/><path color="#e2bd5b" d="M83.1 319.5l3.2 0.1l-2.4-2.2l-3.2 0.3z"/><path color="#fdc246" d="M80 320.1l3.1-0.6l-2.4-1.8l-3.2 0.8z"/><path color="#feca3d" d="M76.8 321l3.2-0.9l-2.5-1.6l-3.1 1z"/><path color="#fdcd3b" d="M73.6 322.2l3.2-1.2l-2.4-1.5l-3.2 1.2zM70.5 323.4l3.1-1.2l-2.4-1.5l-3.2 1.2z"/><path color="#fecb3d" d="M67.3 324.8l3.2-1.4l-2.5-1.5l-3.1 1.3z"/><path color="#fec840" d="M64.1 326.1l3.2-1.3l-2.4-1.6l-3.2 1.3z"/><path color="#fec547" d="M61 327.5l3.1-1.4l-2.4-1.6l-3.2 1.3z"/><path color="#fcc456" d="M57.8 328.9l3.2-1.4l-2.5-1.7l-3.1 1.3z"/><path color="#f6c86c" d="M54.6 330.3l3.2-1.4l-2.4-1.8l-3.2 2.3z"/><path color="#dfc878" d="M51.4 331.7l3.2-1.4l-2.4-0.9l-3.2 2.2z"/><path color="#b4c271" d="M48.3 334.3l3.1-2.6l-2.4-0.1l-3.1 1.2z"/><path color="#a6bf6c" d="M45.1 335.5l3.2-1.2l-2.4-1.5l-3.2 1.2z"/><path color="#a5be6b" d="M41.9 336.7l3.2-1.2l-2.4-1.5l-3.2 1.2zM38.8 337.9l3.1-1.2l-2.4-1.5l-3.2 1.1zM35.6 339.1l3.2-1.2l-2.5-1.6l-3.1 1.2zM32.4 340.3l3.2-1.2l-2.4-1.6l-3.2 1.2zM29.3 341.5l3.1-1.2l-2.4-1.6l-3.2 1.2zM129.9 306l3.2-1.2l-2.4-1.5l-3.2 1.2zM126.8 307.2l3.1-1.2l-2.4-1.5l-3.2 1.2zM123.6 308.4l3.2-1.2l-2.5-1.5l-3.1 1.2zM120.4 309.6l3.2-1.2l-2.4-1.5l-3.2 1.2z"/><path color="#a7bf6c" d="M117.2 310.3l3.2-0.7l-2.4-1.5l-3.2 1.2z"/><path color="#c8c470" d="M114.1 309.6l3.1 0.7l-2.4-1l-3.1 1z"/><path color="#f9cf69" d="M110.9 310.9l3.2-1.3l-2.4 0.7l-3.2-0.9z"/><path color="#fec955" d="M107.7 312.5l3.2-1.6l-2.4-1.5l-3.2 1.3z"/><path color="#f1be55" d="M104.6 314.5l3.1-2l-2.4-1.8l-3.2 1.9z"/><path color="#c3c069" d="M101.4 317.2l3.2-2.7l-2.5-1.9l-3.1 2.6z"/><path color="#74c28c" d="M98.2 320l3.2-2.8l-2.4-2l-3.2 2.7z"/><path color="#32b9ad" d="M95.1 321.7l3.1-1.7l-2.4-2.1l-3.2 1.9z"/><path color="#3abba7" d="M91.9 321.8l3.2-0.1l-2.5-1.9l-3.1 0.3z"/><path color="#8ac27f" d="M88.7 321.2l3.2 0.6l-2.4-1.7l-3.2-0.5z"/><path color="#d7be60" d="M85.6 321.1l3.1 0.1l-2.4-1.6l-3.2-0.1z"/><path color="#fbc148" d="M82.4 321.6l3.2-0.5l-2.5-1.6l-3.1 0.6z"/><path color="#fecb3d" d="M79.2 322.6l3.2-1l-2.4-1.5l-3.2 0.9z"/><path color="#fdcd3a" d="M76.1 323.8l3.1-1.2l-2.4-1.6l-3.2 1.2z"/><path color="#fdcd3b" d="M72.9 325l3.2-1.2l-2.5-1.6l-3.1 1.2z"/><path color="#feca3d" d="M69.7 326.4l3.2-1.4l-2.4-1.6l-3.2 1.4z"/><path color="#fec642" d="M66.5 327.9l3.2-1.5l-2.4-1.6l-3.2 1.3z"/><path color="#fbc049" d="M63.4 329.4l3.1-1.5l-2.4-1.8l-3.1 1.4z"/><path color="#f3bd52" d="M60.2 330.9l3.2-1.5l-2.4-1.9l-3.2 1.4z"/><path color="#e9be5a" d="M57 332.4l3.2-1.5l-2.4-2l-3.2 1.4z"/><path color="#e3c36a" d="M53.9 333.8l3.1-1.4l-2.4-2.1l-3.2 1.4z"/><path color="#ddca7d" d="M50.7 335l3.2-1.2l-2.5-2.1l-3.1 2.6z"/><path color="#bbc577" d="M47.5 336.9l3.2-1.9l-2.4-0.7l-3.2 1.2z"/><path color="#a7bf6c" d="M44.4 338.3l3.1-1.4l-2.4-1.4l-3.2 1.2z"/><path color="#a5be6b" d="M41.2 339.5l3.2-1.2l-2.5-1.6l-3.1 1.2zM38 340.7l3.2-1.2l-2.4-1.6l-3.2 1.2zM34.9 341.9l3.1-1.2l-2.4-1.6l-3.2 1.2zM31.7 343l3.2-1.1l-2.5-1.6l-3.1 1.2zM132.3 307.6l3.2-1.2l-2.4-1.6l-3.2 1.2zM129.2 308.8l3.1-1.2l-2.4-1.6l-3.1 1.2zM126 310l3.2-1.2l-2.4-1.6l-3.2 1.2z"/><path color="#a7bf6c" d="M122.8 310.7l3.2-0.7l-2.4-1.6l-3.2 1.2z"/><path color="#cec571" d="M119.7 310l3.1 0.7l-2.4-1.1l-3.2 0.7z"/><path color="#fcd064" d="M116.5 311.2l3.2-1.2l-2.5 0.3l-3.1-0.7z"/><path color="#ffca4b" d="M113.3 312.6l3.2-1.4l-2.4-1.6l-3.2 1.3z"/><path color="#fcc149" d="M110.2 314.4l3.1-1.8l-2.4-1.7l-3.2 1.6z"/><path color="#e3bd5a" d="M107 316.7l3.2-2.3l-2.5-1.9l-3.1 2z"/><path color="#adc172" d="M103.8 319.3l3.2-2.6l-2.4-2.2l-3.2 2.7z"/><path color="#62c091" d="M100.7 321.3l3.1-2l-2.4-2.1l-3.2 2.8z"/><path color="#3abba8" d="M97.5 322.3l3.2-1l-2.5-1.3l-3.1 1.7z"/><path color="#51be9a" d="M94.3 322.4l3.2-0.1l-2.4-0.6l-3.2 0.1z"/><path color="#9ec177" d="M91.1 322.2l3.2 0.2l-2.4-0.6l-3.2-0.6z"/><path color="#dfbe5c" d="M88 322.4l3.1-0.2l-2.4-1l-3.1-0.1z"/><path color="#fcc346" d="M84.8 323.1l3.2-0.7l-2.4-1.3l-3.2 0.5z"/><path color="#fecb3d" d="M81.6 324.2l3.2-1.1l-2.4-1.5l-3.2 1z"/><path color="#fdcd3b" d="M78.5 325.4l3.1-1.2l-2.4-1.6l-3.1 1.2z"/><path color="#fecc3c" d="M75.3 326.7l3.2-1.3l-2.4-1.6l-3.2 1.2z"/><path color="#fec740" d="M72.1 328.2l3.2-1.5l-2.4-1.7l-3.2 1.4z"/><path color="#fcc148" d="M69 329.8l3.1-1.6l-2.4-1.8l-3.2 1.5z"/><path color="#f1bd52" d="M65.8 331.4l3.2-1.6l-2.5-1.9l-3.1 1.5z"/><path color="#e1bd5b" d="M62.6 333.1l3.2-1.7l-2.4-2l-3.2 1.5z"/><path color="#d2be62" d="M59.5 334.7l3.1-1.6l-2.4-2.2l-3.2 1.5z"/><path color="#c5c068" d="M56.3 336.2l3.2-1.5l-2.5-2.3l-3.1 1.4z"/><path color="#c2c372" d="M53.1 337.4l3.2-1.2l-2.4-2.4l-3.2 1.2z"/><path color="#c9cb84" d="M50 338.5l3.1-1.1l-2.4-2.4l-3.2 1.9z"/><path color="#b7c67b" d="M46.8 339.7l3.2-1.2l-2.5-1.6l-3.1 1.4z"/><path color="#a6bf6c" d="M43.6 341l3.2-1.3l-2.4-1.4l-3.2 1.2z"/><path color="#a5be6b" d="M40.4 342.2l3.2-1.2l-2.4-1.5l-3.2 1.2zM37.3 343.4l3.1-1.2l-2.4-1.5l-3.1 1.2zM34.1 344.6l3.2-1.2l-2.4-1.5l-3.2 1.1zM134.8 309.2l3.1-1.2l-2.4-1.6l-3.2 1.2zM131.6 310.4l3.2-1.2l-2.5-1.6l-3.1 1.2z"/><path color="#a6bf6c" d="M128.4 311.4l3.2-1l-2.4-1.6l-3.2 1.2z"/><path color="#c8c470" d="M125.3 310.4l3.1 1l-2.4-1.4l-3.2 0.7z"/><path color="#fcd064" d="M122.1 311.6l3.2-1.2l-2.5 0.3l-3.1-0.7z"/><path color="#feca48" d="M118.9 312.8l3.2-1.2l-2.4-1.6l-3.2 1.2z"/><path color="#fec543" d="M115.8 314.3l3.1-1.5l-2.4-1.6l-3.2 1.4z"/><path color="#f4be50" d="M112.6 316.4l3.2-2.1l-2.5-1.7l-3.1 1.8z"/><path color="#cac169" d="M109.4 319.2l3.2-2.8l-2.4-2l-3.2 2.3z"/><path color="#87c386" d="M106.2 321.6l3.2-2.4l-2.4-2.5l-3.2 2.6z"/><path color="#54bf98" d="M103.1 322.6l3.1-1l-2.4-2.3l-3.1 2z"/><path color="#61c092" d="M99.9 322.7l3.2-0.1l-2.4-1.3l-3.2 1z"/><path color="#94c27b" d="M96.7 322.7l3.2 0l-2.4-0.4l-3.2 0.1z"/><path color="#cabf65" d="M93.6 323.1l3.1-0.4l-2.4-0.3l-3.2-0.2z"/><path color="#f1be52" d="M90.4 323.7l3.2-0.6l-2.5-0.9l-3.1 0.2z"/><path color="#fec542" d="M87.2 324.7l3.2-1l-2.4-1.3l-3.2 0.7z"/><path color="#fecb3d" d="M84.1 325.8l3.1-1.1l-2.4-1.6l-3.2 1.1z"/><path color="#fecb3c" d="M80.9 327.1l3.2-1.3l-2.5-1.6l-3.1 1.2z"/><path color="#fec83f" d="M77.7 328.5l3.2-1.4l-2.4-1.7l-3.2 1.3z"/><path color="#fdc246" d="M74.6 330.1l3.1-1.6l-2.4-1.8l-3.2 1.5z"/><path color="#f2bd52" d="M71.4 331.8l3.2-1.7l-2.5-1.9l-3.1 1.6z"/><path color="#ddbd5d" d="M68.2 333.7l3.2-1.9l-2.4-2l-3.2 1.6z"/><path color="#c5bf67" d="M65.1 335.6l3.1-1.9l-2.4-2.3l-3.2 1.7z"/><path color="#acc171" d="M61.9 337.4l3.2-1.8l-2.5-2.5l-3.1 1.6z"/><path color="#98c279" d="M58.7 338.9l3.2-1.5l-2.4-2.7l-3.2 1.5z"/><path color="#8ec27e" d="M55.5 340.2l3.2-1.3l-2.4-2.7l-3.2 1.2z"/><path color="#96c582" d="M52.4 341.1l3.1-0.9l-2.4-2.8l-3.1 1.1z"/><path color="#b0cc8e" d="M49.2 341.9l3.2-0.8l-2.4-2.6l-3.2 1.2z"/><path color="#afc57c" d="M46 342.6l3.2-0.7l-2.4-2.2l-3.2 1.3z"/><path color="#a6bf6c" d="M42.9 343.8l3.1-1.2l-2.4-1.6l-3.2 1.2z"/><path color="#a5be6b" d="M39.7 345l3.2-1.2l-2.5-1.6l-3.1 1.2zM36.5 346.2l3.2-1.2l-2.4-1.6l-3.2 1.2zM137.2 310.7l3.2-1.2l-2.5-1.5l-3.1 1.2z"/><path color="#a6be6b" d="M134 311.9l3.2-1.2l-2.4-1.5l-3.2 1.2z"/><path color="#b9c26f" d="M130.8 310.8l3.2 1.1l-2.4-1.5l-3.2 1z"/><path color="#f9cf68" d="M127.7 311.9l3.1-1.1l-2.4 0.6l-3.1-1z"/><path color="#fecb49" d="M124.5 313.1l3.2-1.2l-2.4-1.5l-3.2 1.2z"/><path color="#ffc840" d="M121.3 314.4l3.2-1.3l-2.4-1.5l-3.2 1.2z"/><path color="#fec444" d="M118.2 315.9l3.1-1.5l-2.4-1.6l-3.1 1.5z"/><path color="#edbd55" d="M115 318.1l3.2-2.2l-2.4-1.6l-3.2 2.1z"/><path color="#b4c16f" d="M111.8 320.9l3.2-2.8l-2.4-1.7l-3.2 2.8z"/><path color="#63c091" d="M108.7 323.1l3.1-2.2l-2.4-1.7l-3.2 2.4z"/><path color="#4fbe9b" d="M105.5 323.7l3.2-0.6l-2.5-1.5l-3.1 1z"/><path color="#89c280" d="M102.3 323.4l3.2 0.3l-2.4-1.1l-3.2 0.1z"/><path color="#c7bf66" d="M99.2 323.5l3.1-0.1l-2.4-0.7l-3.2 0z"/><path color="#ecbd55" d="M96 324.2l3.2-0.7l-2.5-0.8l-3.1 0.4z"/><path color="#fcc148" d="M92.8 325.2l3.2-1l-2.4-1.1l-3.2 0.6z"/><path color="#ffc740" d="M89.7 326.3l3.1-1.1l-2.4-1.5l-3.2 1z"/><path color="#fec93e" d="M86.5 327.5l3.2-1.2l-2.5-1.6l-3.1 1.1z"/><path color="#fec740" d="M83.3 328.9l3.2-1.4l-2.4-1.7l-3.2 1.3z"/><path color="#fdc346" d="M80.1 330.4l3.2-1.5l-2.4-1.8l-3.2 1.4z"/><path color="#f4be50" d="M77 332.1l3.1-1.7l-2.4-1.9l-3.1 1.6z"/><path color="#dfbd5c" d="M73.8 334l3.2-1.9l-2.4-2l-3.2 1.7z"/><path color="#c1c069" d="M70.6 336.1l3.2-2.1l-2.4-2.2l-3.2 1.9z"/><path color="#9cc279" d="M67.5 338.3l3.1-2.2l-2.4-2.4l-3.1 1.9z"/><path color="#74c28c" d="M64.3 340.3l3.2-2l-2.4-2.7l-3.2 1.8z"/><path color="#54bf9c" d="M61.1 342l3.2-1.7l-2.4-2.9l-3.2 1.5z"/><path color="#45bca2" d="M58 343.2l3.1-1.2l-2.4-3.1l-3.2 1.3z"/><path color="#4cbd9e" d="M54.8 344l3.2-0.8l-2.5-3l-3.1 0.9z"/><path color="#6bc497" d="M51.6 344.5l3.2-0.5l-2.4-2.9l-3.2 0.8z"/><path color="#9fcd97" d="M48.5 344.9l3.1-0.4l-2.4-2.6l-3.2 0.7z"/><path color="#a9c376" d="M45.3 345.3l3.2-0.4l-2.5-2.3l-3.1 1.2z"/><path color="#a6be6b" d="M42.1 346.5l3.2-1.2l-2.4-1.5l-3.2 1.2z"/><path color="#a5be6b" d="M39 347.7l3.1-1.2l-2.4-1.5l-3.2 1.2zM139.6 312.3l3.2-1.2l-2.4-1.6l-3.2 1.2z"/><path color="#aac06d" d="M136.4 312.3l3.2 0l-2.4-1.6l-3.2 1.2z"/><path color="#eacb6e" d="M133.3 312.3l3.1 0l-2.4-0.4l-3.2-1.1z"/><path color="#fecd51" d="M130.1 313.5l3.2-1.2l-2.5-1.5l-3.1 1.1z"/><path color="#fec840" d="M126.9 314.7l3.2-1.2l-2.4-1.6l-3.2 1.2z"/><path color="#ffc740" d="M123.8 315.9l3.1-1.2l-2.4-1.6l-3.2 1.3z"/><path color="#fec444" d="M120.6 317.3l3.2-1.4l-2.5-1.5l-3.1 1.5z"/><path color="#f0be52" d="M117.4 319.2l3.2-1.9l-2.4-1.4l-3.2 2.2z"/><path color="#c1c069" d="M114.3 321.5l3.1-2.3l-2.4-1.1l-3.2 2.8z"/><path color="#86c281" d="M111.1 323.3l3.2-1.8l-2.5-0.6l-3.1 2.2z"/><path color="#80c284" d="M107.9 323.9l3.2-0.6l-2.4-0.2l-3.2 0.6z"/><path color="#b5c06e" d="M104.8 324.1l3.1-0.2l-2.4-0.2l-3.2-0.3z"/><path color="#e5bd59" d="M101.6 324.7l3.2-0.6l-2.5-0.7l-3.1 0.1z"/><path color="#fac04a" d="M98.4 325.6l3.2-0.9l-2.4-1.2l-3.2 0.7z"/><path color="#fec443" d="M95.2 326.8l3.2-1.2l-2.4-1.4l-3.2 1z"/><path color="#ffc641" d="M92.1 328l3.1-1.2l-2.4-1.6l-3.1 1.1z"/><path color="#fec542" d="M88.9 329.3l3.2-1.3l-2.4-1.7l-3.2 1.2z"/><path color="#fdc246" d="M85.7 330.7l3.2-1.4l-2.4-1.8l-3.2 1.4z"/><path color="#f6be4f" d="M82.6 332.3l3.1-1.6l-2.4-1.8l-3.2 1.5z"/><path color="#e3bd5a" d="M79.4 334.2l3.2-1.9l-2.5-1.9l-3.1 1.7z"/><path color="#c6bf67" d="M76.2 336.3l3.2-2.1l-2.4-2.1l-3.2 1.9z"/><path color="#9bc279" d="M73.1 338.7l3.1-2.4l-2.4-2.3l-3.2 2.1z"/><path color="#67c297" d="M69.9 341.1l3.2-2.4l-2.5-2.6l-3.1 2.2z"/><path color="#3cbcb5" d="M66.7 343.5l3.2-2.4l-2.4-2.8l-3.2 2z"/><path color="#28b3c7" d="M63.6 345.4l3.1-1.9l-2.4-3.2l-3.2 1.7z"/><path color="#1aaaca" d="M60.4 346.6l3.2-1.2l-2.5-3.4l-3.1 1.2z"/><path color="#17acc5" d="M57.2 347.1l3.2-0.5l-2.4-3.4l-3.2 0.8z"/><path color="#28b6b5" d="M54 347.3l3.2-0.2l-2.4-3.1l-3.2 0.5z"/><path color="#5fc4a4" d="M50.9 347.3l3.1 0l-2.4-2.8l-3.1 0.4z"/><path color="#a0cb92" d="M47.7 347.2l3.2 0.1l-2.4-2.4l-3.2 0.4z"/><path color="#a7c06e" d="M44.5 348.1l3.2-0.9l-2.4-1.9l-3.2 1.2z"/><path color="#a5be6b" d="M41.4 349.3l3.1-1.2l-2.4-1.6l-3.1 1.2z"/><path color="#a6be6b" d="M142 313.9l3.2-1.2l-2.4-1.6l-3.2 1.2z"/><path color="#c8c470" d="M138.9 312.7l3.1 1.2l-2.4-1.6l-3.2 0z"/><path color="#fed05f" d="M135.7 313.9l3.2-1.2l-2.5-0.4l-3.1 0z"/><path color="#fec942" d="M132.5 315.1l3.2-1.2l-2.4-1.6l-3.2 1.2z"/><path color="#fec840" d="M129.4 316.3l3.1-1.2l-2.4-1.6l-3.2 1.2z"/><path color="#ffc740" d="M126.2 317.5l3.2-1.2l-2.5-1.6l-3.1 1.2z"/><path color="#ffc542" d="M123 318.8l3.2-1.3l-2.4-1.6l-3.2 1.4z"/><path color="#fac04b" d="M119.8 320.2l3.2-1.4l-2.4-1.5l-3.2 1.9z"/><path color="#e4bd5a" d="M116.7 321.9l3.1-1.7l-2.4-1l-3.1 2.3z"/><path color="#c9bf65" d="M113.5 323.3l3.2-1.4l-2.4-0.4l-3.2 1.8z"/><path color="#c8bf66" d="M110.3 324.3l3.2-1l-2.4 0l-3.2 0.6z"/><path color="#e0bd5b" d="M107.2 325.1l3.1-0.8l-2.4-0.4l-3.1 0.2z"/><path color="#f7be4e" d="M104 326.1l3.2-1l-2.4-1l-3.2 0.6z"/><path color="#fec246" d="M100.8 327.2l3.2-1.1l-2.4-1.4l-3.2 0.9z"/><path color="#fec444" d="M97.7 328.4l3.1-1.2l-2.4-1.6l-3.2 1.2z"/><path color="#fec345" d="M94.5 329.7l3.2-1.3l-2.5-1.6l-3.1 1.2z"/><path color="#fdc148" d="M91.3 331.1l3.2-1.4l-2.4-1.7l-3.2 1.3z"/><path color="#f7be4e" d="M88.2 332.6l3.1-1.5l-2.4-1.8l-3.2 1.4z"/><path color="#e9bd57" d="M85 334.3l3.2-1.7l-2.5-1.9l-3.1 1.6z"/><path color="#d1be62" d="M81.8 336.3l3.2-2l-2.4-2l-3.2 1.9z"/><path color="#aac172" d="M78.7 338.6l3.1-2.3l-2.4-2.1l-3.2 2.1z"/><path color="#6fc28e" d="M75.5 341.2l3.2-2.6l-2.5-2.3l-3.1 2.4z"/><path color="#39bbb6" d="M72.3 343.9l3.2-2.7l-2.4-2.5l-3.2 2.4z"/><path color="#2facd3" d="M69.1 346.8l3.2-2.9l-2.4-2.8l-3.2 2.4z"/><path color="#3898de" d="M66 349.3l3.1-2.5l-2.4-3.3l-3.1 1.9z"/><path color="#2784de" d="M62.8 350.5l3.2-1.2l-2.4-3.9l-3.2 1.2z"/><path color="#1a87d9" d="M59.6 350.4l3.2 0.1l-2.4-3.9l-3.2 0.5z"/><path color="#16a1cf" d="M56.5 350l3.1 0.4l-2.4-3.3l-3.2 0.2z"/><path color="#29b6b7" d="M53.3 349.6l3.2 0.4l-2.5-2.7l-3.1 0z"/><path color="#79caa4" d="M50.1 349.5l3.2 0.1l-2.4-2.3l-3.2-0.1z"/><path color="#a8c67e" d="M47 349.7l3.1-0.2l-2.4-2.3l-3.2 0.9z"/><path color="#a6be6b" d="M43.8 350.9l3.2-1.2l-2.5-1.6l-3.1 1.2z"/><path color="#aac06d" d="M144.4 314.4l3.2-0.2l-2.4-1.5l-3.2 1.2z"/><path color="#efcc6d" d="M141.3 314.3l3.1 0.1l-2.4-0.5l-3.1-1.2z"/><path color="#ffcb4c" d="M138.1 315.5l3.2-1.2l-2.4-1.6l-3.2 1.2z"/><path color="#ffc840" d="M134.9 316.7l3.2-1.2l-2.4-1.6l-3.2 1.2z"/><path color="#ffc740" d="M131.8 317.9l3.1-1.2l-2.4-1.6l-3.1 1.2zM128.6 319.1l3.2-1.2l-2.4-1.6l-3.2 1.2z"/><path color="#ffc641" d="M125.4 320.3l3.2-1.2l-2.4-1.6l-3.2 1.3z"/><path color="#fec444" d="M122.3 321.6l3.1-1.3l-2.4-1.5l-3.2 1.4z"/><path color="#fac04b" d="M119.1 322.9l3.2-1.3l-2.5-1.4l-3.1 1.7z"/><path color="#f3bd51" d="M115.9 324.2l3.2-1.3l-2.4-1l-3.2 1.4z"/><path color="#f1bd52" d="M112.8 325.4l3.1-1.2l-2.4-0.9l-3.2 1z"/><path color="#f7be4e" d="M109.6 326.6l3.2-1.2l-2.5-1.1l-3.1 0.8z"/><path color="#fbc04a" d="M106.4 327.9l3.2-1.3l-2.4-1.5l-3.2 1z"/><path color="#fcc049" d="M103.3 329.1l3.1-1.2l-2.4-1.8l-3.2 1.1z"/><path color="#fbc04a" d="M100.1 330.4l3.2-1.3l-2.5-1.9l-3.1 1.2z"/><path color="#f9bf4c" d="M96.9 331.7l3.2-1.3l-2.4-2l-3.2 1.3z"/><path color="#f5bd50" d="M93.8 333l3.1-1.3l-2.4-2l-3.2 1.4z"/><path color="#ebbd56" d="M90.6 334.5l3.2-1.5l-2.5-1.9l-3.1 1.5z"/><path color="#dbbe5e" d="M87.4 336.3l3.2-1.8l-2.4-1.9l-3.2 1.7z"/><path color="#bec06a" d="M84.2 338.3l3.2-2l-2.4-2l-3.2 2z"/><path color="#8ec27e" d="M81.1 340.7l3.1-2.4l-2.4-2l-3.1 2.3z"/><path color="#48bda1" d="M77.9 343.4l3.2-2.7l-2.4-2.1l-3.2 2.6z"/><path color="#22afc9" d="M74.7 346.4l3.2-3l-2.4-2.2l-3.2 2.7z"/><path color="#3493de" d="M71.6 349.8l3.1-3.4l-2.4-2.5l-3.2 2.9z"/><path color="#4c6cc8" d="M68.4 352.9l3.2-3.1l-2.5-3l-3.1 2.5z"/><path color="#4847a2" d="M65.2 354.1l3.2-1.2l-2.4-3.6l-3.2 1.2z"/><path color="#2e53c0" d="M62.1 353.4l3.1 0.7l-2.4-3.6l-3.2-0.1z"/><path color="#1a86da" d="M58.9 352.3l3.2 1.1l-2.5-3l-3.1-0.4z"/><path color="#16aac7" d="M55.7 351.7l3.2 0.6l-2.4-2.3l-3.2-0.4z"/><path color="#4fc0a9" d="M52.6 351.4l3.1 0.3l-2.4-2.1l-3.2-0.1z"/><path color="#a1cc93" d="M49.4 351.3l3.2 0.1l-2.5-1.9l-3.1 0.2z"/><path color="#a7c06e" d="M46.2 352.4l3.2-1.1l-2.4-1.6l-3.2 1.2z"/><path color="#bec270" d="M146.9 314.7l3.1 1.1l-2.4-1.6l-3.2 0.2z"/><path color="#fecf62" d="M143.7 315.8l3.2-1.1l-2.5-0.3l-3.1-0.1z"/><path color="#ffc843" d="M140.5 317l3.2-1.2l-2.4-1.5l-3.2 1.2z"/><path color="#ffc740" d="M137.4 318.3l3.1-1.3l-2.4-1.5l-3.2 1.2z"/><path color="#ffc741" d="M134.2 319.5l3.2-1.2l-2.5-1.6l-3.1 1.2z"/><path color="#ffc641" d="M131 320.7l3.2-1.2l-2.4-1.6l-3.2 1.2z"/><path color="#ffc642" d="M127.9 321.9l3.1-1.2l-2.4-1.6l-3.2 1.2z"/><path color="#fec443" d="M124.7 323.2l3.2-1.3l-2.5-1.6l-3.1 1.3z"/><path color="#fdc247" d="M121.5 324.6l3.2-1.4l-2.4-1.6l-3.2 1.3z"/><path color="#fabf4b" d="M118.4 326l3.1-1.4l-2.4-1.7l-3.2 1.3z"/><path color="#f5be50" d="M115.2 327.5l3.2-1.5l-2.5-1.8l-3.1 1.2z"/><path color="#efbd54" d="M112 329.1l3.2-1.6l-2.4-2.1l-3.2 1.2z"/><path color="#e8be59" d="M108.8 330.7l3.2-1.6l-2.4-2.5l-3.2 1.3z"/><path color="#e1bf5e" d="M105.7 332.2l3.1-1.5l-2.4-2.8l-3.1 1.2z"/><path color="#dbbf61" d="M102.5 333.5l3.2-1.3l-2.4-3.1l-3.2 1.3z"/><path color="#d8bf61" d="M99.3 334.7l3.2-1.2l-2.4-3.1l-3.2 1.3z"/><path color="#d5be60" d="M96.2 335.8l3.1-1.1l-2.4-3l-3.1 1.3z"/><path color="#d0be62" d="M93 337l3.2-1.2l-2.4-2.8l-3.2 1.5z"/><path color="#c3c068" d="M89.8 338.5l3.2-1.5l-2.4-2.5l-3.2 1.8z"/><path color="#a8c173" d="M86.7 340.4l3.1-1.9l-2.4-2.2l-3.2 2z"/><path color="#75c188" d="M83.5 342.6l3.2-2.2l-2.5-2.1l-3.1 2.4z"/><path color="#32b8ad" d="M80.3 345.2l3.2-2.6l-2.4-1.9l-3.2 2.7z"/><path color="#17a2cf" d="M77.2 348.2l3.1-3l-2.4-1.8l-3.2 3z"/><path color="#2278dd" d="M74 351.6l3.2-3.4l-2.5-1.8l-3.1 3.4z"/><path color="#453f9a" d="M70.8 354.7l3.2-3.1l-2.4-1.8l-3.2 3.1z"/><path color="#3f358d" d="M67.7 355.8l3.1-1.1l-2.4-1.8l-3.2 1.2z"/><path color="#3f3b99" d="M64.5 355l3.2 0.8l-2.5-1.7l-3.1-0.7z"/><path color="#1b77dc" d="M61.3 354l3.2 1l-2.4-1.6l-3.2-1.1z"/><path color="#15a4cd" d="M58.1 353.3l3.2 0.7l-2.4-1.7l-3.2-0.6z"/><path color="#3bbbaa" d="M55 353l3.1 0.3l-2.4-1.6l-3.1-0.3z"/><path color="#95cc98" d="M51.8 353l3.2 0l-2.4-1.6l-3.2-0.1z"/><path color="#acc477" d="M48.6 354l3.2-1l-2.4-1.7l-3.2 1.1z"/><path color="#d9c770" d="M149.3 316.2l3.2 1.1l-2.5-1.5l-3.1-1.1z"/><path color="#ffcd54" d="M146.1 317.4l3.2-1.2l-2.4-1.5l-3.2 1.1z"/><path color="#ffc741" d="M143 318.6l3.1-1.2l-2.4-1.6l-3.2 1.2z"/><path color="#ffc641" d="M139.8 319.8l3.2-1.2l-2.5-1.6l-3.1 1.3z"/><path color="#ffc642" d="M136.6 321.1l3.2-1.3l-2.4-1.5l-3.2 1.2z"/><path color="#ffc542" d="M133.4 322.3l3.2-1.2l-2.4-1.6l-3.2 1.2z"/><path color="#fec444" d="M130.3 323.6l3.1-1.3l-2.4-1.6l-3.1 1.2z"/><path color="#fdc247" d="M127.1 325l3.2-1.4l-2.4-1.7l-3.2 1.3z"/><path color="#f8bf4d" d="M123.9 326.5l3.2-1.5l-2.4-1.8l-3.2 1.4z"/><path color="#ecbd55" d="M120.8 328.3l3.1-1.8l-2.4-1.9l-3.1 1.4z"/><path color="#d9be60" d="M117.6 330.4l3.2-2.1l-2.4-2.3l-3.2 1.5z"/><path color="#c1c475" d="M114.4 332.6l3.2-2.2l-2.4-2.9l-3.2 1.6z"/><path color="#a6c989" d="M111.3 334.8l3.1-2.2l-2.4-3.5l-3.2 1.6z"/><path color="#8cc999" d="M108.1 336.7l3.2-1.9l-2.5-4.1l-3.1 1.5z"/><path color="#7bc79f" d="M104.9 338.1l3.2-1.4l-2.4-4.5l-3.2 1.3z"/><path color="#74c49a" d="M101.8 339l3.1-0.9l-2.4-4.6l-3.2 1.2z"/><path color="#78c18c" d="M98.6 339.6l3.2-0.6l-2.5-4.3l-3.1 1.1z"/><path color="#88c180" d="M95.4 340.1l3.2-0.5l-2.4-3.8l-3.2 1.2z"/><path color="#92c27c" d="M92.3 341l3.1-0.9l-2.4-3.1l-3.2 1.5z"/><path color="#87c281" d="M89.1 342.4l3.2-1.4l-2.5-2.5l-3.1 1.9z"/><path color="#5fc093" d="M85.9 344.4l3.2-2l-2.4-2l-3.2 2.2z"/><path color="#2ab7b2" d="M82.8 346.7l3.1-2.3l-2.4-1.8l-3.2 2.6z"/><path color="#15a2cf" d="M79.6 349.3l3.2-2.6l-2.5-1.5l-3.1 3z"/><path color="#1a7cdc" d="M76.4 352.1l3.2-2.8l-2.4-1.1l-3.2 3.4z"/><path color="#3848b0" d="M73.2 354.5l3.2-2.4l-2.4-0.5l-3.2 3.1z"/><path color="#3f3893" d="M70.1 355.6l3.1-1.1l-2.4 0.2l-3.1 1.1z"/><path color="#354bb5" d="M66.9 355.5l3.2 0.1l-2.4 0.2l-3.2-0.8z"/><path color="#1a81db" d="M63.7 355l3.2 0.5l-2.4-0.5l-3.2-1z"/><path color="#15a7ca" d="M60.6 354.6l3.1 0.4l-2.4-1l-3.2-0.7z"/><path color="#3dbba7" d="M57.4 354.4l3.2 0.2l-2.5-1.3l-3.1-0.3z"/><path color="#8fc890" d="M54.2 354.5l3.2-0.1l-2.4-1.4l-3.2 0z"/><path color="#b5c881" d="M51.1 355.5l3.1-1l-2.4-1.5l-3.2 1z"/><path color="#eecc6e" d="M151.7 317.8l3.2 0.6l-2.4-1.1l-3.2-1.1z"/><path color="#ffca4b" d="M148.5 319l3.2-1.2l-2.4-1.6l-3.2 1.2z"/><path color="#ffc641" d="M145.4 320.2l3.1-1.2l-2.4-1.6l-3.1 1.2z"/><path color="#ffc642" d="M142.2 321.4l3.2-1.2l-2.4-1.6l-3.2 1.2z"/><path color="#ffc542" d="M139 322.6l3.2-1.2l-2.4-1.6l-3.2 1.3z"/><path color="#fec443" d="M135.9 323.9l3.1-1.3l-2.4-1.5l-3.2 1.2z"/><path color="#fec346" d="M132.7 325.2l3.2-1.3l-2.5-1.6l-3.1 1.3z"/><path color="#fabf4b" d="M129.5 326.6l3.2-1.4l-2.4-1.6l-3.2 1.4z"/><path color="#efbd54" d="M126.4 328.3l3.1-1.7l-2.4-1.6l-3.2 1.5z"/><path color="#d9be5f" d="M123.2 330.2l3.2-1.9l-2.5-1.8l-3.1 1.8z"/><path color="#b6c16e" d="M120 332.4l3.2-2.2l-2.4-1.9l-3.2 2.1z"/><path color="#81c388" d="M116.9 334.8l3.1-2.4l-2.4-2l-3.2 2.2z"/><path color="#44beab" d="M113.7 337.2l3.2-2.4l-2.5-2.2l-3.1 2.2z"/><path color="#23b3c4" d="M110.5 339.3l3.2-2.1l-2.4-2.4l-3.2 1.9z"/><path color="#1aaace" d="M107.4 340.7l3.1-1.4l-2.4-2.6l-3.2 1.4z"/><path color="#15a9cb" d="M104.2 341.5l3.2-0.8l-2.5-2.6l-3.1 0.9z"/><path color="#1bb1be" d="M101 341.9l3.2-0.4l-2.4-2.5l-3.2 0.6z"/><path color="#39baa8" d="M97.8 342.3l3.2-0.4l-2.4-2.3l-3.2 0.5z"/><path color="#5bc095" d="M94.7 342.9l3.1-0.6l-2.4-2.2l-3.1 0.9z"/><path color="#68c18e" d="M91.5 344.1l3.2-1.2l-2.4-1.9l-3.2 1.4z"/><path color="#55bf98" d="M88.3 345.8l3.2-1.7l-2.4-1.7l-3.2 2z"/><path color="#2eb8b0" d="M85.2 347.9l3.1-2.1l-2.4-1.4l-3.1 2.3z"/><path color="#14aac9" d="M82 350.1l3.2-2.2l-2.4-1.2l-3.2 2.6z"/><path color="#1c90d6" d="M78.8 352.3l3.2-2.2l-2.4-0.8l-3.2 2.8z"/><path color="#1977dd" d="M75.7 354.1l3.1-1.8l-2.4-0.2l-3.2 2.4z"/><path color="#1e6bd9" d="M72.5 355.2l3.2-1.1l-2.5 0.4l-3.1 1.1z"/><path color="#1a7bdc" d="M69.3 355.6l3.2-0.4l-2.4 0.4l-3.2-0.1z"/><path color="#1997d4" d="M66.2 355.6l3.1 0l-2.4-0.1l-3.2-0.5z"/><path color="#1bb0bf" d="M63 355.5l3.2 0.1l-2.5-0.6l-3.1-0.4z"/><path color="#50be9b" d="M59.8 355.6l3.2-0.1l-2.4-0.9l-3.2-0.2z"/><path color="#96c584" d="M56.7 355.8l3.1-0.2l-2.4-1.2l-3.2 0.1z"/><path color="#c1cb86" d="M53.5 356.9l3.2-1.1l-2.5-1.3l-3.1 1z"/><path color="#f9ce6a" d="M154.1 319.4l3.2-0.1l-2.4-0.9l-3.2-0.6z"/><path color="#ffc747" d="M151 320.6l3.1-1.2l-2.4-1.6l-3.2 1.2z"/><path color="#ffc642" d="M147.8 321.8l3.2-1.2l-2.5-1.6l-3.1 1.2zM144.6 322.9l3.2-1.1l-2.4-1.6l-3.2 1.2z"/><path color="#ffc641" d="M141.5 324.1l3.1-1.2l-2.4-1.5l-3.2 1.2z"/><path color="#ffc642" d="M138.3 325.3l3.2-1.2l-2.5-1.5l-3.1 1.3z"/><path color="#fec444" d="M135.1 326.6l3.2-1.3l-2.4-1.4l-3.2 1.3z"/><path color="#fbc04a" d="M132 328l3.1-1.4l-2.4-1.4l-3.2 1.4z"/><path color="#f1bd53" d="M128.8 329.6l3.2-1.6l-2.5-1.4l-3.1 1.7z"/><path color="#debd5d" d="M125.6 331.2l3.2-1.6l-2.4-1.3l-3.2 1.9z"/><path color="#c2c069" d="M122.4 332.8l3.2-1.6l-2.4-1l-3.2 2.2z"/><path color="#99c179" d="M119.3 334.6l3.1-1.8l-2.4-0.4l-3.1 2.4z"/><path color="#66bf91" d="M116.1 336.4l3.2-1.8l-2.4 0.2l-3.2 2.4z"/><path color="#3db9a8" d="M112.9 338.1l3.2-1.7l-2.4 0.8l-3.2 2.1z"/><path color="#2bb4b5" d="M109.8 339.6l3.1-1.5l-2.4 1.2l-3.1 1.4z"/><path color="#29b4b6" d="M106.6 340.8l3.2-1.2l-2.4 1.1l-3.2 0.8z"/><path color="#36b9ab" d="M103.4 341.7l3.2-0.9l-2.4 0.7l-3.2 0.4z"/><path color="#52be9a" d="M100.3 342.6l3.1-0.9l-2.4 0.2l-3.2 0.4z"/><path color="#6dc18c" d="M97.1 343.7l3.2-1.1l-2.5-0.3l-3.1 0.6z"/><path color="#75c288" d="M93.9 345.2l3.2-1.5l-2.4-0.8l-3.2 1.2z"/><path color="#64c190" d="M90.8 346.9l3.1-1.7l-2.4-1.1l-3.2 1.7z"/><path color="#40bca4" d="M87.6 348.8l3.2-1.9l-2.5-1.1l-3.1 2.1z"/><path color="#1eb2bc" d="M84.4 350.9l3.2-2.1l-2.4-0.9l-3.2 2.2z"/><path color="#14a6cd" d="M81.3 352.7l3.1-1.8l-2.4-0.8l-3.2 2.2z"/><path color="#1998d3" d="M78.1 354.2l3.2-1.5l-2.5-0.4l-3.1 1.8z"/><path color="#1a94d5" d="M74.9 355.3l3.2-1.1l-2.4-0.1l-3.2 1.1z"/><path color="#179dd2" d="M71.8 355.9l3.1-0.6l-2.4-0.1l-3.2 0.4z"/><path color="#16adc5" d="M68.6 356.2l3.2-0.3l-2.5-0.3l-3.1 0z"/><path color="#35b9ab" d="M65.4 356.4l3.2-0.2l-2.4-0.6l-3.2-0.1z"/><path color="#6ec18c" d="M62.2 356.7l3.2-0.3l-2.4-0.9l-3.2 0.1z"/><path color="#a4c379" d="M59.1 357.1l3.1-0.4l-2.4-1.1l-3.1 0.2z"/><path color="#cccb84" d="M55.9 358.2l3.2-1.1l-2.4-1.3l-3.2 1.1z"/><path color="#fdce66" d="M156.6 321l3.1-0.5l-2.4-1.2l-3.2 0.1z"/><path color="#fec645" d="M153.4 322.2l3.2-1.2l-2.5-1.6l-3.1 1.2z"/><path color="#ffc542" d="M150.2 323.3l3.2-1.1l-2.4-1.6l-3.2 1.2z"/><path color="#ffc741" d="M147.1 324.4l3.1-1.1l-2.4-1.5l-3.2 1.1z"/><path color="#fec93e" d="M143.9 325.4l3.2-1l-2.5-1.5l-3.1 1.2z"/><path color="#fecb3d" d="M140.7 326.6l3.2-1.2l-2.4-1.3l-3.2 1.2z"/><path color="#fec93e" d="M137.5 327.9l3.2-1.3l-2.4-1.3l-3.2 1.3z"/><path color="#fec543" d="M134.4 329.4l3.1-1.5l-2.4-1.3l-3.1 1.4z"/><path color="#fabf4c" d="M131.2 330.8l3.2-1.4l-2.4-1.4l-3.2 1.6z"/><path color="#f1bd53" d="M128 332.1l3.2-1.3l-2.4-1.2l-3.2 1.6z"/><path color="#e8bd58" d="M124.9 333.3l3.1-1.2l-2.4-0.9l-3.2 1.6z"/><path color="#e0be5b" d="M121.7 334.4l3.2-1.1l-2.5-0.5l-3.1 1.8z"/><path color="#d6be60" d="M118.5 335.6l3.2-1.2l-2.4 0.2l-3.2 1.8z"/><path color="#c7bf66" d="M115.4 337l3.1-1.4l-2.4 0.8l-3.2 1.7z"/><path color="#b8c06c" d="M112.2 338.6l3.2-1.6l-2.5 1.1l-3.1 1.5z"/><path color="#acc171" d="M109 340.1l3.2-1.5l-2.4 1l-3.2 1.2z"/><path color="#a7c173" d="M105.9 341.6l3.1-1.5l-2.4 0.7l-3.2 0.9zM102.7 343.1l3.2-1.5l-2.5 0.1l-3.1 0.9z"/><path color="#a4c275" d="M99.5 344.6l3.2-1.5l-2.4-0.5l-3.2 1.1z"/><path color="#98c279" d="M96.4 346.3l3.1-1.7l-2.4-0.9l-3.2 1.5z"/><path color="#7ec284" d="M93.2 348.1l3.2-1.8l-2.5-1.1l-3.1 1.7z"/><path color="#58bf96" d="M90 350l3.2-1.9l-2.4-1.2l-3.2 1.9z"/><path color="#34b9ac" d="M86.8 351.8l3.2-1.8l-2.4-1.2l-3.2 2.1z"/><path color="#1cb2bc" d="M83.7 353.5l3.1-1.7l-2.4-0.9l-3.1 1.8z"/><path color="#15adc5" d="M80.5 354.8l3.2-1.3l-2.4-0.8l-3.2 1.5z"/><path color="#15acc6" d="M77.3 355.8l3.2-1l-2.4-0.6l-3.2 1.1z"/><path color="#1bb1be" d="M74.2 356.5l3.1-0.7l-2.4-0.5l-3.1 0.6z"/><path color="#32b9ad" d="M71 356.9l3.2-0.4l-2.4-0.6l-3.2 0.3z"/><path color="#5cc094" d="M67.8 357.3l3.2-0.4l-2.4-0.7l-3.2 0.2z"/><path color="#8ec27e" d="M64.7 357.8l3.1-0.5l-2.4-0.9l-3.2 0.3z"/><path color="#b5c270" d="M61.5 358.3l3.2-0.5l-2.5-1.1l-3.1 0.4z"/><path color="#d5ca7f" d="M58.3 359.4l3.2-1.1l-2.4-1.2l-3.2 1.1z"/><path color="#fdcd64" d="M159 322.6l3.2-0.6l-2.5-1.5l-3.1 0.5z"/><path color="#fec546" d="M155.8 323.8l3.2-1.2l-2.4-1.6l-3.2 1.2z"/><path color="#fec542" d="M152.6 324.9l3.2-1.1l-2.4-1.6l-3.2 1.1z"/><path color="#fec93f" d="M149.5 325.8l3.1-0.9l-2.4-1.6l-3.1 1.1z"/><path color="#fdcf39" d="M146.3 326.7l3.2-0.9l-2.4-1.4l-3.2 1z"/><path color="#fbd336" d="M143.1 327.8l3.2-1.1l-2.4-1.3l-3.2 1.2z"/><path color="#fbd237" d="M140 329.2l3.1-1.4l-2.4-1.2l-3.2 1.3z"/><path color="#fecb3d" d="M136.8 330.8l3.2-1.6l-2.5-1.3l-3.1 1.5z"/><path color="#fdc246" d="M133.6 332.4l3.2-1.6l-2.4-1.4l-3.2 1.4z"/><path color="#f9be4d" d="M130.5 333.6l3.1-1.2l-2.4-1.6l-3.2 1.3z"/><path color="#fabf4b" d="M127.3 334.5l3.2-0.9l-2.5-1.5l-3.1 1.2z"/><path color="#fdc543" d="M124.1 335.3l3.2-0.8l-2.4-1.2l-3.2 1.1z"/><path color="#fdcb3d" d="M121 336.2l3.1-0.9l-2.4-0.9l-3.2 1.2z"/><path color="#fccb3e" d="M117.8 337.5l3.2-1.3l-2.5-0.6l-3.1 1.4z"/><path color="#fbc446" d="M114.6 339.2l3.2-1.7l-2.4-0.5l-3.2 1.6z"/><path color="#f0be52" d="M111.4 341l3.2-1.8l-2.4-0.6l-3.2 1.5z"/><path color="#debd5d" d="M108.3 342.7l3.1-1.7l-2.4-0.9l-3.1 1.5z"/><path color="#cdbf64" d="M105.1 344.4l3.2-1.7l-2.4-1.1l-3.2 1.5z"/><path color="#bbc06b" d="M101.9 346.1l3.2-1.7l-2.4-1.3l-3.2 1.5z"/><path color="#a6c274" d="M98.8 347.8l3.1-1.7l-2.4-1.5l-3.1 1.7z"/><path color="#89c27f" d="M95.6 349.7l3.2-1.9l-2.4-1.5l-3.2 1.8z"/><path color="#65c190" d="M92.4 351.5l3.2-1.8l-2.4-1.6l-3.2 1.9z"/><path color="#42bca2" d="M89.3 353.2l3.1-1.7l-2.4-1.5l-3.2 1.8z"/><path color="#2db8b0" d="M86.1 354.7l3.2-1.5l-2.5-1.4l-3.1 1.7z"/><path color="#24b5b6" d="M82.9 355.9l3.2-1.2l-2.4-1.2l-3.2 1.3z"/><path color="#27b6b4" d="M79.8 356.8l3.1-0.9l-2.4-1.1l-3.2 1z"/><path color="#38baa9" d="M76.6 357.4l3.2-0.6l-2.5-1l-3.1 0.7z"/><path color="#57bf97" d="M73.4 357.9l3.2-0.5l-2.4-0.9l-3.2 0.4z"/><path color="#81c283" d="M70.3 358.4l3.1-0.5l-2.4-1l-3.2 0.4z"/><path color="#a6c174" d="M67.1 359l3.2-0.6l-2.5-1.1l-3.1 0.5z"/><path color="#c3c06a" d="M63.9 359.7l3.2-0.7l-2.4-1.2l-3.2 0.5z"/><path color="#ddc97b" d="M60.8 360.8l3.1-1.1l-2.4-1.4l-3.2 1.1z"/><path color="#fdcb66" d="M161.4 324.3l3.2-0.6l-2.4-1.7l-3.2 0.6z"/><path color="#fdc249" d="M158.2 325.5l3.2-1.2l-2.4-1.7l-3.2 1.2z"/><path color="#fec345" d="M155.1 326.5l3.1-1l-2.4-1.7l-3.2 1.1z"/><path color="#fec93e" d="M151.9 327.4l3.2-0.9l-2.5-1.6l-3.1 0.9z"/><path color="#fbd236" d="M148.7 328.2l3.2-0.8l-2.4-1.6l-3.2 0.9z"/><path color="#f8d931" d="M145.6 329.2l3.1-1l-2.4-1.5l-3.2 1.1z"/><path color="#f9d832" d="M142.4 330.7l3.2-1.5l-2.5-1.4l-3.1 1.4z"/><path color="#fdcd3b" d="M139.2 332.5l3.2-1.8l-2.4-1.5l-3.2 1.6z"/><path color="#fcc148" d="M136.1 334.2l3.1-1.7l-2.4-1.7l-3.2 1.6z"/><path color="#f4bd51" d="M132.9 335.5l3.2-1.3l-2.5-1.8l-3.1 1.2z"/><path color="#f9bf4c" d="M129.7 336.3l3.2-0.8l-2.4-1.9l-3.2 0.9z"/><path color="#fec93f" d="M126.5 336.9l3.2-0.6l-2.4-1.8l-3.2 0.8z"/><path color="#fad534" d="M123.4 337.7l3.1-0.8l-2.4-1.6l-3.1 0.9z"/><path color="#f8d931" d="M120.2 338.9l3.2-1.2l-2.4-1.5l-3.2 1.3z"/><path color="#fcd138" d="M117 340.6l3.2-1.7l-2.4-1.4l-3.2 1.7z"/><path color="#fcc247" d="M113.9 342.5l3.1-1.9l-2.4-1.4l-3.2 1.8z"/><path color="#e8bd58" d="M110.7 344.3l3.2-1.8l-2.5-1.5l-3.1 1.7z"/><path color="#d2be62" d="M107.5 346.1l3.2-1.8l-2.4-1.6l-3.2 1.7z"/><path color="#bbc06b" d="M104.4 347.8l3.1-1.7l-2.4-1.7l-3.2 1.7z"/><path color="#a2c275" d="M101.2 349.7l3.2-1.9l-2.5-1.7l-3.1 1.7z"/><path color="#81c283" d="M98 351.6l3.2-1.9l-2.4-1.9l-3.2 1.9z"/><path color="#5bc095" d="M94.9 353.4l3.1-1.8l-2.4-1.9l-3.2 1.8z"/><path color="#3cbba6" d="M91.7 355.1l3.2-1.7l-2.5-1.9l-3.1 1.7z"/><path color="#2cb8b1" d="M88.5 356.5l3.2-1.4l-2.4-1.9l-3.2 1.5z"/><path color="#28b7b3" d="M85.4 357.5l3.1-1l-2.4-1.8l-3.2 1.2z"/><path color="#32b9ac" d="M82.2 358.3l3.2-0.8l-2.5-1.6l-3.1 0.9z"/><path color="#4abe9e" d="M79 358.8l3.2-0.5l-2.4-1.5l-3.2 0.6z"/><path color="#6fc18b" d="M75.8 359.2l3.2-0.4l-2.4-1.4l-3.2 0.5z"/><path color="#96c27a" d="M72.7 359.7l3.1-0.5l-2.4-1.3l-3.1 0.5z"/><path color="#b5c16e" d="M69.5 360.3l3.2-0.6l-2.4-1.3l-3.2 0.6z"/><path color="#cdc066" d="M66.3 361.1l3.2-0.8l-2.4-1.3l-3.2 0.7z"/><path color="#e2c878" d="M63.2 362.4l3.1-1.3l-2.4-1.4l-3.1 1.1z"/><path color="#f9ca6c" d="M163.8 326.1l3.2-0.4l-2.4-2l-3.2 0.6z"/><path color="#f8bf50" d="M160.7 327.4l3.1-1.3l-2.4-1.8l-3.2 1.2z"/><path color="#f9bf4c" d="M157.5 328.5l3.2-1.1l-2.5-1.9l-3.1 1z"/><path color="#fec444" d="M154.3 329.3l3.2-0.8l-2.4-2l-3.2 0.9z"/><path color="#fdce3a" d="M151.2 330.2l3.1-0.9l-2.4-1.9l-3.2 0.8z"/><path color="#fad534" d="M148 331.3l3.2-1.1l-2.5-2l-3.1 1z"/><path color="#fbd237" d="M144.8 332.9l3.2-1.6l-2.4-2.1l-3.2 1.5z"/><path color="#fcc544" d="M141.6 334.8l3.2-1.9l-2.4-2.2l-3.2 1.8z"/><path color="#ecbd55" d="M138.5 336.5l3.1-1.7l-2.4-2.3l-3.1 1.7z"/><path color="#e0bd5c" d="M135.3 337.8l3.2-1.3l-2.4-2.3l-3.2 1.3z"/><path color="#e7bd58" d="M132.1 338.5l3.2-0.7l-2.4-2.3l-3.2 0.8z"/><path color="#f9c149" d="M129 339l3.1-0.5l-2.4-2.2l-3.2 0.6z"/><path color="#fccf39" d="M125.8 339.7l3.2-0.7l-2.5-2.1l-3.1 0.8z"/><path color="#fad534" d="M122.6 340.8l3.2-1.1l-2.4-2l-3.2 1.2z"/><path color="#fccf39" d="M119.5 342.4l3.1-1.6l-2.4-1.9l-3.2 1.7z"/><path color="#fbc149" d="M116.3 344.2l3.2-1.8l-2.5-1.8l-3.1 1.9z"/><path color="#e5bd59" d="M113.1 346l3.2-1.8l-2.4-1.7l-3.2 1.8z"/><path color="#ccbf64" d="M110 347.8l3.1-1.8l-2.4-1.7l-3.2 1.8z"/><path color="#b2c16f" d="M106.8 349.7l3.2-1.9l-2.5-1.7l-3.1 1.7z"/><path color="#92c27c" d="M103.6 351.7l3.2-2l-2.4-1.9l-3.2 1.9z"/><path color="#68c18e" d="M100.4 353.8l3.2-2.1l-2.4-2l-3.2 1.9z"/><path color="#3ebba5" d="M97.3 355.8l3.1-2l-2.4-2.2l-3.1 1.8z"/><path color="#23b5b7" d="M94.1 357.6l3.2-1.8l-2.4-2.4l-3.2 1.7z"/><path color="#19b1bf" d="M90.9 358.9l3.2-1.3l-2.4-2.5l-3.2 1.4z"/><path color="#1ab1bf" d="M87.8 359.8l3.1-0.9l-2.4-2.4l-3.1 1z"/><path color="#26b6b4" d="M84.6 360.3l3.2-0.5l-2.4-2.3l-3.2 0.8z"/><path color="#44bda1" d="M81.4 360.6l3.2-0.3l-2.4-2l-3.2 0.5z"/><path color="#72c18a" d="M78.3 360.9l3.1-0.3l-2.4-1.8l-3.2 0.4z"/><path color="#9cc277" d="M75.1 361.2l3.2-0.3l-2.5-1.7l-3.1 0.5z"/><path color="#bcc06b" d="M71.9 361.8l3.2-0.6l-2.4-1.5l-3.2 0.6z"/><path color="#d3bf64" d="M68.8 362.5l3.1-0.7l-2.4-1.5l-3.2 0.8z"/><path color="#e5c979" d="M65.6 364.1l3.2-1.6l-2.5-1.4l-3.1 1.3z"/><path color="#efc974" d="M166.2 327.9l3.2 0l-2.4-2.2l-3.2 0.4z"/><path color="#edbe5a" d="M163.1 329.4l3.1-1.5l-2.4-1.8l-3.1 1.3z"/><path color="#eabd57" d="M159.9 330.6l3.2-1.2l-2.4-2l-3.2 1.1z"/><path color="#efbd53" d="M156.7 331.7l3.2-1.1l-2.4-2.1l-3.2 0.8z"/><path color="#f7c04c" d="M153.6 332.7l3.1-1l-2.4-2.4l-3.1 0.9z"/><path color="#f9c348" d="M150.4 334.1l3.2-1.4l-2.4-2.5l-3.2 1.1z"/><path color="#f3c150" d="M147.2 335.8l3.2-1.7l-2.4-2.8l-3.2 1.6z"/><path color="#dfbf60" d="M144.1 337.7l3.1-1.9l-2.4-2.9l-3.2 1.9z"/><path color="#c3c069" d="M140.9 339.3l3.2-1.6l-2.5-2.9l-3.1 1.7z"/><path color="#b7c06d" d="M137.7 340.5l3.2-1.2l-2.4-2.8l-3.2 1.3z"/><path color="#c1c069" d="M134.6 341.2l3.1-0.7l-2.4-2.7l-3.2 0.7z"/><path color="#dcbe5d" d="M131.4 341.6l3.2-0.4l-2.5-2.7l-3.1 0.5z"/><path color="#f5c04e" d="M128.2 342.2l3.2-0.6l-2.4-2.6l-3.2 0.7z"/><path color="#fdc543" d="M125.1 343.1l3.1-0.9l-2.4-2.5l-3.2 1.1z"/><path color="#fcc346" d="M121.9 344.5l3.2-1.4l-2.5-2.3l-3.1 1.6z"/><path color="#f1bd52" d="M118.7 346.1l3.2-1.6l-2.4-2.1l-3.2 1.8z"/><path color="#dcbe5e" d="M115.5 347.8l3.2-1.7l-2.4-1.9l-3.2 1.8z"/><path color="#c3c068" d="M112.4 349.6l3.1-1.8l-2.4-1.8l-3.1 1.8z"/><path color="#a5c174" d="M109.2 351.6l3.2-2l-2.4-1.8l-3.2 1.9z"/><path color="#7ac286" d="M106 353.8l3.2-2.2l-2.4-1.9l-3.2 2z"/><path color="#45bca1" d="M102.9 356.2l3.1-2.4l-2.4-2.1l-3.2 2.1z"/><path color="#20b3bc" d="M99.7 358.4l3.2-2.2l-2.5-2.4l-3.1 2z"/><path color="#15a7cc" d="M96.5 360.3l3.2-1.9l-2.4-2.6l-3.2 1.8z"/><path color="#169fd1" d="M93.4 361.7l3.1-1.4l-2.4-2.7l-3.2 1.3z"/><path color="#14a2d0" d="M90.2 362.4l3.2-0.7l-2.5-2.8l-3.1 0.9z"/><path color="#15acc6" d="M87 362.6l3.2-0.2l-2.4-2.6l-3.2 0.5z"/><path color="#2eb8b0" d="M83.9 362.6l3.1 0l-2.4-2.3l-3.2 0.3z"/><path color="#62c091" d="M80.7 362.7l3.2-0.1l-2.5-2l-3.1 0.3z"/><path color="#98c279" d="M77.5 362.9l3.2-0.2l-2.4-1.8l-3.2 0.3z"/><path color="#bdc06b" d="M74.4 363.3l3.1-0.4l-2.4-1.7l-3.2 0.6z"/><path color="#d6c065" d="M71.2 364l3.2-0.7l-2.5-1.5l-3.1 0.7z"/><path color="#e5ca7c" d="M68 366.1l3.2-2.1l-2.4-1.5l-3.2 1.6z"/><path color="#dfc979" d="M168.7 329.8l3.1 0l-2.4-1.9l-3.2 0z"/><path color="#e0c166" d="M165.5 331.4l3.2-1.6l-2.5-1.9l-3.1 1.5z"/><path color="#d4be61" d="M162.3 332.9l3.2-1.5l-2.4-2l-3.2 1.2z"/><path color="#d1be62" d="M159.2 334.2l3.1-1.3l-2.4-2.3l-3.2 1.1zM156 335.6l3.2-1.4l-2.5-2.5l-3.1 1z"/><path color="#ccbf66" d="M152.8 337.2l3.2-1.6l-2.4-2.9l-3.2 1.4z"/><path color="#bcc474" d="M149.7 339.1l3.1-1.9l-2.4-3.1l-3.2 1.7z"/><path color="#9fc582" d="M146.5 340.9l3.2-1.8l-2.5-3.3l-3.1 1.9z"/><path color="#7ec389" d="M143.3 342.4l3.2-1.5l-2.4-3.2l-3.2 1.6z"/><path color="#72c18a" d="M140.2 343.4l3.1-1l-2.4-3.1l-3.2 1.2z"/><path color="#86c281" d="M137 344l3.2-0.6l-2.5-2.9l-3.1 0.7z"/><path color="#abc172" d="M133.8 344.3l3.2-0.3l-2.4-2.8l-3.2 0.4z"/><path color="#cdbf64" d="M130.6 344.7l3.2-0.4l-2.4-2.7l-3.2 0.6z"/><path color="#e2bd5a" d="M127.5 345.5l3.1-0.8l-2.4-2.5l-3.1 0.9z"/><path color="#e8bd58" d="M124.3 346.6l3.2-1.1l-2.4-2.4l-3.2 1.4z"/><path color="#e0bd5c" d="M121.1 348l3.2-1.4l-2.4-2.1l-3.2 1.6z"/><path color="#d1be62" d="M118 349.6l3.1-1.6l-2.4-1.9l-3.2 1.7z"/><path color="#bac06c" d="M114.8 351.4l3.2-1.8l-2.5-1.8l-3.1 1.8z"/><path color="#97c27a" d="M111.6 353.5l3.2-2.1l-2.4-1.8l-3.2 2z"/><path color="#60c092" d="M108.5 355.9l3.1-2.4l-2.4-1.9l-3.2 2.2z"/><path color="#28b6b5" d="M105.3 358.5l3.2-2.6l-2.5-2.1l-3.1 2.4z"/><path color="#1ba6cf" d="M102.1 361.1l3.2-2.6l-2.4-2.3l-3.2 2.2z"/><path color="#2090d7" d="M99 363.1l3.1-2l-2.4-2.7l-3.2 1.9z"/><path color="#1d84da" d="M95.8 364.5l3.2-1.4l-2.5-2.8l-3.1 1.4z"/><path color="#1e88d8" d="M92.6 365.1l3.2-0.6l-2.4-2.8l-3.2 0.7z"/><path color="#189ad3" d="M89.5 365l3.2 0.1l-2.4-2.7l-3.2 0.2z"/><path color="#1ab0c1" d="M86.3 364.8l3.1 0.2l-2.4-2.4l-3.1 0z"/><path color="#4cbd9d" d="M83.1 364.5l3.2 0.3l-2.4-2.2l-3.2 0.1z"/><path color="#8ec27e" d="M79.9 364.6l3.2-0.1l-2.4-1.8l-3.2 0.2z"/><path color="#bac06c" d="M76.8 364.9l3.1-0.3l-2.4-1.7l-3.1 0.4z"/><path color="#d8c269" d="M73.6 365.6l3.2-0.7l-2.4-1.6l-3.2 0.7z"/><path color="#ddca7e" d="M70.4 368l3.2-2.4l-2.4-1.6l-3.2 2.1z"/><path color="#cac779" d="M171.1 331.5l3.2-0.1l-2.5-1.6l-3.1 0z"/><path color="#d7c572" d="M167.9 333.2l3.2-1.7l-2.4-1.7l-3.2 1.6z"/><path color="#c0c06a" d="M164.8 334.9l3.1-1.7l-2.4-1.8l-3.2 1.5z"/><path color="#b1c16f" d="M161.6 336.5l3.2-1.6l-2.5-2l-3.1 1.3z"/><path color="#a2c275" d="M158.4 338.3l3.2-1.8l-2.4-2.3l-3.2 1.4z"/><path color="#8cc382" d="M155.2 340.2l3.2-1.9l-2.4-2.7l-3.2 1.6z"/><path color="#6dc498" d="M152.1 342.3l3.1-2.1l-2.4-3l-3.1 1.9z"/><path color="#48beab" d="M148.9 344.1l3.2-1.8l-2.4-3.2l-3.2 1.8z"/><path color="#2cb7b4" d="M145.7 345.5l3.2-1.4l-2.4-3.2l-3.2 1.5z"/><path color="#29b6b3" d="M142.6 346.3l3.1-0.8l-2.4-3.1l-3.1 1z"/><path color="#40bba4" d="M139.4 346.7l3.2-0.4l-2.4-2.9l-3.2 0.6z"/><path color="#6ec18c" d="M136.2 346.9l3.2-0.2l-2.4-2.7l-3.2 0.3z"/><path color="#9fc277" d="M133.1 347.1l3.1-0.2l-2.4-2.6l-3.2 0.4z"/><path color="#bfc06a" d="M129.9 347.7l3.2-0.6l-2.5-2.4l-3.1 0.8z"/><path color="#cfbf63" d="M126.7 348.6l3.2-0.9l-2.4-2.2l-3.2 1.1z"/><path color="#d2be62" d="M123.6 349.7l3.1-1.1l-2.4-2l-3.2 1.4z"/><path color="#c9bf66" d="M120.4 351.2l3.2-1.5l-2.5-1.7l-3.1 1.6z"/><path color="#b4c16e" d="M117.2 353l3.2-1.8l-2.4-1.6l-3.2 1.8z"/><path color="#8ec27e" d="M114.1 355.2l3.1-2.2l-2.4-1.6l-3.2 2.1z"/><path color="#4ebe9c" d="M110.9 357.8l3.2-2.6l-2.5-1.7l-3.1 2.4z"/><path color="#19afc2" d="M107.7 360.6l3.2-2.8l-2.4-1.9l-3.2 2.6z"/><path color="#1c94d5" d="M104.5 363.3l3.2-2.7l-2.4-2.1l-3.2 2.6z"/><path color="#177adf" d="M101.4 365.5l3.1-2.2l-2.4-2.2l-3.1 2z"/><path color="#136de1" d="M98.2 366.8l3.2-1.3l-2.4-2.4l-3.2 1.4z"/><path color="#1373e1" d="M95 367.3l3.2-0.5l-2.4-2.3l-3.2 0.6z"/><path color="#1d88d8" d="M91.9 367.2l3.1 0.1l-2.4-2.2l-3.2-0.1z"/><path color="#14a7cb" d="M88.7 366.7l3.2 0.5l-2.5-2.2l-3.1-0.2z"/><path color="#3abaa8" d="M85.5 366.3l3.2 0.4l-2.4-1.9l-3.2-0.3z"/><path color="#84c282" d="M82.4 366.2l3.1 0.1l-2.4-1.8l-3.2 0.1z"/><path color="#b8c16d" d="M79.2 366.5l3.2-0.3l-2.5-1.6l-3.1 0.3z"/><path color="#dbc571" d="M76 367.1l3.2-0.6l-2.4-1.6l-3.2 0.7z"/><path color="#cdc87c" d="M72.9 369.6l3.1-2.5l-2.4-1.5l-3.2 2.4z"/><path color="#b6c373" d="M173.5 333.7l3.2-0.7l-2.4-1.6l-3.2 0.1z"/><path color="#d5c97e" d="M170.3 334.8l3.2-1.1l-2.4-2.2l-3.2 1.7z"/><path color="#b8c16f" d="M167.2 336.6l3.1-1.8l-2.4-1.6l-3.1 1.7z"/><path color="#9cc278" d="M164 338.5l3.2-1.9l-2.4-1.7l-3.2 1.6z"/><path color="#79c287" d="M160.8 340.6l3.2-2.1l-2.4-2l-3.2 1.8z"/><path color="#4cbe9e" d="M157.7 342.8l3.1-2.2l-2.4-2.3l-3.2 1.9z"/><path color="#28b6b9" d="M154.5 345l3.2-2.2l-2.5-2.6l-3.1 2.1z"/><path color="#17abca" d="M151.3 346.9l3.2-1.9l-2.4-2.7l-3.2 1.8z"/><path color="#14a3cf" d="M148.2 348.2l3.1-1.3l-2.4-2.8l-3.2 1.4z"/><path color="#13a6ce" d="M145 348.9l3.2-0.7l-2.5-2.7l-3.1 0.8z"/><path color="#19b0c1" d="M141.8 349.1l3.2-0.2l-2.4-2.6l-3.2 0.4z"/><path color="#3dbba6" d="M138.7 349.1l3.1 0l-2.4-2.4l-3.2 0.2z"/><path color="#77c288" d="M135.5 349.2l3.2-0.1l-2.5-2.2l-3.1 0.2z"/><path color="#a6c174" d="M132.3 349.6l3.2-0.4l-2.4-2.1l-3.2 0.6z"/><path color="#c0c069" d="M129.2 350.2l3.1-0.6l-2.4-1.9l-3.2 0.9z"/><path color="#cbbf65" d="M126 351.3l3.2-1.1l-2.5-1.6l-3.1 1.1z"/><path color="#c7bf66" d="M122.8 352.7l3.2-1.4l-2.4-1.6l-3.2 1.5z"/><path color="#b5c16e" d="M119.6 354.5l3.2-1.8l-2.4-1.5l-3.2 1.8z"/><path color="#8ec27d" d="M116.5 356.7l3.1-2.2l-2.4-1.5l-3.1 2.2z"/><path color="#4bbd9e" d="M113.3 359.3l3.2-2.6l-2.4-1.5l-3.2 2.6z"/><path color="#17acc5" d="M110.1 362.1l3.2-2.8l-2.4-1.5l-3.2 2.8z"/><path color="#1c8dd7" d="M107 364.8l3.1-2.7l-2.4-1.5l-3.2 2.7z"/><path color="#1371e1" d="M103.8 367.1l3.2-2.3l-2.5-1.5l-3.1 2.2z"/><path color="#265ed9" d="M100.6 368.4l3.2-1.3l-2.4-1.6l-3.2 1.3z"/><path color="#1768e0" d="M97.5 368.9l3.1-0.5l-2.4-1.6l-3.2 0.5z"/><path color="#1b81db" d="M94.3 368.7l3.2 0.2l-2.5-1.6l-3.1-0.1z"/><path color="#15a2ce" d="M91.1 368.2l3.2 0.5l-2.4-1.5l-3.2-0.5z"/><path color="#36b9ab" d="M88 367.8l3.1 0.4l-2.4-1.5l-3.2-0.4z"/><path color="#83c282" d="M84.8 367.7l3.2 0.1l-2.5-1.5l-3.1-0.1z"/><path color="#bac16e" d="M81.6 368l3.2-0.3l-2.4-1.5l-3.2 0.3z"/><path color="#dec97b" d="M78.5 369.4l3.2-1.4l-2.4-1.5l-3.2 0.6z"/><path color="#b9c476" d="M75.3 371.2l3.1-1.8l-2.4-2.3l-3.1 2.5z"/><path color="#a9c06e" d="M175.9 335.7l3.2-1.2l-2.4-1.5l-3.2 0.7z"/><path color="#cfca80" d="M172.8 336.2l3.1-0.5l-2.4-2l-3.2 1.1z"/><path color="#bdc476" d="M169.6 338l3.2-1.8l-2.5-1.4l-3.1 1.8z"/><path color="#96c27a" d="M166.4 340.1l3.2-2.1l-2.4-1.4l-3.2 1.9z"/><path color="#64c190" d="M163.3 342.4l3.1-2.3l-2.4-1.6l-3.2 2.1z"/><path color="#2eb8af" d="M160.1 344.8l3.2-2.4l-2.5-1.8l-3.1 2.2z"/><path color="#14aac9" d="M156.9 347.1l3.2-2.3l-2.4-2l-3.2 2.2z"/><path color="#1899d4" d="M153.8 349l3.1-1.9l-2.4-2.1l-3.2 1.9z"/><path color="#1e8fd5" d="M150.6 350.2l3.2-1.2l-2.5-2.1l-3.1 1.3z"/><path color="#1b95d4" d="M147.4 350.9l3.2-0.7l-2.4-2l-3.2 0.7z"/><path color="#13a6cd" d="M144.2 351l3.2-0.1l-2.4-2l-3.2 0.2z"/><path color="#27b6b4" d="M141.1 350.9l3.1 0.1l-2.4-1.9l-3.1 0z"/><path color="#61c092" d="M137.9 350.9l3.2 0l-2.4-1.8l-3.2 0.1z"/><path color="#9ac278" d="M134.7 351.1l3.2-0.2l-2.4-1.7l-3.2 0.4z"/><path color="#bcc06b" d="M131.6 351.7l3.1-0.6l-2.4-1.5l-3.1 0.6z"/><path color="#ccbf64" d="M128.4 352.7l3.2-1l-2.4-1.5l-3.2 1.1z"/><path color="#cdbf64" d="M125.2 354l3.2-1.3l-2.4-1.4l-3.2 1.4z"/><path color="#bec06a" d="M122.1 355.7l3.1-1.7l-2.4-1.3l-3.2 1.8z"/><path color="#9ac278" d="M118.9 357.8l3.2-2.1l-2.5-1.2l-3.1 2.2z"/><path color="#59bf96" d="M115.7 360.3l3.2-2.5l-2.4-1.1l-3.2 2.6z"/><path color="#1cb1be" d="M112.6 363.1l3.1-2.8l-2.4-1l-3.2 2.8z"/><path color="#1a95d4" d="M109.4 365.7l3.2-2.6l-2.5-1l-3.1 2.7z"/><path color="#177ade" d="M106.2 367.8l3.2-2.1l-2.4-0.9l-3.2 2.3z"/><path color="#146ce1" d="M103.1 369.2l3.1-1.4l-2.4-0.7l-3.2 1.3z"/><path color="#1373e1" d="M99.9 369.7l3.2-0.5l-2.5-0.8l-3.1 0.5z"/><path color="#1d88d8" d="M96.7 369.6l3.2 0.1l-2.4-0.8l-3.2-0.2z"/><path color="#15a8ca" d="M93.5 369.3l3.2 0.3l-2.4-0.9l-3.2-0.5z"/><path color="#41bba4" d="M90.4 369l3.1 0.3l-2.4-1.1l-3.1-0.4z"/><path color="#8dc27e" d="M87.2 369l3.2 0l-2.4-1.2l-3.2-0.1z"/><path color="#c3c473" d="M84 369.4l3.2-0.4l-2.4-1.3l-3.2 0.3z"/><path color="#d7cb81" d="M80.9 371.5l3.1-2.1l-2.4-1.4l-3.2 1.4z"/><path color="#a9c06e" d="M77.7 372.7l3.2-1.2l-2.5-2.1l-3.1 1.8z"/><path color="#a6be6b" d="M178.4 337.3l3.1-1.2l-2.4-1.6l-3.2 1.2z"/><path color="#bac577" d="M175.2 338l3.2-0.7l-2.5-1.6l-3.1 0.5z"/><path color="#cbca80" d="M172 339.3l3.2-1.3l-2.4-1.8l-3.2 1.8z"/><path color="#a0c379" d="M168.9 341.4l3.1-2.1l-2.4-1.3l-3.2 2.1z"/><path color="#67c18f" d="M165.7 343.8l3.2-2.4l-2.5-1.3l-3.1 2.3z"/><path color="#2cb7b1" d="M162.5 346.2l3.2-2.4l-2.4-1.4l-3.2 2.4z"/><path color="#13a8cc" d="M159.3 348.5l3.2-2.3l-2.4-1.4l-3.2 2.3z"/><path color="#1b95d4" d="M156.2 350.4l3.1-1.9l-2.4-1.4l-3.1 1.9z"/><path color="#208cd6" d="M153 351.6l3.2-1.2l-2.4-1.4l-3.2 1.2z"/><path color="#1d92d5" d="M149.8 352.2l3.2-0.6l-2.4-1.4l-3.2 0.7z"/><path color="#13a5ce" d="M146.7 352.3l3.1-0.1l-2.4-1.3l-3.2 0.1z"/><path color="#26b5b5" d="M143.5 352.3l3.2 0l-2.5-1.3l-3.1-0.1z"/><path color="#62c092" d="M140.3 352.2l3.2 0.1l-2.4-1.4l-3.2 0z"/><path color="#9ec277" d="M137.2 352.5l3.1-0.3l-2.4-1.3l-3.2 0.2z"/><path color="#c3c068" d="M134 353l3.2-0.5l-2.5-1.4l-3.1 0.6z"/><path color="#d5be60" d="M130.8 353.9l3.2-0.9l-2.4-1.3l-3.2 1z"/><path color="#d9be5f" d="M127.7 355.2l3.1-1.3l-2.4-1.2l-3.2 1.3z"/><path color="#cebf64" d="M124.5 356.8l3.2-1.6l-2.5-1.2l-3.1 1.7z"/><path color="#b0c170" d="M121.3 358.8l3.2-2l-2.4-1.1l-3.2 2.1z"/><path color="#7ac186" d="M118.2 361.1l3.1-2.3l-2.4-1l-3.2 2.5z"/><path color="#35b9ab" d="M115 363.6l3.2-2.5l-2.5-0.8l-3.1 2.8z"/><path color="#15a7ca" d="M111.8 365.9l3.2-2.3l-2.4-0.5l-3.2 2.6z"/><path color="#1b91d5" d="M108.6 367.9l3.2-2l-2.4-0.2l-3.2 2.1z"/><path color="#1d86d9" d="M105.5 369.3l3.1-1.4l-2.4-0.1l-3.1 1.4z"/><path color="#1d8ad8" d="M102.3 369.9l3.2-0.6l-2.4-0.1l-3.2 0.5z"/><path color="#169ed1" d="M99.1 370.1l3.2-0.2l-2.4-0.2l-3.2-0.1z"/><path color="#21b3ba" d="M96 370l3.1 0.1l-2.4-0.5l-3.2-0.3z"/><path color="#5fc093" d="M92.8 370l3.2 0l-2.5-0.7l-3.1-0.3z"/><path color="#a2c278" d="M89.6 370.2l3.2-0.2l-2.4-1l-3.2 0z"/><path color="#d1c97e" d="M86.5 371.3l3.1-1.1l-2.4-1.2l-3.2 0.4z"/><path color="#bec679" d="M83.3 373.1l3.2-1.8l-2.5-1.9l-3.1 2.1z"/><path color="#a6be6b" d="M80.1 374.3l3.2-1.2l-2.4-1.6l-3.2 1.2z"/><path color="#a5be6b" d="M180.8 338.9l3.1-1.2l-2.4-1.6l-3.1 1.2z"/><path color="#a9c06e" d="M177.6 340l3.2-1.1l-2.4-1.6l-3.2 0.7z"/><path color="#c9ca81" d="M174.4 340.6l3.2-0.6l-2.4-2l-3.2 1.3z"/><path color="#b4c77e" d="M171.3 342.6l3.1-2l-2.4-1.3l-3.1 2.1z"/><path color="#7bc286" d="M168.1 344.8l3.2-2.2l-2.4-1.2l-3.2 2.4z"/><path color="#3cbba6" d="M164.9 347.1l3.2-2.3l-2.4-1l-3.2 2.4z"/><path color="#17aec3" d="M161.8 349.3l3.1-2.2l-2.4-0.9l-3.2 2.3z"/><path color="#15a0d1" d="M158.6 351.1l3.2-1.8l-2.5-0.8l-3.1 1.9z"/><path color="#1999d4" d="M155.4 352.3l3.2-1.2l-2.4-0.7l-3.2 1.2z"/><path color="#159fd2" d="M152.3 353l3.1-0.7l-2.4-0.7l-3.2 0.6z"/><path color="#15acc6" d="M149.1 353.2l3.2-0.2l-2.5-0.8l-3.1 0.1z"/><path color="#36baaa" d="M145.9 353.3l3.2-0.1l-2.4-0.9l-3.2 0z"/><path color="#76c188" d="M142.8 353.4l3.1-0.1l-2.4-1l-3.2-0.1z"/><path color="#adc171" d="M139.6 353.7l3.2-0.3l-2.5-1.2l-3.1 0.3z"/><path color="#cfbf63" d="M136.4 354.2l3.2-0.5l-2.4-1.2l-3.2 0.5z"/><path color="#e3bd5b" d="M133.2 355.1l3.2-0.9l-2.4-1.2l-3.2 0.9z"/><path color="#e8bd58" d="M130.1 356.3l3.1-1.2l-2.4-1.2l-3.1 1.3z"/><path color="#e0bd5c" d="M126.9 357.8l3.2-1.5l-2.4-1.1l-3.2 1.6z"/><path color="#c9bf65" d="M123.7 359.7l3.2-1.9l-2.4-1l-3.2 2z"/><path color="#a3c175" d="M120.6 361.7l3.1-2l-2.4-0.9l-3.1 2.3z"/><path color="#69c08e" d="M117.4 363.9l3.2-2.2l-2.4-0.6l-3.2 2.5z"/><path color="#32b8ae" d="M114.2 366l3.2-2.1l-2.4-0.3l-3.2 2.3z"/><path color="#19aec3" d="M111.1 367.8l3.1-1.8l-2.4-0.1l-3.2 2z"/><path color="#15a7ca" d="M107.9 369.1l3.2-1.3l-2.5 0.1l-3.1 1.4z"/><path color="#16aac8" d="M104.7 369.9l3.2-0.8l-2.4 0.2l-3.2 0.6z"/><path color="#23b4b8" d="M101.6 370.3l3.1-0.4l-2.4 0l-3.2 0.2z"/><path color="#4ebe9c" d="M98.4 370.6l3.2-0.3l-2.5-0.2l-3.1-0.1z"/><path color="#8ac280" d="M95.2 370.9l3.2-0.3l-2.4-0.6l-3.2 0z"/><path color="#bec67a" d="M92.1 371.4l3.1-0.5l-2.4-0.9l-3.2 0.2z"/><path color="#d0cb82" d="M88.9 373.5l3.2-2.1l-2.5-1.2l-3.1 1.1z"/><path color="#a9c06e" d="M85.7 374.7l3.2-1.2l-2.4-2.2l-3.2 1.8z"/><path color="#a5be6b" d="M82.5 375.9l3.2-1.2l-2.4-1.6l-3.2 1.2zM183.2 340.4l3.2-1.2l-2.5-1.5l-3.1 1.2z"/><path color="#a6be6b" d="M180 341.6l3.2-1.2l-2.4-1.5l-3.2 1.1z"/><path color="#b0c273" d="M176.9 342.8l3.1-1.2l-2.4-1.6l-3.2 0.6z"/><path color="#c7cc86" d="M173.7 343.7l3.2-0.9l-2.5-2.2l-3.1 2z"/><path color="#9cc581" d="M170.5 345.7l3.2-2l-2.4-1.1l-3.2 2.2z"/><path color="#61c092" d="M167.4 347.8l3.1-2.1l-2.4-0.9l-3.2 2.3z"/><path color="#30b8ae" d="M164.2 349.8l3.2-2l-2.5-0.7l-3.1 2.2z"/><path color="#1ab0c0" d="M161 351.4l3.2-1.6l-2.4-0.5l-3.2 1.8z"/><path color="#15acc6" d="M157.9 352.7l3.1-1.3l-2.4-0.3l-3.2 1.2z"/><path color="#18afc1" d="M154.7 353.4l3.2-0.7l-2.5-0.4l-3.1 0.7z"/><path color="#2cb7b1" d="M151.5 353.8l3.2-0.4l-2.4-0.4l-3.2 0.2z"/><path color="#5bbf95" d="M148.3 354.1l3.2-0.3l-2.4-0.6l-3.2 0.1z"/><path color="#95c27b" d="M145.2 354.4l3.1-0.3l-2.4-0.8l-3.1 0.1z"/><path color="#c1c069" d="M142 354.8l3.2-0.4l-2.4-1l-3.2 0.3z"/><path color="#dfbd5c" d="M138.8 355.4l3.2-0.6l-2.4-1.1l-3.2 0.5z"/><path color="#f1bd53" d="M135.7 356.3l3.1-0.9l-2.4-1.2l-3.2 0.9z"/><path color="#f6be4f" d="M132.5 357.5l3.2-1.2l-2.5-1.2l-3.1 1.2z"/><path color="#f1bd53" d="M129.3 358.9l3.2-1.4l-2.4-1.2l-3.2 1.5z"/><path color="#e1bd5b" d="M126.2 360.6l3.1-1.7l-2.4-1.1l-3.2 1.9z"/><path color="#c6bf67" d="M123 362.4l3.2-1.8l-2.5-0.9l-3.1 2z"/><path color="#a1c176" d="M119.8 364.3l3.2-1.9l-2.4-0.7l-3.2 2.2z"/><path color="#77c188" d="M116.7 366.1l3.1-1.8l-2.4-0.4l-3.2 2.1z"/><path color="#53be9a" d="M113.5 367.7l3.2-1.6l-2.5-0.1l-3.1 1.8z"/><path color="#44bca2" d="M110.3 369l3.2-1.3l-2.4 0.1l-3.2 1.3z"/><path color="#4abd9f" d="M107.2 370l3.1-1l-2.4 0.1l-3.2 0.8z"/><path color="#64c091" d="M104 370.6l3.2-0.6l-2.5-0.1l-3.1 0.4z"/><path color="#8cc27f" d="M100.8 371.2l3.2-0.6l-2.4-0.3l-3.2 0.3z"/><path color="#b5c477" d="M97.6 371.8l3.2-0.6l-2.4-0.6l-3.2 0.3z"/><path color="#d3cb83" d="M94.5 373.8l3.1-2l-2.4-0.9l-3.1 0.5z"/><path color="#b3c374" d="M91.3 375l3.2-1.2l-2.4-2.4l-3.2 2.1z"/><path color="#a6be6b" d="M88.1 376.2l3.2-1.2l-2.4-1.5l-3.2 1.2z"/><path color="#a5be6b" d="M85 377.4l3.1-1.2l-2.4-1.5l-3.2 1.2zM185.6 342l3.2-1.2l-2.4-1.6l-3.2 1.2zM182.5 343.2l3.1-1.2l-2.4-1.6l-3.2 1.2z"/><path color="#a6bf6c" d="M179.3 344.4l3.2-1.2l-2.5-1.6l-3.1 1.2z"/><path color="#b7c578" d="M176.1 345.4l3.2-1l-2.4-1.6l-3.2 0.9z"/><path color="#bfcc88" d="M172.9 346.5l3.2-1.1l-2.4-1.7l-3.2 2z"/><path color="#93c583" d="M169.8 348.4l3.1-1.9l-2.4-0.8l-3.1 2.1z"/><path color="#66c190" d="M166.6 350.1l3.2-1.7l-2.4-0.6l-3.2 2z"/><path color="#48bda0" d="M163.4 351.7l3.2-1.6l-2.4-0.3l-3.2 1.6z"/><path color="#3dbba6" d="M160.3 352.9l3.1-1.2l-2.4-0.3l-3.1 1.3z"/><path color="#46bda1" d="M157.1 353.8l3.2-0.9l-2.4-0.2l-3.2 0.7z"/><path color="#62c092" d="M153.9 354.4l3.2-0.6l-2.4-0.4l-3.2 0.4z"/><path color="#8cc27e" d="M150.8 354.9l3.1-0.5l-2.4-0.6l-3.2 0.3z"/><path color="#b5c16e" d="M147.6 355.4l3.2-0.5l-2.5-0.8l-3.1 0.3z"/><path color="#d5be60" d="M144.4 356l3.2-0.6l-2.4-1l-3.2 0.4z"/><path color="#edbd55" d="M141.3 356.7l3.1-0.7l-2.4-1.2l-3.2 0.6z"/><path color="#fbc04a" d="M138.1 357.7l3.2-1l-2.5-1.3l-3.1 0.9z"/><path color="#fec345" d="M134.9 358.8l3.2-1.1l-2.4-1.4l-3.2 1.2z"/><path color="#fcc148" d="M131.8 360.2l3.1-1.4l-2.4-1.3l-3.2 1.4z"/><path color="#f3bd51" d="M128.6 361.7l3.2-1.5l-2.5-1.3l-3.1 1.7z"/><path color="#e1bd5b" d="M125.4 363.3l3.2-1.6l-2.4-1.1l-3.2 1.8z"/><path color="#cabf65" d="M122.2 365l3.2-1.7l-2.4-0.9l-3.2 1.9z"/><path color="#b2c16f" d="M119.1 366.6l3.1-1.6l-2.4-0.7l-3.1 1.8z"/><path color="#9dc277" d="M115.9 368l3.2-1.4l-2.4-0.5l-3.2 1.6z"/><path color="#93c27b" d="M112.7 369.3l3.2-1.3l-2.4-0.3l-3.2 1.3z"/><path color="#97c27a" d="M109.6 370.3l3.1-1l-2.4-0.3l-3.1 1z"/><path color="#a6c174" d="M106.4 371.2l3.2-0.9l-2.4-0.3l-3.2 0.6z"/><path color="#bdc372" d="M103.2 372l3.2-0.8l-2.4-0.6l-3.2 0.6z"/><path color="#d6cb81" d="M100.1 373.9l3.1-1.9l-2.4-0.8l-3.2 0.6z"/><path color="#bdc67a" d="M96.9 375.4l3.2-1.5l-2.5-2.1l-3.1 2z"/><path color="#a6bf6c" d="M93.7 376.6l3.2-1.2l-2.4-1.6l-3.2 1.2z"/><path color="#a5be6b" d="M90.6 377.8l3.1-1.2l-2.4-1.6l-3.2 1.2zM87.4 379l3.2-1.2l-2.5-1.6l-3.1 1.2zM188 343.5l3.2-1.2l-2.4-1.5l-3.2 1.2zM184.9 344.7l3.1-1.2l-2.4-1.5l-3.1 1.2zM181.7 345.9l3.2-1.2l-2.4-1.5l-3.2 1.2z"/><path color="#a7bf6c" d="M178.5 347.1l3.2-1.2l-2.4-1.5l-3.2 1z"/><path color="#b9c67b" d="M175.4 348.1l3.1-1l-2.4-1.7l-3.2 1.1z"/><path color="#c1cc87" d="M172.2 349.1l3.2-1l-2.5-1.6l-3.1 1.9z"/><path color="#a3c57e" d="M169 350.7l3.2-1.6l-2.4-0.7l-3.2 1.7z"/><path color="#8bc27f" d="M165.9 352.1l3.1-1.4l-2.4-0.6l-3.2 1.6z"/><path color="#82c283" d="M162.7 353.3l3.2-1.2l-2.5-0.4l-3.1 1.2z"/><path color="#89c280" d="M159.5 354.3l3.2-1l-2.4-0.4l-3.2 0.9z"/><path color="#9cc278" d="M156.4 355.1l3.1-0.8l-2.4-0.5l-3.2 0.6z"/><path color="#b6c16d" d="M153.2 355.8l3.2-0.7l-2.5-0.7l-3.1 0.5z"/><path color="#d0bf63" d="M150 356.5l3.2-0.7l-2.4-0.9l-3.2 0.5z"/><path color="#e7bd58" d="M146.8 357.2l3.2-0.7l-2.4-1.1l-3.2 0.6z"/><path color="#f8bf4d" d="M143.7 358.1l3.1-0.9l-2.4-1.2l-3.1 0.7z"/><path color="#fec443" d="M140.5 359.1l3.2-1l-2.4-1.4l-3.2 1z"/><path color="#fec840" d="M137.3 360.2l3.2-1.1l-2.4-1.4l-3.2 1.1z"/><path color="#fec641" d="M134.2 361.5l3.1-1.3l-2.4-1.4l-3.1 1.4z"/><path color="#fdc147" d="M131 362.9l3.2-1.4l-2.4-1.3l-3.2 1.5z"/><path color="#f3bd51" d="M127.8 364.4l3.2-1.5l-2.4-1.2l-3.2 1.6z"/><path color="#e5bd59" d="M124.7 365.9l3.1-1.5l-2.4-1.1l-3.2 1.7z"/><path color="#d6be60" d="M121.5 367.4l3.2-1.5l-2.5-0.9l-3.1 1.6z"/><path color="#cbbf65" d="M118.3 368.7l3.2-1.3l-2.4-0.8l-3.2 1.4z"/><path color="#c6bf67" d="M115.2 370l3.1-1.3l-2.4-0.7l-3.2 1.3z"/><path color="#c7c067" d="M112 371.1l3.2-1.1l-2.5-0.7l-3.1 1z"/><path color="#d1c26c" d="M108.8 372.1l3.2-1l-2.4-0.8l-3.2 0.9z"/><path color="#decb7f" d="M105.7 374.3l3.1-2.2l-2.4-0.9l-3.2 0.8z"/><path color="#c3c87d" d="M102.5 375.8l3.2-1.5l-2.5-2.3l-3.1 1.9z"/><path color="#a7bf6c" d="M99.3 377l3.2-1.2l-2.4-1.9l-3.2 1.5z"/><path color="#a5be6b" d="M96.2 378.2l3.1-1.2l-2.4-1.6l-3.2 1.2zM93 379.4l3.2-1.2l-2.5-1.6l-3.1 1.2zM89.8 380.5l3.2-1.1l-2.4-1.6l-3.2 1.2zM190.5 345.1l3.1-1.2l-2.4-1.6l-3.2 1.2zM187.3 346.3l3.2-1.2l-2.5-1.6l-3.1 1.2zM184.1 347.5l3.2-1.2l-2.4-1.6l-3.2 1.2zM181 348.7l3.1-1.2l-2.4-1.6l-3.2 1.2z"/><path color="#a7bf6c" d="M177.8 349.9l3.2-1.2l-2.5-1.6l-3.1 1z"/><path color="#b8c578" d="M174.6 351l3.2-1.1l-2.4-1.8l-3.2 1z"/><path color="#cccb84" d="M171.5 351.4l3.1-0.4l-2.4-1.9l-3.2 1.6z"/><path color="#c0c679" d="M168.3 352.7l3.2-1.3l-2.5-0.7l-3.1 1.4z"/><path color="#b7c16f" d="M165.1 353.9l3.2-1.2l-2.4-0.6l-3.2 1.2z"/><path color="#bac06c" d="M161.9 355l3.2-1.1l-2.4-0.6l-3.2 1z"/><path color="#c4bf68" d="M158.8 356l3.1-1l-2.4-0.7l-3.1 0.8z"/><path color="#d3be61" d="M155.6 356.8l3.2-0.8l-2.4-0.9l-3.2 0.7z"/><path color="#e4bd5a" d="M152.4 357.7l3.2-0.9l-2.4-1l-3.2 0.7z"/><path color="#f3bd51" d="M149.3 358.6l3.1-0.9l-2.4-1.2l-3.2 0.7z"/><path color="#fdc247" d="M146.1 359.5l3.2-0.9l-2.5-1.4l-3.1 0.9z"/><path color="#fec740" d="M142.9 360.6l3.2-1.1l-2.4-1.4l-3.2 1z"/><path color="#feca3e" d="M139.8 361.7l3.1-1.1l-2.4-1.5l-3.2 1.1z"/><path color="#fec93e" d="M136.6 363l3.2-1.3l-2.5-1.5l-3.1 1.3z"/><path color="#fec642" d="M133.4 364.4l3.2-1.4l-2.4-1.5l-3.2 1.4z"/><path color="#fcc149" d="M130.3 365.7l3.1-1.3l-2.4-1.5l-3.2 1.5z"/><path color="#f5bd50" d="M127.1 367.1l3.2-1.4l-2.5-1.3l-3.1 1.5z"/><path color="#ecbd56" d="M123.9 368.5l3.2-1.4l-2.4-1.2l-3.2 1.5z"/><path color="#e6bd59" d="M120.8 369.8l3.1-1.3l-2.4-1.1l-3.2 1.3z"/><path color="#e3be5d" d="M117.6 371l3.2-1.2l-2.5-1.1l-3.1 1.3z"/><path color="#e6c369" d="M114.4 372.2l3.2-1.2l-2.4-1l-3.2 1.1z"/><path color="#e7cc80" d="M111.2 374.9l3.2-2.7l-2.4-1.1l-3.2 1z"/><path color="#c1c77c" d="M108.1 376.1l3.1-1.2l-2.4-2.8l-3.1 2.2z"/><path color="#a7bf6c" d="M104.9 377.3l3.2-1.2l-2.4-1.8l-3.2 1.5z"/><path color="#a5be6b" d="M101.7 378.5l3.2-1.2l-2.4-1.5l-3.2 1.2zM98.6 379.7l3.1-1.2l-2.4-1.5l-3.1 1.2zM95.4 380.9l3.2-1.2l-2.4-1.5l-3.2 1.2zM92.2 382.1l3.2-1.2l-2.4-1.5l-3.2 1.1zM192.9 346.7l3.2-1.2l-2.5-1.6l-3.1 1.2zM189.7 347.9l3.2-1.2l-2.4-1.6l-3.2 1.2zM186.6 349.1l3.1-1.2l-2.4-1.6l-3.2 1.2zM183.4 350.2l3.2-1.1l-2.5-1.6l-3.1 1.2zM180.2 351.4l3.2-1.2l-2.4-1.5l-3.2 1.2z"/><path color="#a6bf6c" d="M177 352.6l3.2-1.2l-2.4-1.5l-3.2 1.1z"/><path color="#b1c272" d="M173.9 353.8l3.1-1.2l-2.4-1.6l-3.1 0.4z"/><path color="#d0c97e" d="M170.7 354.3l3.2-0.5l-2.4-2.4l-3.2 1.3z"/><path color="#dcc879" d="M167.5 354.9l3.2-0.6l-2.4-1.6l-3.2 1.2z"/><path color="#dbc269" d="M164.4 356l3.1-1.1l-2.4-1l-3.2 1.1z"/><path color="#dfbe5f" d="M161.2 357l3.2-1l-2.5-1l-3.1 1z"/><path color="#e8bd59" d="M158 358.1l3.2-1.1l-2.4-1l-3.2 0.8z"/><path color="#f2bd52" d="M154.9 359l3.1-0.9l-2.4-1.3l-3.2 0.9z"/><path color="#fabf4b" d="M151.7 360l3.2-1l-2.5-1.3l-3.1 0.9z"/><path color="#fec444" d="M148.5 361.1l3.2-1.1l-2.4-1.4l-3.2 0.9z"/><path color="#fec83f" d="M145.4 362.2l3.1-1.1l-2.4-1.6l-3.2 1.1z"/><path color="#feca3d" d="M142.2 363.3l3.2-1.1l-2.5-1.6l-3.1 1.1z"/><path color="#feca3e" d="M139 364.6l3.2-1.3l-2.4-1.6l-3.2 1.3z"/><path color="#ffc740" d="M135.8 365.9l3.2-1.3l-2.4-1.6l-3.2 1.4z"/><path color="#fec444" d="M132.7 367.2l3.1-1.3l-2.4-1.5l-3.1 1.3z"/><path color="#fcc149" d="M129.5 368.5l3.2-1.3l-2.4-1.5l-3.2 1.4z"/><path color="#f8bf50" d="M126.3 369.8l3.2-1.3l-2.4-1.4l-3.2 1.4z"/><path color="#f6c25b" d="M123.2 371l3.1-1.2l-2.4-1.3l-3.1 1.3z"/><path color="#f4c870" d="M120 373.2l3.2-2.2l-2.4-1.2l-3.2 1.2z"/><path color="#e3cd84" d="M116.8 375.3l3.2-2.1l-2.4-2.2l-3.2 1.2z"/><path color="#b7c476" d="M113.7 376.5l3.1-1.2l-2.4-3.1l-3.2 2.7z"/><path color="#a6bf6c" d="M110.5 377.7l3.2-1.2l-2.5-1.6l-3.1 1.2z"/><path color="#a5be6b" d="M107.3 378.9l3.2-1.2l-2.4-1.6l-3.2 1.2zM104.2 380.1l3.1-1.2l-2.4-1.6l-3.2 1.2zM101 381.3l3.2-1.2l-2.5-1.6l-3.1 1.2zM97.8 382.5l3.2-1.2l-2.4-1.6l-3.2 1.2zM94.7 383.7l3.1-1.2l-2.4-1.6l-3.2 1.2zM195.3 348.2l3.2-1.2l-2.4-1.5l-3.2 1.2zM192.1 349.4l3.2-1.2l-2.4-1.5l-3.2 1.2zM189 350.6l3.1-1.2l-2.4-1.5l-3.1 1.2zM185.8 351.8l3.2-1.2l-2.4-1.5l-3.2 1.1zM182.6 353l3.2-1.2l-2.4-1.6l-3.2 1.2zM179.5 354.2l3.1-1.2l-2.4-1.6l-3.2 1.2z"/><path color="#a6be6b" d="M176.3 355.4l3.2-1.2l-2.5-1.6l-3.1 1.2z"/><path color="#a9c06e" d="M173.1 356.6l3.2-1.2l-2.4-1.6l-3.2 0.5z"/><path color="#bfc475" d="M170 357.8l3.1-1.2l-2.4-2.3l-3.2 0.6z"/><path color="#dfc979" d="M166.8 358.2l3.2-0.4l-2.5-2.9l-3.1 1.1z"/><path color="#f0c871" d="M163.6 358.3l3.2-0.1l-2.4-2.2l-3.2 1z"/><path color="#f6c463" d="M160.5 359.4l3.1-1.1l-2.4-1.3l-3.2 1.1z"/><path color="#fac256" d="M157.3 360.5l3.2-1.1l-2.5-1.3l-3.1 0.9z"/><path color="#fdc34c" d="M154.1 361.5l3.2-1l-2.4-1.5l-3.2 1z"/><path color="#fec645" d="M150.9 362.6l3.2-1.1l-2.4-1.5l-3.2 1.1z"/><path color="#fec942" d="M147.8 363.8l3.1-1.2l-2.4-1.5l-3.1 1.1z"/><path color="#feca40" d="M144.6 364.9l3.2-1.1l-2.4-1.6l-3.2 1.1z"/><path color="#feca41" d="M141.4 366.1l3.2-1.2l-2.4-1.6l-3.2 1.3z"/><path color="#fec945" d="M138.3 367.4l3.1-1.3l-2.4-1.5l-3.2 1.3z"/><path color="#ffc94c" d="M135.1 368.7l3.2-1.3l-2.5-1.5l-3.1 1.3z"/><path color="#feca58" d="M131.9 370l3.2-1.3l-2.4-1.5l-3.2 1.3z"/><path color="#fccc6c" d="M128.8 372.4l3.1-2.4l-2.4-1.5l-3.2 1.3z"/><path color="#edcf81" d="M125.6 374.5l3.2-2.1l-2.5-2.6l-3.1 1.2z"/><path color="#c8c97f" d="M122.4 375.7l3.2-1.2l-2.4-3.5l-3.2 2.2z"/><path color="#aac06e" d="M119.3 376.9l3.1-1.2l-2.4-2.5l-3.2 2.1z"/><path color="#a6be6b" d="M116.1 378.1l3.2-1.2l-2.5-1.6l-3.1 1.2z"/><path color="#a5be6b" d="M112.9 379.3l3.2-1.2l-2.4-1.6l-3.2 1.2zM109.8 380.5l3.1-1.2l-2.4-1.6l-3.2 1.2zM106.6 381.7l3.2-1.2l-2.5-1.6l-3.1 1.2zM103.4 382.8l3.2-1.1l-2.4-1.6l-3.2 1.2zM100.2 384l3.2-1.2l-2.4-1.5l-3.2 1.2zM97.1 385.2l3.1-1.2l-2.4-1.5l-3.1 1.2zM197.7 349.8l3.2-1.2l-2.4-1.6l-3.2 1.2zM194.6 351l3.1-1.2l-2.4-1.6l-3.2 1.2zM191.4 352.2l3.2-1.2l-2.5-1.6l-3.1 1.2zM188.2 353.4l3.2-1.2l-2.4-1.6l-3.2 1.2zM185.1 354.6l3.1-1.2l-2.4-1.6l-3.2 1.2zM181.9 355.8l3.2-1.2l-2.5-1.6l-3.1 1.2zM178.7 357l3.2-1.2l-2.4-1.6l-3.2 1.2zM175.6 358.1l3.1-1.2l-2.4-1.6l-3.2 1.2z"/><path color="#a6be6b" d="M172.4 359.3l3.2-1.1l-2.5-1.6l-3.1 1.2z"/><path color="#a9c06e" d="M169.2 360.5l3.2-1.2l-2.4-1.5l-3.2 0.4z"/><path color="#bbc373" d="M166 361.7l3.2-1.2l-2.4-2.3l-3.2 0.1z"/><path color="#d6c877" d="M162.9 362.9l3.1-1.2l-2.4-3.4l-3.1 1.1z"/><path color="#eccc77" d="M159.7 363.7l3.2-0.8l-2.4-3.5l-3.2 1.1z"/><path color="#f8ce70" d="M156.5 364.2l3.2-0.5l-2.4-3.2l-3.2 1z"/><path color="#fdcf69" d="M153.4 364.9l3.1-0.7l-2.4-2.7l-3.2 1.1z"/><path color="#fed064" d="M150.2 366l3.2-1.1l-2.5-2.3l-3.1 1.2z"/><path color="#fed164" d="M147 367.3l3.2-1.3l-2.4-2.2l-3.2 1.1z"/><path color="#fdd26a" d="M143.9 368.9l3.1-1.6l-2.4-2.4l-3.2 1.2z"/><path color="#fad273" d="M140.7 370.8l3.2-1.9l-2.5-2.8l-3.1 1.3z"/><path color="#f0d17d" d="M137.5 372.5l3.2-1.7l-2.4-3.4l-3.2 1.3z"/><path color="#dbcd80" d="M134.4 373.7l3.1-1.2l-2.4-3.8l-3.2 1.3z"/><path color="#bfc77b" d="M131.2 374.9l3.2-1.2l-2.5-3.7l-3.1 2.4z"/><path color="#aac06e" d="M128 376.1l3.2-1.2l-2.4-2.5l-3.2 2.1z"/><path color="#a6be6b" d="M124.8 377.2l3.2-1.1l-2.4-1.6l-3.2 1.2z"/><path color="#a5be6b" d="M121.7 378.4l3.1-1.2l-2.4-1.5l-3.1 1.2zM118.5 379.6l3.2-1.2l-2.4-1.5l-3.2 1.2zM115.3 380.8l3.2-1.2l-2.4-1.5l-3.2 1.2zM112.2 382l3.1-1.2l-2.4-1.5l-3.1 1.2zM109 383.2l3.2-1.2l-2.4-1.5l-3.2 1.2zM105.8 384.4l3.2-1.2l-2.4-1.5l-3.2 1.1zM102.7 385.6l3.1-1.2l-2.4-1.6l-3.2 1.2zM99.5 386.8l3.2-1.2l-2.5-1.6l-3.1 1.2z"/></g><g font-size="7.8" fill="#3c3c3c"><text x="104.0" y="451.4" textLength="3.5" lengthAdjust="spacingAndGlyphs">0</text><text x="91.0" y="450.9" textLength="3.5" lengthAdjust="spacingAndGlyphs">0</text><text x="144.1" y="437.0" textLength="6.9" lengthAdjust="spacingAndGlyphs">50</text><text x="57.3" y="431.4" textLength="6.9" lengthAdjust="spacingAndGlyphs">50</text><text x="183.7" y="422.1" textLength="10.4" lengthAdjust="spacingAndGlyphs">100</text><text x="23.5" y="411.8" textLength="10.4" lengthAdjust="spacingAndGlyphs">100</text><text x="5.8" y="392.2" textLength="10.8" lengthAdjust="spacingAndGlyphs">-0.5</text><text x="13.1" y="338.1" textLength="3.5" lengthAdjust="spacingAndGlyphs">0</text><text x="7.9" y="284.0" textLength="8.7" lengthAdjust="spacingAndGlyphs">0.5</text></g></g><g clip-path="url(#row2b)"><linearGradient id="ge" x1="0" y1="0" x2="0" y2="1"><stop offset="0.000" stop-color="#f9fb0e"/><stop offset="0.048" stop-color="#f5e41d"/><stop offset="0.095" stop-color="#fad32a"/><stop offset="0.143" stop-color="#ffc337"/><stop offset="0.190" stop-color="#f1b94a"/><stop offset="0.238" stop-color="#d9ba56"/><stop offset="0.286" stop-color="#c0bc60"/><stop offset="0.333" stop-color="#a5be6b"/><stop offset="0.381" stop-color="#87bf77"/><stop offset="0.429" stop-color="#65be86"/><stop offset="0.476" stop-color="#42bb98"/><stop offset="0.524" stop-color="#25b5a9"/><stop offset="0.571" stop-color="#0faeb9"/><stop offset="0.619" stop-color="#06a7c6"/><stop offset="0.667" stop-color="#079ccf"/><stop offset="0.714" stop-color="#108ed2"/><stop offset="0.762" stop-color="#1481d6"/><stop offset="0.810" stop-color="#0d75dc"/><stop offset="0.857" stop-color="#0268e1"/><stop offset="0.905" stop-color="#2053d4"/><stop offset="0.952" stop-color="#353dad"/><stop offset="1.000" stop-color="#352a87"/><stop offset="1.000" stop-color="#352a87"/></linearGradient><rect x="221.1" y="242.5" width="12.9" height="197.8" fill="url(#ge)"/><rect x="221.4" y="242.8" width="12.3" height="197.2" fill="none" stroke="#555" stroke-width=".6"/><path d="M234.0 254.8h-2" stroke="#333" stroke-width=".7"/><path d="M234.0 272.8h-2" stroke="#333" stroke-width=".7"/><path d="M234.0 290.6h-2" stroke="#333" stroke-width=".7"/><path d="M234.0 308.3h-2" stroke="#333" stroke-width=".7"/><path d="M234.0 326.1h-2" stroke="#333" stroke-width=".7"/><path d="M234.0 344.0h-2" stroke="#333" stroke-width=".7"/><path d="M234.0 362.0h-2" stroke="#333" stroke-width=".7"/><path d="M234.0 379.7h-2" stroke="#333" stroke-width=".7"/><path d="M234.0 397.7h-2" stroke="#333" stroke-width=".7"/><path d="M234.0 415.4h-2" stroke="#333" stroke-width=".7"/><path d="M234.0 432.8h-2" stroke="#333" stroke-width=".7"/><g font-size="7.2" fill="#444"><text x="236.6" y="257.3" textLength="11.5" lengthAdjust="spacingAndGlyphs">0.03</text><text x="236.6" y="275.3" textLength="11.5" lengthAdjust="spacingAndGlyphs">0.02</text><text x="236.6" y="293.1" textLength="11.5" lengthAdjust="spacingAndGlyphs">0.01</text><text x="236.6" y="310.8" textLength="3.3" lengthAdjust="spacingAndGlyphs">0</text><text x="236.2" y="328.6" textLength="13.5" lengthAdjust="spacingAndGlyphs">-0.01</text><text x="236.2" y="346.5" textLength="13.5" lengthAdjust="spacingAndGlyphs">-0.02</text><text x="236.2" y="364.5" textLength="13.5" lengthAdjust="spacingAndGlyphs">-0.03</text><text x="236.2" y="382.2" textLength="13.5" lengthAdjust="spacingAndGlyphs">-0.04</text><text x="236.2" y="400.2" textLength="13.5" lengthAdjust="spacingAndGlyphs">-0.05</text><text x="236.2" y="417.9" textLength="13.5" lengthAdjust="spacingAndGlyphs">-0.06</text><text x="236.2" y="435.3" textLength="13.5" lengthAdjust="spacingAndGlyphs">-0.07</text></g></g>
<g clip-path="url(#row2)"><g fill="none"><path d="M500.9 402.7L500.9 294.5" stroke="#e4e4e4" stroke-width="1"/><path d="M439.1 426.0L361.6 376.0" stroke="#e4e4e4" stroke-width="0.8"/><path d="M361.6 376.0L361.6 267.8" stroke="#e4e4e4" stroke-width="0.8"/><path d="M369.2 421.4L470.6 383.2" stroke="#e4e4e4" stroke-width="0.8"/><path d="M470.6 383.2L470.6 275.0" stroke="#e4e4e4" stroke-width="0.8"/><path d="M478.7 411.1L401.2 361.1" stroke="#e4e4e4" stroke-width="0.8"/><path d="M401.2 361.1L401.2 252.9" stroke="#e4e4e4" stroke-width="0.8"/><path d="M339.0 401.8L440.4 363.6" stroke="#e4e4e4" stroke-width="0.8"/><path d="M440.4 363.6L440.4 255.4" stroke="#e4e4e4" stroke-width="0.8"/><path d="M322.0 381.9L423.4 343.7" stroke="#e4e4e4" stroke-width="0.8"/><path d="M423.4 343.7L500.9 393.7" stroke="#e4e4e4" stroke-width="0.8"/><path d="M322.0 363.8L423.4 325.6" stroke="#e4e4e4" stroke-width="0.8"/><path d="M423.4 325.6L500.9 375.6" stroke="#e4e4e4" stroke-width="0.8"/><path d="M322.0 345.8L423.4 307.6" stroke="#e4e4e4" stroke-width="0.8"/><path d="M423.4 307.6L500.9 357.6" stroke="#e4e4e4" stroke-width="0.8"/><path d="M322.0 327.8L423.4 289.6" stroke="#e4e4e4" stroke-width="0.8"/><path d="M423.4 289.6L500.9 339.6" stroke="#e4e4e4" stroke-width="0.8"/><path d="M322.0 309.8L423.4 271.6" stroke="#e4e4e4" stroke-width="0.8"/><path d="M423.4 271.6L500.9 321.6" stroke="#e4e4e4" stroke-width="0.8"/><path d="M322.0 291.7L423.4 253.5" stroke="#e4e4e4" stroke-width="0.8"/><path d="M423.4 253.5L500.9 303.5" stroke="#e4e4e4" stroke-width="0.8"/><path d="M322.0 282.4L322.0 391.3" stroke="#b4b4b4" stroke-width="1.3"/><path d="M322.0 390.9L399.5 440.9" stroke="#4a4a4a" stroke-width="1"/><path d="M399.5 440.9L500.9 402.7" stroke="#4a4a4a" stroke-width="1"/><path d="M399.5 440.9L401.1 442.9" stroke="#4a4a4a" stroke-width="0.8"/><path d="M399.5 440.9L397.3 442.3" stroke="#4a4a4a" stroke-width="0.8"/><path d="M439.1 426.0L440.7 428.0" stroke="#4a4a4a" stroke-width="0.8"/><path d="M369.2 421.4L367.0 422.8" stroke="#4a4a4a" stroke-width="0.8"/><path d="M478.7 411.1L480.3 413.1" stroke="#4a4a4a" stroke-width="0.8"/><path d="M339.0 401.8L336.8 403.2" stroke="#4a4a4a" stroke-width="0.8"/><path d="M322.0 381.9L319.6 380.3" stroke="#4a4a4a" stroke-width="0.8"/><path d="M322.0 363.8L319.6 362.2" stroke="#4a4a4a" stroke-width="0.8"/><path d="M322.0 345.8L319.6 344.2" stroke="#4a4a4a" stroke-width="0.8"/><path d="M322.0 327.8L319.6 326.2" stroke="#4a4a4a" stroke-width="0.8"/><path d="M322.0 309.8L319.6 308.1" stroke="#4a4a4a" stroke-width="0.8"/><path d="M322.0 291.7L319.6 290.1" stroke="#4a4a4a" stroke-width="0.8"/></g><g fill="currentColor" stroke="currentColor" stroke-width=".4" stroke-linejoin="round" filter="url(#bl)"><path color="#acbe68" d="M422.5 293l2.3-0.9l-1.8-1.1l-2.4 0.9zM420.1 293.9l2.4-0.9l-1.9-1.1l-2.3 0.9zM417.7 294.8l2.4-0.9l-1.8-1.1l-2.4 0.8zM415.3 295.7l2.4-0.9l-1.8-1.2l-2.4 0.9zM413 296.6l2.3-0.9l-1.8-1.2l-2.4 0.9zM410.6 297.5l2.4-0.9l-1.9-1.2l-2.3 0.9zM408.2 298.4l2.4-0.9l-1.8-1.2l-2.4 0.9zM405.8 299.3l2.4-0.9l-1.8-1.2l-2.4 0.9zM403.5 300.2l2.3-0.9l-1.8-1.2l-2.4 0.9z"/><path color="#adbe6a" d="M401.1 301.1l2.4-0.9l-1.9-1.2l-2.3 0.9z"/><path color="#b0c06e" d="M398.7 301.2l2.4-0.1l-1.8-1.2l-2.4 0.9z"/><path color="#c0cc87" d="M396.3 297.6l2.4 3.6l-1.8-0.4l-2.4 0.9z"/><path color="#dadaa6" d="M393.9 292.5l2.4 5.1l-1.8 4.1l-2.4 0.6z"/><path color="#f0e2b4" d="M391.6 286.8l2.3 5.7l-1.8 9.8l-2.3-3.2z"/><path color="#fceaac" d="M389.2 280.7l2.4 6.1l-1.8 12.3l-2.4-7.7z"/><path color="#fbf19d" d="M386.8 283.4l2.4-2.7l-1.8 10.7l-2.4-3.8z"/><path color="#fde9a1" d="M384.4 291.3l2.4-7.9l-1.8 4.2l-2.4 3.1z"/><path color="#fee0a2" d="M382.1 295.1l2.3-3.8l-1.8-0.6l-2.4 2.9z"/><path color="#fbda9a" d="M379.7 296.2l2.4-1.1l-1.9-1.5l-2.3 1.8z"/><path color="#fbd997" d="M377.3 296.8l2.4-0.6l-1.8-0.8l-2.4 1.4z"/><path color="#fad895" d="M374.9 297.3l2.4-0.5l-1.8 0l-2.4 1.3z"/><path color="#fad896" d="M372.6 297.8l2.3-0.5l-1.8 0.8l-2.4 1.2z"/><path color="#fbda99" d="M370.2 298.4l2.4-0.6l-1.9 1.5l-2.3 1.2z"/><path color="#fadb9d" d="M367.8 299.3l2.4-0.9l-1.8 2.1l-2.4 1.5z"/><path color="#f9dca2" d="M365.4 300.6l2.4-1.3l-1.8 2.7l-2.4 2.4z"/><path color="#f6dca5" d="M363.1 302.3l2.3-1.7l-1.8 3.8l-2.4 3.6z"/><path color="#f0daa2" d="M360.7 304.4l2.4-2.1l-1.9 5.7l-2.3 4z"/><path color="#e3d599" d="M358.3 307.1l2.4-2.7l-1.8 7.6l-2.4 3.4z"/><path color="#d0ce8a" d="M355.9 312.2l2.4-5.1l-1.8 8.3l-2.4 1.5z"/><path color="#bdc77b" d="M353.5 317.4l2.4-5.2l-1.8 4.7l-2.4 0.9z"/><path color="#b2c271" d="M351.2 319.9l2.3-2.5l-1.8 0.4l-2.3 0.9z"/><path color="#aebf6b" d="M348.8 320.8l2.4-0.9l-1.8-1.2l-2.4 0.9z"/><path color="#acbe69" d="M346.4 321.7l2.4-0.9l-1.8-1.2l-2.4 0.9z"/><path color="#acbe68" d="M344 322.6l2.4-0.9l-1.8-1.2l-2.4 0.9zM341.7 323.5l2.3-0.9l-1.8-1.2l-2.4 0.9zM339.3 324.4l2.4-0.9l-1.9-1.2l-2.3 0.9zM336.9 325.3l2.4-0.9l-1.8-1.2l-2.4 0.9zM334.5 326.2l2.4-0.9l-1.8-1.2l-2.4 0.9zM332.2 327.1l2.3-0.9l-1.8-1.2l-2.4 0.9zM329.8 327.9l2.4-0.8l-1.9-1.2l-2.3 0.9zM327.4 328.8l2.4-0.9l-1.8-1.1l-2.4 0.9zM325 329.7l2.4-0.9l-1.8-1.1l-2.4 0.9zM424.3 294.2l2.4-0.9l-1.9-1.2l-2.3 0.9zM421.9 295.1l2.4-0.9l-1.8-1.2l-2.4 0.9zM419.5 296l2.4-0.9l-1.8-1.2l-2.4 0.9zM417.2 296.9l2.3-0.9l-1.8-1.2l-2.4 0.9zM414.8 297.8l2.4-0.9l-1.9-1.2l-2.3 0.9zM412.4 298.7l2.4-0.9l-1.8-1.2l-2.4 0.9zM410 299.6l2.4-0.9l-1.8-1.2l-2.4 0.9z"/><path color="#adbe69" d="M407.6 300.5l2.4-0.9l-1.8-1.2l-2.4 0.9z"/><path color="#afc06d" d="M405.3 301.2l2.3-0.7l-1.8-1.2l-2.3 0.9z"/><path color="#bbc87f" d="M402.9 298.8l2.4 2.4l-1.8-1l-2.4 0.9z"/><path color="#d7d9a5" d="M400.5 295.4l2.4 3.4l-1.8 2.3l-2.4 0.1z"/><path color="#ebdfb0" d="M398.1 294.7l2.4 0.7l-1.8 5.8l-2.4-3.6z"/><path color="#f5deac" d="M395.8 294.2l2.3 0.5l-1.8 2.9l-2.4-5.1z"/><path color="#fcde9d" d="M393.4 290.7l2.4 3.5l-1.9-1.7l-2.3-5.7z"/><path color="#fce684" d="M391 285.2l2.4 5.5l-1.8-3.9l-2.4-6.1z"/><path color="#faef86" d="M388.6 287.7l2.4-2.5l-1.8-4.5l-2.4 2.7z"/><path color="#fde38f" d="M386.3 294.6l2.3-6.9l-1.8-4.3l-2.4 7.9z"/><path color="#fbd281" d="M383.9 297.4l2.4-2.8l-1.9-3.3l-2.3 3.8z"/><path color="#f8c667" d="M381.5 297.7l2.4-0.3l-1.8-2.3l-2.4 1.1z"/><path color="#fac661" d="M379.1 297.3l2.4 0.4l-1.8-1.5l-2.4 0.6z"/><path color="#fcc75c" d="M376.8 296.9l2.3 0.4l-1.8-0.5l-2.4 0.5z"/><path color="#feca5a" d="M374.4 296.4l2.4 0.5l-1.9 0.4l-2.3 0.5z"/><path color="#fecd5a" d="M372 296.2l2.4 0.2l-1.8 1.4l-2.4 0.6z"/><path color="#fed15e" d="M369.6 296.5l2.4-0.3l-1.8 2.2l-2.4 0.9z"/><path color="#fed467" d="M367.2 297.5l2.4-1l-1.8 2.8l-2.4 1.3z"/><path color="#fed676" d="M364.9 299.1l2.3-1.6l-1.8 3.1l-2.3 1.7z"/><path color="#fed989" d="M362.5 301.3l2.4-2.2l-1.8 3.2l-2.4 2.1z"/><path color="#fcdc9b" d="M360.1 304l2.4-2.7l-1.8 3.1l-2.4 2.7z"/><path color="#f7dca5" d="M357.7 307l2.4-3l-1.8 3.1l-2.4 5.1z"/><path color="#ebd9a0" d="M355.4 310l2.3-3l-1.8 5.2l-2.4 5.2z"/><path color="#d5d08f" d="M353 315.5l2.4-5.5l-1.9 7.4l-2.3 2.5z"/><path color="#bcc77c" d="M350.6 321l2.4-5.5l-1.8 4.4l-2.4 0.9z"/><path color="#b0c16f" d="M348.2 322.9l2.4-1.9l-1.8-0.2l-2.4 0.9z"/><path color="#adbe6a" d="M345.9 323.7l2.3-0.8l-1.8-1.2l-2.4 0.9z"/><path color="#acbe68" d="M343.5 324.6l2.4-0.9l-1.9-1.1l-2.3 0.9zM341.1 325.5l2.4-0.9l-1.8-1.1l-2.4 0.9zM338.7 326.4l2.4-0.9l-1.8-1.1l-2.4 0.9zM336.4 327.3l2.3-0.9l-1.8-1.1l-2.4 0.9zM334 328.2l2.4-0.9l-1.9-1.1l-2.3 0.9zM331.6 329.1l2.4-0.9l-1.8-1.1l-2.4 0.8zM329.2 330l2.4-0.9l-1.8-1.2l-2.4 0.9zM326.8 330.9l2.4-0.9l-1.8-1.2l-2.4 0.9zM426.1 295.4l2.4-0.9l-1.8-1.2l-2.4 0.9zM423.7 296.3l2.4-0.9l-1.8-1.2l-2.4 0.9zM421.3 297.2l2.4-0.9l-1.8-1.2l-2.4 0.9zM419 298.1l2.3-0.9l-1.8-1.2l-2.3 0.9zM416.6 299l2.4-0.9l-1.8-1.2l-2.4 0.9zM414.2 299.8l2.4-0.8l-1.8-1.2l-2.4 0.9z"/><path color="#adbe6a" d="M411.8 300.7l2.4-0.9l-1.8-1.1l-2.4 0.9z"/><path color="#b1c271" d="M409.5 300.5l2.3 0.2l-1.8-1.1l-2.4 0.9z"/><path color="#c7cf8f" d="M407.1 298l2.4 2.5l-1.9 0l-2.3 0.7z"/><path color="#e0dcaa" d="M404.7 297.3l2.4 0.7l-1.8 3.2l-2.4-2.4z"/><path color="#eaddad" d="M402.3 297.5l2.4-0.2l-1.8 1.5l-2.4-3.4z"/><path color="#eddba5" d="M400 297.9l2.3-0.4l-1.8-2.1l-2.4-0.7z"/><path color="#ecd392" d="M397.6 298.1l2.4-0.2l-1.9-3.2l-2.3-0.5z"/><path color="#f1ca77" d="M395.2 296.2l2.4 1.9l-1.8-3.9l-2.4-3.5z"/><path color="#fdcd57" d="M392.8 292.8l2.4 3.4l-1.8-5.5l-2.4-5.5z"/><path color="#fddd73" d="M390.5 294.3l2.3-1.5l-1.8-7.6l-2.4 2.5z"/><path color="#fdd57d" d="M388.1 298.5l2.4-4.2l-1.9-6.6l-2.3 6.9z"/><path color="#f3c466" d="M385.7 299.7l2.4-1.2l-1.8-3.9l-2.4 2.8z"/><path color="#f3be54" d="M383.3 299.2l2.4 0.5l-1.8-2.3l-2.4 0.3z"/><path color="#f9bf4e" d="M380.9 298.3l2.4 0.9l-1.8-1.5l-2.4-0.4z"/><path color="#fec347" d="M378.6 297.2l2.3 1.1l-1.8-1l-2.3-0.4z"/><path color="#fec940" d="M376.2 295.9l2.4 1.3l-1.8-0.3l-2.4-0.5z"/><path color="#fdcf3b" d="M373.8 294.8l2.4 1.1l-1.8 0.5l-2.4-0.2z"/><path color="#fbd439" d="M371.4 294.3l2.4 0.5l-1.8 1.4l-2.4 0.3z"/><path color="#fad739" d="M369.1 294.6l2.3-0.3l-1.8 2.2l-2.4 1z"/><path color="#fad73e" d="M366.7 296l2.4-1.4l-1.9 2.9l-2.3 1.6z"/><path color="#fcd649" d="M364.3 298.3l2.4-2.3l-1.8 3.1l-2.4 2.2z"/><path color="#fed45d" d="M361.9 301.4l2.4-3.1l-1.8 3l-2.4 2.7z"/><path color="#fed579" d="M359.6 305l2.3-3.6l-1.8 2.6l-2.4 3z"/><path color="#fad997" d="M357.2 308.8l2.4-3.8l-1.9 2l-2.3 3z"/><path color="#f3dca7" d="M354.8 312.5l2.4-3.7l-1.8 1.2l-2.4 5.5z"/><path color="#e5d8a1" d="M352.4 316.1l2.4-3.6l-1.8 3l-2.4 5.5z"/><path color="#cacd89" d="M350 321.5l2.4-5.4l-1.8 4.9l-2.4 1.9z"/><path color="#b5c475" d="M347.7 324.9l2.3-3.4l-1.8 1.4l-2.3 0.8z"/><path color="#aebf6b" d="M345.3 325.8l2.4-0.9l-1.8-1.2l-2.4 0.9z"/><path color="#acbe68" d="M342.9 326.7l2.4-0.9l-1.8-1.2l-2.4 0.9zM340.5 327.6l2.4-0.9l-1.8-1.2l-2.4 0.9zM338.2 328.5l2.3-0.9l-1.8-1.2l-2.3 0.9zM335.8 329.4l2.4-0.9l-1.8-1.2l-2.4 0.9zM333.4 330.3l2.4-0.9l-1.8-1.2l-2.4 0.9zM331 331.2l2.4-0.9l-1.8-1.2l-2.4 0.9zM328.7 332.1l2.3-0.9l-1.8-1.2l-2.4 0.9zM427.9 296.5l2.4-0.9l-1.8-1.1l-2.4 0.9zM425.5 297.4l2.4-0.9l-1.8-1.1l-2.4 0.9zM423.2 298.3l2.3-0.9l-1.8-1.1l-2.4 0.9zM420.8 299.2l2.4-0.9l-1.9-1.1l-2.3 0.9zM418.4 300.1l2.4-0.9l-1.8-1.1l-2.4 0.9z"/><path color="#aebf6b" d="M416 301l2.4-0.9l-1.8-1.1l-2.4 0.8z"/><path color="#b5c476" d="M413.7 300.1l2.3 0.9l-1.8-1.2l-2.4 0.9z"/><path color="#cdd295" d="M411.3 298.4l2.4 1.7l-1.9 0.6l-2.3-0.2z"/><path color="#e1dcab" d="M408.9 298.8l2.4-0.4l-1.8 2.1l-2.4-2.5z"/><path color="#e6dcab" d="M406.5 299.4l2.4-0.6l-1.8-0.8l-2.4-0.7z"/><path color="#e2d497" d="M404.1 300l2.3-0.6l-1.8-2.1l-2.4 0.2z"/><path color="#dcca7e" d="M401.8 300.8l2.4-0.8l-1.9-2.5l-2.3 0.4z"/><path color="#dac36d" d="M399.4 301.4l2.4-0.6l-1.8-2.9l-2.4 0.2z"/><path color="#debf62" d="M397 300.8l2.4 0.6l-1.8-3.3l-2.4-1.9z"/><path color="#edbe57" d="M394.6 299.4l2.4 1.4l-1.8-4.6l-2.4-3.4z"/><path color="#f7cd76" d="M392.3 300l2.3-0.6l-1.8-6.6l-2.3 1.5z"/><path color="#f2cb79" d="M389.9 301.7l2.4-1.7l-1.8-5.7l-2.4 4.2z"/><path color="#eabe5a" d="M387.5 301.9l2.4-0.2l-1.8-3.2l-2.4 1.2z"/><path color="#efbd54" d="M385.1 301.2l2.4 0.7l-1.8-2.2l-2.4-0.5z"/><path color="#f8be4e" d="M382.8 300.2l2.3 1l-1.8-2l-2.4-0.9z"/><path color="#fec345" d="M380.4 298.9l2.4 1.3l-1.9-1.9l-2.3-1.1z"/><path color="#fecb3d" d="M378 297l2.4 1.9l-1.8-1.7l-2.4-1.3z"/><path color="#fad435" d="M375.6 295l2.4 2l-1.8-1.1l-2.4-1.1z"/><path color="#f7dc2f" d="M373.3 293.5l2.3 1.5l-1.8-0.2l-2.4-0.5z"/><path color="#f6e22b" d="M370.9 293.2l2.4 0.3l-1.9 0.8l-2.3 0.3z"/><path color="#f6e32b" d="M368.5 294.3l2.4-1.1l-1.8 1.4l-2.4 1.4z"/><path color="#f6df2e" d="M366.1 296.6l2.4-2.3l-1.8 1.7l-2.4 2.3z"/><path color="#f9d936" d="M363.7 300.2l2.4-3.6l-1.8 1.7l-2.4 3.1z"/><path color="#fdd145" d="M361.4 304.6l2.3-4.4l-1.8 1.2l-2.3 3.6z"/><path color="#fdcd63" d="M359 309.3l2.4-4.7l-1.8 0.4l-2.4 3.8z"/><path color="#f6d38d" d="M356.6 313.9l2.4-4.6l-1.8-0.5l-2.4 3.7z"/><path color="#f0dead" d="M354.2 317.8l2.4-3.9l-1.8-1.4l-2.4 3.6z"/><path color="#e8dfb1" d="M351.9 320.9l2.3-3.1l-1.8-1.7l-2.4 5.4z"/><path color="#d2d397" d="M349.5 324.1l2.4-3.2l-1.9 0.6l-2.3 3.4z"/><path color="#b9c67c" d="M347.1 326.9l2.4-2.8l-1.8 0.8l-2.4 0.9z"/><path color="#afc06d" d="M344.7 327.9l2.4-1l-1.8-1.1l-2.4 0.9z"/><path color="#acbe69" d="M342.4 328.8l2.3-0.9l-1.8-1.2l-2.4 0.9z"/><path color="#acbe68" d="M340 329.7l2.4-0.9l-1.9-1.2l-2.3 0.9zM337.6 330.6l2.4-0.9l-1.8-1.2l-2.4 0.9zM335.2 331.5l2.4-0.9l-1.8-1.2l-2.4 0.9zM332.9 332.4l2.3-0.9l-1.8-1.2l-2.4 0.9zM330.5 333.3l2.4-0.9l-1.9-1.2l-2.3 0.9zM429.7 297.7l2.4-0.9l-1.8-1.2l-2.4 0.9zM427.4 298.6l2.3-0.9l-1.8-1.2l-2.4 0.9zM425 299.5l2.4-0.9l-1.9-1.2l-2.3 0.9zM422.6 300.4l2.4-0.9l-1.8-1.2l-2.4 0.9z"/><path color="#aebf6b" d="M420.2 301.3l2.4-0.9l-1.8-1.2l-2.4 0.9z"/><path color="#b7c578" d="M417.8 300.1l2.4 1.2l-1.8-1.2l-2.4 0.9z"/><path color="#d0d399" d="M415.5 299l2.3 1.1l-1.8 0.9l-2.3-0.9z"/><path color="#e1ddad" d="M413.1 299.6l2.4-0.6l-1.8 1.1l-2.4-1.7z"/><path color="#e1daa5" d="M410.7 300.3l2.4-0.7l-1.8-1.2l-2.4 0.4z"/><path color="#d9ce89" d="M408.3 301.1l2.4-0.8l-1.8-1.5l-2.4 0.6z"/><path color="#d2c572" d="M406 301.9l2.3-0.8l-1.8-1.7l-2.3 0.6z"/><path color="#d0c068" d="M403.6 302.7l2.4-0.8l-1.8-1.9l-2.4 0.8z"/><path color="#cfbf64" d="M401.2 303.4l2.4-0.7l-1.8-1.9l-2.4 0.6z"/><path color="#d2be62" d="M398.8 303.6l2.4-0.2l-1.8-2l-2.4-0.6z"/><path color="#dabe5e" d="M396.5 303.5l2.3 0.1l-1.8-2.8l-2.4-1.4z"/><path color="#e2c267" d="M394.1 303.8l2.4-0.3l-1.9-4.1l-2.3 0.6z"/><path color="#e2c062" d="M391.7 304.2l2.4-0.4l-1.8-3.8l-2.4 1.7z"/><path color="#e3bd5b" d="M389.3 304.1l2.4 0.1l-1.8-2.5l-2.4 0.2z"/><path color="#e9bd57" d="M387 303.8l2.3 0.3l-1.8-2.2l-2.4-0.7z"/><path color="#f2bd53" d="M384.6 303.4l2.4 0.4l-1.9-2.6l-2.3-1z"/><path color="#fabf4b" d="M382.2 302.4l2.4 1l-1.8-3.2l-2.4-1.3z"/><path color="#fec741" d="M379.8 300.2l2.4 2.2l-1.8-3.5l-2.4-1.9z"/><path color="#fbd237" d="M377.4 297.4l2.4 2.8l-1.8-3.2l-2.4-2z"/><path color="#f7dd2e" d="M375.1 295.1l2.3 2.3l-1.8-2.4l-2.3-1.5z"/><path color="#f5e628" d="M372.7 294.2l2.4 0.9l-1.8-1.6l-2.4-0.3z"/><path color="#f5ea25" d="M370.3 295.1l2.4-0.9l-1.8-1l-2.4 1.1z"/><path color="#f5e72f" d="M367.9 297.7l2.4-2.6l-1.8-0.8l-2.4 2.3z"/><path color="#f8e044" d="M365.6 301.9l2.3-4.2l-1.8-1.1l-2.4 3.6z"/><path color="#fcd95c" d="M363.2 307.2l2.4-5.3l-1.9-1.7l-2.3 4.4z"/><path color="#fdd175" d="M360.8 313l2.4-5.8l-1.8-2.6l-2.4 4.7z"/><path color="#f1d28b" d="M358.4 318.4l2.4-5.4l-1.8-3.7l-2.4 4.6z"/><path color="#e6d9a2" d="M356.1 322.9l2.3-4.5l-1.8-4.5l-2.4 3.9z"/><path color="#e4e2b9" d="M353.7 326.1l2.4-3.2l-1.9-5.1l-2.3 3.1z"/><path color="#e3e5c2" d="M351.3 328l2.4-1.9l-1.8-5.2l-2.4 3.2z"/><path color="#d2d9a7" d="M348.9 328.6l2.4-0.6l-1.8-3.9l-2.4 2.8z"/><path color="#bac981" d="M346.6 329l2.3-0.4l-1.8-1.7l-2.4 1z"/><path color="#afc06e" d="M344.2 329.9l2.4-0.9l-1.9-1.1l-2.3 0.9z"/><path color="#acbe69" d="M341.8 330.8l2.4-0.9l-1.8-1.1l-2.4 0.9z"/><path color="#acbe68" d="M339.4 331.7l2.4-0.9l-1.8-1.1l-2.4 0.9zM337 332.6l2.4-0.9l-1.8-1.1l-2.4 0.9zM334.7 333.5l2.3-0.9l-1.8-1.1l-2.3 0.9zM332.3 334.4l2.4-0.9l-1.8-1.1l-2.4 0.9zM431.5 298.9l2.4-0.9l-1.8-1.2l-2.4 0.9zM429.2 299.8l2.3-0.9l-1.8-1.2l-2.3 0.9zM426.8 300.7l2.4-0.9l-1.8-1.2l-2.4 0.9z"/><path color="#aebf6b" d="M424.4 301.6l2.4-0.9l-1.8-1.2l-2.4 0.9z"/><path color="#b7c578" d="M422 300.4l2.4 1.2l-1.8-1.2l-2.4 0.9z"/><path color="#d1d49a" d="M419.7 299.3l2.3 1.1l-1.8 0.9l-2.4-1.2z"/><path color="#e2ddae" d="M417.3 299.9l2.4-0.6l-1.9 0.8l-2.3-1.1z"/><path color="#ded7a0" d="M414.9 300.6l2.4-0.7l-1.8-0.9l-2.4 0.6z"/><path color="#d4ca80" d="M412.5 301.4l2.4-0.8l-1.8-1l-2.4 0.7z"/><path color="#cec26c" d="M410.2 302.2l2.3-0.8l-1.8-1.1l-2.4 0.8z"/><path color="#cdc066" d="M407.8 303l2.4-0.8l-1.9-1.1l-2.3 0.8z"/><path color="#cdbf64" d="M405.4 303.8l2.4-0.8l-1.8-1.1l-2.4 0.8zM403 304.6l2.4-0.8l-1.8-1.1l-2.4 0.7z"/><path color="#cfbf63" d="M400.7 305.2l2.3-0.6l-1.8-1.2l-2.4 0.2z"/><path color="#d2be62" d="M398.3 305.6l2.4-0.4l-1.9-1.6l-2.3-0.1z"/><path color="#d6be60" d="M395.9 306l2.4-0.4l-1.8-2.1l-2.4 0.3z"/><path color="#d9be5f" d="M393.5 306.3l2.4-0.3l-1.8-2.2l-2.4 0.4z"/><path color="#ddbd5d" d="M391.1 306.5l2.4-0.2l-1.8-2.1l-2.4-0.1z"/><path color="#e2be5c" d="M388.8 307.1l2.3-0.6l-1.8-2.4l-2.3-0.3z"/><path color="#e8c164" d="M386.4 307.8l2.4-0.7l-1.8-3.3l-2.4-0.4z"/><path color="#edc05e" d="M384 307.6l2.4 0.2l-1.8-4.4l-2.4-1z"/><path color="#f6bf4e" d="M381.6 305.5l2.4 2.1l-1.8-5.2l-2.4-2.2z"/><path color="#fdc840" d="M379.3 302l2.3 3.5l-1.8-5.3l-2.4-2.8z"/><path color="#f9d634" d="M376.9 299.1l2.4 2.9l-1.9-4.6l-2.3-2.3z"/><path color="#f6e12c" d="M374.5 298l2.4 1.1l-1.8-4l-2.4-0.9z"/><path color="#f7e844" d="M372.1 299.1l2.4-1.1l-1.8-3.8l-2.4 0.9z"/><path color="#f8e861" d="M369.8 302.5l2.3-3.4l-1.8-4l-2.4 2.6z"/><path color="#fbe16f" d="M367.4 307.8l2.4-5.3l-1.9-4.8l-2.3 4.2z"/><path color="#fdd77d" d="M365 314.3l2.4-6.5l-1.8-5.9l-2.4 5.3z"/><path color="#f1d28c" d="M362.6 321l2.4-6.7l-1.8-7.1l-2.4 5.8z"/><path color="#ded497" d="M360.3 327.2l2.3-6.2l-1.8-8l-2.4 5.4z"/><path color="#cfd7a1" d="M357.9 332l2.4-4.8l-1.9-8.8l-2.3 4.5z"/><path color="#c8dbae" d="M355.5 334.9l2.4-2.9l-1.8-9.1l-2.4 3.2z"/><path color="#cde2bf" d="M353.1 336l2.4-1.1l-1.8-8.8l-2.4 1.9z"/><path color="#d4e5c6" d="M350.7 335.6l2.4 0.4l-1.8-8l-2.4 0.6z"/><path color="#c8daab" d="M348.4 333.4l2.3 2.2l-1.8-7l-2.3 0.4z"/><path color="#b8c982" d="M346 331.2l2.4 2.2l-1.8-4.4l-2.4 0.9z"/><path color="#afc06d" d="M343.6 332l2.4-0.8l-1.8-1.3l-2.4 0.9z"/><path color="#acbe68" d="M341.2 332.9l2.4-0.9l-1.8-1.2l-2.4 0.9zM338.9 333.8l2.3-0.9l-1.8-1.2l-2.4 0.9zM336.5 334.7l2.4-0.9l-1.9-1.2l-2.3 0.9zM334.1 335.6l2.4-0.9l-1.8-1.2l-2.4 0.9zM433.4 300.1l2.3-0.9l-1.8-1.2l-2.4 0.9zM431 301l2.4-0.9l-1.9-1.2l-2.3 0.9z"/><path color="#adbe6a" d="M428.6 301.9l2.4-0.9l-1.8-1.2l-2.4 0.9z"/><path color="#b4c375" d="M426.2 301l2.4 0.9l-1.8-1.2l-2.4 0.9z"/><path color="#d0d398" d="M423.9 299.4l2.3 1.6l-1.8 0.6l-2.4-1.2z"/><path color="#e2ddae" d="M421.5 300l2.4-0.6l-1.9 1l-2.3-1.1z"/><path color="#ded69d" d="M419.1 300.6l2.4-0.6l-1.8-0.7l-2.4 0.6z"/><path color="#d4c87b" d="M416.7 301.2l2.4-0.6l-1.8-0.7l-2.4 0.7z"/><path color="#cfc169" d="M414.4 302l2.3-0.8l-1.8-0.6l-2.4 0.8z"/><path color="#cebf64" d="M412 302.7l2.4-0.7l-1.9-0.6l-2.3 0.8zM409.6 303.6l2.4-0.9l-1.8-0.5l-2.4 0.8z"/><path color="#cebf63" d="M407.2 304.5l2.4-0.9l-1.8-0.6l-2.4 0.8z"/><path color="#cfbf63" d="M404.8 305.3l2.4-0.8l-1.8-0.7l-2.4 0.8zM402.5 306.1l2.3-0.8l-1.8-0.7l-2.3 0.6z"/><path color="#d1be62" d="M400.1 306.8l2.4-0.7l-1.8-0.9l-2.4 0.4z"/><path color="#d3be62" d="M397.7 307.5l2.4-0.7l-1.8-1.2l-2.4 0.4z"/><path color="#d5be61" d="M395.3 308.1l2.4-0.6l-1.8-1.5l-2.4 0.3z"/><path color="#d8be60" d="M393 309l2.3-0.9l-1.8-1.8l-2.4 0.2z"/><path color="#dcc570" d="M390.6 310.7l2.4-1.7l-1.9-2.5l-2.3 0.6z"/><path color="#dfcd84" d="M388.2 313l2.4-2.3l-1.8-3.6l-2.4 0.7z"/><path color="#decc82" d="M385.8 314.1l2.4-1.1l-1.8-5.2l-2.4-0.2z"/><path color="#debf60" d="M383.5 312.3l2.3 1.8l-1.8-6.5l-2.4-2.1z"/><path color="#f1be51" d="M381.1 308.4l2.4 3.9l-1.9-6.8l-2.3-3.5z"/><path color="#fdc840" d="M378.7 305.1l2.4 3.3l-1.8-6.4l-2.4-2.9z"/><path color="#fbd544" d="M376.3 304.2l2.4 0.9l-1.8-6l-2.4-1.1z"/><path color="#fbe16d" d="M374 306.3l2.3-2.1l-1.8-6.2l-2.4 1.1z"/><path color="#fdde7a" d="M371.6 311l2.4-4.7l-1.9-7.2l-2.3 3.4z"/><path color="#fad786" d="M369.2 317.8l2.4-6.8l-1.8-8.5l-2.4 5.3z"/><path color="#ead493" d="M366.8 325.5l2.4-7.7l-1.8-10l-2.4 6.5z"/><path color="#d2d69e" d="M364.4 333.2l2.4-7.7l-1.8-11.2l-2.4 6.7z"/><path color="#b9d7a9" d="M362.1 339.8l2.3-6.6l-1.8-12.2l-2.3 6.2z"/><path color="#a3d7b4" d="M359.7 344.5l2.4-4.7l-1.8-12.6l-2.4 4.8z"/><path color="#96d6bc" d="M357.3 346.9l2.4-2.4l-1.8-12.5l-2.4 2.9z"/><path color="#93d6bf" d="M354.9 347l2.4-0.1l-1.8-12l-2.4 1.1z"/><path color="#9cd9bf" d="M352.6 345l2.3 2l-1.8-11l-2.4-0.4z"/><path color="#b4dec1" d="M350.2 341.8l2.4 3.2l-1.9-9.4l-2.3-2.2z"/><path color="#bdd9ac" d="M347.8 336.6l2.4 5.2l-1.8-8.4l-2.4-2.2z"/><path color="#b6c77f" d="M345.4 333.2l2.4 3.4l-1.8-5.4l-2.4 0.8z"/><path color="#aebf6c" d="M343.1 334.1l2.3-0.9l-1.8-1.2l-2.4 0.9z"/><path color="#acbe68" d="M340.7 335l2.4-0.9l-1.9-1.2l-2.3 0.9zM338.3 335.9l2.4-0.9l-1.8-1.2l-2.4 0.9zM335.9 336.8l2.4-0.9l-1.8-1.2l-2.4 0.9zM435.2 301.2l2.4-0.9l-1.9-1.1l-2.3 0.9z"/><path color="#adbe69" d="M432.8 302.1l2.4-0.9l-1.8-1.1l-2.4 0.9z"/><path color="#b1c271" d="M430.4 302l2.4 0.1l-1.8-1.1l-2.4 0.9z"/><path color="#cbd192" d="M428.1 299.5l2.3 2.5l-1.8-0.1l-2.4-0.9z"/><path color="#e2ddad" d="M425.7 299.9l2.4-0.4l-1.9 1.5l-2.3-1.6z"/><path color="#e0d79f" d="M423.3 300.4l2.4-0.5l-1.8-0.5l-2.4 0.6z"/><path color="#d6c87b" d="M420.9 300.8l2.4-0.4l-1.8-0.4l-2.4 0.6z"/><path color="#d1c067" d="M418.5 301.4l2.4-0.6l-1.8-0.2l-2.4 0.6z"/><path color="#d2bf63" d="M416.2 302.1l2.3-0.7l-1.8-0.2l-2.3 0.8z"/><path color="#d2be62" d="M413.8 302.9l2.4-0.8l-1.8-0.1l-2.4 0.7z"/><path color="#d3be62" d="M411.4 303.8l2.4-0.9l-1.8-0.2l-2.4 0.9zM409 304.7l2.4-0.9l-1.8-0.2l-2.4 0.9z"/><path color="#d2be62" d="M406.7 305.8l2.3-1.1l-1.8-0.2l-2.4 0.8zM404.3 306.7l2.4-0.9l-1.9-0.5l-2.3 0.8zM401.9 307.7l2.4-1l-1.8-0.6l-2.4 0.7z"/><path color="#d3be61" d="M399.5 308.5l2.4-0.8l-1.8-0.9l-2.4 0.7z"/><path color="#d4be61" d="M397.2 309.5l2.3-1l-1.8-1l-2.4 0.6z"/><path color="#d4bf64" d="M394.8 311.2l2.4-1.7l-1.9-1.4l-2.3 0.9z"/><path color="#d7ca7f" d="M392.4 314.3l2.4-3.1l-1.8-2.2l-2.4 1.7z"/><path color="#d3d191" d="M390 318.3l2.4-4l-1.8-3.6l-2.4 2.3z"/><path color="#ccd296" d="M387.6 321l2.4-2.7l-1.8-5.3l-2.4 1.1z"/><path color="#c2c576" d="M385.3 319.7l2.3 1.3l-1.8-6.9l-2.3-1.8z"/><path color="#d2be62" d="M382.9 315.6l2.4 4.1l-1.8-7.4l-2.4-3.9z"/><path color="#ecbd55" d="M380.5 312.1l2.4 3.5l-1.8-7.2l-2.4-3.3z"/><path color="#faca66" d="M378.1 312l2.4 0.1l-1.8-7l-2.4-0.9z"/><path color="#fad586" d="M375.8 315.6l2.3-3.6l-1.8-7.8l-2.3 2.1z"/><path color="#f0d490" d="M373.4 322.1l2.4-6.5l-1.8-9.3l-2.4 4.7z"/><path color="#dcd59a" d="M371 330.6l2.4-8.5l-1.8-11.1l-2.4 6.8z"/><path color="#bfd7a7" d="M368.6 339.5l2.4-8.9l-1.8-12.8l-2.4 7.7z"/><path color="#9cd6b7" d="M366.3 347.8l2.3-8.3l-1.8-14l-2.4 7.7z"/><path color="#80d3c7" d="M363.9 354.4l2.4-6.6l-1.9-14.6l-2.3 6.6z"/><path color="#72cfd2" d="M361.5 358.7l2.4-4.3l-1.8-14.6l-2.4 4.7z"/><path color="#6bcbd7" d="M359.1 360.4l2.4-1.7l-1.8-14.2l-2.4 2.4z"/><path color="#5ac5d2" d="M356.8 359.4l2.3 1l-1.8-13.5l-2.4 0.1z"/><path color="#41bec3" d="M354.4 356l2.4 3.4l-1.9-12.4l-2.3-2z"/><path color="#72cec4" d="M352 350.8l2.4 5.2l-1.8-11l-2.4-3.2z"/><path color="#aadec6" d="M349.6 345.2l2.4 5.6l-1.8-9l-2.4-5.2z"/><path color="#b8d6a6" d="M347.2 337.5l2.4 7.7l-1.8-8.6l-2.4-3.4z"/><path color="#b3c579" d="M344.9 335.3l2.3 2.2l-1.8-4.3l-2.3 0.9z"/><path color="#adbf6a" d="M342.5 336.1l2.4-0.8l-1.8-1.2l-2.4 0.9z"/><path color="#acbe68" d="M340.1 337l2.4-0.9l-1.8-1.1l-2.4 0.9zM337.7 337.9l2.4-0.9l-1.8-1.1l-2.4 0.9zM437 302.4l2.4-0.9l-1.8-1.2l-2.4 0.9z"/><path color="#afc06d" d="M434.6 303.1l2.4-0.7l-1.8-1.2l-2.4 0.9z"/><path color="#c2cc87" d="M432.2 300.3l2.4 2.8l-1.8-1l-2.4-0.1z"/><path color="#e0dbaa" d="M429.9 299.9l2.3 0.4l-1.8 1.7l-2.3-2.5z"/><path color="#e3daa5" d="M427.5 300.1l2.4-0.2l-1.8-0.4l-2.4 0.4z"/><path color="#d9ca7e" d="M425.1 300.4l2.4-0.3l-1.8-0.2l-2.4 0.5z"/><path color="#d6c066" d="M422.7 300.7l2.4-0.3l-1.8 0l-2.4 0.4z"/><path color="#d7be60" d="M420.4 301.1l2.3-0.4l-1.8 0.1l-2.4 0.6z"/><path color="#d8be5f" d="M418 301.7l2.4-0.6l-1.9 0.3l-2.3 0.7z"/><path color="#d9be5f" d="M415.6 302.5l2.4-0.8l-1.8 0.4l-2.4 0.8zM413.2 303.5l2.4-1l-1.8 0.4l-2.4 0.9zM410.9 304.6l2.3-1.1l-1.8 0.3l-2.4 0.9z"/><path color="#d8be5f" d="M408.5 305.8l2.4-1.2l-1.9 0.1l-2.3 1.1z"/><path color="#d7be60" d="M406.1 307l2.4-1.2l-1.8 0l-2.4 0.9z"/><path color="#d6be60" d="M403.7 308.2l2.4-1.2l-1.8-0.3l-2.4 1z"/><path color="#d5be61" d="M401.3 309.3l2.4-1.1l-1.8-0.5l-2.4 0.8z"/><path color="#d4be61" d="M399 310.7l2.3-1.4l-1.8-0.8l-2.3 1z"/><path color="#d2c067" d="M396.6 313.1l2.4-2.4l-1.8-1.2l-2.4 1.7z"/><path color="#d1cc84" d="M394.2 317.4l2.4-4.3l-1.8-1.9l-2.4 3.1z"/><path color="#c6d296" d="M391.8 323.2l2.4-5.8l-1.8-3.1l-2.4 4z"/><path color="#b7d4a0" d="M389.5 327.4l2.3-4.2l-1.8-4.9l-2.4 2.7z"/><path color="#a3c989" d="M387.1 326.7l2.4 0.7l-1.9-6.4l-2.3-1.3z"/><path color="#afc170" d="M384.7 322.5l2.4 4.2l-1.8-7l-2.4-4.1z"/><path color="#ccbf64" d="M382.3 319.2l2.4 3.3l-1.8-6.9l-2.4-3.5z"/><path color="#e3cc82" d="M380 320.1l2.3-0.9l-1.8-7.1l-2.4-0.1z"/><path color="#e1d496" d="M377.6 325.4l2.4-5.3l-1.9-8.1l-2.3 3.6z"/><path color="#cdd6a0" d="M375.2 333.9l2.4-8.5l-1.8-9.8l-2.4 6.5z"/><path color="#abd6ae" d="M372.8 344l2.4-10.1l-1.8-11.8l-2.4 8.5z"/><path color="#83d3c4" d="M370.5 353.9l2.3-9.9l-1.8-13.4l-2.4 8.9z"/><path color="#6ccbd6" d="M368.1 362.3l2.4-8.4l-1.9-14.4l-2.3 8.3z"/><path color="#69c2e0" d="M365.7 368.4l2.4-6.1l-1.8-14.5l-2.4 6.6z"/><path color="#6cbbe4" d="M363.3 372l2.4-3.6l-1.8-14l-2.4 4.3z"/><path color="#69b5e4" d="M360.9 373.1l2.4-1.1l-1.8-13.3l-2.4 1.7z"/><path color="#49a8de" d="M358.6 371.5l2.3 1.6l-1.8-12.7l-2.3-1z"/><path color="#1c9fd3" d="M356.2 367l2.4 4.5l-1.8-12.1l-2.4-3.4z"/><path color="#2fb4cd" d="M353.8 360.2l2.4 6.8l-1.8-11l-2.4-5.2z"/><path color="#75d0cc" d="M351.4 352.6l2.4 7.6l-1.8-9.4l-2.4-5.6z"/><path color="#acdec5" d="M349.1 345.5l2.3 7.1l-1.8-7.4l-2.4-7.7z"/><path color="#b7d197" d="M346.7 337.4l2.4 8.1l-1.9-8l-2.3-2.2z"/><path color="#b1c271" d="M344.3 337.3l2.4 0.1l-1.8-2.1l-2.4 0.8z"/><path color="#adbe69" d="M341.9 338.2l2.4-0.9l-1.8-1.2l-2.4 0.9z"/><path color="#acbe68" d="M339.6 339.1l2.3-0.9l-1.8-1.2l-2.4 0.9z"/><path color="#adbe6a" d="M438.8 303.6l2.4-0.9l-1.8-1.2l-2.4 0.9z"/><path color="#b7c578" d="M436.4 302.2l2.4 1.4l-1.8-1.2l-2.4 0.7z"/><path color="#d9d8a2" d="M434.1 300l2.3 2.2l-1.8 0.9l-2.4-2.8z"/><path color="#e5dcab" d="M431.7 300.1l2.4-0.1l-1.9 0.3l-2.3-0.4z"/><path color="#dece87" d="M429.3 300l2.4 0.1l-1.8-0.2l-2.4 0.2z"/><path color="#dac167" d="M426.9 299.9l2.4 0.1l-1.8 0.1l-2.4 0.3z"/><path color="#ddbe5e" d="M424.6 299.9l2.3 0l-1.8 0.5l-2.4 0.3z"/><path color="#e0bd5c" d="M422.2 300.2l2.4-0.3l-1.9 0.8l-2.3 0.4z"/><path color="#e2bd5b" d="M419.8 300.7l2.4-0.5l-1.8 0.9l-2.4 0.6z"/><path color="#e3bd5a" d="M417.4 301.6l2.4-0.9l-1.8 1l-2.4 0.8zM415 302.7l2.4-1.1l-1.8 0.9l-2.4 1z"/><path color="#e2bd5b" d="M412.7 304.1l2.3-1.4l-1.8 0.8l-2.3 1.1z"/><path color="#dfbd5c" d="M410.3 305.6l2.4-1.5l-1.8 0.5l-2.4 1.2z"/><path color="#ddbd5d" d="M407.9 307l2.4-1.4l-1.8 0.2l-2.4 1.2z"/><path color="#dbbe5e" d="M405.5 308.5l2.4-1.5l-1.8 0l-2.4 1.2z"/><path color="#d9be5f" d="M403.2 309.9l2.3-1.4l-1.8-0.3l-2.4 1.1z"/><path color="#d6be60" d="M400.8 311.6l2.4-1.7l-1.9-0.6l-2.3 1.4z"/><path color="#d1c066" d="M398.4 314.5l2.4-2.9l-1.8-0.9l-2.4 2.4z"/><path color="#cbcb84" d="M396 319.8l2.4-5.3l-1.8-1.4l-2.4 4.3z"/><path color="#b9d198" d="M393.7 327.1l2.3-7.3l-1.8-2.4l-2.4 5.8z"/><path color="#a1d3a7" d="M391.3 332.5l2.4-5.4l-1.9-3.9l-2.3 4.2z"/><path color="#81c897" d="M388.9 332.3l2.4 0.2l-1.8-5.1l-2.4-0.7z"/><path color="#8cc27e" d="M386.5 328.1l2.4 4.2l-1.8-5.6l-2.4-4.2z"/><path color="#adc171" d="M384.2 325.2l2.3 2.9l-1.8-5.6l-2.4-3.3z"/><path color="#cad091" d="M381.8 327.2l2.4-2l-1.9-6l-2.3 0.9z"/><path color="#c3d5a1" d="M379.4 334.2l2.4-7l-1.8-7.1l-2.4 5.3z"/><path color="#a1d5b0" d="M377 344.5l2.4-10.3l-1.8-8.8l-2.4 8.5z"/><path color="#77d0c8" d="M374.6 355.9l2.4-11.4l-1.8-10.6l-2.4 10.1z"/><path color="#65c5dc" d="M372.3 366.3l2.3-10.4l-1.8-11.9l-2.3 9.9z"/><path color="#6ab6e4" d="M369.9 374.4l2.4-8.1l-1.8-12.4l-2.4 8.4z"/><path color="#69abe8" d="M367.5 379.7l2.4-5.3l-1.8-12.1l-2.4 6.1z"/><path color="#65a4eb" d="M365.1 382.6l2.4-2.9l-1.8-11.3l-2.4 3.6z"/><path color="#5c9cea" d="M362.8 383.3l2.3-0.7l-1.8-10.6l-2.4 1.1z"/><path color="#2d84e3" d="M360.4 381.4l2.4 1.9l-1.9-10.2l-2.3-1.6z"/><path color="#1b81db" d="M358 376.4l2.4 5l-1.8-9.9l-2.4-4.5z"/><path color="#2098d5" d="M355.6 368.6l2.4 7.8l-1.8-9.4l-2.4-6.8z"/><path color="#3ab9cf" d="M353.3 359.4l2.3 9.2l-1.8-8.4l-2.4-7.6z"/><path color="#8bd6cc" d="M350.9 350.7l2.4 8.7l-1.9-6.8l-2.3-7.1z"/><path color="#b5dcb9" d="M348.5 342.7l2.4 8l-1.8-5.2l-2.4-8.1z"/><path color="#b7ca85" d="M346.1 338.5l2.4 4.2l-1.8-5.3l-2.4-0.1z"/><path color="#aebf6c" d="M343.8 339.4l2.3-0.9l-1.8-1.2l-2.4 0.9z"/><path color="#acbe68" d="M341.4 340.3l2.4-0.9l-1.9-1.2l-2.3 0.9z"/><path color="#b0c06e" d="M440.6 304.3l2.4-0.4l-1.8-1.2l-2.4 0.9z"/><path color="#cad090" d="M438.3 300.7l2.3 3.6l-1.8-0.7l-2.4-1.4z"/><path color="#e5ddad" d="M435.9 300.3l2.4 0.4l-1.9 1.5l-2.3-2.2z"/><path color="#e3d496" d="M433.5 300l2.4 0.3l-1.8-0.3l-2.4 0.1z"/><path color="#dec46d" d="M431.1 299.5l2.4 0.5l-1.8 0.1l-2.4-0.1z"/><path color="#e2be5d" d="M428.7 299l2.4 0.5l-1.8 0.5l-2.4-0.1z"/><path color="#e8bd58" d="M426.4 298.6l2.3 0.4l-1.8 0.9l-2.3 0z"/><path color="#ecbd56" d="M424 298.6l2.4 0l-1.8 1.3l-2.4 0.3z"/><path color="#f0bd54" d="M421.6 299.1l2.4-0.5l-1.8 1.6l-2.4 0.5z"/><path color="#f0bd53" d="M419.2 300.1l2.4-1l-1.8 1.6l-2.4 0.9z"/><path color="#efbd54" d="M416.9 301.5l2.3-1.4l-1.8 1.5l-2.4 1.1z"/><path color="#edbd55" d="M414.5 303.1l2.4-1.6l-1.9 1.2l-2.3 1.4z"/><path color="#e9bd57" d="M412.1 305l2.4-1.9l-1.8 1l-2.4 1.5z"/><path color="#e5bd59" d="M409.7 306.8l2.4-1.8l-1.8 0.6l-2.4 1.4z"/><path color="#e1bd5b" d="M407.4 308.5l2.3-1.7l-1.8 0.2l-2.4 1.5z"/><path color="#debd5d" d="M405 310.2l2.4-1.7l-1.9 0l-2.3 1.4z"/><path color="#dabe5f" d="M402.6 312.2l2.4-2l-1.8-0.3l-2.4 1.7z"/><path color="#d2bf63" d="M400.2 315.5l2.4-3.3l-1.8-0.6l-2.4 2.9z"/><path color="#c7c97e" d="M397.9 321.4l2.3-5.9l-1.8-1l-2.4 5.3z"/><path color="#adcf96" d="M395.5 329.5l2.4-8.1l-1.9-1.6l-2.3 7.3z"/><path color="#8bcfa8" d="M393.1 335.6l2.4-6.1l-1.8-2.4l-2.4 5.4z"/><path color="#62c49d" d="M390.7 335.9l2.4-0.3l-1.8-3.1l-2.4-0.2z"/><path color="#71c18a" d="M388.3 332l2.4 3.9l-1.8-3.6l-2.4-4.2z"/><path color="#94c27b" d="M386 329.6l2.3 2.4l-1.8-3.9l-2.3-2.9z"/><path color="#b4d198" d="M383.6 332.6l2.4-3l-1.8-4.4l-2.4 2z"/><path color="#a4d4aa" d="M381.2 340.9l2.4-8.3l-1.8-5.4l-2.4 7z"/><path color="#79d0c1" d="M378.8 352.4l2.4-11.5l-1.8-6.7l-2.4 10.3z"/><path color="#5ec4d9" d="M376.5 364.7l2.3-12.3l-1.8-7.9l-2.4 11.4z"/><path color="#65b1e4" d="M374.1 375.3l2.4-10.6l-1.9-8.8l-2.3 10.4z"/><path color="#61a2ea" d="M371.7 382.9l2.4-7.6l-1.8-9l-2.4 8.1z"/><path color="#6b93e3" d="M369.3 387.4l2.4-4.5l-1.8-8.5l-2.4 5.3z"/><path color="#7286d6" d="M367 389.5l2.3-2.1l-1.8-7.7l-2.4 2.9z"/><path color="#6877cd" d="M364.6 390.1l2.4-0.6l-1.9-6.9l-2.3 0.7z"/><path color="#385bcc" d="M362.2 388.4l2.4 1.7l-1.8-6.8l-2.4-1.9z"/><path color="#176adf" d="M359.8 383.3l2.4 5.1l-1.8-7l-2.4-5z"/><path color="#1c82db" d="M357.5 374.9l2.3 8.4l-1.8-6.9l-2.4-7.8z"/><path color="#22a3d3" d="M355.1 364.8l2.4 10.1l-1.9-6.3l-2.3-9.2z"/><path color="#59c6c9" d="M352.7 354.8l2.4 10l-1.8-5.4l-2.4-8.7z"/><path color="#aaddc6" d="M350.3 346.9l2.4 7.9l-1.8-4.1l-2.4-8z"/><path color="#bdd5a1" d="M347.9 340.5l2.4 6.4l-1.8-4.2l-2.4-4.2z"/><path color="#b3c375" d="M345.6 340.6l2.3-0.1l-1.8-2l-2.3 0.9z"/><path color="#adbe69" d="M343.2 341.5l2.4-0.9l-1.8-1.2l-2.4 0.9z"/><path color="#b7c579" d="M442.4 303.4l2.4 1.6l-1.8-1.1l-2.4 0.4z"/><path color="#ddd9a5" d="M440.1 300.8l2.3 2.6l-1.8 0.9l-2.3-3.6z"/><path color="#e7dba7" d="M437.7 300.4l2.4 0.4l-1.8-0.1l-2.4-0.4z"/><path color="#e2c97b" d="M435.3 299.6l2.4 0.8l-1.8-0.1l-2.4-0.3z"/><path color="#e5bf5e" d="M432.9 298.6l2.4 1l-1.8 0.4l-2.4-0.5z"/><path color="#edbd56" d="M430.6 297.6l2.3 1l-1.8 0.9l-2.4-0.5z"/><path color="#f5bd50" d="M428.2 296.9l2.4 0.7l-1.9 1.4l-2.3-0.4z"/><path color="#fabf4b" d="M425.8 296.6l2.4 0.3l-1.8 1.7l-2.4 0z"/><path color="#fcc148" d="M423.4 297l2.4-0.4l-1.8 2l-2.4 0.5z"/><path color="#fdc247" d="M421.1 298l2.3-1l-1.8 2.1l-2.4 1z"/><path color="#fcc149" d="M418.7 299.7l2.4-1.7l-1.9 2.1l-2.3 1.4z"/><path color="#f9bf4c" d="M416.3 301.8l2.4-2.1l-1.8 1.8l-2.4 1.6z"/><path color="#f4bd51" d="M413.9 304l2.4-2.2l-1.8 1.3l-2.4 1.9z"/><path color="#eebd54" d="M411.6 306.3l2.3-2.3l-1.8 1l-2.4 1.8z"/><path color="#e9bd58" d="M409.2 308.3l2.4-2l-1.9 0.5l-2.3 1.7z"/><path color="#e4bd5a" d="M406.8 310.3l2.4-2l-1.8 0.2l-2.4 1.7z"/><path color="#debd5d" d="M404.4 312.5l2.4-2.2l-1.8-0.1l-2.4 2z"/><path color="#d4be61" d="M402 316l2.4-3.5l-1.8-0.3l-2.4 3.3z"/><path color="#c3c473" d="M399.7 322.1l2.3-6.1l-1.8-0.5l-2.3 5.9z"/><path color="#a4ca8b" d="M397.3 330.3l2.4-8.2l-1.8-0.7l-2.4 8.1z"/><path color="#73c79c" d="M394.9 336.6l2.4-6.3l-1.8-0.8l-2.4 6.1z"/><path color="#50bf9c" d="M392.5 337.3l2.4-0.7l-1.8-1l-2.4 0.3z"/><path color="#65c18f" d="M390.2 333.8l2.3 3.5l-1.8-1.4l-2.4-3.9z"/><path color="#86c280" d="M387.8 332.1l2.4 1.7l-1.9-1.8l-2.3-2.4z"/><path color="#9ecd95" d="M385.4 335.8l2.4-3.7l-1.8-2.5l-2.4 3z"/><path color="#8ad0af" d="M383 344.8l2.4-9l-1.8-3.2l-2.4 8.3z"/><path color="#5fc9cb" d="M380.7 357l2.3-12.2l-1.8-3.9l-2.4 11.5z"/><path color="#58b7de" d="M378.3 369.7l2.4-12.7l-1.9-4.6l-2.3 12.3z"/><path color="#59a1e7" d="M375.9 380.5l2.4-10.8l-1.8-5l-2.4 10.6z"/><path color="#648ce1" d="M373.5 387.9l2.4-7.4l-1.8-5.2l-2.4 7.6z"/><path color="#7378c4" d="M371.1 391.9l2.3-4l-1.8-5l-2.4 4.5z"/><path color="#6764b1" d="M368.8 393.6l2.4-1.7l-1.9-4.5l-2.3 2.1z"/><path color="#5450a5" d="M366.4 394.2l2.4-0.6l-1.8-4.1l-2.4 0.6z"/><path color="#4041a6" d="M364 392.4l2.4 1.8l-1.8-4.1l-2.4-1.7z"/><path color="#3155cb" d="M361.6 387.2l2.4 5.2l-1.8-4l-2.4-5.1z"/><path color="#1576e0" d="M359.3 378.5l2.3 8.7l-1.8-3.9l-2.3-8.4z"/><path color="#1d96d5" d="M356.9 367.9l2.4 10.6l-1.8-3.6l-2.4-10.1z"/><path color="#33b9c7" d="M354.5 357.4l2.4 10.5l-1.8-3.1l-2.4-10z"/><path color="#90d6c0" d="M352.1 349l2.4 8.4l-1.8-2.6l-2.4-7.9z"/><path color="#c2ddb7" d="M349.8 343.1l2.3 5.9l-1.8-2.1l-2.4-6.4z"/><path color="#baca86" d="M347.4 341.7l2.4 1.4l-1.9-2.6l-2.3 0.1z"/><path color="#aebf6c" d="M345 342.6l2.4-0.9l-1.8-1.1l-2.4 0.9z"/><path color="#c7ce8c" d="M444.3 302.2l2.3 3.9l-1.8-1.1l-2.4-1.6z"/><path color="#e6ddac" d="M441.9 301.2l2.4 1l-1.9 1.2l-2.3-2.6z"/><path color="#e6d393" d="M439.5 300.4l2.4 0.8l-1.8-0.4l-2.4-0.4z"/><path color="#e5c267" d="M437.1 299.2l2.4 1.2l-1.8 0l-2.4-0.8z"/><path color="#eebd56" d="M434.8 297.6l2.3 1.6l-1.8 0.4l-2.4-1z"/><path color="#f8bf4d" d="M432.4 296.1l2.4 1.5l-1.9 1l-2.3-1z"/><path color="#fec444" d="M430 294.9l2.4 1.2l-1.8 1.5l-2.4-0.7z"/><path color="#fec93e" d="M427.6 294.3l2.4 0.6l-1.8 2l-2.4-0.3z"/><path color="#fdcd3b" d="M425.3 294.6l2.3-0.3l-1.8 2.3l-2.4 0.4zM422.9 295.8l2.4-1.2l-1.9 2.4l-2.3 1z"/><path color="#fecb3d" d="M420.5 297.8l2.4-2l-1.8 2.2l-2.4 1.7z"/><path color="#fec741" d="M418.1 300.3l2.4-2.5l-1.8 1.9l-2.4 2.1z"/><path color="#fdc247" d="M415.7 303l2.4-2.7l-1.8 1.5l-2.4 2.2z"/><path color="#f8be4d" d="M413.4 305.7l2.3-2.7l-1.8 1l-2.3 2.3z"/><path color="#f1bd53" d="M411 308.1l2.4-2.4l-1.8 0.6l-2.4 2z"/><path color="#eabd57" d="M408.6 310.4l2.4-2.3l-1.8 0.2l-2.4 2z"/><path color="#e3bd5a" d="M406.2 312.7l2.4-2.3l-1.8-0.1l-2.4 2.2z"/><path color="#d9be5f" d="M403.9 316.2l2.3-3.5l-1.8-0.2l-2.4 3.5z"/><path color="#c4c068" d="M401.5 322l2.4-5.8l-1.9-0.2l-2.3 6.1z"/><path color="#9ec278" d="M399.1 329.6l2.4-7.6l-1.8 0.1l-2.4 8.2z"/><path color="#6dc18c" d="M396.7 335.7l2.4-6.1l-1.8 0.7l-2.4 6.3z"/><path color="#57bf97" d="M394.4 336.6l2.3-0.9l-1.8 0.9l-2.4 0.7z"/><path color="#6ac18d" d="M392 333.9l2.4 2.7l-1.9 0.7l-2.3-3.5z"/><path color="#86c281" d="M389.6 332.9l2.4 1l-1.8-0.1l-2.4-1.7z"/><path color="#8bc689" d="M387.2 336.9l2.4-4l-1.8-0.8l-2.4 3.7z"/><path color="#74caa9" d="M384.8 346.1l2.4-9.2l-1.8-1.1l-2.4 9z"/><path color="#48c0c9" d="M382.5 358.3l2.3-12.2l-1.8-1.3l-2.3 12.2z"/><path color="#44aadc" d="M380.1 370.9l2.4-12.6l-1.8-1.3l-2.4 12.7z"/><path color="#3f8fe5" d="M377.7 381.9l2.4-11l-1.8-1.2l-2.4 10.8z"/><path color="#5670d0" d="M375.3 389.6l2.4-7.7l-1.8-1.4l-2.4 7.4z"/><path color="#5956a9" d="M373 394l2.3-4.4l-1.8-1.7l-2.3 4z"/><path color="#4a4194" d="M370.6 395.8l2.4-1.8l-1.8-2.1l-2.4 1.7z"/><path color="#40368e" d="M368.2 396l2.4-0.2l-1.8-2.2l-2.4 0.6z"/><path color="#403a98" d="M365.8 393.7l2.4 2.3l-1.8-1.8l-2.4-1.8z"/><path color="#394fc0" d="M363.5 388l2.3 5.7l-1.8-1.3l-2.4-5.2z"/><path color="#1c78e1" d="M361.1 379.1l2.4 8.9l-1.9-0.8l-2.3-8.7z"/><path color="#2697d7" d="M358.7 368.5l2.4 10.6l-1.8-0.6l-2.4-10.6z"/><path color="#29b5c5" d="M356.3 358.1l2.4 10.4l-1.8-0.6l-2.4-10.5z"/><path color="#76cdb3" d="M354 349.9l2.3 8.2l-1.8-0.7l-2.4-8.4z"/><path color="#c1dfbb" d="M351.6 344.6l2.4 5.3l-1.9-0.9l-2.3-5.9z"/><path color="#c5d49b" d="M349.2 342.7l2.4 1.9l-1.8-1.5l-2.4-1.4z"/><path color="#b2c272" d="M346.8 343.8l2.4-1.1l-1.8-1l-2.4 0.9z"/><path color="#d6d59a" d="M446.1 302.3l2.4 3.8l-1.9 0l-2.3-3.9z"/><path color="#e9dcaa" d="M443.7 301.7l2.4 0.6l-1.8-0.1l-2.4-1z"/><path color="#e5cb7d" d="M441.3 300.5l2.4 1.2l-1.8-0.5l-2.4-0.8z"/><path color="#ebbf5c" d="M438.9 298.8l2.3 1.7l-1.8-0.1l-2.4-1.2z"/><path color="#f7be4e" d="M436.6 296.8l2.4 2l-1.9 0.4l-2.3-1.6z"/><path color="#fec543" d="M434.2 294.7l2.4 2.1l-1.8 0.8l-2.4-1.5z"/><path color="#fdce3a" d="M431.8 293.1l2.4 1.6l-1.8 1.4l-2.4-1.2z"/><path color="#fad535" d="M429.4 292.2l2.4 0.9l-1.8 1.8l-2.4-0.6z"/><path color="#f8d931" d="M427.1 292.4l2.3-0.2l-1.8 2.1l-2.3 0.3z"/><path color="#f8da31" d="M424.7 293.7l2.4-1.3l-1.8 2.2l-2.4 1.2z"/><path color="#f9d733" d="M422.3 296l2.4-2.3l-1.8 2.1l-2.4 2z"/><path color="#fcd138" d="M419.9 298.9l2.4-2.9l-1.8 1.8l-2.4 2.5z"/><path color="#feca3d" d="M417.6 302l2.3-3.1l-1.8 1.4l-2.4 2.7z"/><path color="#fec345" d="M415.2 305.1l2.4-3.1l-1.9 1l-2.3 2.7z"/><path color="#f9be4d" d="M412.8 307.9l2.4-2.8l-1.8 0.6l-2.4 2.4z"/><path color="#f1bd53" d="M410.4 310.4l2.4-2.5l-1.8 0.2l-2.4 2.3z"/><path color="#e9bd57" d="M408.1 312.9l2.3-2.5l-1.8 0l-2.4 2.3z"/><path color="#dfbd5c" d="M405.7 316.2l2.4-3.3l-1.9-0.2l-2.3 3.5z"/><path color="#cbbf65" d="M403.3 321.3l2.4-5.1l-1.8 0l-2.4 5.8z"/><path color="#aac172" d="M400.9 328l2.4-6.7l-1.8 0.7l-2.4 7.6z"/><path color="#81c283" d="M398.5 333.3l2.4-5.3l-1.8 1.6l-2.4 6.1z"/><path color="#6dc18c" d="M396.2 334.5l2.3-1.2l-1.8 2.4l-2.3 0.9z"/><path color="#7bc285" d="M393.8 332.7l2.4 1.8l-1.8 2.1l-2.4-2.7z"/><path color="#90c27d" d="M391.4 332.4l2.4 0.3l-1.8 1.2l-2.4-1z"/><path color="#8ac27f" d="M389 336.5l2.4-4.1l-1.8 0.5l-2.4 4z"/><path color="#60c194" d="M386.7 345.1l2.3-8.6l-1.8 0.4l-2.4 9.2z"/><path color="#25b5b9" d="M384.3 356.5l2.4-11.4l-1.9 1l-2.3 12.2z"/><path color="#189bd2" d="M381.9 368.7l2.4-12.2l-1.8 1.8l-2.4 12.6z"/><path color="#187bde" d="M379.5 379.6l2.4-10.9l-1.8 2.2l-2.4 11z"/><path color="#2a5ad0" d="M377.2 387.8l2.3-8.2l-1.8 2.3l-2.4 7.7z"/><path color="#4041a5" d="M374.8 392.8l2.4-5l-1.9 1.8l-2.3 4.4z"/><path color="#3f3791" d="M372.4 395l2.4-2.2l-1.8 1.2l-2.4 1.8zM370 394.7l2.4 0.3l-1.8 0.8l-2.4 0.2z"/><path color="#504fa9" d="M367.7 391.7l2.3 3l-1.8 1.3l-2.4-2.3z"/><path color="#5677d6" d="M365.3 385.6l2.4 6.1l-1.9 2l-2.3-5.7z"/><path color="#4a97e6" d="M362.9 376.8l2.4 8.8l-1.8 2.4l-2.4-8.9z"/><path color="#4baedd" d="M360.5 366.6l2.4 10.2l-1.8 2.3l-2.4-10.6z"/><path color="#49c1c9" d="M358.1 357.1l2.4 9.5l-1.8 1.9l-2.4-10.4z"/><path color="#77cbac" d="M355.8 349.7l2.3 7.4l-1.8 1l-2.3-8.2z"/><path color="#bbdab1" d="M353.4 345.1l2.4 4.6l-1.8 0.2l-2.4-5.3z"/><path color="#cfdbac" d="M351 343.4l2.4 1.7l-1.8-0.5l-2.4-1.9z"/><path color="#b8c77d" d="M348.6 345l2.4-1.6l-1.8-0.7l-2.4 1.1z"/><path color="#e1daa6" d="M447.9 303.1l2.4 2.5l-1.8 0.5l-2.4-3.8z"/><path color="#e8d79e" d="M445.5 302.3l2.4 0.8l-1.8-0.8l-2.4-0.6z"/><path color="#e6c46d" d="M443.1 300.8l2.4 1.5l-1.8-0.6l-2.4-1.2z"/><path color="#f1bd55" d="M440.8 298.7l2.3 2.1l-1.8-0.3l-2.3-1.7z"/><path color="#fcc247" d="M438.4 296.3l2.4 2.4l-1.8 0.1l-2.4-2z"/><path color="#fdcc3c" d="M436 293.9l2.4 2.4l-1.8 0.5l-2.4-2.1z"/><path color="#f9d733" d="M433.6 291.9l2.4 2l-1.8 0.8l-2.4-1.6z"/><path color="#f6e02c" d="M431.3 290.8l2.3 1.1l-1.8 1.2l-2.4-0.9z"/><path color="#f5e528" d="M428.9 290.9l2.4-0.1l-1.9 1.4l-2.3 0.2z"/><path color="#f5e628" d="M426.5 292.3l2.4-1.4l-1.8 1.5l-2.4 1.3z"/><path color="#f6e22b" d="M424.1 294.8l2.4-2.5l-1.8 1.4l-2.4 2.3z"/><path color="#f8da30" d="M421.8 298l2.3-3.2l-1.8 1.2l-2.4 2.9z"/><path color="#fbd237" d="M419.4 301.4l2.4-3.4l-1.9 0.9l-2.3 3.1z"/><path color="#fec93e" d="M417 304.8l2.4-3.4l-1.8 0.6l-2.4 3.1z"/><path color="#fdc246" d="M414.6 307.8l2.4-3l-1.8 0.3l-2.4 2.8z"/><path color="#f7be4e" d="M412.2 310.4l2.4-2.6l-1.8 0.1l-2.4 2.5z"/><path color="#efbd54" d="M409.9 313l2.3-2.6l-1.8 0l-2.3 2.5z"/><path color="#e5bd5a" d="M407.5 316l2.4-3l-1.8-0.1l-2.4 3.3z"/><path color="#d4be61" d="M405.1 320.4l2.4-4.4l-1.8 0.2l-2.4 5.1z"/><path color="#b9c06c" d="M402.7 325.9l2.4-5.5l-1.8 0.9l-2.4 6.7z"/><path color="#9bc278" d="M400.4 330.4l2.3-4.5l-1.8 2.1l-2.4 5.3z"/><path color="#8bc27f" d="M398 331.7l2.4-1.3l-1.9 2.9l-2.3 1.2z"/><path color="#93c27b" d="M395.6 330.9l2.4 0.8l-1.8 2.8l-2.4-1.8z"/><path color="#a0c276" d="M393.2 331.2l2.4-0.3l-1.8 1.8l-2.4-0.3z"/><path color="#99c279" d="M390.9 335l2.3-3.8l-1.8 1.2l-2.4 4.1z"/><path color="#72c18a" d="M388.5 342.6l2.4-7.6l-1.9 1.5l-2.3 8.6z"/><path color="#34b9ab" d="M386.1 352.7l2.4-10.1l-1.8 2.5l-2.4 11.4z"/><path color="#14a7cb" d="M383.7 363.8l2.4-11.1l-1.8 3.8l-2.4 12.2z"/><path color="#1d89d8" d="M381.4 374.1l2.3-10.3l-1.8 4.9l-2.4 10.9z"/><path color="#1670e0" d="M379 382.3l2.4-8.2l-1.9 5.5l-2.3 8.2z"/><path color="#2f56cb" d="M376.6 387.7l2.4-5.4l-1.8 5.5l-2.4 5z"/><path color="#3d48b3" d="M374.2 390.1l2.4-2.4l-1.8 5.1l-2.4 2.2z"/><path color="#575fbc" d="M371.8 389.6l2.4 0.5l-1.8 4.9l-2.4-0.3z"/><path color="#6a83d7" d="M369.5 386.3l2.3 3.3l-1.8 5.1l-2.3-3z"/><path color="#5a99e9" d="M367.1 380.1l2.4 6.2l-1.8 5.4l-2.4-6.1z"/><path color="#5ea9e4" d="M364.7 371.9l2.4 8.2l-1.8 5.5l-2.4-8.8z"/><path color="#54bddb" d="M362.3 362.9l2.4 9l-1.8 4.9l-2.4-10.2z"/><path color="#5fc9c3" d="M360 354.8l2.3 8.1l-1.8 3.7l-2.4-9.5z"/><path color="#86cda4" d="M357.6 348.8l2.4 6l-1.9 2.3l-2.3-7.4z"/><path color="#b6d4a1" d="M355.2 345.2l2.4 3.6l-1.8 0.9l-2.4-4.6z"/><path color="#d6deb3" d="M352.8 343.8l2.4 1.4l-1.8-0.1l-2.4-1.7z"/><path color="#c2cd8a" d="M350.5 346.1l2.3-2.3l-1.8-0.4l-2.4 1.6z"/><path color="#e6ddac" d="M449.7 304l2.4 1.4l-1.8 0.2l-2.4-2.5z"/><path color="#e6d28f" d="M447.3 303l2.4 1l-1.8-0.9l-2.4-0.8z"/><path color="#e8c162" d="M445 301.4l2.3 1.6l-1.8-0.7l-2.4-1.5z"/><path color="#f5be51" d="M442.6 299.2l2.4 2.2l-1.9-0.6l-2.3-2.1z"/><path color="#fec543" d="M440.2 296.5l2.4 2.7l-1.8-0.5l-2.4-2.4z"/><path color="#fbd137" d="M437.8 293.8l2.4 2.7l-1.8-0.2l-2.4-2.4z"/><path color="#f7dd2e" d="M435.5 291.7l2.3 2.1l-1.8 0.1l-2.4-2z"/><path color="#f5e826" d="M433.1 290.4l2.4 1.3l-1.9 0.2l-2.3-1.1z"/><path color="#f6ef22" d="M430.7 290.4l2.4 0l-1.8 0.4l-2.4 0.1z"/><path color="#f6f021" d="M428.3 291.9l2.4-1.5l-1.8 0.5l-2.4 1.4z"/><path color="#f5eb25" d="M425.9 294.4l2.4-2.5l-1.8 0.4l-2.4 2.5z"/><path color="#f6e22b" d="M423.6 297.8l2.3-3.4l-1.8 0.4l-2.3 3.2z"/><path color="#f9d832" d="M421.2 301.3l2.4-3.5l-1.8 0.2l-2.4 3.4z"/><path color="#fdcf3a" d="M418.8 304.7l2.4-3.4l-1.8 0.1l-2.4 3.4z"/><path color="#fec641" d="M416.4 307.7l2.4-3l-1.8 0.1l-2.4 3z"/><path color="#fcc049" d="M414.1 310.4l2.3-2.7l-1.8 0.1l-2.4 2.6z"/><path color="#f5bd50" d="M411.7 312.8l2.4-2.4l-1.9 0l-2.3 2.6z"/><path color="#ecbd56" d="M409.3 315.6l2.4-2.8l-1.8 0.2l-2.4 3z"/><path color="#debd5d" d="M406.9 319.2l2.4-3.6l-1.8 0.4l-2.4 4.4z"/><path color="#cabf65" d="M404.6 323.6l2.3-4.4l-1.8 1.2l-2.4 5.5z"/><path color="#b3c16e" d="M402.2 327.3l2.4-3.7l-1.9 2.3l-2.3 4.5z"/><path color="#a7c173" d="M399.8 328.9l2.4-1.6l-1.8 3.1l-2.4 1.3z"/><path color="#abc172" d="M397.4 328.9l2.4 0l-1.8 2.8l-2.4-0.8z"/><path color="#b1c16f" d="M395.1 329.8l2.3-0.9l-1.8 2l-2.4 0.3z"/><path color="#aac172" d="M392.7 333.2l2.4-3.4l-1.9 1.4l-2.3 3.8z"/><path color="#8cc27e" d="M390.3 339.3l2.4-6.1l-1.8 1.8l-2.4 7.6z"/><path color="#55bf98" d="M387.9 347.7l2.4-8.4l-1.8 3.3l-2.4 10.1z"/><path color="#21b3ba" d="M385.5 357.1l2.4-9.4l-1.8 5l-2.4 11.1z"/><path color="#16a0d0" d="M383.2 366.2l2.3-9.1l-1.8 6.7l-2.3 10.3z"/><path color="#1d88d8" d="M380.8 373.8l2.4-7.6l-1.8 7.9l-2.4 8.2z"/><path color="#1678df" d="M378.4 379.1l2.4-5.3l-1.8 8.5l-2.4 5.4z"/><path color="#1f72e0" d="M376 381.5l2.4-2.4l-1.8 8.6l-2.4 2.4z"/><path color="#5493e7" d="M373.7 381l2.3 0.5l-1.8 8.6l-2.4-0.5z"/><path color="#62a3ea" d="M371.3 377.9l2.4 3.1l-1.9 8.6l-2.3-3.3z"/><path color="#66ade5" d="M368.9 372.3l2.4 5.6l-1.8 8.4l-2.4-6.2z"/><path color="#5fbce0" d="M366.5 365.3l2.4 7l-1.8 7.8l-2.4-8.2z"/><path color="#5ec8d1" d="M364.2 358.2l2.3 7.1l-1.8 6.6l-2.4-9z"/><path color="#78ceb7" d="M361.8 352l2.4 6.2l-1.9 4.7l-2.3-8.1z"/><path color="#95cc98" d="M359.4 347.6l2.4 4.4l-1.8 2.8l-2.4-6z"/><path color="#b5ce91" d="M357 345.1l2.4 2.5l-1.8 1.2l-2.4-3.6z"/><path color="#d8deb1" d="M354.6 344.2l2.4 0.9l-1.8 0.1l-2.4-1.4z"/><path color="#ccd398" d="M352.3 346.9l2.3-2.7l-1.8-0.4l-2.3 2.3z"/><path color="#e7ddac" d="M451.5 305.1l2.4 0.7l-1.8-0.4l-2.4-1.4z"/><path color="#e4cc83" d="M449.2 304.1l2.3 1l-1.8-1.1l-2.4-1z"/><path color="#e9bf5d" d="M446.8 302.4l2.4 1.7l-1.9-1.1l-2.3-1.6z"/><path color="#f7be4f" d="M444.4 300.2l2.4 2.2l-1.8-1l-2.4-2.2z"/><path color="#fec741" d="M442 297.5l2.4 2.7l-1.8-1l-2.4-2.7z"/><path color="#fbd436" d="M439.6 294.9l2.4 2.6l-1.8-1l-2.4-2.7z"/><path color="#f6e02c" d="M437.3 292.7l2.3 2.2l-1.8-1.1l-2.3-2.1z"/><path color="#f5ec24" d="M434.9 291.4l2.4 1.3l-1.8-1l-2.4-1.3z"/><path color="#f7f41f" d="M432.5 291.4l2.4 0l-1.8-1l-2.4 0z"/><path color="#f7f51e" d="M430.1 292.7l2.4-1.3l-1.8-1l-2.4 1.5z"/><path color="#f6ef22" d="M427.8 295.2l2.3-2.5l-1.8-0.8l-2.4 2.5z"/><path color="#f5e628" d="M425.4 298.4l2.4-3.2l-1.9-0.8l-2.3 3.4z"/><path color="#f7db30" d="M423 301.8l2.4-3.4l-1.8-0.6l-2.4 3.5z"/><path color="#fbd237" d="M420.6 304.9l2.4-3.1l-1.8-0.5l-2.4 3.4z"/><path color="#feca3d" d="M418.3 307.6l2.3-2.7l-1.8-0.2l-2.4 3z"/><path color="#fec444" d="M415.9 310.1l2.4-2.5l-1.9 0.1l-2.3 2.7z"/><path color="#fbc04a" d="M413.5 312.3l2.4-2.2l-1.8 0.3l-2.4 2.4z"/><path color="#f4bd51" d="M411.1 314.7l2.4-2.4l-1.8 0.5l-2.4 2.8z"/><path color="#eabd57" d="M408.8 317.7l2.3-3l-1.8 0.9l-2.4 3.6z"/><path color="#dabe5e" d="M406.4 321.2l2.4-3.5l-1.9 1.5l-2.3 4.4z"/><path color="#cabf65" d="M404 324.3l2.4-3.1l-1.8 2.4l-2.4 3.7z"/><path color="#c1c069" d="M401.6 326.1l2.4-1.8l-1.8 3l-2.4 1.6z"/><path color="#c0c069" d="M399.2 327l2.4-0.9l-1.8 2.8l-2.4 0z"/><path color="#c2c069" d="M396.9 328.4l2.3-1.4l-1.8 1.9l-2.3 0.9z"/><path color="#bbc06b" d="M394.5 331.4l2.4-3l-1.8 1.4l-2.4 3.4z"/><path color="#a5c174" d="M392.1 336.3l2.4-4.9l-1.8 1.8l-2.4 6.1z"/><path color="#7dc285" d="M389.7 342.7l2.4-6.4l-1.8 3l-2.4 8.4z"/><path color="#48bda0" d="M387.4 350.2l2.3-7.5l-1.8 5l-2.4 9.4z"/><path color="#1fb2bb" d="M385 357.6l2.4-7.4l-1.9 6.9l-2.3 9.1z"/><path color="#14a5cd" d="M382.6 364.1l2.4-6.5l-1.8 8.6l-2.4 7.6z"/><path color="#1a97d4" d="M380.2 368.6l2.4-4.5l-1.8 9.7l-2.4 5.3z"/><path color="#2f98da" d="M377.9 370.9l2.3-2.3l-1.8 10.5l-2.4 2.4z"/><path color="#5eafe2" d="M375.5 370.6l2.4 0.3l-1.9 10.6l-2.3-0.5z"/><path color="#67b9e3" d="M373.1 368l2.4 2.6l-1.8 10.4l-2.4-3.1z"/><path color="#63c2de" d="M370.7 363.7l2.4 4.3l-1.8 9.9l-2.4-5.6z"/><path color="#64cad3" d="M368.3 358.5l2.4 5.2l-1.8 8.6l-2.4-7z"/><path color="#77cfbf" d="M366 353.4l2.3 5.1l-1.8 6.8l-2.3-7.1z"/><path color="#91d0a6" d="M363.6 349.3l2.4 4.1l-1.8 4.8l-2.4-6.2z"/><path color="#a0c785" d="M361.2 346.6l2.4 2.7l-1.8 2.7l-2.4-4.4z"/><path color="#b9ca84" d="M358.8 345.2l2.4 1.4l-1.8 1l-2.4-2.5z"/><path color="#d8dbaa" d="M356.5 344.7l2.3 0.5l-1.8-0.1l-2.4-0.9z"/><path color="#d5d7a1" d="M354.1 347.3l2.4-2.6l-1.9-0.5l-2.3 2.7z"/><path color="#e7dca9" d="M453.3 306.3l2.4 0.4l-1.8-0.9l-2.4-0.7z"/><path color="#e2c979" d="M451 305.4l2.3 0.9l-1.8-1.2l-2.3-1z"/><path color="#e8be5b" d="M448.6 303.8l2.4 1.6l-1.8-1.3l-2.4-1.7z"/><path color="#f6be4f" d="M446.2 301.7l2.4 2.1l-1.8-1.4l-2.4-2.2z"/><path color="#fec641" d="M443.8 299.3l2.4 2.4l-1.8-1.5l-2.4-2.7z"/><path color="#fbd336" d="M441.5 296.8l2.3 2.5l-1.8-1.8l-2.4-2.6z"/><path color="#f6df2d" d="M439.1 294.8l2.4 2l-1.9-1.9l-2.3-2.2z"/><path color="#f5ea25" d="M436.7 293.6l2.4 1.2l-1.8-2.1l-2.4-1.3z"/><path color="#f6f220" d="M434.3 293.5l2.4 0.1l-1.8-2.2l-2.4 0z"/><path color="#f7f321" d="M432 294.7l2.3-1.2l-1.8-2.1l-2.4 1.3z"/><path color="#f6ef2f" d="M429.6 297l2.4-2.3l-1.9-2l-2.3 2.5z"/><path color="#f6e739" d="M427.2 300l2.4-3l-1.8-1.8l-2.4 3.2z"/><path color="#f7dd34" d="M424.8 302.9l2.4-2.9l-1.8-1.6l-2.4 3.4z"/><path color="#fad435" d="M422.4 305.3l2.4-2.4l-1.8-1.1l-2.4 3.1z"/><path color="#fdce3a" d="M420.1 307.4l2.3-2.1l-1.8-0.4l-2.3 2.7z"/><path color="#fec93e" d="M417.7 309.3l2.4-1.9l-1.8 0.2l-2.4 2.5z"/><path color="#fec543" d="M415.3 311.2l2.4-1.9l-1.8 0.8l-2.4 2.2z"/><path color="#fcc148" d="M412.9 313.2l2.4-2l-1.8 1.1l-2.4 2.4z"/><path color="#f7be4e" d="M410.6 315.7l2.3-2.5l-1.8 1.5l-2.3 3z"/><path color="#ecbd55" d="M408.2 318.6l2.4-2.9l-1.8 2l-2.4 3.5z"/><path color="#e0bd5c" d="M405.8 321.4l2.4-2.8l-1.8 2.6l-2.4 3.1z"/><path color="#d8be60" d="M403.4 323.6l2.4-2.2l-1.8 2.9l-2.4 1.8z"/><path color="#d4be61" d="M401.1 325.2l2.3-1.6l-1.8 2.5l-2.4 0.9z"/><path color="#d1be62" d="M398.7 327.1l2.4-1.9l-1.9 1.8l-2.3 1.4z"/><path color="#cabf65" d="M396.3 330l2.4-2.9l-1.8 1.3l-2.4 3z"/><path color="#bac06c" d="M393.9 334l2.4-4l-1.8 1.4l-2.4 4.9z"/><path color="#9fc276" d="M391.6 339l2.3-5l-1.8 2.3l-2.4 6.4z"/><path color="#79c286" d="M389.2 344.6l2.4-5.6l-1.9 3.7l-2.3 7.5z"/><path color="#4ebe9c" d="M386.8 350.3l2.4-5.7l-1.8 5.6l-2.4 7.4z"/><path color="#2db7b1" d="M384.4 355.3l2.4-5l-1.8 7.3l-2.4 6.5z"/><path color="#1cb1be" d="M382 358.9l2.4-3.6l-1.8 8.8l-2.4 4.5z"/><path color="#2cb5ca" d="M379.7 360.7l2.3-1.8l-1.8 9.7l-2.3 2.3z"/><path color="#57c4d5" d="M377.3 360.6l2.4 0.1l-1.8 10.2l-2.4-0.3z"/><path color="#66cad3" d="M374.9 358.9l2.4 1.7l-1.8 10l-2.4-2.6z"/><path color="#70cecb" d="M372.5 356l2.4 2.9l-1.8 9.1l-2.4-4.3z"/><path color="#80d1bc" d="M370.2 352.7l2.3 3.3l-1.8 7.7l-2.4-5.2z"/><path color="#94d1a9" d="M367.8 349.7l2.4 3l-1.9 5.8l-2.3-5.1z"/><path color="#a1ca8e" d="M365.4 347.4l2.4 2.3l-1.8 3.7l-2.4-4.1z"/><path color="#a9c274" d="M363 346.1l2.4 1.3l-1.8 1.9l-2.4-2.7z"/><path color="#bec67b" d="M360.7 345.4l2.3 0.7l-1.8 0.5l-2.4-1.4z"/><path color="#d8d8a2" d="M358.3 345.2l2.4 0.2l-1.9-0.2l-2.3-0.5z"/><path color="#dbdba9" d="M355.9 347.7l2.4-2.5l-1.8-0.5l-2.4 2.6z"/><path color="#e6daa5" d="M455.2 307.5l2.3 0.4l-1.8-1.2l-2.4-0.4z"/><path color="#e0c674" d="M452.8 306.7l2.4 0.8l-1.9-1.2l-2.3-0.9z"/><path color="#e7be5b" d="M450.4 305.4l2.4 1.3l-1.8-1.3l-2.4-1.6z"/><path color="#f4bd51" d="M448 303.6l2.4 1.8l-1.8-1.6l-2.4-2.1z"/><path color="#fec444" d="M445.7 301.5l2.3 2.1l-1.8-1.9l-2.4-2.4z"/><path color="#fccf39" d="M443.3 299.3l2.4 2.2l-1.9-2.2l-2.3-2.5z"/><path color="#f8da31" d="M440.9 297.6l2.4 1.7l-1.8-2.5l-2.4-2z"/><path color="#f5e42a" d="M438.5 296.6l2.4 1l-1.8-2.8l-2.4-1.2z"/><path color="#f5ea25" d="M436.1 296.6l2.4 0l-1.8-3l-2.4-0.1z"/><path color="#f6ed33" d="M433.8 297.7l2.3-1.1l-1.8-3.1l-2.3 1.2z"/><path color="#f7ec45" d="M431.4 299.7l2.4-2l-1.8-3l-2.4 2.3z"/><path color="#f7e64a" d="M429 302.3l2.4-2.6l-1.8-2.7l-2.4 3z"/><path color="#f8dc3d" d="M426.6 304.5l2.4-2.2l-1.8-2.3l-2.4 2.9z"/><path color="#fad534" d="M424.3 305.8l2.3-1.3l-1.8-1.6l-2.4 2.4z"/><path color="#fbd236" d="M421.9 306.8l2.4-1l-1.9-0.5l-2.3 2.1z"/><path color="#fcd038" d="M419.5 308l2.4-1.2l-1.8 0.6l-2.4 1.9z"/><path color="#fdce3a" d="M417.1 309.3l2.4-1.3l-1.8 1.3l-2.4 1.9z"/><path color="#fecb3d" d="M414.8 311l2.3-1.7l-1.8 1.9l-2.4 2z"/><path color="#fec741" d="M412.4 313.1l2.4-2.1l-1.9 2.2l-2.3 2.5z"/><path color="#fcc247" d="M410 315.7l2.4-2.6l-1.8 2.6l-2.4 2.9z"/><path color="#f5be4f" d="M407.6 318.4l2.4-2.7l-1.8 2.9l-2.4 2.8z"/><path color="#edbd55" d="M405.3 321l2.3-2.6l-1.8 3l-2.4 2.2z"/><path color="#e6bd59" d="M402.9 323.5l2.4-2.5l-1.9 2.6l-2.3 1.6z"/><path color="#e0bd5c" d="M400.5 326.1l2.4-2.6l-1.8 1.7l-2.4 1.9z"/><path color="#d6be60" d="M398.1 329.3l2.4-3.2l-1.8 1l-2.4 2.9z"/><path color="#c8bf66" d="M395.7 333.1l2.4-3.8l-1.8 0.7l-2.4 4z"/><path color="#b5c16e" d="M393.4 337.4l2.3-4.3l-1.8 0.9l-2.3 5z"/><path color="#9bc278" d="M391 341.9l2.4-4.5l-1.8 1.6l-2.4 5.6z"/><path color="#7dc284" d="M388.6 346.3l2.4-4.4l-1.8 2.7l-2.4 5.7z"/><path color="#60c092" d="M386.2 349.9l2.4-3.6l-1.8 4l-2.4 5z"/><path color="#4bbe9e" d="M383.9 352.4l2.3-2.5l-1.8 5.4l-2.4 3.6z"/><path color="#4abfa7" d="M381.5 353.6l2.4-1.2l-1.9 6.5l-2.3 1.8z"/><path color="#6acab6" d="M379.1 353.4l2.4 0.2l-1.8 7.1l-2.4-0.1z"/><path color="#7ed0b6" d="M376.7 352.3l2.4 1.1l-1.8 7.2l-2.4-1.7z"/><path color="#8ed1ae" d="M374.4 350.6l2.3 1.7l-1.8 6.6l-2.4-2.9z"/><path color="#9bd0a0" d="M372 348.8l2.4 1.8l-1.9 5.4l-2.3-3.3z"/><path color="#a2c989" d="M369.6 347.4l2.4 1.4l-1.8 3.9l-2.4-3z"/><path color="#a8c274" d="M367.2 346.5l2.4 0.9l-1.8 2.3l-2.4-2.3z"/><path color="#b5c16e" d="M364.9 346.1l2.3 0.4l-1.8 0.9l-2.4-1.3z"/><path color="#c2c475" d="M362.5 345.9l2.4 0.2l-1.9 0l-2.3-0.7z"/><path color="#d8d59b" d="M360.1 345.8l2.4 0.1l-1.8-0.5l-2.4-0.2z"/><path color="#e0dcab" d="M357.7 348l2.4-2.2l-1.8-0.6l-2.4 2.5z"/><path color="#e5d9a2" d="M457 308.7l2.4 0.4l-1.9-1.2l-2.3-0.4z"/><path color="#dfc571" d="M454.6 308l2.4 0.7l-1.8-1.2l-2.4-0.8z"/><path color="#e5bd5b" d="M452.2 306.9l2.4 1.1l-1.8-1.3l-2.4-1.3z"/><path color="#f2bd52" d="M449.8 305.4l2.4 1.5l-1.8-1.5l-2.4-1.8z"/><path color="#fcc148" d="M447.5 303.6l2.3 1.8l-1.8-1.8l-2.3-2.1z"/><path color="#fecb3d" d="M445.1 301.6l2.4 2l-1.8-2.1l-2.4-2.2z"/><path color="#fad534" d="M442.7 300l2.4 1.6l-1.8-2.3l-2.4-1.7z"/><path color="#f7dd2f" d="M440.3 299.5l2.4 0.5l-1.8-2.4l-2.4-1z"/><path color="#f6e22f" d="M438 300.1l2.3-0.6l-1.8-2.9l-2.4 0z"/><path color="#f7e646" d="M435.6 301.3l2.4-1.2l-1.9-3.5l-2.3 1.1z"/><path color="#f8e553" d="M433.2 303.2l2.4-1.9l-1.8-3.6l-2.4 2z"/><path color="#f9e157" d="M430.8 305.5l2.4-2.3l-1.8-3.5l-2.4 2.6z"/><path color="#fad943" d="M428.5 306.7l2.3-1.2l-1.8-3.2l-2.4 2.2z"/><path color="#fad534" d="M426.1 306.6l2.4 0.1l-1.9-2.2l-2.3 1.3z"/><path color="#f9d733" d="M423.7 306.3l2.4 0.3l-1.8-0.8l-2.4 1z"/><path color="#f9d832" d="M421.3 306.5l2.4-0.2l-1.8 0.5l-2.4 1.2zM419 307.2l2.3-0.7l-1.8 1.5l-2.4 1.3z"/><path color="#f9d733" d="M416.6 308.4l2.4-1.2l-1.9 2.1l-2.3 1.7z"/><path color="#fad435" d="M414.2 310.2l2.4-1.8l-1.8 2.6l-2.4 2.1z"/><path color="#fccf39" d="M411.8 312.7l2.4-2.5l-1.8 2.9l-2.4 2.6z"/><path color="#fec93f" d="M409.4 315.6l2.4-2.9l-1.8 3l-2.4 2.7z"/><path color="#fdc346" d="M407.1 318.8l2.3-3.2l-1.8 2.8l-2.3 2.6z"/><path color="#f7be4e" d="M404.7 322.1l2.4-3.3l-1.8 2.2l-2.4 2.5z"/><path color="#ecbd56" d="M402.3 325.7l2.4-3.6l-1.8 1.4l-2.4 2.6z"/><path color="#dfbd5d" d="M399.9 329.7l2.4-4l-1.8 0.4l-2.4 3.2z"/><path color="#d1c16a" d="M397.6 334.1l2.3-4.4l-1.8-0.4l-2.4 3.8z"/><path color="#c2c678" d="M395.2 338.6l2.4-4.5l-1.9-1l-2.3 4.3z"/><path color="#afc780" d="M392.8 343l2.4-4.4l-1.8-1.2l-2.4 4.5z"/><path color="#97c684" d="M390.4 346.8l2.4-3.8l-1.8-1.1l-2.4 4.4z"/><path color="#7fc387" d="M388.1 349.5l2.3-2.7l-1.8-0.5l-2.4 3.6z"/><path color="#6fc18b" d="M385.7 351l2.4-1.5l-1.9 0.4l-2.3 2.5z"/><path color="#6bc18d" d="M383.3 351.2l2.4-0.2l-1.8 1.4l-2.4 1.2z"/><path color="#76c48e" d="M380.9 350.5l2.4 0.7l-1.8 2.4l-2.4-0.2z"/><path color="#89c78e" d="M378.6 349.3l2.3 1.2l-1.8 2.9l-2.4-1.1z"/><path color="#98c787" d="M376.2 348.1l2.4 1.2l-1.9 3l-2.3-1.7z"/><path color="#a1c37a" d="M373.8 347.1l2.4 1l-1.8 2.5l-2.4-1.8z"/><path color="#abc172" d="M371.4 346.6l2.4 0.5l-1.8 1.7l-2.4-1.4z"/><path color="#b5c16e" d="M369 346.6l2.4 0l-1.8 0.8l-2.4-0.9z"/><path color="#bcc06b" d="M366.7 346.7l2.3-0.1l-1.8-0.1l-2.3-0.4z"/><path color="#c5c371" d="M364.3 346.6l2.4 0.1l-1.8-0.6l-2.4-0.2z"/><path color="#d9d396" d="M361.9 346.3l2.4 0.3l-1.8-0.7l-2.4-0.1z"/><path color="#e3ddac" d="M359.5 348.4l2.4-2.1l-1.8-0.5l-2.4 2.2z"/><path color="#e5d8a1" d="M458.8 309.8l2.4 0.3l-1.8-1l-2.4-0.4z"/><path color="#dfc56f" d="M456.4 309.1l2.4 0.7l-1.8-1.1l-2.4-0.7z"/><path color="#e5bd5b" d="M454 308.3l2.4 0.8l-1.8-1.1l-2.4-1.1z"/><path color="#efbd54" d="M451.7 307.2l2.3 1.1l-1.8-1.4l-2.4-1.5z"/><path color="#fabf4b" d="M449.3 305.4l2.4 1.8l-1.9-1.8l-2.3-1.8z"/><path color="#fec83f" d="M446.9 303l2.4 2.4l-1.8-1.8l-2.4-2z"/><path color="#fbd336" d="M444.5 301.2l2.4 1.8l-1.8-1.4l-2.4-1.6z"/><path color="#f8d931" d="M442.2 301.4l2.3-0.2l-1.8-1.2l-2.4-0.5z"/><path color="#f8dd40" d="M439.8 303.3l2.4-1.9l-1.9-1.9l-2.3 0.6z"/><path color="#fae05a" d="M437.4 305.4l2.4-2.1l-1.8-3.2l-2.4 1.2z"/><path color="#fbdf62" d="M435 307.6l2.4-2.2l-1.8-4.1l-2.4 1.9z"/><path color="#fcdb64" d="M432.7 309.6l2.3-2l-1.8-4.4l-2.4 2.3z"/><path color="#fdd34a" d="M430.3 309.9l2.4-0.3l-1.9-4.1l-2.3 1.2z"/><path color="#fbd237" d="M427.9 308.2l2.4 1.7l-1.8-3.2l-2.4-0.1z"/><path color="#f8d931" d="M425.5 306.3l2.4 1.9l-1.8-1.6l-2.4-0.3z"/><path color="#f6e02c" d="M423.1 305.5l2.4 0.8l-1.8 0l-2.4 0.2z"/><path color="#f5e32a" d="M420.8 305.6l2.3-0.1l-1.8 1l-2.3 0.7z"/><path color="#f5e429" d="M418.4 306.4l2.4-0.8l-1.8 1.6l-2.4 1.2z"/><path color="#f6e22b" d="M416 308l2.4-1.6l-1.8 2l-2.4 1.8z"/><path color="#f7dd2e" d="M413.6 310.5l2.4-2.5l-1.8 2.2l-2.4 2.5z"/><path color="#f9d633" d="M411.3 313.6l2.3-3.1l-1.8 2.2l-2.4 2.9z"/><path color="#fdce3a" d="M408.9 317.4l2.4-3.8l-1.9 2l-2.3 3.2z"/><path color="#fec543" d="M406.5 321.6l2.4-4.2l-1.8 1.4l-2.4 3.3z"/><path color="#f5bf53" d="M404.1 326.4l2.4-4.8l-1.8 0.5l-2.4 3.6z"/><path color="#e6c670" d="M401.8 331.8l2.3-5.4l-1.8-0.7l-2.4 4z"/><path color="#d8cd87" d="M399.4 337.5l2.4-5.7l-1.9-2.1l-2.3 4.4z"/><path color="#c8d195" d="M397 343.3l2.4-5.8l-1.8-3.4l-2.4 4.5z"/><path color="#b7d39f" d="M394.6 348.3l2.4-5l-1.8-4.7l-2.4 4.4z"/><path color="#a5d3a6" d="M392.3 352.2l2.3-3.9l-1.8-5.3l-2.4 3.8z"/><path color="#95d1a8" d="M389.9 354.5l2.4-2.3l-1.9-5.4l-2.3 2.7z"/><path color="#7fca9d" d="M387.5 355l2.4-0.5l-1.8-5l-2.4 1.5z"/><path color="#6fc28c" d="M385.1 354.1l2.4 0.9l-1.8-4l-2.4 0.2z"/><path color="#7bc285" d="M382.7 352.3l2.4 1.8l-1.8-2.9l-2.4-0.7z"/><path color="#8dc27e" d="M380.4 350.2l2.3 2.1l-1.8-1.8l-2.3-1.2z"/><path color="#9ec277" d="M378 348.5l2.4 1.7l-1.8-0.9l-2.4-1.2z"/><path color="#abc171" d="M375.6 347.4l2.4 1.1l-1.8-0.4l-2.4-1z"/><path color="#b5c16e" d="M373.2 347.1l2.4 0.3l-1.8-0.3l-2.4-0.5z"/><path color="#bbc06b" d="M370.9 347.2l2.3-0.1l-1.8-0.5l-2.4 0z"/><path color="#bfc06a" d="M368.5 347.5l2.4-0.3l-1.9-0.6l-2.3 0.1z"/><path color="#c7c36f" d="M366.1 347.2l2.4 0.3l-1.8-0.8l-2.4-0.1z"/><path color="#dad293" d="M363.7 346.7l2.4 0.5l-1.8-0.6l-2.4-0.3z"/><path color="#e5ddad" d="M361.4 348.9l2.3-2.2l-1.8-0.4l-2.4 2.1z"/><path color="#e6d9a1" d="M460.6 310.8l2.4 0.3l-1.8-1l-2.4-0.3z"/><path color="#e0c570" d="M458.2 310.3l2.4 0.5l-1.8-1l-2.4-0.7z"/><path color="#e4bd5b" d="M455.9 309.9l2.3 0.4l-1.8-1.2l-2.4-0.8z"/><path color="#edbd55" d="M453.5 309.2l2.4 0.7l-1.9-1.6l-2.3-1.1z"/><path color="#f8be4e" d="M451.1 307.5l2.4 1.7l-1.8-2l-2.4-1.8z"/><path color="#fec741" d="M448.7 304.5l2.4 3l-1.8-2.1l-2.4-2.4z"/><path color="#fbd336" d="M446.4 302.2l2.3 2.3l-1.8-1.5l-2.4-1.8z"/><path color="#f8da35" d="M444 303.4l2.4-1.2l-1.9-1l-2.3 0.2z"/><path color="#fbde5d" d="M441.6 307.2l2.4-3.8l-1.8-2l-2.4 1.9z"/><path color="#fddb6e" d="M439.2 310.7l2.4-3.5l-1.8-3.9l-2.4 2.1z"/><path color="#fed774" d="M436.8 313.2l2.4-2.5l-1.8-5.3l-2.4 2.2z"/><path color="#fed375" d="M434.5 315.1l2.3-1.9l-1.8-5.6l-2.3 2z"/><path color="#fdc854" d="M432.1 314.4l2.4 0.7l-1.8-5.5l-2.4 0.3z"/><path color="#fdcc3c" d="M429.7 311l2.4 3.4l-1.8-4.5l-2.4-1.7z"/><path color="#f8d932" d="M427.3 307.6l2.4 3.4l-1.8-2.8l-2.4-1.9z"/><path color="#f5e429" d="M425 305.9l2.3 1.7l-1.8-1.3l-2.4-0.8z"/><path color="#f5eb24" d="M422.6 305.5l2.4 0.4l-1.9-0.4l-2.3 0.1z"/><path color="#f6ef22" d="M420.2 306.1l2.4-0.6l-1.8 0.1l-2.4 0.8z"/><path color="#f6ed23" d="M417.8 307.6l2.4-1.5l-1.8 0.3l-2.4 1.6z"/><path color="#f5e826" d="M415.5 310l2.3-2.4l-1.8 0.4l-2.4 2.5z"/><path color="#f6e02c" d="M413.1 313.4l2.4-3.4l-1.9 0.5l-2.3 3.1z"/><path color="#fad635" d="M410.7 317.6l2.4-4.2l-1.8 0.2l-2.4 3.8z"/><path color="#fecd4a" d="M408.3 322.7l2.4-5.1l-1.8-0.2l-2.4 4.2z"/><path color="#f8ca6e" d="M405.9 328.9l2.3-6.2l-1.8-1.1l-2.4 4.8z"/><path color="#e5ce87" d="M403.6 336l2.4-7.1l-1.9-2.5l-2.3 5.4z"/><path color="#d0d296" d="M401.2 343.6l2.4-7.6l-1.8-4.2l-2.4 5.7z"/><path color="#b8d5a4" d="M398.8 351l2.4-7.4l-1.8-6.1l-2.4 5.8z"/><path color="#9fd6b1" d="M396.4 357.2l2.4-6.2l-1.8-7.7l-2.4 5z"/><path color="#8cd4bc" d="M394.1 361.6l2.3-4.4l-1.8-8.9l-2.3 3.9z"/><path color="#7fd2c1" d="M391.7 363.7l2.4-2.1l-1.8-9.4l-2.4 2.3z"/><path color="#6eccba" d="M389.3 363.5l2.4 0.2l-1.8-9.2l-2.4 0.5z"/><path color="#52c0a1" d="M386.9 361.4l2.4 2.1l-1.8-8.5l-2.4-0.9z"/><path color="#61c092" d="M384.6 358l2.3 3.4l-1.8-7.3l-2.4-1.8z"/><path color="#7ec284" d="M382.2 354.3l2.4 3.7l-1.9-5.7l-2.3-2.1z"/><path color="#98c279" d="M379.8 351.2l2.4 3.1l-1.8-4.1l-2.4-1.7z"/><path color="#aac172" d="M377.4 349.2l2.4 2l-1.8-2.7l-2.4-1.1z"/><path color="#b6c16d" d="M375.1 348.4l2.3 0.8l-1.8-1.8l-2.4-0.3z"/><path color="#bcc06b" d="M372.7 348.4l2.4 0l-1.9-1.3l-2.3 0.1z"/><path color="#c1c069" d="M370.3 348.4l2.4 0l-1.8-1.2l-2.4 0.3z"/><path color="#c9c36f" d="M367.9 347.9l2.4 0.5l-1.8-0.9l-2.4-0.3z"/><path color="#ddd293" d="M365.5 347l2.4 0.9l-1.8-0.7l-2.4-0.5z"/><path color="#e8deae" d="M363.2 349.7l2.3-2.7l-1.8-0.3l-2.3 2.2z"/><path color="#e7daa4" d="M462.4 312.1l2.4 0.2l-1.8-1.2l-2.4-0.3z"/><path color="#e0c673" d="M460.1 312l2.3 0.1l-1.8-1.3l-2.4-0.5z"/><path color="#e2be5d" d="M457.7 312.2l2.4-0.2l-1.9-1.7l-2.3-0.4z"/><path color="#e7bd59" d="M455.3 312.4l2.4-0.2l-1.8-2.3l-2.4-0.7z"/><path color="#f0bd53" d="M452.9 311.5l2.4 0.9l-1.8-3.2l-2.4-1.7z"/><path color="#fcc247" d="M450.5 309.1l2.4 2.4l-1.8-4l-2.4-3z"/><path color="#fdcf3e" d="M448.2 307.4l2.3 1.7l-1.8-4.6l-2.3-2.3z"/><path color="#fcdd65" d="M445.8 309.6l2.4-2.2l-1.8-5.2l-2.4 1.2z"/><path color="#feda7a" d="M443.4 314.5l2.4-4.9l-1.8-6.2l-2.4 3.8z"/><path color="#fad485" d="M441 318.4l2.4-3.9l-1.8-7.3l-2.4 3.5z"/><path color="#f4d289" d="M438.7 320.8l2.3-2.4l-1.8-7.7l-2.4 2.5z"/><path color="#efd087" d="M436.3 322.1l2.4-1.3l-1.9-7.6l-2.3 1.9z"/><path color="#ecc161" d="M433.9 320.4l2.4 1.7l-1.8-7l-2.4-0.7z"/><path color="#fac248" d="M431.5 315.4l2.4 5l-1.8-6l-2.4-3.4z"/><path color="#fbd336" d="M429.2 310.8l2.3 4.6l-1.8-4.4l-2.4-3.4z"/><path color="#f6e22b" d="M426.8 308.4l2.4 2.4l-1.9-3.2l-2.3-1.7z"/><path color="#f5eb24" d="M424.4 307.7l2.4 0.7l-1.8-2.5l-2.4-0.4z"/><path color="#f6f022" d="M422 308.1l2.4-0.4l-1.8-2.2l-2.4 0.6z"/><path color="#f6f028" d="M419.6 309.5l2.4-1.4l-1.8-2l-2.4 1.5z"/><path color="#f6ec35" d="M417.3 311.9l2.3-2.4l-1.8-1.9l-2.3 2.4z"/><path color="#f7e543" d="M414.9 315.3l2.4-3.4l-1.8-1.9l-2.4 3.4z"/><path color="#fadd56" d="M412.5 319.9l2.4-4.6l-1.8-1.9l-2.4 4.2z"/><path color="#fed46b" d="M410.1 325.8l2.4-5.9l-1.8-2.3l-2.4 5.1z"/><path color="#f3cf81" d="M407.8 333.3l2.3-7.5l-1.8-3.1l-2.3 6.2z"/><path color="#dad292" d="M405.4 342.2l2.4-8.9l-1.8-4.4l-2.4 7.1z"/><path color="#bbd5a2" d="M403 351.8l2.4-9.6l-1.8-6.2l-2.4 7.6z"/><path color="#96d5b5" d="M400.6 360.8l2.4-9l-1.8-8.2l-2.4 7.4z"/><path color="#7ad1c7" d="M398.3 368.1l2.3-7.3l-1.8-9.8l-2.4 6.2z"/><path color="#6ccdd3" d="M395.9 372.9l2.4-4.8l-1.9-10.9l-2.3 4.4z"/><path color="#66c9d8" d="M393.5 374.9l2.4-2l-1.8-11.3l-2.4 2.1z"/><path color="#4fc2d2" d="M391.1 374.2l2.4 0.7l-1.8-11.2l-2.4-0.2z"/><path color="#24b5bd" d="M388.8 371l2.3 3.2l-1.8-10.7l-2.4-2.1z"/><path color="#33b9ac" d="M386.4 366l2.4 5l-1.9-9.6l-2.3-3.4z"/><path color="#57bf97" d="M384 360.5l2.4 5.5l-1.8-8l-2.4-3.7z"/><path color="#80c283" d="M381.6 355.5l2.4 5l-1.8-6.2l-2.4-3.1z"/><path color="#9fc277" d="M379.2 352.1l2.4 3.4l-1.8-4.3l-2.4-2z"/><path color="#b1c16f" d="M376.9 350.3l2.3 1.8l-1.8-2.9l-2.3-0.8z"/><path color="#bbc06b" d="M374.5 349.7l2.4 0.6l-1.8-1.9l-2.4 0z"/><path color="#c1c069" d="M372.1 349.3l2.4 0.4l-1.8-1.3l-2.4 0z"/><path color="#ccc370" d="M369.7 348.4l2.4 0.9l-1.8-0.9l-2.4-0.5z"/><path color="#e1d495" d="M367.4 347.1l2.3 1.3l-1.8-0.5l-2.4-0.9z"/><path color="#ebdeae" d="M365 351l2.4-3.9l-1.9-0.1l-2.3 2.7z"/><path color="#e6dba8" d="M464.2 314.3l2.4-0.2l-1.8-1.8l-2.4-0.2z"/><path color="#dec97a" d="M461.9 314.9l2.3-0.6l-1.8-2.2l-2.3-0.1z"/><path color="#ddc56f" d="M459.5 316.1l2.4-1.2l-1.8-2.9l-2.4 0.2z"/><path color="#e1ca7d" d="M457.1 317.8l2.4-1.7l-1.8-3.9l-2.4 0.2z"/><path color="#e3cb7f" d="M454.7 319l2.4-1.2l-1.8-5.4l-2.4-0.9z"/><path color="#e9c773" d="M452.4 319l2.3 0l-1.8-7.5l-2.4-2.4z"/><path color="#f3cf7d" d="M450 319.5l2.4-0.5l-1.9-9.9l-2.3-1.7z"/><path color="#f4d68f" d="M447.6 322.5l2.4-3l-1.8-12.1l-2.4 2.2z"/><path color="#ead595" d="M445.2 326.6l2.4-4.1l-1.8-12.9l-2.4 4.9z"/><path color="#ded59a" d="M442.9 329.2l2.3-2.6l-1.8-12.1l-2.4 3.9z"/><path color="#d7d499" d="M440.5 330.3l2.4-1.1l-1.9-10.8l-2.3 2.4z"/><path color="#d2d193" d="M438.1 330.6l2.4-0.3l-1.8-9.5l-2.4 1.3z"/><path color="#ccc26b" d="M435.7 327.6l2.4 3l-1.8-8.5l-2.4-1.7z"/><path color="#e6bd59" d="M433.3 321.2l2.4 6.4l-1.8-7.2l-2.4-5z"/><path color="#fcc741" d="M431 315.5l2.3 5.7l-1.8-5.8l-2.3-4.6z"/><path color="#f9d832" d="M428.6 312.7l2.4 2.8l-1.8-4.7l-2.4-2.4z"/><path color="#f6e22c" d="M426.2 312l2.4 0.7l-1.8-4.3l-2.4-0.7z"/><path color="#f6e93d" d="M423.8 312.4l2.4-0.4l-1.8-4.3l-2.4 0.4z"/><path color="#f7eb50" d="M421.5 313.7l2.3-1.3l-1.8-4.3l-2.4 1.4z"/><path color="#f8e95b" d="M419.1 316l2.4-2.3l-1.9-4.2l-2.3 2.4z"/><path color="#fae363" d="M416.7 319.3l2.4-3.3l-1.8-4.1l-2.4 3.4z"/><path color="#fddc6d" d="M414.3 324l2.4-4.7l-1.8-4l-2.4 4.6z"/><path color="#fbd27c" d="M412 330.6l2.3-6.6l-1.8-4.1l-2.4 5.9z"/><path color="#e6d18d" d="M409.6 339.3l2.4-8.7l-1.9-4.8l-2.3 7.5z"/><path color="#c6d49c" d="M407.2 349.7l2.4-10.4l-1.8-6l-2.4 8.9z"/><path color="#9ad4b1" d="M404.8 360.7l2.4-11l-1.8-7.5l-2.4 9.6z"/><path color="#71cfca" d="M402.5 370.8l2.3-10.1l-1.8-8.9l-2.4 9z"/><path color="#63c6db" d="M400.1 378.6l2.4-7.8l-1.9-10l-2.3 7.3z"/><path color="#67bee2" d="M397.7 383.4l2.4-4.8l-1.8-10.5l-2.4 4.8z"/><path color="#66b8e3" d="M395.3 385.4l2.4-2l-1.8-10.5l-2.4 2z"/><path color="#49abdd" d="M392.9 384.4l2.4 1l-1.8-10.5l-2.4-0.7z"/><path color="#16a0d1" d="M390.6 380.7l2.3 3.7l-1.8-10.2l-2.3-3.2z"/><path color="#15acc6" d="M388.2 374.6l2.4 6.1l-1.8-9.7l-2.4-5z"/><path color="#2eb8b0" d="M385.8 367.4l2.4 7.2l-1.8-8.6l-2.4-5.5z"/><path color="#5dc094" d="M383.4 360.6l2.4 6.8l-1.8-6.9l-2.4-5z"/><path color="#8bc27e" d="M381.1 355.5l2.3 5.1l-1.8-5.1l-2.4-3.4z"/><path color="#a8c173" d="M378.7 352.5l2.4 3l-1.9-3.4l-2.3-1.8z"/><path color="#b8c06d" d="M376.3 351.2l2.4 1.3l-1.8-2.2l-2.4-0.6z"/><path color="#c2c06a" d="M373.9 350.2l2.4 1l-1.8-1.5l-2.4-0.4z"/><path color="#d0c472" d="M371.6 348.7l2.3 1.5l-1.8-0.9l-2.4-0.9z"/><path color="#e6d69a" d="M369.2 347.1l2.4 1.6l-1.9-0.3l-2.3-1.3z"/><path color="#eddfb0" d="M366.8 353l2.4-5.9l-1.8 0l-2.4 3.9z"/><path color="#e5dfb1" d="M466.1 317.6l2.3-0.7l-1.8-2.8l-2.4 0.2z"/><path color="#ded59a" d="M463.7 319.4l2.4-1.8l-1.9-3.3l-2.3 0.6z"/><path color="#d7d190" d="M461.3 322l2.4-2.6l-1.8-4.5l-2.4 1.2z"/><path color="#d3d397" d="M458.9 325.3l2.4-3.3l-1.8-5.9l-2.4 1.7z"/><path color="#ced59d" d="M456.6 328.9l2.3-3.6l-1.8-7.5l-2.4 1.2z"/><path color="#cbd6a1" d="M454.2 332.2l2.4-3.3l-1.9-9.9l-2.3 0z"/><path color="#c9d7a5" d="M451.8 335.4l2.4-3.2l-1.8-13.2l-2.4 0.5z"/><path color="#c2d8a9" d="M449.4 338.8l2.4-3.4l-1.8-15.9l-2.4 3z"/><path color="#b7d8ad" d="M447 341.3l2.4-2.5l-1.8-16.3l-2.4 4.1z"/><path color="#acd6ad" d="M444.7 341.8l2.3-0.5l-1.8-14.7l-2.3 2.6z"/><path color="#a6d3a6" d="M442.3 341.1l2.4 0.7l-1.8-12.6l-2.4 1.1z"/><path color="#a1ce98" d="M439.9 339.7l2.4 1.4l-1.8-10.8l-2.4 0.3z"/><path color="#9fc277" d="M437.5 335.2l2.4 4.5l-1.8-9.1l-2.4-3z"/><path color="#c6bf67" d="M435.2 327.7l2.3 7.5l-1.8-7.6l-2.4-6.4z"/><path color="#f0be52" d="M432.8 321.3l2.4 6.4l-1.9-6.5l-2.3-5.7z"/><path color="#fdca3e" d="M430.4 318.2l2.4 3.1l-1.8-5.8l-2.4-2.8z"/><path color="#fbd53e" d="M428 317.4l2.4 0.8l-1.8-5.5l-2.4-0.7z"/><path color="#fade58" d="M425.7 317.9l2.3-0.5l-1.8-5.4l-2.4 0.4z"/><path color="#fbe163" d="M423.3 319.1l2.4-1.2l-1.9-5.5l-2.3 1.3z"/><path color="#fcdf6a" d="M420.9 321.3l2.4-2.2l-1.8-5.4l-2.4 2.3z"/><path color="#fddb71" d="M418.5 324.4l2.4-3.1l-1.8-5.3l-2.4 3.3z"/><path color="#fdd47a" d="M416.2 329.1l2.3-4.7l-1.8-5.1l-2.4 4.7z"/><path color="#f0d088" d="M413.8 336.1l2.4-7l-1.9-5.1l-2.3 6.6z"/><path color="#d4d295" d="M411.4 345.6l2.4-9.5l-1.8-5.5l-2.4 8.7z"/><path color="#aad4a7" d="M409 357l2.4-11.4l-1.8-6.3l-2.4 10.4z"/><path color="#77cfc3" d="M406.6 368.9l2.4-11.9l-1.8-7.3l-2.4 11z"/><path color="#5fc5da" d="M404.3 379.3l2.3-10.4l-1.8-8.2l-2.3 10.1z"/><path color="#65b6e2" d="M401.9 386.8l2.4-7.5l-1.8-8.5l-2.4 7.8z"/><path color="#66ace6" d="M399.5 391.3l2.4-4.5l-1.8-8.2l-2.4 4.8z"/><path color="#5ea4e7" d="M397.1 393l2.4-1.7l-1.8-7.9l-2.4 2z"/><path color="#378fe1" d="M394.8 392.2l2.3 0.8l-1.8-7.6l-2.4-1z"/><path color="#1e87d8" d="M392.4 388.5l2.4 3.7l-1.9-7.8l-2.3-3.7z"/><path color="#189ad3" d="M390 382l2.4 6.5l-1.8-7.8l-2.4-6.1z"/><path color="#17adc4" d="M387.6 373.7l2.4 8.3l-1.8-7.4l-2.4-7.2z"/><path color="#3cbba7" d="M385.3 365.4l2.3 8.3l-1.8-6.3l-2.4-6.8z"/><path color="#74c288" d="M382.9 358.9l2.4 6.5l-1.9-4.8l-2.3-5.1z"/><path color="#9ec277" d="M380.5 354.7l2.4 4.2l-1.8-3.4l-2.4-3z"/><path color="#b4c16e" d="M378.1 352.6l2.4 2.1l-1.8-2.2l-2.4-1.3z"/><path color="#c2c06a" d="M375.8 350.9l2.3 1.7l-1.8-1.4l-2.4-1z"/><path color="#d5c676" d="M373.4 348.8l2.4 2.1l-1.9-0.7l-2.3-1.5z"/><path color="#ecd89f" d="M371 347.1l2.4 1.7l-1.8-0.1l-2.4-1.6z"/><path color="#ecdeaf" d="M368.6 355.7l2.4-8.6l-1.8 0l-2.4 5.9z"/><path color="#e3e3be" d="M467.9 322.3l2.4-2l-1.9-3.4l-2.3 0.7z"/><path color="#dadfb3" d="M465.5 325.6l2.4-3.3l-1.8-4.7l-2.4 1.8z"/><path color="#c8d7a3" d="M463.1 329.7l2.4-4.1l-1.8-6.2l-2.4 2.6z"/><path color="#bad6a6" d="M460.7 334.5l2.4-4.8l-1.8-7.7l-2.4 3.3z"/><path color="#aad7ae" d="M458.4 339.7l2.3-5.2l-1.8-9.2l-2.3 3.6z"/><path color="#9ad6b8" d="M456 345.1l2.4-5.4l-1.8-10.8l-2.4 3.3z"/><path color="#8cd5c1" d="M453.6 349.9l2.4-4.8l-1.8-12.9l-2.4 3.2z"/><path color="#80d3c9" d="M451.2 353.6l2.4-3.7l-1.8-14.5l-2.4 3.4z"/><path color="#76d0cd" d="M448.9 355.1l2.3-1.5l-1.8-14.8l-2.4 2.5z"/><path color="#64cac6" d="M446.5 354.1l2.4 1l-1.9-13.8l-2.3 0.5z"/><path color="#52c3b6" d="M444.1 351.6l2.4 2.5l-1.8-12.3l-2.4-0.7z"/><path color="#4fbfa2" d="M441.7 348.4l2.4 3.2l-1.8-10.5l-2.4-1.4z"/><path color="#6bc18d" d="M439.4 342.4l2.3 6l-1.8-8.7l-2.4-4.5z"/><path color="#a3c175" d="M437 333.9l2.4 8.5l-1.9-7.2l-2.3-7.5z"/><path color="#d6be60" d="M434.6 327.1l2.4 6.8l-1.8-6.2l-2.4-6.4z"/><path color="#f4be4f" d="M432.2 323.8l2.4 3.3l-1.8-5.8l-2.4-3.1z"/><path color="#fdc74d" d="M429.9 323l2.3 0.8l-1.8-5.6l-2.4-0.8z"/><path color="#fed264" d="M427.5 323.4l2.4-0.4l-1.9-5.6l-2.3 0.5z"/><path color="#fed56e" d="M425.1 324.6l2.4-1.2l-1.8-5.5l-2.4 1.2z"/><path color="#fed474" d="M422.7 326.6l2.4-2l-1.8-5.5l-2.4 2.2z"/><path color="#fcd27b" d="M420.3 329.5l2.4-2.9l-1.8-5.3l-2.4 3.1z"/><path color="#f3d085" d="M418 334.1l2.3-4.6l-1.8-5.1l-2.3 4.7z"/><path color="#e0d18e" d="M415.6 341.1l2.4-7l-1.8-5l-2.4 7z"/><path color="#c0d39c" d="M413.2 351l2.4-9.9l-1.8-5l-2.4 9.5z"/><path color="#8dd2b3" d="M410.8 362.9l2.4-11.9l-1.8-5.4l-2.4 11.4z"/><path color="#60c8d0" d="M408.5 375l2.3-12.1l-1.8-5.9l-2.4 11.9z"/><path color="#5cb8e0" d="M406.1 385.2l2.4-10.2l-1.9-6.1l-2.3 10.4z"/><path color="#5fa7e5" d="M403.7 392.2l2.4-7l-1.8-5.9l-2.4 7.5z"/><path color="#539be9" d="M401.3 395.9l2.4-3.7l-1.8-5.4l-2.4 4.5z"/><path color="#3f8ce8" d="M399 397.4l2.3-1.5l-1.8-4.6l-2.4 1.7z"/><path color="#1876e3" d="M396.6 397l2.4 0.4l-1.9-4.4l-2.3-0.8z"/><path color="#1679df" d="M394.2 393.7l2.4 3.3l-1.8-4.8l-2.4-3.7z"/><path color="#1e89d7" d="M391.8 387.2l2.4 6.5l-1.8-5.2l-2.4-6.5z"/><path color="#14a3cf" d="M389.4 378.3l2.4 8.9l-1.8-5.2l-2.4-8.3z"/><path color="#27b6b4" d="M387.1 369.1l2.3 9.2l-1.8-4.6l-2.3-8.3z"/><path color="#61c092" d="M384.7 361.6l2.4 7.5l-1.8-3.7l-2.4-6.5z"/><path color="#94c27b" d="M382.3 356.6l2.4 5l-1.8-2.7l-2.4-4.2z"/><path color="#b1c16f" d="M379.9 353.7l2.4 2.9l-1.8-1.9l-2.4-2.1z"/><path color="#c4c16b" d="M377.6 351.4l2.3 2.3l-1.8-1.1l-2.3-1.7z"/><path color="#dcca7d" d="M375.2 348.7l2.4 2.7l-1.8-0.5l-2.4-2.1z"/><path color="#f1dba5" d="M372.8 347.8l2.4 0.9l-1.8 0.1l-2.4-1.7z"/><path color="#e8deaf" d="M370.4 358.5l2.4-10.7l-1.8-0.7l-2.4 8.6z"/><path color="#dde6c5" d="M469.7 327.9l2.4-4.9l-1.8-2.7l-2.4 2z"/><path color="#d2e4c5" d="M467.3 332.9l2.4-5l-1.8-5.6l-2.4 3.3z"/><path color="#b0dab4" d="M464.9 338.5l2.4-5.6l-1.8-7.3l-2.4 4.1z"/><path color="#94d5b8" d="M462.6 344.3l2.3-5.8l-1.8-8.8l-2.4 4.8z"/><path color="#7fd2c4" d="M460.2 350.2l2.4-5.9l-1.9-9.8l-2.3 5.2z"/><path color="#6eced0" d="M457.8 356l2.4-5.8l-1.8-10.5l-2.4 5.4z"/><path color="#67c9d9" d="M455.4 361.2l2.4-5.2l-1.8-10.9l-2.4 4.8z"/><path color="#66c4df" d="M453.1 365l2.3-3.8l-1.8-11.3l-2.4 3.7z"/><path color="#61bfe0" d="M450.7 366.1l2.4-1.1l-1.9-11.4l-2.3 1.5z"/><path color="#36b0d6" d="M448.3 364.4l2.4 1.7l-1.8-11l-2.4-1z"/><path color="#15abc9" d="M445.9 360.7l2.4 3.7l-1.8-10.3l-2.4-2.5z"/><path color="#1eb2bc" d="M443.6 355.7l2.3 5l-1.8-9.1l-2.4-3.2z"/><path color="#3ebba5" d="M441.2 348.3l2.4 7.4l-1.9-7.3l-2.3-6z"/><path color="#80c284" d="M438.8 339.2l2.4 9.1l-1.8-5.9l-2.4-8.5z"/><path color="#bcc06b" d="M436.4 332.2l2.4 7l-1.8-5.3l-2.4-6.8z"/><path color="#dfbd5c" d="M434 328.7l2.4 3.5l-1.8-5.1l-2.4-3.3z"/><path color="#efbe57" d="M431.7 327.8l2.3 0.9l-1.8-4.9l-2.3-0.8z"/><path color="#f5c76a" d="M429.3 328.2l2.4-0.4l-1.8-4.8l-2.4 0.4z"/><path color="#f6cb74" d="M426.9 329.3l2.4-1.1l-1.8-4.8l-2.4 1.2z"/><path color="#f4cc7a" d="M424.5 331.1l2.4-1.8l-1.8-4.7l-2.4 2z"/><path color="#efcd80" d="M422.2 333.7l2.3-2.6l-1.8-4.5l-2.4 2.9z"/><path color="#e5cf88" d="M419.8 338l2.4-4.3l-1.9-4.2l-2.3 4.6z"/><path color="#d1d090" d="M417.4 344.9l2.4-6.9l-1.8-3.9l-2.4 7z"/><path color="#add29f" d="M415 354.6l2.4-9.7l-1.8-3.8l-2.4 9.9z"/><path color="#75ceb9" d="M412.7 366.4l2.3-11.8l-1.8-3.6l-2.4 11.9z"/><path color="#51c1d5" d="M410.3 378.3l2.4-11.9l-1.9-3.5l-2.3 12.1z"/><path color="#55abe0" d="M407.9 388.3l2.4-10l-1.8-3.3l-2.4 10.2z"/><path color="#4c98e6" d="M405.5 394.8l2.4-6.5l-1.8-3.1l-2.4 7z"/><path color="#3283e6" d="M403.1 398.1l2.4-3.3l-1.8-2.6l-2.4 3.7z"/><path color="#186be2" d="M400.8 399.4l2.3-1.3l-1.8-2.2l-2.3 1.5z"/><path color="#1269e2" d="M398.4 399.3l2.4 0.1l-1.8-2l-2.4-0.4z"/><path color="#1072e2" d="M396 396.2l2.4 3.1l-1.8-2.3l-2.4-3.3z"/><path color="#1c82db" d="M393.6 389.7l2.4 6.5l-1.8-2.5l-2.4-6.5z"/><path color="#179cd2" d="M391.3 380.7l2.3 9l-1.8-2.5l-2.4-8.9z"/><path color="#1eb2bb" d="M388.9 371.2l2.4 9.5l-1.9-2.4l-2.3-9.2z"/><path color="#56bf98" d="M386.5 363.3l2.4 7.9l-1.8-2.1l-2.4-7.5z"/><path color="#8ec27d" d="M384.1 358l2.4 5.3l-1.8-1.7l-2.4-5z"/><path color="#b0c170" d="M381.8 354.5l2.3 3.5l-1.8-1.4l-2.4-2.9z"/><path color="#c8c26d" d="M379.4 351.5l2.4 3l-1.9-0.8l-2.3-2.3z"/><path color="#e4cf88" d="M377 348.6l2.4 2.9l-1.8-0.1l-2.4-2.7z"/><path color="#f5dfad" d="M374.6 350.9l2.4-2.3l-1.8 0.1l-2.4-0.9z"/><path color="#dcd8a3" d="M372.3 360.2l2.3-9.3l-1.8-3.1l-2.4 10.7z"/><path color="#cee0bb" d="M471.5 333.3l2.4-9.2l-1.8-1.1l-2.4 4.9z"/><path color="#c8e7d3" d="M469.1 340.3l2.4-7l-1.8-5.4l-2.4 5z"/><path color="#98dac9" d="M466.8 347.2l2.3-6.9l-1.8-7.4l-2.4 5.6z"/><path color="#73cfce" d="M464.4 353.7l2.4-6.5l-1.9-8.7l-2.3 5.8z"/><path color="#65c9d8" d="M462 359.6l2.4-5.9l-1.8-9.4l-2.4 5.9z"/><path color="#62c2df" d="M459.6 364.8l2.4-5.2l-1.8-9.4l-2.4 5.8z"/><path color="#65b9e2" d="M457.2 369.5l2.4-4.7l-1.8-8.8l-2.4 5.2z"/><path color="#67b1e4" d="M454.9 373l2.3-3.5l-1.8-8.3l-2.3 3.8z"/><path color="#5da8e3" d="M452.5 374.1l2.4-1.1l-1.8-8l-2.4 1.1z"/><path color="#2990d9" d="M450.1 372l2.4 2.1l-1.8-8l-2.4-1.7z"/><path color="#1997d4" d="M447.7 367.3l2.4 4.7l-1.8-7.6l-2.4-3.7z"/><path color="#13a7cc" d="M445.4 360.9l2.3 6.4l-1.8-6.6l-2.3-5z"/><path color="#25b5b6" d="M443 352.5l2.4 8.4l-1.8-5.2l-2.4-7.4z"/><path color="#64c091" d="M440.6 343.2l2.4 9.3l-1.8-4.2l-2.4-9.1z"/><path color="#a7c173" d="M438.2 336.2l2.4 7l-1.8-4l-2.4-7z"/><path color="#ccbf64" d="M435.9 332.7l2.3 3.5l-1.8-4l-2.4-3.5z"/><path color="#ddbd5d" d="M433.5 331.6l2.4 1.1l-1.9-4l-2.3-0.9z"/><path color="#e5c063" d="M431.1 331.9l2.4-0.3l-1.8-3.8l-2.4 0.4z"/><path color="#e7c56e" d="M428.7 332.9l2.4-1l-1.8-3.7l-2.4 1.1z"/><path color="#e6c775" d="M426.4 334.5l2.3-1.6l-1.8-3.6l-2.4 1.8z"/><path color="#e2ca7b" d="M424 336.8l2.4-2.3l-1.9-3.4l-2.3 2.6z"/><path color="#d8cc83" d="M421.6 340.7l2.4-3.9l-1.8-3.1l-2.4 4.3z"/><path color="#c4ce8c" d="M419.2 346.9l2.4-6.2l-1.8-2.7l-2.4 6.9z"/><path color="#9dce9a" d="M416.8 356l2.4-9.1l-1.8-2l-2.4 9.7z"/><path color="#5fc7b5" d="M414.5 367.2l2.3-11.2l-1.8-1.4l-2.3 11.8z"/><path color="#35b5d1" d="M412.1 378.8l2.4-11.6l-1.8-0.8l-2.4 11.9z"/><path color="#3499da" d="M409.7 388.5l2.4-9.7l-1.8-0.5l-2.4 10z"/><path color="#2381e1" d="M407.3 395.2l2.4-6.7l-1.8-0.2l-2.4 6.5z"/><path color="#126ee3" d="M405 398.7l2.3-3.5l-1.8-0.4l-2.4 3.3z"/><path color="#1567e1" d="M402.6 400l2.4-1.3l-1.9-0.6l-2.3 1.3z"/><path color="#1369e1" d="M400.2 399.5l2.4 0.5l-1.8-0.6l-2.4-0.1z"/><path color="#1173e2" d="M397.8 396.2l2.4 3.3l-1.8-0.2l-2.4-3.1z"/><path color="#2788dd" d="M395.5 389.6l2.3 6.6l-1.8 0l-2.4-6.5z"/><path color="#29a3d6" d="M393.1 380.7l2.4 8.9l-1.9 0.1l-2.3-9z"/><path color="#2bb7bf" d="M390.7 371.5l2.4 9.2l-1.8 0l-2.4-9.5z"/><path color="#58c099" d="M388.3 363.9l2.4 7.6l-1.8-0.3l-2.4-7.9z"/><path color="#8fc27d" d="M386 358.5l2.3 5.4l-1.8-0.6l-2.4-5.3z"/><path color="#b3c170" d="M383.6 354.8l2.4 3.7l-1.9-0.5l-2.3-3.5z"/><path color="#d0c573" d="M381.2 351.4l2.4 3.4l-1.8-0.3l-2.4-3z"/><path color="#ecd597" d="M378.8 348.7l2.4 2.7l-1.8 0.1l-2.4-2.9z"/><path color="#f5e1b3" d="M376.4 356.2l2.4-7.5l-1.8-0.1l-2.4 2.3z"/><path color="#cacf8f" d="M374.1 361.4l2.3-5.2l-1.8-5.3l-2.3 9.3z"/><path color="#b8d29c" d="M473.3 334.1l2.4-9.2l-1.8-0.8l-2.4 9.2z"/><path color="#bce7da" d="M470.9 346.5l2.4-12.4l-1.8-0.8l-2.4 7z"/><path color="#92dadc" d="M468.6 354.5l2.3-8l-1.8-6.2l-2.3 6.9z"/><path color="#68c8dd" d="M466.2 361.7l2.4-7.2l-1.8-7.3l-2.4 6.5z"/><path color="#63bce1" d="M463.8 367.4l2.4-5.7l-1.8-8l-2.4 5.9z"/><path color="#66b2e3" d="M461.4 371.9l2.4-4.5l-1.8-7.8l-2.4 5.2z"/><path color="#62a9e5" d="M459.1 375.5l2.3-3.6l-1.8-7.1l-2.4 4.7z"/><path color="#5aa1e7" d="M456.7 378.5l2.4-3l-1.9-6l-2.3 3.5z"/><path color="#4191e6" d="M454.3 379.3l2.4-0.8l-1.8-5.5l-2.4 1.1z"/><path color="#197cde" d="M451.9 376.8l2.4 2.5l-1.8-5.2l-2.4-2.1z"/><path color="#1f89d7" d="M449.6 371.3l2.3 5.5l-1.8-4.8l-2.4-4.7z"/><path color="#169ed2" d="M447.2 363.8l2.4 7.5l-1.9-4l-2.3-6.4z"/><path color="#1cb1be" d="M444.8 354.8l2.4 9l-1.8-2.9l-2.4-8.4z"/><path color="#55bf98" d="M442.4 345.7l2.4 9.1l-1.8-2.3l-2.4-9.3z"/><path color="#99c279" d="M440.1 339l2.3 6.7l-1.8-2.5l-2.4-7z"/><path color="#bfc069" d="M437.7 335.5l2.4 3.5l-1.9-2.8l-2.3-3.5z"/><path color="#d1be62" d="M435.3 334.5l2.4 1l-1.8-2.8l-2.4-1.1z"/><path color="#d8be5f" d="M432.9 334.6l2.4-0.1l-1.8-2.9l-2.4 0.3z"/><path color="#dabf61" d="M430.5 335.5l2.4-0.9l-1.8-2.7l-2.4 1z"/><path color="#d9c064" d="M428.2 336.7l2.3-1.2l-1.8-2.6l-2.3 1.6z"/><path color="#d6c169" d="M425.8 338.6l2.4-1.9l-1.8-2.2l-2.4 2.3z"/><path color="#cdc370" d="M423.4 341.9l2.4-3.3l-1.8-1.8l-2.4 3.9z"/><path color="#b7c578" d="M421 347.3l2.4-5.4l-1.8-1.2l-2.4 6.2z"/><path color="#8cc484" d="M418.7 355.3l2.3-8l-1.8-0.4l-2.4 9.1z"/><path color="#47bda2" d="M416.3 365.5l2.4-10.2l-1.9 0.7l-2.3 11.2z"/><path color="#17adc4" d="M413.9 376.3l2.4-10.8l-1.8 1.7l-2.4 11.6z"/><path color="#1b94d4" d="M411.5 385.9l2.4-9.6l-1.8 2.5l-2.4 9.7z"/><path color="#1b7fdc" d="M409.2 392.8l2.3-6.9l-1.8 2.6l-2.4 6.7z"/><path color="#1173e2" d="M406.8 396.8l2.4-4l-1.9 2.4l-2.3 3.5z"/><path color="#0f6ee2" d="M404.4 398.3l2.4-1.5l-1.8 1.9l-2.4 1.3z"/><path color="#1774e3" d="M402 397.3l2.4 1l-1.8 1.7l-2.4-0.5z"/><path color="#3d8fe5" d="M399.7 393.4l2.3 3.9l-1.8 2.2l-2.4-3.3z"/><path color="#52a4e1" d="M397.3 386.8l2.4 6.6l-1.9 2.8l-2.3-6.6z"/><path color="#4ab8da" d="M394.9 378.5l2.4 8.3l-1.8 2.8l-2.4-8.9z"/><path color="#51c4c3" d="M392.5 370.1l2.4 8.4l-1.8 2.2l-2.4-9.2z"/><path color="#73c79e" d="M390.1 363.3l2.4 6.8l-1.8 1.4l-2.4-7.6z"/><path color="#97c27b" d="M387.8 358.4l2.3 4.9l-1.8 0.6l-2.3-5.4z"/><path color="#bac270" d="M385.4 354.6l2.4 3.8l-1.8 0.1l-2.4-3.7z"/><path color="#daca7f" d="M383 351.2l2.4 3.4l-1.8 0.2l-2.4-3.4z"/><path color="#f2dba5" d="M380.6 350.2l2.4 1l-1.8 0.2l-2.4-2.7z"/><path color="#ede0b3" d="M378.3 361l2.3-10.8l-1.8-1.5l-2.4 7.5z"/><path color="#b9c67b" d="M375.9 362.5l2.4-1.5l-1.9-4.8l-2.3 5.2z"/><path color="#b0c781" d="M475.1 330.1l2.4-4l-1.8-1.2l-2.4 9.2z"/><path color="#a7decc" d="M472.8 350.3l2.3-20.2l-1.8 4l-2.4 12.4z"/><path color="#9bdce7" d="M470.4 359.3l2.4-9l-1.9-3.8l-2.3 8z"/><path color="#71c2e4" d="M468 367.1l2.4-7.8l-1.8-4.8l-2.4 7.2z"/><path color="#64aee3" d="M465.6 373.1l2.4-6l-1.8-5.4l-2.4 5.7z"/><path color="#5da4e7" d="M463.3 377.3l2.3-4.2l-1.8-5.7l-2.4 4.5z"/><path color="#549ce9" d="M460.9 380.2l2.4-2.9l-1.9-5.4l-2.3 3.6z"/><path color="#4490e8" d="M458.5 382.2l2.4-2l-1.8-4.7l-2.4 3z"/><path color="#1a75e4" d="M456.1 382.1l2.4 0.1l-1.8-3.7l-2.4 0.8z"/><path color="#1275e1" d="M453.8 378.7l2.3 3.4l-1.8-2.8l-2.4-2.5z"/><path color="#1e84da" d="M451.4 372.5l2.4 6.2l-1.9-1.9l-2.3-5.5z"/><path color="#1b9dd3" d="M449 364.4l2.4 8.1l-1.8-1.2l-2.4-7.5z"/><path color="#21b3c0" d="M446.6 355.3l2.4 9.1l-1.8-0.6l-2.4-9z"/><path color="#53bf9a" d="M444.2 346.8l2.4 8.5l-1.8-0.5l-2.4-9.1z"/><path color="#93c27b" d="M441.9 340.7l2.3 6.1l-1.8-1.1l-2.3-6.7z"/><path color="#b8c06c" d="M439.5 337.5l2.4 3.2l-1.8-1.7l-2.4-3.5z"/><path color="#cabf65" d="M437.1 336.4l2.4 1.1l-1.8-2l-2.4-1z"/><path color="#d2be62" d="M434.7 336.4l2.4 0l-1.8-1.9l-2.4 0.1z"/><path color="#d4be61" d="M432.4 336.9l2.3-0.5l-1.8-1.8l-2.4 0.9z"/><path color="#d5be61" d="M430 337.7l2.4-0.8l-1.9-1.4l-2.3 1.2z"/><path color="#d2be62" d="M427.6 339l2.4-1.3l-1.8-1l-2.4 1.9z"/><path color="#cbbf65" d="M425.2 341.5l2.4-2.5l-1.8-0.4l-2.4 3.3z"/><path color="#bac06c" d="M422.9 345.9l2.3-4.4l-1.8 0.4l-2.4 5.4z"/><path color="#98c279" d="M420.5 352.6l2.4-6.7l-1.9 1.4l-2.3 8z"/><path color="#5fc093" d="M418.1 361.5l2.4-8.9l-1.8 2.7l-2.4 10.2z"/><path color="#25b5b6" d="M415.7 371.3l2.4-9.8l-1.8 4l-2.4 10.8z"/><path color="#14a3cf" d="M413.4 380.3l2.3-9l-1.8 5l-2.4 9.6z"/><path color="#1d8ed6" d="M411 387.3l2.4-7l-1.9 5.6l-2.3 6.9z"/><path color="#1c80db" d="M408.6 391.6l2.4-4.3l-1.8 5.5l-2.4 4z"/><path color="#1b7ddf" d="M406.2 393.1l2.4-1.5l-1.8 5.2l-2.4 1.5z"/><path color="#4998e4" d="M403.8 391.9l2.4 1.2l-1.8 5.2l-2.4-1z"/><path color="#5fa9e4" d="M401.5 387.9l2.3 4l-1.8 5.4l-2.3-3.9z"/><path color="#5bb7e0" d="M399.1 381.8l2.4 6.1l-1.8 5.5l-2.4-6.6z"/><path color="#56c4d4" d="M396.7 374.5l2.4 7.3l-1.8 5l-2.4-8.3z"/><path color="#6bcbbc" d="M394.3 367.5l2.4 7l-1.8 4l-2.4-8.4z"/><path color="#8dcc9c" d="M392 362l2.3 5.5l-1.8 2.6l-2.4-6.8z"/><path color="#a7c47b" d="M389.6 357.8l2.4 4.2l-1.9 1.3l-2.3-4.9z"/><path color="#c6c574" d="M387.2 354.2l2.4 3.6l-1.8 0.6l-2.4-3.8z"/><path color="#e6d392" d="M384.8 351.3l2.4 2.9l-1.8 0.4l-2.4-3.4z"/><path color="#f5e0b2" d="M382.5 355.9l2.3-4.6l-1.8-0.1l-2.4-1z"/><path color="#d9d7a0" d="M380.1 362.8l2.4-6.9l-1.9-5.7l-2.3 10.8z"/><path color="#afc06d" d="M377.7 363.7l2.4-0.9l-1.8-1.8l-2.4 1.5z"/><path color="#b0c271" d="M477 328.2l2.3-0.9l-1.8-1.2l-2.4 4z"/><path color="#9bd1a9" d="M474.6 344.2l2.4-16l-1.9 1.9l-2.3 20.2z"/><path color="#99dae6" d="M472.2 360.7l2.4-16.5l-1.8 6.1l-2.4 9z"/><path color="#7ac1e6" d="M469.8 369l2.4-8.3l-1.8-1.4l-2.4 7.8z"/><path color="#54a1e3" d="M467.5 375.4l2.3-6.4l-1.8-1.9l-2.4 6z"/><path color="#3f90e6" d="M465.1 379.8l2.4-4.4l-1.9-2.3l-2.3 4.2z"/><path color="#2d81e6" d="M462.7 382.5l2.4-2.7l-1.8-2.5l-2.4 2.9z"/><path color="#196fe3" d="M460.3 383.4l2.4-0.9l-1.8-2.3l-2.4 2z"/><path color="#0f6ce2" d="M457.9 382l2.4 1.4l-1.8-1.2l-2.4-0.1z"/><path color="#1f7de2" d="M455.6 377.8l2.3 4.2l-1.8 0.1l-2.3-3.4z"/><path color="#3e97de" d="M453.2 371l2.4 6.8l-1.8 0.9l-2.4-6.2z"/><path color="#41b1d9" d="M450.8 362.8l2.4 8.2l-1.8 1.5l-2.4-8.1z"/><path color="#48c1c5" d="M448.4 354.2l2.4 8.6l-1.8 1.6l-2.4-9.1z"/><path color="#68c59e" d="M446.1 346.7l2.3 7.5l-1.8 1.1l-2.4-8.5z"/><path color="#95c27a" d="M443.7 341.6l2.4 5.1l-1.9 0.1l-2.3-6.1z"/><path color="#b7c16d" d="M441.3 338.8l2.4 2.8l-1.8-0.9l-2.4-3.2z"/><path color="#c7bf66" d="M438.9 337.8l2.4 1l-1.8-1.3l-2.4-1.1z"/><path color="#d0bf63" d="M436.6 337.5l2.3 0.3l-1.8-1.4l-2.4 0z"/><path color="#d4be61" d="M434.2 337.4l2.4 0.1l-1.9-1.1l-2.3 0.5z"/><path color="#d7be60" d="M431.8 337.4l2.4 0l-1.8-0.5l-2.4 0.8z"/><path color="#d9be5f" d="M429.4 337.9l2.4-0.5l-1.8 0.3l-2.4 1.3z"/><path color="#d6be60" d="M427.1 339.4l2.3-1.5l-1.8 1.1l-2.4 2.5z"/><path color="#cbbf65" d="M424.7 342.8l2.4-3.4l-1.9 2.1l-2.3 4.4z"/><path color="#b2c16f" d="M422.3 348.3l2.4-5.5l-1.8 3.1l-2.4 6.7z"/><path color="#88c280" d="M419.9 355.9l2.4-7.6l-1.8 4.3l-2.4 8.9z"/><path color="#4cbd9d" d="M417.5 364.5l2.4-8.6l-1.8 5.6l-2.4 9.8z"/><path color="#1fb2bb" d="M415.2 372.7l2.3-8.2l-1.8 6.8l-2.3 9z"/><path color="#14a5cd" d="M412.8 379.3l2.4-6.6l-1.8 7.6l-2.4 7z"/><path color="#1998d4" d="M410.4 383.5l2.4-4.2l-1.8 8l-2.4 4.3z"/><path color="#2f9bd9" d="M408 385l2.4-1.5l-1.8 8.1l-2.4 1.5z"/><path color="#5cb2e1" d="M405.7 383.9l2.3 1.1l-1.8 8.1l-2.4-1.2z"/><path color="#61bde0" d="M403.3 380.5l2.4 3.4l-1.9 8l-2.3-4z"/><path color="#5ec6d8" d="M400.9 375.4l2.4 5.1l-1.8 7.4l-2.4-6.1z"/><path color="#6bccc7" d="M398.5 369.7l2.4 5.7l-1.8 6.4l-2.4-7.3z"/><path color="#87d0af" d="M396.2 364.5l2.3 5.2l-1.8 4.8l-2.4-7z"/><path color="#a2cd93" d="M393.8 360.3l2.4 4.2l-1.9 3l-2.3-5.5z"/><path color="#b7c57a" d="M391.4 356.8l2.4 3.5l-1.8 1.7l-2.4-4.2z"/><path color="#d5cb82" d="M389 353.8l2.4 3l-1.8 1l-2.4-3.6z"/><path color="#eedba5" d="M386.6 352.7l2.4 1.1l-1.8 0.4l-2.4-2.9z"/><path color="#eee1b5" d="M384.3 362.2l2.3-9.5l-1.8-1.4l-2.3 4.6z"/><path color="#bfc982" d="M381.9 364l2.4-1.8l-1.8-6.3l-2.4 6.9z"/><path color="#adbe6a" d="M379.5 364.9l2.4-0.9l-1.8-1.2l-2.4 0.9z"/><path color="#aebf6b" d="M478.8 329.4l2.4-0.9l-1.9-1.2l-2.3 0.9z"/><path color="#aac783" d="M476.4 333.2l2.4-3.8l-1.8-1.2l-2.4 16z"/><path color="#85d3d0" d="M474 357.6l2.4-24.4l-1.8 11l-2.4 16.5z"/><path color="#7dc5e6" d="M471.6 366.9l2.4-9.3l-1.8 3.1l-2.4 8.3z"/><path color="#479be0" d="M469.3 373.6l2.3-6.7l-1.8 2.1l-2.3 6.4z"/><path color="#1d7de0" d="M466.9 378.2l2.4-4.6l-1.8 1.8l-2.4 4.4z"/><path color="#1071e2" d="M464.5 380.6l2.4-2.4l-1.8 1.6l-2.4 2.7z"/><path color="#1271e3" d="M462.1 380.8l2.4-0.2l-1.8 1.9l-2.4 0.9z"/><path color="#3387e6" d="M459.8 378.5l2.3 2.3l-1.8 2.6l-2.4-1.4z"/><path color="#549fe5" d="M457.4 373.8l2.4 4.7l-1.9 3.5l-2.3-4.2z"/><path color="#58afe0" d="M455 367.1l2.4 6.7l-1.8 4l-2.4-6.8z"/><path color="#51c0d8" d="M452.6 359.4l2.4 7.7l-1.8 3.9l-2.4-8.2z"/><path color="#61c9c0" d="M450.3 351.9l2.3 7.5l-1.8 3.4l-2.4-8.6z"/><path color="#82ca9d" d="M447.9 345.9l2.4 6l-1.9 2.3l-2.3-7.5z"/><path color="#9dc278" d="M445.5 341.8l2.4 4.1l-1.8 0.8l-2.4-5.1z"/><path color="#b9c06c" d="M443.1 339.7l2.4 2.1l-1.8-0.2l-2.4-2.8z"/><path color="#c8bf66" d="M440.8 338.6l2.3 1.1l-1.8-0.9l-2.4-1z"/><path color="#d1be62" d="M438.4 337.9l2.4 0.7l-1.9-0.8l-2.3-0.3z"/><path color="#d9be5f" d="M436 337l2.4 0.9l-1.8-0.4l-2.4-0.1z"/><path color="#e0bd5c" d="M433.6 336l2.4 1l-1.8 0.4l-2.4 0z"/><path color="#e7bd59" d="M431.2 335.4l2.4 0.6l-1.8 1.4l-2.4 0.5z"/><path color="#e9bd57" d="M428.9 336l2.3-0.6l-1.8 2.5l-2.3 1.5z"/><path color="#e4bd5a" d="M426.5 338.5l2.4-2.5l-1.8 3.4l-2.4 3.4z"/><path color="#d2be62" d="M424.1 343.2l2.4-4.7l-1.8 4.3l-2.4 5.5z"/><path color="#b4c16e" d="M421.7 349.8l2.4-6.6l-1.8 5.1l-2.4 7.6z"/><path color="#86c281" d="M419.4 357.2l2.3-7.4l-1.8 6.1l-2.4 8.6z"/><path color="#51be9a" d="M417 364.4l2.4-7.2l-1.9 7.3l-2.3 8.2z"/><path color="#2bb7b2" d="M414.6 370.3l2.4-5.9l-1.8 8.3l-2.4 6.6z"/><path color="#1ab0c0" d="M412.2 374.1l2.4-3.8l-1.8 9l-2.4 4.2z"/><path color="#30b6cc" d="M409.9 375.7l2.3-1.6l-1.8 9.4l-2.4 1.5z"/><path color="#5ac5d5" d="M407.5 375l2.4 0.7l-1.9 9.3l-2.3-1.1z"/><path color="#67cbd1" d="M405.1 372.6l2.4 2.4l-1.8 8.9l-2.4-3.4z"/><path color="#74cfc5" d="M402.7 369.1l2.4 3.5l-1.8 7.9l-2.4-5.1z"/><path color="#89d1b3" d="M400.3 365.2l2.4 3.9l-1.8 6.3l-2.4-5.7z"/><path color="#a1d09e" d="M398 361.8l2.3 3.4l-1.8 4.5l-2.3-5.2z"/><path color="#b3ca87" d="M395.6 358.7l2.4 3.1l-1.8 2.7l-2.4-4.2z"/><path color="#c8c87c" d="M393.2 355.9l2.4 2.8l-1.8 1.6l-2.4-3.5z"/><path color="#e4d59a" d="M390.8 353.9l2.4 2l-1.8 0.9l-2.4-3z"/><path color="#f1e1b5" d="M388.5 359.1l2.3-5.2l-1.8-0.1l-2.4-1.1z"/><path color="#d7d7a0" d="M386.1 364.3l2.4-5.2l-1.9-6.4l-2.3 9.5z"/><path color="#b0c06e" d="M383.7 365.2l2.4-0.9l-1.8-2.1l-2.4 1.8z"/><path color="#acbe68" d="M381.3 366.1l2.4-0.9l-1.8-1.2l-2.4 0.9z"/><path color="#acbe69" d="M480.6 330.5l2.4-0.9l-1.8-1.1l-2.4 0.9z"/><path color="#afc170" d="M478.2 331.4l2.4-0.9l-1.8-1.1l-2.4 3.8z"/><path color="#99cd9f" d="M475.8 342l2.4-10.6l-1.8 1.8l-2.4 24.4z"/><path color="#84d1e1" d="M473.5 361.5l2.3-19.5l-1.8 15.6l-2.4 9.3z"/><path color="#6fbbe4" d="M471.1 367.8l2.4-6.3l-1.9 5.4l-2.3 6.7z"/><path color="#3a95dd" d="M468.7 372.2l2.4-4.4l-1.8 5.8l-2.4 4.6z"/><path color="#2082dd" d="M466.3 374.5l2.4-2.3l-1.8 6l-2.4 2.4z"/><path color="#4094e2" d="M464 374.3l2.3 0.2l-1.8 6.1l-2.4 0.2z"/><path color="#5fa8e5" d="M461.6 371.8l2.4 2.5l-1.9 6.5l-2.3-2.3z"/><path color="#62b3e2" d="M459.2 367.3l2.4 4.5l-1.8 6.7l-2.4-4.7z"/><path color="#5bc0dd" d="M456.8 361.3l2.4 6l-1.8 6.5l-2.4-6.7z"/><path color="#60c9cd" d="M454.4 354.9l2.4 6.4l-1.8 5.8l-2.4-7.7z"/><path color="#7aceb5" d="M452.1 349.1l2.3 5.8l-1.8 4.5l-2.3-7.5z"/><path color="#96cb94" d="M449.7 344.7l2.4 4.4l-1.8 2.8l-2.4-6z"/><path color="#a7c173" d="M447.3 341.9l2.4 2.8l-1.8 1.2l-2.4-4.1z"/><path color="#bdc06b" d="M444.9 340.4l2.4 1.5l-1.8-0.1l-2.4-2.1z"/><path color="#cabf65" d="M442.6 339.4l2.3 1l-1.8-0.7l-2.3-1.1z"/><path color="#d4be61" d="M440.2 338.2l2.4 1.2l-1.8-0.8l-2.4-0.7z"/><path color="#dfbd5c" d="M437.8 336.6l2.4 1.6l-1.8-0.3l-2.4-0.9z"/><path color="#ecbd56" d="M435.4 334.5l2.4 2.1l-1.8 0.4l-2.4-1z"/><path color="#f7be4e" d="M433.1 332.9l2.3 1.6l-1.8 1.5l-2.4-0.6z"/><path color="#fcc148" d="M430.7 332.7l2.4 0.2l-1.9 2.5l-2.3 0.6z"/><path color="#fbc149" d="M428.3 334.7l2.4-2l-1.8 3.3l-2.4 2.5z"/><path color="#f1be52" d="M425.9 338.9l2.4-4.2l-1.8 3.8l-2.4 4.7z"/><path color="#d9be5f" d="M423.6 344.8l2.3-5.9l-1.8 4.3l-2.4 6.6z"/><path color="#b7c06d" d="M421.2 351.4l2.4-6.6l-1.9 5l-2.3 7.4z"/><path color="#90c27d" d="M418.8 357.5l2.4-6.1l-1.8 5.8l-2.4 7.2z"/><path color="#69c18e" d="M416.4 362.5l2.4-5l-1.8 6.9l-2.4 5.9z"/><path color="#4ebe9c" d="M414 365.8l2.4-3.3l-1.8 7.8l-2.4 3.8z"/><path color="#52c1aa" d="M411.7 367.3l2.3-1.5l-1.8 8.3l-2.3 1.6z"/><path color="#72cdb8" d="M409.3 367.3l2.4 0l-1.8 8.4l-2.4-0.7z"/><path color="#84d1b6" d="M406.9 366l2.4 1.3l-1.8 7.7l-2.4-2.4z"/><path color="#94d2ac" d="M404.5 364l2.4 2l-1.8 6.6l-2.4-3.5z"/><path color="#a4d09d" d="M402.2 361.7l2.3 2.3l-1.8 5.1l-2.4-3.9z"/><path color="#b2cb8a" d="M399.8 359.5l2.4 2.2l-1.9 3.5l-2.3-3.4z"/><path color="#c1c77c" d="M397.4 357.3l2.4 2.2l-1.8 2.3l-2.4-3.1z"/><path color="#dbd18f" d="M395 355.4l2.4 1.9l-1.8 1.4l-2.4-2.8z"/><path color="#eddeae" d="M392.7 357l2.3-1.6l-1.8 0.5l-2.4-2z"/><path color="#e7e0b4" d="M390.3 364.5l2.4-7.5l-1.9-3.1l-2.3 5.2z"/><path color="#b9c67b" d="M387.9 365.4l2.4-0.9l-1.8-5.4l-2.4 5.2z"/><path color="#adbe69" d="M385.5 366.3l2.4-0.9l-1.8-1.1l-2.4 0.9z"/><path color="#acbe68" d="M383.2 367.2l2.3-0.9l-1.8-1.1l-2.4 0.9zM482.4 331.7l2.4-0.9l-1.8-1.2l-2.4 0.9z"/><path color="#adbe6a" d="M480 332.6l2.4-0.9l-1.8-1.2l-2.4 0.9z"/><path color="#afc478" d="M477.7 333.5l2.3-0.9l-1.8-1.2l-2.4 10.6z"/><path color="#90d1b5" d="M475.3 347.8l2.4-14.3l-1.9 8.5l-2.3 19.5z"/><path color="#85d3e2" d="M472.9 359.7l2.4-11.9l-1.8 13.7l-2.4 6.3z"/><path color="#5fbddf" d="M470.5 363.5l2.4-3.8l-1.8 8.1l-2.4 4.4z"/><path color="#3ba8da" d="M468.1 365.5l2.4-2l-1.8 8.7l-2.4 2.3z"/><path color="#57b4df" d="M465.8 365.3l2.3 0.2l-1.8 9l-2.3-0.2z"/><path color="#61bee0" d="M463.4 363.2l2.4 2.1l-1.8 9l-2.4-2.5z"/><path color="#61c5db" d="M461 359.6l2.4 3.6l-1.8 8.6l-2.4-4.5z"/><path color="#67cbcf" d="M458.6 355l2.4 4.6l-1.8 7.7l-2.4-6z"/><path color="#7bd0bc" d="M456.3 350.4l2.3 4.6l-1.8 6.3l-2.4-6.4z"/><path color="#94d0a4" d="M453.9 346.4l2.4 4l-1.9 4.5l-2.3-5.8z"/><path color="#a2c783" d="M451.5 343.7l2.4 2.7l-1.8 2.7l-2.4-4.4z"/><path color="#b2c16f" d="M449.1 342.1l2.4 1.6l-1.8 1l-2.4-2.8z"/><path color="#c1c069" d="M446.8 341.2l2.3 0.9l-1.8-0.2l-2.4-1.5z"/><path color="#ccbf64" d="M444.4 340.4l2.4 0.8l-1.9-0.8l-2.3-1z"/><path color="#d6be60" d="M442 339.2l2.4 1.2l-1.8-1l-2.4-1.2z"/><path color="#e4bd5a" d="M439.6 337.2l2.4 2l-1.8-1l-2.4-1.6z"/><path color="#f4bd51" d="M437.3 334.7l2.3 2.5l-1.8-0.6l-2.4-2.1z"/><path color="#fec444" d="M434.9 332.7l2.4 2l-1.9-0.2l-2.3-1.6z"/><path color="#fecb3c" d="M432.5 332.1l2.4 0.6l-1.8 0.2l-2.4-0.2z"/><path color="#fdcc3c" d="M430.1 333.7l2.4-1.6l-1.8 0.6l-2.4 2z"/><path color="#fec543" d="M427.7 337.5l2.4-3.8l-1.8 1l-2.4 4.2z"/><path color="#f1bd52" d="M425.4 342.7l2.3-5.2l-1.8 1.4l-2.3 5.9z"/><path color="#d6be60" d="M423 348.3l2.4-5.6l-1.8 2.1l-2.4 6.6z"/><path color="#b9c06c" d="M420.6 353.4l2.4-5.1l-1.8 3.1l-2.4 6.1z"/><path color="#9fc277" d="M418.2 357.4l2.4-4l-1.8 4.1l-2.4 5z"/><path color="#8bc27f" d="M415.9 360.1l2.3-2.7l-1.8 5.1l-2.4 3.3z"/><path color="#82c284" d="M413.5 361.5l2.4-1.4l-1.9 5.7l-2.3 1.5z"/><path color="#8ec88e" d="M411.1 361.9l2.4-0.4l-1.8 5.8l-2.4 0z"/><path color="#9dcc93" d="M408.7 361.5l2.4 0.4l-1.8 5.4l-2.4-1.3z"/><path color="#a9cb8c" d="M406.4 360.5l2.3 1l-1.8 4.5l-2.4-2z"/><path color="#b3c881" d="M404 359.2l2.4 1.3l-1.9 3.5l-2.3-2.3z"/><path color="#c0c678" d="M401.6 357.7l2.4 1.5l-1.8 2.5l-2.4-2.2z"/><path color="#d6ce89" d="M399.2 356.3l2.4 1.4l-1.8 1.8l-2.4-2.2z"/><path color="#eadca9" d="M396.9 356.4l2.3-0.1l-1.8 1l-2.4-1.9z"/><path color="#ece2b9" d="M394.5 363.8l2.4-7.4l-1.9-1l-2.3 1.6z"/><path color="#c6ce8e" d="M392.1 365.7l2.4-1.9l-1.8-6.8l-2.4 7.5z"/><path color="#aebf6c" d="M389.7 366.6l2.4-0.9l-1.8-1.2l-2.4 0.9z"/><path color="#acbe68" d="M387.3 367.5l2.4-0.9l-1.8-1.2l-2.4 0.9zM385 368.4l2.3-0.9l-1.8-1.2l-2.3 0.9zM484.2 332.9l2.4-0.9l-1.8-1.2l-2.4 0.9zM481.8 333.8l2.4-0.9l-1.8-1.2l-2.4 0.9z"/><path color="#aebf6b" d="M479.5 334.7l2.3-0.9l-1.8-1.2l-2.3 0.9z"/><path color="#adc780" d="M477.1 336.2l2.4-1.5l-1.8-1.2l-2.4 14.3z"/><path color="#96d5bc" d="M474.7 348.1l2.4-11.9l-1.8 11.6l-2.4 11.9z"/><path color="#8ad7d9" d="M472.3 354.3l2.4-6.2l-1.8 11.6l-2.4 3.8z"/><path color="#6ecdd6" d="M470 356l2.3-1.7l-1.8 9.2l-2.4 2z"/><path color="#67cbd3" d="M467.6 356.1l2.4-0.1l-1.9 9.5l-2.3-0.2z"/><path color="#6acccf" d="M465.2 354.7l2.4 1.4l-1.8 9.2l-2.4-2.1z"/><path color="#74cfc6" d="M462.8 352.3l2.4 2.4l-1.8 8.5l-2.4-3.6z"/><path color="#85d2b8" d="M460.5 349.4l2.3 2.9l-1.8 7.3l-2.4-4.6z"/><path color="#98d1a6" d="M458.1 346.7l2.4 2.7l-1.9 5.6l-2.3-4.6z"/><path color="#a3ca8c" d="M455.7 344.5l2.4 2.2l-1.8 3.7l-2.4-4z"/><path color="#abc272" d="M453.3 343.2l2.4 1.3l-1.8 1.9l-2.4-2.7z"/><path color="#bac06c" d="M451 342.6l2.3 0.6l-1.8 0.5l-2.4-1.6z"/><path color="#c4c068" d="M448.6 342.4l2.4 0.2l-1.9-0.5l-2.3-0.9z"/><path color="#ccbf64" d="M446.2 342l2.4 0.4l-1.8-1.2l-2.4-0.8z"/><path color="#d5be60" d="M443.8 341l2.4 1l-1.8-1.6l-2.4-1.2z"/><path color="#e3bd5b" d="M441.4 339.4l2.4 1.6l-1.8-1.8l-2.4-2z"/><path color="#f3bd52" d="M439.1 337.3l2.3 2.1l-1.8-2.2l-2.3-2.5z"/><path color="#fdc345" d="M436.7 335.6l2.4 1.7l-1.8-2.6l-2.4-2z"/><path color="#fecb3e" d="M434.3 335.1l2.4 0.5l-1.8-2.9l-2.4-0.6z"/><path color="#fdd14d" d="M431.9 336.5l2.4-1.4l-1.8-3l-2.4 1.6z"/><path color="#fecf5d" d="M429.6 339.6l2.3-3.1l-1.8-2.8l-2.4 3.8z"/><path color="#f8c562" d="M427.2 343.9l2.4-4.3l-1.9-2.1l-2.3 5.2z"/><path color="#e3c061" d="M424.8 348.3l2.4-4.4l-1.8-1.2l-2.4 5.6z"/><path color="#ccbf64" d="M422.4 352.2l2.4-3.9l-1.8 0l-2.4 5.1z"/><path color="#bac06c" d="M420.1 355.2l2.3-3l-1.8 1.2l-2.4 4z"/><path color="#adc171" d="M417.7 357.3l2.4-2.1l-1.9 2.2l-2.3 2.7z"/><path color="#a7c173" d="M415.3 358.5l2.4-1.2l-1.8 2.8l-2.4 1.4zM412.9 359l2.4-0.5l-1.8 3l-2.4 0.4z"/><path color="#acc171" d="M410.6 358.8l2.3 0.2l-1.8 2.9l-2.4-0.4z"/><path color="#b5c16f" d="M408.2 358.2l2.4 0.6l-1.9 2.7l-2.3-1z"/><path color="#c3c372" d="M405.8 357.1l2.4 1.1l-1.8 2.3l-2.4-1.3z"/><path color="#d7cd85" d="M403.4 356.2l2.4 0.9l-1.8 2.1l-2.4-1.5z"/><path color="#e8daa4" d="M401 356.2l2.4 0l-1.8 1.5l-2.4-1.4z"/><path color="#eee2b8" d="M398.7 363l2.3-6.8l-1.8 0.1l-2.3 0.1z"/><path color="#d1d59b" d="M396.3 366l2.4-3l-1.8-6.6l-2.4 7.4z"/><path color="#b0c16e" d="M393.9 366.9l2.4-0.9l-1.8-2.2l-2.4 1.9z"/><path color="#acbe69" d="M391.5 367.8l2.4-0.9l-1.8-1.2l-2.4 0.9z"/><path color="#acbe68" d="M389.2 368.7l2.3-0.9l-1.8-1.2l-2.4 0.9zM386.8 369.6l2.4-0.9l-1.9-1.2l-2.3 0.9zM486 334l2.4-0.9l-1.8-1.1l-2.4 0.9zM483.7 334.9l2.3-0.9l-1.8-1.1l-2.4 0.9zM481.3 335.8l2.4-0.9l-1.9-1.1l-2.3 0.9z"/><path color="#afc06d" d="M478.9 336.7l2.4-0.9l-1.8-1.1l-2.4 1.5z"/><path color="#b0c985" d="M476.5 338.2l2.4-1.5l-1.8-0.5l-2.4 11.9z"/><path color="#a9d9b7" d="M474.2 345.2l2.3-7l-1.8 9.9l-2.4 6.2z"/><path color="#a9dfcc" d="M471.8 348.2l2.4-3l-1.9 9.1l-2.3 1.7z"/><path color="#9edbc6" d="M469.4 348.5l2.4-0.3l-1.8 7.8l-2.4 0.1z"/><path color="#93d5b8" d="M467 348l2.4 0.5l-1.8 7.6l-2.4-1.4z"/><path color="#96d2ab" d="M464.7 346.9l2.3 1.1l-1.8 6.7l-2.4-2.4z"/><path color="#9fcf9c" d="M462.3 345.6l2.4 1.3l-1.9 5.4l-2.3-2.9z"/><path color="#a5c886" d="M459.9 344.4l2.4 1.2l-1.8 3.8l-2.4-2.7z"/><path color="#abc273" d="M457.5 343.6l2.4 0.8l-1.8 2.3l-2.4-2.2z"/><path color="#b7c16d" d="M455.1 343.4l2.4 0.2l-1.8 0.9l-2.4-1.3z"/><path color="#bfc06a" d="M452.8 343.5l2.3-0.1l-1.8-0.2l-2.3-0.6z"/><path color="#c5bf67" d="M450.4 343.8l2.4-0.3l-1.8-0.9l-2.4-0.2z"/><path color="#cabf65" d="M448 343.8l2.4 0l-1.8-1.4l-2.4-0.4z"/><path color="#d1be62" d="M445.6 343.5l2.4 0.3l-1.8-1.8l-2.4-1z"/><path color="#dbbe5e" d="M443.3 342.7l2.3 0.8l-1.8-2.5l-2.4-1.6z"/><path color="#e8bd58" d="M440.9 341.5l2.4 1.2l-1.9-3.3l-2.3-2.1z"/><path color="#f5be50" d="M438.5 340.6l2.4 0.9l-1.8-4.2l-2.4-1.7z"/><path color="#fcc75a" d="M436.1 340.6l2.4 0l-1.8-5l-2.4-0.5z"/><path color="#fdd071" d="M433.8 341.8l2.3-1.2l-1.8-5.5l-2.4 1.4z"/><path color="#fad07a" d="M431.4 344.1l2.4-2.3l-1.9-5.3l-2.3 3.1z"/><path color="#f2cd7d" d="M429 347.2l2.4-3.1l-1.8-4.5l-2.4 4.3z"/><path color="#e4c878" d="M426.6 350.3l2.4-3.1l-1.8-3.3l-2.4 4.4z"/><path color="#d1c168" d="M424.2 353l2.4-2.7l-1.8-2l-2.4 3.9z"/><path color="#c4c067" d="M421.9 355l2.3-2l-1.8-0.8l-2.3 3z"/><path color="#bdc06a" d="M419.5 356.4l2.4-1.4l-1.8 0.2l-2.4 2.1z"/><path color="#bbc06b" d="M417.1 357.1l2.4-0.7l-1.8 0.9l-2.4 1.2z"/><path color="#bcc06b" d="M414.7 357.1l2.4 0l-1.8 1.4l-2.4 0.5z"/><path color="#c2c16b" d="M412.4 356.6l2.3 0.5l-1.8 1.9l-2.3-0.2z"/><path color="#cdc471" d="M410 355.8l2.4 0.8l-1.8 2.2l-2.4-0.6z"/><path color="#ddcd86" d="M407.6 355.2l2.4 0.6l-1.8 2.4l-2.4-1.1z"/><path color="#ebdaa3" d="M405.2 355.7l2.4-0.5l-1.8 1.9l-2.4-0.9z"/><path color="#efe2b8" d="M402.9 362.8l2.3-7.1l-1.8 0.5l-2.4 0z"/><path color="#d8d9a5" d="M400.5 366.3l2.4-3.5l-1.9-6.6l-2.3 6.8z"/><path color="#b3c273" d="M398.1 367.2l2.4-0.9l-1.8-3.3l-2.4 3z"/><path color="#adbe69" d="M395.7 368.1l2.4-0.9l-1.8-1.2l-2.4 0.9z"/><path color="#acbe68" d="M393.4 369l2.3-0.9l-1.8-1.2l-2.4 0.9zM391 369.9l2.4-0.9l-1.9-1.2l-2.3 0.9zM388.6 370.8l2.4-0.9l-1.8-1.2l-2.4 0.9zM487.9 335.2l2.3-0.9l-1.8-1.2l-2.4 0.9zM485.5 336.1l2.4-0.9l-1.9-1.2l-2.3 0.9zM483.1 337l2.4-0.9l-1.8-1.2l-2.4 0.9z"/><path color="#acbe69" d="M480.7 337.9l2.4-0.9l-1.8-1.2l-2.4 0.9z"/><path color="#afc06e" d="M478.4 338.8l2.3-0.9l-1.8-1.2l-2.4 1.5z"/><path color="#b5c984" d="M476 339.9l2.4-1.1l-1.9-0.6l-2.3 7z"/><path color="#bed9ac" d="M473.6 342.5l2.4-2.6l-1.8 5.3l-2.4 3z"/><path color="#c5e0be" d="M471.2 343.8l2.4-1.3l-1.8 5.7l-2.4 0.3z"/><path color="#bddab0" d="M468.8 343.9l2.4-0.1l-1.8 4.7l-2.4-0.5z"/><path color="#b0cf94" d="M466.5 343.8l2.3 0.1l-1.8 4.1l-2.3-1.1z"/><path color="#acc67d" d="M464.1 343.5l2.4 0.3l-1.8 3.1l-2.4-1.3z"/><path color="#b1c271" d="M461.7 343.5l2.4 0l-1.8 2.1l-2.4-1.2z"/><path color="#b8c16d" d="M459.3 343.6l2.4-0.1l-1.8 0.9l-2.4-0.8z"/><path color="#bec06a" d="M457 344l2.3-0.4l-1.8 0l-2.4-0.2z"/><path color="#c1c069" d="M454.6 344.6l2.4-0.6l-1.9-0.6l-2.3 0.1z"/><path color="#c4c068" d="M452.2 345.2l2.4-0.6l-1.8-1.1l-2.4 0.3z"/><path color="#c7bf66" d="M449.8 345.7l2.4-0.5l-1.8-1.4l-2.4 0z"/><path color="#cbbf65" d="M447.5 346l2.3-0.3l-1.8-1.9l-2.4-0.3z"/><path color="#d2be62" d="M445.1 345.9l2.4 0.1l-1.9-2.5l-2.3-0.8z"/><path color="#dabe5f" d="M442.7 345.7l2.4 0.2l-1.8-3.2l-2.4-1.2z"/><path color="#e3c061" d="M440.3 345.7l2.4 0l-1.8-4.2l-2.4-0.9z"/><path color="#ebc772" d="M437.9 346.1l2.4-0.4l-1.8-5.1l-2.4 0z"/><path color="#eecc7d" d="M435.6 347.1l2.3-1l-1.8-5.5l-2.3 1.2z"/><path color="#eccd81" d="M433.2 348.7l2.4-1.6l-1.8-5.3l-2.4 2.3z"/><path color="#e5cb7f" d="M430.8 350.6l2.4-1.9l-1.8-4.6l-2.4 3.1z"/><path color="#dbc776" d="M428.4 352.5l2.4-1.9l-1.8-3.4l-2.4 3.1z"/><path color="#cec066" d="M426.1 354.1l2.3-1.6l-1.8-2.2l-2.4 2.7z"/><path color="#c8bf66" d="M423.7 355.1l2.4-1l-1.9-1.1l-2.3 2z"/><path color="#c6bf67" d="M421.3 355.5l2.4-0.4l-1.8-0.1l-2.4 1.4z"/><path color="#c8c067" d="M418.9 355.3l2.4 0.2l-1.8 0.9l-2.4 0.7z"/><path color="#cfc169" d="M416.6 354.6l2.3 0.7l-1.8 1.8l-2.4 0z"/><path color="#dac776" d="M414.2 353.7l2.4 0.9l-1.9 2.5l-2.3-0.5z"/><path color="#e7d08a" d="M411.8 353.3l2.4 0.4l-1.8 2.9l-2.4-0.8z"/><path color="#f1dba6" d="M409.4 355l2.4-1.7l-1.8 2.5l-2.4-0.6z"/><path color="#f1e2b7" d="M407.1 363.2l2.3-8.2l-1.8 0.2l-2.4 0.5z"/><path color="#d9d9a6" d="M404.7 366.6l2.4-3.4l-1.9-7.5l-2.3 7.1z"/><path color="#b4c375" d="M402.3 367.4l2.4-0.8l-1.8-3.8l-2.4 3.5z"/><path color="#adbe69" d="M399.9 368.3l2.4-0.9l-1.8-1.1l-2.4 0.9z"/><path color="#acbe68" d="M397.5 369.2l2.4-0.9l-1.8-1.1l-2.4 0.9zM395.2 370.1l2.3-0.9l-1.8-1.1l-2.3 0.9zM392.8 371l2.4-0.9l-1.8-1.1l-2.4 0.9zM390.4 371.9l2.4-0.9l-1.8-1.1l-2.4 0.9zM489.7 336.4l2.3-0.9l-1.8-1.2l-2.3 0.9zM487.3 337.3l2.4-0.9l-1.8-1.2l-2.4 0.9zM484.9 338.2l2.4-0.9l-1.8-1.2l-2.4 0.9zM482.5 339.1l2.4-0.9l-1.8-1.2l-2.4 0.9z"/><path color="#acbe69" d="M480.2 340l2.3-0.9l-1.8-1.2l-2.3 0.9z"/><path color="#afc06d" d="M477.8 340.9l2.4-0.9l-1.8-1.2l-2.4 1.1z"/><path color="#b7c77e" d="M475.4 341.7l2.4-0.8l-1.8-1l-2.4 2.6z"/><path color="#c8d59f" d="M473 342.1l2.4-0.4l-1.8 0.8l-2.4 1.3z"/><path color="#d4deb3" d="M470.7 342.2l2.3-0.1l-1.8 1.7l-2.4 0.1z"/><path color="#d2daaa" d="M468.3 342.6l2.4-0.4l-1.9 1.7l-2.3-0.1z"/><path color="#c9d091" d="M465.9 343l2.4-0.4l-1.8 1.2l-2.4-0.3z"/><path color="#c3c77b" d="M463.5 343.5l2.4-0.5l-1.8 0.5l-2.4 0z"/><path color="#c2c26f" d="M461.2 344.1l2.3-0.6l-1.8 0l-2.4 0.1z"/><path color="#c2c06a" d="M458.8 344.8l2.4-0.7l-1.9-0.5l-2.3 0.4z"/><path color="#c3c069" d="M456.4 345.6l2.4-0.8l-1.8-0.8l-2.4 0.6z"/><path color="#c4c068" d="M454 346.4l2.4-0.8l-1.8-1l-2.4 0.6z"/><path color="#c5bf67" d="M451.6 347.1l2.4-0.7l-1.8-1.2l-2.4 0.5z"/><path color="#c7bf66" d="M449.3 347.8l2.3-0.7l-1.8-1.4l-2.3 0.3z"/><path color="#cabf65" d="M446.9 348.3l2.4-0.5l-1.8-1.8l-2.4-0.1z"/><path color="#cebf64" d="M444.5 348.7l2.4-0.4l-1.8-2.4l-2.4-0.2z"/><path color="#d3bf64" d="M442.1 349.2l2.4-0.5l-1.8-3l-2.4 0z"/><path color="#d8c26b" d="M439.8 349.8l2.3-0.6l-1.8-3.5l-2.4 0.4z"/><path color="#dac470" d="M437.4 350.6l2.4-0.8l-1.9-3.7l-2.3 1z"/><path color="#d9c46f" d="M435 351.6l2.4-1l-1.8-3.5l-2.4 1.6z"/><path color="#d4c169" d="M432.6 352.5l2.4-0.9l-1.8-2.9l-2.4 1.9z"/><path color="#d0bf64" d="M430.3 353.2l2.3-0.7l-1.8-1.9l-2.4 1.9z"/><path color="#cebf64" d="M427.9 353.6l2.4-0.4l-1.9-0.7l-2.3 1.6z"/><path color="#d0bf64" d="M425.5 353.3l2.4 0.3l-1.8 0.5l-2.4 1z"/><path color="#d5c169" d="M423.1 352.6l2.4 0.7l-1.8 1.8l-2.4 0.4z"/><path color="#e0c877" d="M420.8 351.6l2.3 1l-1.8 2.9l-2.4-0.2z"/><path color="#ebd08a" d="M418.4 350.8l2.4 0.8l-1.9 3.7l-2.3-0.7z"/><path color="#f3d798" d="M416 350.8l2.4 0l-1.8 3.8l-2.4-0.9z"/><path color="#f8dea9" d="M413.6 355.4l2.4-4.6l-1.8 2.9l-2.4-0.4z"/><path color="#f3e3b8" d="M411.2 364.5l2.4-9.1l-1.8-2.1l-2.4 1.7z"/><path color="#d4d69e" d="M408.9 366.8l2.3-2.3l-1.8-9.5l-2.3 8.2z"/><path color="#b3c373" d="M406.5 367.7l2.4-0.9l-1.8-3.6l-2.4 3.4z"/><path color="#adbe69" d="M404.1 368.6l2.4-0.9l-1.8-1.1l-2.4 0.8z"/><path color="#acbe68" d="M401.7 369.5l2.4-0.9l-1.8-1.2l-2.4 0.9zM399.4 370.4l2.3-0.9l-1.8-1.2l-2.4 0.9zM397 371.3l2.4-0.9l-1.9-1.2l-2.3 0.9zM394.6 372.2l2.4-0.9l-1.8-1.2l-2.4 0.9zM392.2 373.1l2.4-0.9l-1.8-1.2l-2.4 0.9zM491.5 337.6l2.4-0.9l-1.9-1.2l-2.3 0.9zM489.1 338.5l2.4-0.9l-1.8-1.2l-2.4 0.9zM486.7 339.4l2.4-0.9l-1.8-1.2l-2.4 0.9zM484.4 340.2l2.3-0.8l-1.8-1.2l-2.4 0.9zM482 341.1l2.4-0.9l-1.9-1.1l-2.3 0.9zM479.6 342l2.4-0.9l-1.8-1.1l-2.4 0.9z"/><path color="#aebf6c" d="M477.2 342.9l2.4-0.9l-1.8-1.1l-2.4 0.8z"/><path color="#b5c578" d="M474.9 343.8l2.3-0.9l-1.8-1.2l-2.4 0.4z"/><path color="#c6d091" d="M472.5 344.1l2.4-0.3l-1.9-1.7l-2.3 0.1z"/><path color="#d8dbaa" d="M470.1 343.3l2.4 0.8l-1.8-1.9l-2.4 0.4z"/><path color="#deddaf" d="M467.7 343.3l2.4 0l-1.8-0.7l-2.4 0.4z"/><path color="#d9d7a0" d="M465.3 343.9l2.4-0.6l-1.8-0.3l-2.4 0.5z"/><path color="#d1ce8a" d="M463 344.6l2.3-0.7l-1.8-0.4l-2.3 0.6z"/><path color="#ccc779" d="M460.6 345.3l2.4-0.7l-1.8-0.5l-2.4 0.7z"/><path color="#c9c370" d="M458.2 346.1l2.4-0.8l-1.8-0.5l-2.4 0.8z"/><path color="#c7c16b" d="M455.8 347l2.4-0.9l-1.8-0.5l-2.4 0.8z"/><path color="#c7c069" d="M453.5 347.8l2.3-0.8l-1.8-0.6l-2.4 0.7z"/><path color="#c7c067" d="M451.1 348.5l2.4-0.7l-1.9-0.7l-2.3 0.7z"/><path color="#c9bf66" d="M448.7 349.2l2.4-0.7l-1.8-0.7l-2.4 0.5z"/><path color="#cabf66" d="M446.3 349.8l2.4-0.6l-1.8-0.9l-2.4 0.4z"/><path color="#ccbf65" d="M444 350.3l2.3-0.5l-1.8-1.1l-2.4 0.5z"/><path color="#cebf64" d="M441.6 350.7l2.4-0.4l-1.9-1.1l-2.3 0.6z"/><path color="#d0bf63" d="M439.2 351.1l2.4-0.4l-1.8-0.9l-2.4 0.8z"/><path color="#d2bf63" d="M436.8 351.3l2.4-0.2l-1.8-0.5l-2.4 1z"/><path color="#d4bf63" d="M434.5 351.2l2.3 0.1l-1.8 0.3l-2.4 0.9z"/><path color="#d8c065" d="M432.1 350.7l2.4 0.5l-1.9 1.3l-2.3 0.7z"/><path color="#e0c56f" d="M429.7 349.8l2.4 0.9l-1.8 2.5l-2.4 0.4z"/><path color="#e9cc7f" d="M427.3 348.7l2.4 1.1l-1.8 3.8l-2.4-0.3z"/><path color="#f3d490" d="M424.9 347.7l2.4 1l-1.8 4.6l-2.4-0.7z"/><path color="#fadb9c" d="M422.6 347.2l2.3 0.5l-1.8 4.9l-2.3-1z"/><path color="#fddfa0" d="M420.2 349.1l2.4-1.9l-1.8 4.4l-2.4-0.8z"/><path color="#fde3b0" d="M417.8 358.7l2.4-9.6l-1.8 1.7l-2.4 0z"/><path color="#efe1b5" d="M415.4 366.1l2.4-7.4l-1.8-7.9l-2.4 4.6z"/><path color="#cad091" d="M413.1 367.1l2.3-1l-1.8-10.7l-2.4 9.1z"/><path color="#b0c16e" d="M410.7 368l2.4-0.9l-1.9-2.6l-2.3 2.3z"/><path color="#adbe69" d="M408.3 368.9l2.4-0.9l-1.8-1.2l-2.4 0.9z"/><path color="#acbe68" d="M405.9 369.8l2.4-0.9l-1.8-1.2l-2.4 0.9zM403.6 370.7l2.3-0.9l-1.8-1.2l-2.4 0.9zM401.2 371.6l2.4-0.9l-1.9-1.2l-2.3 0.9zM398.8 372.5l2.4-0.9l-1.8-1.2l-2.4 0.9zM396.4 373.4l2.4-0.9l-1.8-1.2l-2.4 0.9zM394.1 374.3l2.3-0.9l-1.8-1.2l-2.4 0.9zM493.3 338.7l2.4-0.9l-1.8-1.1l-2.4 0.9zM490.9 339.6l2.4-0.9l-1.8-1.1l-2.4 0.9zM488.6 340.5l2.3-0.9l-1.8-1.1l-2.4 0.9zM486.2 341.4l2.4-0.9l-1.9-1.1l-2.3 0.8zM483.8 342.3l2.4-0.9l-1.8-1.2l-2.4 0.9zM481.4 343.2l2.4-0.9l-1.8-1.2l-2.4 0.9zM479 344.1l2.4-0.9l-1.8-1.2l-2.4 0.9z"/><path color="#adbf6a" d="M476.7 345l2.3-0.9l-1.8-1.2l-2.3 0.9z"/><path color="#b1c271" d="M474.3 345.9l2.4-0.9l-1.8-1.2l-2.4 0.3z"/><path color="#bec982" d="M471.9 346.8l2.4-0.9l-1.8-1.8l-2.4-0.8z"/><path color="#d0d49a" d="M469.5 346.3l2.4 0.5l-1.8-3.5l-2.4 0z"/><path color="#dedcac" d="M467.2 345.3l2.3 1l-1.8-3l-2.4 0.6z"/><path color="#e1ddae" d="M464.8 345.1l2.4 0.2l-1.9-1.4l-2.3 0.7z"/><path color="#ded9a3" d="M462.4 345.6l2.4-0.5l-1.8-0.5l-2.4 0.7z"/><path color="#dad293" d="M460 346.1l2.4-0.5l-1.8-0.3l-2.4 0.8z"/><path color="#d6cc84" d="M457.7 346.7l2.3-0.6l-1.8 0l-2.4 0.9z"/><path color="#d3c879" d="M455.3 347.2l2.4-0.5l-1.9 0.3l-2.3 0.8z"/><path color="#d2c572" d="M452.9 347.7l2.4-0.5l-1.8 0.6l-2.4 0.7z"/><path color="#d3c36e" d="M450.5 348l2.4-0.3l-1.8 0.8l-2.4 0.7z"/><path color="#d4c26b" d="M448.2 348.3l2.3-0.3l-1.8 1.2l-2.4 0.6z"/><path color="#d6c169" d="M445.8 348.4l2.4-0.1l-1.9 1.5l-2.3 0.5z"/><path color="#dac168" d="M443.4 348.3l2.4 0.1l-1.8 1.9l-2.4 0.4z"/><path color="#dfc36c" d="M441 347.9l2.4 0.4l-1.8 2.4l-2.4 0.4z"/><path color="#e6c774" d="M438.6 347.2l2.4 0.7l-1.8 3.2l-2.4 0.2z"/><path color="#edcd81" d="M436.3 346.2l2.3 1l-1.8 4.1l-2.3-0.1z"/><path color="#f5d58f" d="M433.9 345.1l2.4 1.1l-1.8 5l-2.4-0.5z"/><path color="#fbdc9a" d="M431.5 344.1l2.4 1l-1.8 5.6l-2.4-0.9z"/><path color="#fde2a1" d="M429.1 343.6l2.4 0.5l-1.8 5.7l-2.4-1.1z"/><path color="#fee6a2" d="M426.8 345.5l2.3-1.9l-1.8 5.1l-2.4-1z"/><path color="#fee7a9" d="M424.4 354.6l2.4-9.1l-1.9 2.2l-2.3-0.5z"/><path color="#f8e4b3" d="M422 364.1l2.4-9.5l-1.8-7.4l-2.4 1.9z"/><path color="#dfdaa6" d="M419.6 366.5l2.4-2.4l-1.8-15l-2.4 9.6z"/><path color="#bbc77e" d="M417.3 367.4l2.3-0.9l-1.8-7.8l-2.4 7.4z"/><path color="#aebf6c" d="M414.9 368.3l2.4-0.9l-1.9-1.3l-2.3 1z"/><path color="#acbe69" d="M412.5 369.2l2.4-0.9l-1.8-1.2l-2.4 0.9z"/><path color="#acbe68" d="M410.1 370.1l2.4-0.9l-1.8-1.2l-2.4 0.9zM407.8 371l2.3-0.9l-1.8-1.2l-2.4 0.9zM405.4 371.9l2.4-0.9l-1.9-1.2l-2.3 0.9zM403 372.8l2.4-0.9l-1.8-1.2l-2.4 0.9zM400.6 373.6l2.4-0.8l-1.8-1.2l-2.4 0.9zM398.2 374.5l2.4-0.9l-1.8-1.1l-2.4 0.9zM395.9 375.4l2.3-0.9l-1.8-1.1l-2.3 0.9zM495.1 339.9l2.4-0.9l-1.8-1.2l-2.4 0.9zM492.7 340.8l2.4-0.9l-1.8-1.2l-2.4 0.9zM490.4 341.7l2.3-0.9l-1.8-1.2l-2.3 0.9zM488 342.6l2.4-0.9l-1.8-1.2l-2.4 0.9zM485.6 343.5l2.4-0.9l-1.8-1.2l-2.4 0.9zM483.2 344.4l2.4-0.9l-1.8-1.2l-2.4 0.9zM480.9 345.3l2.3-0.9l-1.8-1.2l-2.4 0.9zM478.5 346.2l2.4-0.9l-1.9-1.2l-2.3 0.9z"/><path color="#adbe69" d="M476.1 347.1l2.4-0.9l-1.8-1.2l-2.4 0.9z"/><path color="#aebf6c" d="M473.7 348l2.4-0.9l-1.8-1.2l-2.4 0.9z"/><path color="#b4c476" d="M471.4 348.9l2.3-0.9l-1.8-1.2l-2.4-0.5z"/><path color="#c2cc87" d="M469 349.7l2.4-0.8l-1.9-2.6l-2.3-1z"/><path color="#d3d49a" d="M466.6 349.5l2.4 0.2l-1.8-4.4l-2.4-0.2z"/><path color="#dedaa6" d="M464.2 348.3l2.4 1.2l-1.8-4.4l-2.4 0.5z"/><path color="#e5ddad" d="M461.9 347l2.3 1.3l-1.8-2.7l-2.4 0.5z"/><path color="#e7dcab" d="M459.5 346.3l2.4 0.7l-1.9-0.9l-2.3 0.6z"/><path color="#e8daa4" d="M457.1 346.2l2.4 0.1l-1.8 0.4l-2.4 0.5z"/><path color="#e8d69b" d="M454.7 346l2.4 0.2l-1.8 1l-2.4 0.5z"/><path color="#e9d494" d="M452.3 345.8l2.4 0.2l-1.8 1.7l-2.4 0.3z"/><path color="#ecd28e" d="M450 345.3l2.3 0.5l-1.8 2.2l-2.3 0.3z"/><path color="#f0d28d" d="M447.6 344.8l2.4 0.5l-1.8 3l-2.4 0.1z"/><path color="#f5d695" d="M445.2 344l2.4 0.8l-1.8 3.6l-2.4-0.1z"/><path color="#fadb9c" d="M442.8 343.1l2.4 0.9l-1.8 4.3l-2.4-0.4z"/><path color="#fde0a2" d="M440.5 342.1l2.3 1l-1.8 4.8l-2.4-0.7z"/><path color="#fee5a5" d="M438.1 341.4l2.4 0.7l-1.9 5.1l-2.3-1z"/><path color="#fee8a3" d="M435.7 342.2l2.4-0.8l-1.8 4.8l-2.4-1.1z"/><path color="#fdeba9" d="M433.3 347.6l2.4-5.4l-1.8 2.9l-2.4-1z"/><path color="#fdeaad" d="M431 356.3l2.3-8.7l-1.8-3.5l-2.4-0.5z"/><path color="#f8e6b4" d="M428.6 363.9l2.4-7.6l-1.9-12.7l-2.3 1.9z"/><path color="#e3dba7" d="M426.2 365.9l2.4-2l-1.8-18.4l-2.4 9.1z"/><path color="#c4cc88" d="M423.8 366.8l2.4-0.9l-1.8-11.3l-2.4 9.5z"/><path color="#b0c06e" d="M421.4 367.7l2.4-0.9l-1.8-2.7l-2.4 2.4z"/><path color="#adbe69" d="M419.1 368.6l2.3-0.9l-1.8-1.2l-2.3 0.9z"/><path color="#acbe68" d="M416.7 369.4l2.4-0.8l-1.8-1.2l-2.4 0.9zM414.3 370.3l2.4-0.9l-1.8-1.1l-2.4 0.9zM411.9 371.2l2.4-0.9l-1.8-1.1l-2.4 0.9zM409.6 372.1l2.3-0.9l-1.8-1.1l-2.3 0.9zM407.2 373l2.4-0.9l-1.8-1.1l-2.4 0.9zM404.8 373.9l2.4-0.9l-1.8-1.1l-2.4 0.9zM402.4 374.8l2.4-0.9l-1.8-1.1l-2.4 0.8zM400.1 375.7l2.3-0.9l-1.8-1.2l-2.4 0.9zM397.7 376.6l2.4-0.9l-1.9-1.2l-2.3 0.9zM496.9 341.1l2.4-0.9l-1.8-1.2l-2.4 0.9zM494.6 342l2.3-0.9l-1.8-1.2l-2.4 0.9zM492.2 342.9l2.4-0.9l-1.9-1.2l-2.3 0.9zM489.8 343.8l2.4-0.9l-1.8-1.2l-2.4 0.9zM487.4 344.7l2.4-0.9l-1.8-1.2l-2.4 0.9zM485.1 345.6l2.3-0.9l-1.8-1.2l-2.4 0.9zM482.7 346.4l2.4-0.8l-1.9-1.2l-2.3 0.9zM480.3 347.3l2.4-0.9l-1.8-1.1l-2.4 0.9zM477.9 348.2l2.4-0.9l-1.8-1.1l-2.4 0.9zM475.6 349.1l2.3-0.9l-1.8-1.1l-2.4 0.9z"/><path color="#adbe69" d="M473.2 350l2.4-0.9l-1.9-1.1l-2.3 0.9z"/><path color="#aebf6c" d="M470.8 350.9l2.4-0.9l-1.8-1.1l-2.4 0.8z"/><path color="#b4c375" d="M468.4 351.8l2.4-0.9l-1.8-1.2l-2.4-0.2z"/><path color="#bfca84" d="M466 352.7l2.4-0.9l-1.8-2.3l-2.4-1.2z"/><path color="#cdd294" d="M463.7 353.5l2.3-0.8l-1.8-4.4l-2.3-1.3z"/><path color="#dbd8a1" d="M461.3 353.4l2.4 0.1l-1.8-6.5l-2.4-0.7z"/><path color="#e4daa6" d="M458.9 352.5l2.4 0.9l-1.8-7.1l-2.4-0.1z"/><path color="#ecdca9" d="M456.5 351.2l2.4 1.3l-1.8-6.3l-2.4-0.2z"/><path color="#f2ddab" d="M454.2 349.9l2.3 1.3l-1.8-5.2l-2.4-0.2z"/><path color="#f7deab" d="M451.8 348.9l2.4 1l-1.9-4.1l-2.3-0.5z"/><path color="#fbe0aa" d="M449.4 348.4l2.4 0.5l-1.8-3.6l-2.4-0.5z"/><path color="#fee3aa" d="M447 348.9l2.4-0.5l-1.8-3.6l-2.4-0.8z"/><path color="#fee6ac" d="M444.7 350.6l2.3-1.7l-1.8-4.9l-2.4-0.9z"/><path color="#fde8af" d="M442.3 353.8l2.4-3.2l-1.9-7.5l-2.3-1z"/><path color="#fbe7b0" d="M439.9 358.2l2.4-4.4l-1.8-11.7l-2.4-0.7z"/><path color="#f6e6b4" d="M437.5 362.5l2.4-4.3l-1.8-16.8l-2.4 0.8z"/><path color="#ebdfad" d="M435.1 364.4l2.4-1.9l-1.8-20.3l-2.4 5.4z"/><path color="#d4d498" d="M432.8 365.2l2.3-0.8l-1.8-16.8l-2.3 8.7z"/><path color="#bdc980" d="M430.4 366.1l2.4-0.9l-1.8-8.9l-2.4 7.6z"/><path color="#afc06d" d="M428 367l2.4-0.9l-1.8-2.2l-2.4 2z"/><path color="#adbe6a" d="M425.6 367.9l2.4-0.9l-1.8-1.1l-2.4 0.9z"/><path color="#acbe68" d="M423.3 368.8l2.3-0.9l-1.8-1.1l-2.4 0.9zM420.9 369.7l2.4-0.9l-1.9-1.1l-2.3 0.9zM418.5 370.6l2.4-0.9l-1.8-1.1l-2.4 0.8zM416.1 371.5l2.4-0.9l-1.8-1.2l-2.4 0.9zM413.8 372.4l2.3-0.9l-1.8-1.2l-2.4 0.9zM411.4 373.3l2.4-0.9l-1.9-1.2l-2.3 0.9zM409 374.2l2.4-0.9l-1.8-1.2l-2.4 0.9zM406.6 375.1l2.4-0.9l-1.8-1.2l-2.4 0.9zM404.3 376l2.3-0.9l-1.8-1.2l-2.4 0.9zM401.9 376.9l2.4-0.9l-1.9-1.2l-2.3 0.9zM399.5 377.8l2.4-0.9l-1.8-1.2l-2.4 0.9z"/></g><g font-size="7.8" fill="#3c3c3c"><text x="404.0" y="451.4" textLength="3.5" lengthAdjust="spacingAndGlyphs">0</text><text x="391.0" y="450.9" textLength="3.5" lengthAdjust="spacingAndGlyphs">0</text><text x="444.1" y="437.0" textLength="6.9" lengthAdjust="spacingAndGlyphs">50</text><text x="357.3" y="431.4" textLength="6.9" lengthAdjust="spacingAndGlyphs">50</text><text x="483.7" y="422.1" textLength="10.4" lengthAdjust="spacingAndGlyphs">100</text><text x="323.5" y="411.8" textLength="10.4" lengthAdjust="spacingAndGlyphs">100</text><text x="305.8" y="383.2" textLength="10.8" lengthAdjust="spacingAndGlyphs">-0.6</text><text x="305.8" y="365.1" textLength="10.8" lengthAdjust="spacingAndGlyphs">-0.4</text><text x="305.8" y="347.1" textLength="10.8" lengthAdjust="spacingAndGlyphs">-0.2</text><text x="313.1" y="329.1" textLength="3.5" lengthAdjust="spacingAndGlyphs">0</text><text x="307.9" y="311.0" textLength="8.7" lengthAdjust="spacingAndGlyphs">0.2</text><text x="307.9" y="293.0" textLength="8.7" lengthAdjust="spacingAndGlyphs">0.4</text></g></g><g clip-path="url(#row2b)"><linearGradient id="gf" x1="0" y1="0" x2="0" y2="1"><stop offset="0.000" stop-color="#f9fb0e"/><stop offset="0.048" stop-color="#f5e41d"/><stop offset="0.095" stop-color="#fad32a"/><stop offset="0.143" stop-color="#ffc337"/><stop offset="0.190" stop-color="#f1b94a"/><stop offset="0.238" stop-color="#d9ba56"/><stop offset="0.286" stop-color="#c0bc60"/><stop offset="0.333" stop-color="#a5be6b"/><stop offset="0.381" stop-color="#87bf77"/><stop offset="0.429" stop-color="#65be86"/><stop offset="0.476" stop-color="#42bb98"/><stop offset="0.524" stop-color="#25b5a9"/><stop offset="0.571" stop-color="#0faeb9"/><stop offset="0.619" stop-color="#06a7c6"/><stop offset="0.667" stop-color="#079ccf"/><stop offset="0.714" stop-color="#108ed2"/><stop offset="0.762" stop-color="#1481d6"/><stop offset="0.810" stop-color="#0d75dc"/><stop offset="0.857" stop-color="#0268e1"/><stop offset="0.905" stop-color="#2053d4"/><stop offset="0.952" stop-color="#353dad"/><stop offset="1.000" stop-color="#352a87"/><stop offset="1.000" stop-color="#352a87"/></linearGradient><rect x="521.1" y="243.5" width="12.9" height="196.8" fill="url(#gf)"/><rect x="521.4" y="243.8" width="12.3" height="196.2" fill="none" stroke="#555" stroke-width=".6"/><path d="M534.0 246.7h-2" stroke="#333" stroke-width=".7"/><path d="M534.0 266.9h-2" stroke="#333" stroke-width=".7"/><path d="M534.0 286.9h-2" stroke="#333" stroke-width=".7"/><path d="M534.0 306.7h-2" stroke="#333" stroke-width=".7"/><path d="M534.0 326.7h-2" stroke="#333" stroke-width=".7"/><path d="M534.0 346.7h-2" stroke="#333" stroke-width=".7"/><path d="M534.0 366.9h-2" stroke="#333" stroke-width=".7"/><path d="M534.0 386.7h-2" stroke="#333" stroke-width=".7"/><path d="M534.0 406.9h-2" stroke="#333" stroke-width=".7"/><path d="M534.0 426.7h-2" stroke="#333" stroke-width=".7"/><g font-size="7.2" fill="#444"><text x="536.6" y="249.2" textLength="8.2" lengthAdjust="spacingAndGlyphs">0.3</text><text x="536.6" y="269.4" textLength="8.2" lengthAdjust="spacingAndGlyphs">0.2</text><text x="536.6" y="289.4" textLength="8.2" lengthAdjust="spacingAndGlyphs">0.1</text><text x="536.6" y="309.2" textLength="3.3" lengthAdjust="spacingAndGlyphs">0</text><text x="536.2" y="329.2" textLength="10.2" lengthAdjust="spacingAndGlyphs">-0.1</text><text x="536.2" y="349.2" textLength="10.2" lengthAdjust="spacingAndGlyphs">-0.2</text><text x="536.2" y="369.4" textLength="10.2" lengthAdjust="spacingAndGlyphs">-0.3</text><text x="536.2" y="389.2" textLength="10.2" lengthAdjust="spacingAndGlyphs">-0.4</text><text x="536.2" y="409.4" textLength="10.2" lengthAdjust="spacingAndGlyphs">-0.5</text><text x="536.2" y="429.2" textLength="10.2" lengthAdjust="spacingAndGlyphs">-0.6</text></g></g>
<text class="cap" x="128.3" y="236.3" text-anchor="middle">(<tspan>c</tspan>)</text>
<text class="cap" x="425.6" y="236.6" text-anchor="middle">(<tspan>d</tspan>)</text>
<text class="cap" x="128.5" y="483.0" text-anchor="middle">(<tspan>e</tspan>)</text>
<text class="cap" x="425.2" y="483.0" text-anchor="middle">(<tspan>f</tspan>)</text>
</svg></body></html>
